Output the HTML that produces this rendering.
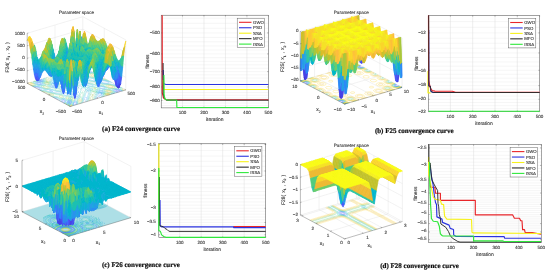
<!DOCTYPE html><html><head><meta charset="utf-8"><style>html,body{margin:0;padding:0;background:#fff}svg{display:block}text{stroke:#3a3a3a;stroke-width:.12px}.p0{fill:#3e26a8;stroke:#3e26a8}.p1{fill:#422ec0;stroke:#422ec0}.p2{fill:#4537d6;stroke:#4537d6}.p3{fill:#4742e6;stroke:#4742e6}.p4{fill:#484df1;stroke:#484df1}.p5{fill:#4759f8;stroke:#4759f8}.p6{fill:#4464fd;stroke:#4464fd}.p7{fill:#3d71ff;stroke:#3d71ff}.p8{fill:#317dfc;stroke:#317dfc}.p9{fill:#2d88f6;stroke:#2d88f6}.p10{fill:#2a93ed;stroke:#2a93ed}.p11{fill:#259de7;stroke:#259de7}.p12{fill:#1ea6e1;stroke:#1ea6e1}.p13{fill:#15afd9;stroke:#15afd9}.p14{fill:#05b6cd;stroke:#05b6cd}.p15{fill:#06bcc0;stroke:#06bcc0}.p16{fill:#1ec0b2;stroke:#1ec0b2}.p17{fill:#2fc5a3;stroke:#2fc5a3}.p18{fill:#3cc992;stroke:#3cc992}.p19{fill:#52cc7e;stroke:#52cc7e}.p20{fill:#6dcd68;stroke:#6dcd68}.p21{fill:#8bcb51;stroke:#8bcb51}.p22{fill:#a7c73c;stroke:#a7c73c}.p23{fill:#c2c22c;stroke:#c2c22c}.p24{fill:#dabd28;stroke:#dabd28}.p25{fill:#eeba34;stroke:#eeba34}.p26{fill:#fdbd3d;stroke:#fdbd3d}.p27{fill:#fec934;stroke:#fec934}.p28{fill:#fad52d;stroke:#fad52d}.p29{fill:#f5e227;stroke:#f5e227}.p30{fill:#f5ef20;stroke:#f5ef20}.p31{fill:#f9fb15;stroke:#f9fb15}</style></head><body><svg width="550" height="275" viewBox="0 0 550 275" font-family="Liberation Sans, sans-serif" text-rendering="geometricPrecision"><defs><filter id="bl" x="0" y="0" width="550" height="275" filterUnits="userSpaceOnUse"><feGaussianBlur stdDeviation="0.4"/></filter></defs><rect width="550" height="275" fill="#fff"/><g filter="url(#bl)"><g>
<path d="M27.2 83.3L82.8 66.7M82.8 66.7L125.8 89.9M82.8 66.7L82.8 16.7M27.2 33.3L82.8 16.7M82.8 16.7L125.8 39.9M125.8 89.9L125.8 39.9M98 98.2L55 75M55 75L55 25M48.7 94.9L104.3 78.3M104.3 78.3L104.3 28.3M27.2 70.8L82.8 54.2M82.8 54.2L125.8 77.4M27.2 58.3L82.8 41.7M82.8 41.7L125.8 64.9M27.2 45.8L82.8 29.2M82.8 29.2L125.8 52.4" stroke="#dedede" stroke-width="0.4" fill="none"/>
<g><path fill="none" stroke="#4743e7" stroke-width="0.35" opacity="0.8" d="M118.8 91.7l-1.1-.1-1.1-.4-.8-.5 1.1-.5 1.1 .2 .8 .2 1 .4-1 .7M74.9 103.9l0 0M90.4 70.8l-.9 .5-.8-.2-.5-.6 .2-.8 0 0M82.8 70l-.6-.4 0-.9 .5-.7 .9 .3-.2 1.1-.5 .5-.1 .1M79.4 69.5l0 0M79.7 69.2l0 0M79.9 68.9l0 0M80.1 68.5l0 0M80.2 68.1l0 0M77.4 68.3l-.7 .7-.4-.4M80.3 67.5l-.4 .1"/><path fill="none" stroke="#4367fd" stroke-width="0.35" opacity="0.8" d="M74.4 105l-.6-.7 .1-.9 .3-.8 .8-.5 .7 .2 .3 .7-.1 1-.5 .6-1 .4M118.4 92.1l-.9-.2-1.1-.3-1-.4-.7-.5 .6-.9 1.2 0 1 .1 1.4 .3 1.1 .3 .9 .5 .3 .3M70.1 103.7l-.4-.7 .2-.7 .4-.8 .5 .5-.2 .8-.5 .8 0 .1M67.7 103.3l0 0M68 103l-.4-.7 .2-.8 .7-.3-.1 1.1-.4 .7M119.4 86.5l-.7-.2-1.1-.4-1-.5-.8-.5-.4-.5 0-.1M68.5 100.9l0 0M63.7 102.1l-1-.2-.3-.6 .2-.8 .9-.4 .8 .2 .2 .8-.4 .7-.4 .3M55.8 98.7l.6 .4M91.2 71.2l-.8 .5-.8 .2-1-.1-.8-.5-.3-.6 .1-1 .2-.3M74.5 75.7l0 0M34.8 87.4l1-.2 1.1 .1 1.4 .3 1 .4 .6 .5-.4 .5-1.4 0-.3 0M74.6 75.3l0 0M40.1 84.2l-1.1-.1-1.2-.4-.9-.4 .5-.6 .9 .1 1 .1 1.1 .4 .7 .5-1 .4M67.7 74.8l-.4-.6 .3-.8 1 .1 0 .9-.9 .4M41.6 81.3l-1.4-.1-1.4-.3-.8-.5 1.1 .1 1.5 .3 1 .4 0 .1M79.4 70l0 0M83.7 67.2l.3 .9 0 1.1-.4 .7-.7 .6-.9 0-.2-1 .2-.9 .3-.7 .6-.7 .7-.1M40.4 79.3l1.2 .4-.9 .3-.8-.1-.6-.2M77.8 68.2l-.4 .7-.6 .6-.9-.4 0-.3M80.6 67.4l-.2 .8-.2 .7-.5 .8-.4-.5 .2-.8 .3-.8"/><path fill="none" stroke="#2d8cf3" stroke-width="0.35" opacity="0.8" d="M73.8 105.4l-.3-.6-.2-.8 .2-.9 .3-.7 .6-.6 .9-.5 .9 .5 .3 .7 .1 .9-.3 .8-.4 .6M96.6 98.6l.2-1 .5-.6 1-.5 .9 0 .7 .4 .5 .6M112.6 93.8l.8-.3 .5 0M117.7 92.3l-1.3-.3-1.1-.4-.9-.5-.7-.5-.5-.5 .7-.5 1.5-.2 1.1 0 1 .1 1 .2 1 .3 1 .4 1 .4 .4 .3M85.4 100.2l-.8-.2-.4-.6-.1-.8 .3-.8 .7-.5 .9-.2 .6 .5 .2 1.1-.3 .7-.7 .6-.4 .2M100 95.6l-1-.2-.8-.5-.5-.6 .8-.5 1 .1 1.2 .3 1 .4-.3 .8-1.4 .2M69.8 104.4l-.4-.6 .2-.9 .2-.8 .3-.8 .6-.6 .4 .7 0 .9-.3 .8-.4 .7-.6 .6M67.7 103.8l-.5-.7 0-1 .3-.8 .5-.6 .8-.3 .1 1.1-.2 .8-.4 .8-.6 .7M102.2 93.5l-1.1-.1-.9-.2-1.2-.3-.5-.5 1.1 .1 1 .2 1.2 .4 .4 .4M120.4 87l-1.2-.2-1.2-.3-.8-.3-.8-.3-.9-.5-.8-.5-.8-.4-.6-.6 .6-.4M102.1 92l-1.1-.1-1.3-.3-1-.5 .7-.5 .9 0 .9 .2 1.2 .3 .8 .5-1.1 .4M77 97.6l-.6-.5 .4-1 .9 .2-.3 1.1-.4 .2M62 102.1l-.3-.6-.1-1 .6-.6 1-.4 1.2 .1 .5 .5 .2 .7-.1 .8-.7 .8-.9 .4M103.6 88.6l-.9 0-1-.1-1.2-.4-.8-.5-.4-.6 .7-.3 1.5 0 .8 .1 1 .3 .8 .3 .8 .5-.5 .7-.8 0M72.6 95.7l0 0M70.3 95.4l0 0M70.3 94.9l0 0M108.9 83.1l-1.5 .2-1.5-.1-.9-.1-1.5-.2-1.2-.4-1.1-.4-1-.4-1.1-.4-1-.3-1-.2-1.5-.3-1.3-.3-.6-.5 .7-.3 1.1 .1 .8 .1 1.3 .3 1.3 .4 1.7 .2 .9 .1 .9 .1 .8 .1 .9 .1 1.1 .2 .9 .3 .9 .2 .8 .3 .9 .5 .5 .4-.3 .3M54.1 97.8l1 .1 1 .2 1 .4 .7 .5 .3 .7-.1 .2M52.8 91.5l-1.4 .1-.8-.2-1.2-.3 .5-.7 1 .1 .9 .2 .9 .5 .1 .3M87.6 79.1l-.9-.1-.9-.2-.5-.5 .2-.8 .8-.3 1 .1 .8 .4 .6 .6-.4 .7-.7 .1M53.5 86.8l-1.1-.1-.8-.5 1.4-.2 1 .5-.5 .3M80.2 77.9l-.6-.3-.1-.9 .5-.8 .7-.3 .6 .5 0 1-.6 .6-.5 .2M54.5 84l-1.2-.1-.6-.4 .9 .1 .8 .2 .1 .2M77.2 77.2l0 0M77.5 76.9l-.5-.5 .3-.9 .6 .6-.4 .8M54.9 82.9l-1.2-.2 .6-.3 .6 .5M74.1 76.9l-.5-.6 0-1 .5-.7 .7-.6 .6 .7-.1 1-.4 .7-.8 .5M92 71.7l-1 .4-1.2 .3-1.5-.1-.7-.5-.5-.6-.2-.7 .2-1 .3-.3M77.9 75.2l0 0M33.8 86.9l1.3-.2 1 0 1.1 .1 1.4 .3 1 .4 .9 .5 .8 .5 .5 .5-.5 .5-1.5 .1-.9 0M41.6 84.6l-1.6 0-1-.1-.7-.2-1.2-.4-.9-.4-.7-.5 .4-.6 1.6-.1 1 .1 .8 .2 1.3 .3 .9 .4 .8 .5-.7 .8M55 80.6l-.8-.3 .3-.9 .7-.5 .6 .5-.1 1.1-.7 .1M67.9 75.9l-.9-.2-.4-.5-.2-.7 .2-1.1 .5-.6 .9-.6 .9 .1 .4 .6 .3 1-.2 .8-.6 .7-.9 .5M79.4 70.4l0 0M84.2 67.5l.2 .9 0 1-.5 .7-.6 .6-.8 .5-.7-.2-.3-.7 0-1 .2-.8 .4-.8 .5-.6 .3-.3M37.8 80.1l.9 .1 .8 .2 1.4 .3 1 .3 1 .5-1.5 .1-1-.1-1.4-.3-1.2-.4-.9-.4M41.1 79.1l1 .5 .9 .4-1.1 .3-.9 0-.7-.2-1.3-.3M58.7 73.9l-.5 .5-.6 .5-.3 .9-.1 .9-.2 .8-.6 .6-.9 .4-.3-.6-.2-.8 .3-1 .4-.7 .2-.7M78.1 68.1l-.4 .8-.6 .8-.8 .5-.6-.7-.2-.6M80.7 67.3l-.2 1-.2 .8-.4 .6-.8 .3 .1-1 .2-.9 .2-.4"/><path fill="none" stroke="#1caadf" stroke-width="0.35" opacity="0.8" d="M73.3 105.6l-.2-.8-.1-.9 .1-1 .3-.6 .4-.5 .6-.5 .7-.5 .7-.3 .6 .5 .3 .6 .2 .7 .2 .9-.2 .9-.3 .5M81.8 103l.6-.5 .6-.5 .5-.9-.1-1-.2-1 0-1 .3-.6 .4-.5 .5-.5 .4-.5 .4-.8 .1-1 .3-.6 .5-.9 0-.9 .7-.6 .9 .1 1 .3 .6 .5-.4 .7-.7 .6 .1 .9-.2 .9-.3 .8-.1 .8 0 1 0 .9-.3 .8-.5 .7-.5 .6-.6 .6-.1 .5M95.4 99l.2-.7 .2-.8 .4-.8 .6-.5 .5-.7-.4-.9-.3-.7 1.2-.5 1.2-.2-1-.4-.9-.5 1-.1 1 .1 1.2 .1 .8 .2 1.1 .4 1 .4-1 .3-1.2 0 .8 .5 .8 .5 .5 .6-1 .5-.8 .3-.2 .8 .2 .3M112 94l-.4-.6 1.3-.2 1.7 0 .3 0M116.8 92.6l-1.1-.4-.9-.5-.9-.4-.8-.5-.7-.5-.5-.5 .7-.5 1.3-.2 1.4 0 1.2 0 1 0 .7 .2 1.3 .3 1.1 .4 .9 .5 .9 .4M69.8 104.9l-.6-.3 .1-.9 .1-.9 .2-.8 .4-.8 .4-.6 .8-.5 .2 1 .1 1-.3 .8-.3 .7-.5 .7-.5 .5-.1 .1M67.4 104.5l0 0M67.7 104.2l-.7-.4-.1-1 0-.9 .3-.8 .5-.6 .7-.6 .8 .4-.1 .9-.2 .9-.3 .7-.3 .7-.6 .7M121.2 87.4l-.9 0-1.2-.2-1.2-.3-.9-.4-.7-.3-.9-.4-1-.4-.9-.5-1-.4-1.2-.3-.8-.2-.9-.1-1 0-1-.1-.9 0-1-.1-1-.1-.9-.1-1.3-.3-1.1-.4-1.2-.4-1-.3-.8-.2-.8-.2-1.3-.3-.8-.1-1.4-.3-1.3-.4-1.1-.3-1.3-.4-.9-.1-1 0-1.2 0-.9-.1-1.2-.4-.7-.5-.5-.6 .2-.9 .7-.4 .7-.3 1.5-.1 .8 .2 .8 .5 .8 .5 .9 .4 1.2 .3 1 .1 .9 .1 1 0 1.1 .1 .8 .2 1.4 .3 1.3 .3 .9 .2 1.2 .2 .8 .2 .8 .1 .8 .1 .8 .1 1.4 .3 .8 .2 1 .4 1.2 .3 1.1 .4 1.2 .4 1.3 .3M103.5 92.3l-1.5 0-1 0-.8-.2-1.1-.4-.8-.3-.6-.3-.5-.6 .7-.3 1.6 0 1 0 .8 .2 .7 .2 1 .4 .9 .4 .7 .5-1.1 .4M76.6 98.8l-.6-.5-.3-.6-.2-.9 .3-.8 .5-.6 .9-.5 1 .2 .3 .6 .2 .9-.3 .8-.5 .7-.8 .5-.5 .2M104.4 89.1l-1.3 0-1-.1-1.3-.3-1.1-.4-.8-.4-.9-.5-.6-.5 .8-.7 1.6-.1 .9 0 1.1 .1 .8 .2 1.2 .3 1 .5 .9 .4 .8 .5-.6 .8-1.5 .2M60.9 101.5l-.5-.7-.6-.4-.6 .1M71.8 97.1l-.1-1 .2-.8 .3-.6 .9-.2 .2 1-.3 .8-.6 .7-.6 .1M70 96.6l-.6-.7 0-1 .4-.5 .6-.4 .6 .4-.1 .8-.3 .7-.6 .7M89.5 90.8l-1 0-1-.3-.9-.3 1.2-.1 .8 .1 1.1 .4-.2 .2M90.3 89.4l-1.3 0-.8-.2-1-.4 .7-.7 1 .1 .8 .2 .9 .5-.3 .5M78.1 92.6l.2-.9 .7 .3-.9 .6M93.4 85.9l-1.4 .2-.9 0-1.2-.2-.8-.2-1-.4-.9-.4-1-.5-1.2-.2-1.1-.2-.7-.3 1.3-.2 1.2 .4 1.6 .2 1 0 1 .1 .8 .1 .8 .2 1.2 .3 .9 .5 .4 .6 0 0M53 97.2l.9 0 1 .1 .9 .2 1.3 .3 .8 .5 .7 .5 .6 .5 .7 .5 1.1-.1 1-.4 1.1-.4 1.2 0 .8 .5 .3 .6 .3 .6-.2 1-.5 .7-.7 .5-.4 .3M63.3 88.8l-.9-.2 .8-.3 .6 .3-.5 .2M78.8 83.2l-.9-.3 .3-1 1 .3 .1 .8-.5 .2M64.3 86.1l-.6-.3 .6 .3M75.3 82.7l0 0M75.7 82.4l-.4-.5 .6-.5-.2 1M64.7 84.9l-.7-.3 .7 .3M54.8 87.5l-1.6-.1-1.4-.3-.9-.3-.9-.5-.4-.7 1.3-.3 .9 0 1 .1 1.3 .3 1 .4 .8 .5-.3 .8-.8 .1M72.7 82.2l-.8-.3 0-1 .6-.6 1 .4-.1 1-.7 .5M75.9 81.1l0 0M79.7 78.5l-.6-.6-.1-1 .3-.9 .6-.6 .5-.4 .9 .1 .4 .6 .3 .6 .2 .8-.4 .7-.9 .5-1.2 .2M56.2 84.5l-1.7 0-1.4-.3-1.1-.4-.8-.4 .7-.3 1 .1 .8 .1 .8 .1 1.1 .4 .8 .5-.2 .2M76.9 78l0 0M77.3 77.7l-.6-.3 .1-.9 .2-.8 .4-.7 .8-.4 0 1-.2 .8-.4 .9-.3 .4M73.8 77.7l-.5-.6-.3-.8 0-.9 .4-.7 .5-.7 .7-.5 .7-.2 .4 .6 .1 1-.1 1-.4 .7-.6 .7-.9 .4M93 72.2l-1.3 .2-1.1 .3-1.5 .2-1.1-.2-.7-.5-.5-.5-.4-.7-.3-1 .5-.8 .3-.3M42.3 84.9l-1.5 .1-1 0-.9-.1-.7-.2-1.1-.4-1-.4-.9-.5-.7-.5 .9-.8 1.5-.1 .9 0 .9 .1 1.3 .2 1.1 .4 1 .5 .8 .5 .7 .5-.6 .6-.7 .1M78.1 74.4l0 0M33 86.4l1.5-.1 1.8 0 1 .1 .8 .1 1.2 .4 1 .4 .9 .5 .9 .4 .9 .5 .9 .4 1.1 .4 .8 .1 .9 0 .9 0 1.7 0 1 .1 .9 .1 1.3 .4 .9 .2 .8 .3 1.1 .4 1.2 .4 .8 .1 1.3 .3 .9 .1 1.2 .4 .9 .4 .9 .5 1.2-.1 1.5-.1 1 .1 .8 .4 .4 .7-.4 .7-.8 .4-.9 .1-.7-.3-.7-.5-.6-.6-.7-.5-1 0-1.3 .1-.9 0-1-.1-1-.2-1.3-.3-.7-.2-1.4-.2-.9-.2-.9-.1-1.5-.2-.7-.2-1.2-.3-1.2-.4-1-.5-1-.4-1.3-.3-1.1 0-1.3 0-1.2 0-.9 0M79 71.2l0 0M84.7 67.7l.2 .9 0 1.1-.6 .6-.7 .6-.6 .4-1.3 .4-.3-.6-.2-1 0-1 .3-.8 .3-.6 .6-.7 .2-.2M38.2 80l.3-.1M44.7 78.1l-.6 .4-1.1 .3 .1 .8 .8 .5-.4 .5-1.2 0 .6 .5 1 .5-1.1 .3-.9 0-.9 0-1-.1-1-.2-1-.4-1-.5-.5-.2M60.1 73.5l-.5 .5-.7 .8-.3 .7-.2 .9-.1 .9-.2 .7-.4 .8-.3 .8-.1 .8-.4 .7-1 .5 .3 1 .4 .6-1 .1-1-.1-1-.2-.7-.3-.9-.3 .9-.6 .8-.3-.4-.6-.4-.5-.3-.6 .4-.8 .5-.6 .3-.8 .1-.9 .2-.8 .3-.7M69.2 70.8l.3 .8 .3 .8 .3 1 .1 .9-.3 .8-.6 .6-.7 .6-.7 .5-.7 .6 .2 1 .2 .8 0 1.1-.6 .7-.7 .5-.6 .7-.3 .8-.7-.4 .2-.8-.2-1.1-.1-1 .3-.7 .6-.6 .7-.6 .3-.8-.3-.7-.3-.9-.2-.7 0-.9 .3-.7 .7-.7 .6-.5 .8-.6 .4-.3M78.4 68l-.3 .8-.5 .7-.5 .6-.6 .6-1-.4-.3-1 0-.3M80.9 67.3l-.2 1.1-.3 .7-.4 .8-.4 .6-.7 .3 0-1.1 .1-.8 .2-.8 .2-.4"/><path fill="none" stroke="#12beb9" stroke-width="0.35" opacity="0.8" d="M72.9 105.7l-.2-1-.2-1.1 .1-.9 .5-.7 .5-.5 .5-.5 .5-.5 .4-.5 .4-.8-.2-1-.2-.7-.2-1 .3-.8 .5-.5 .5-.4 .6-.7 .2-.7-.2-1.1 0-.9 .5-.7 .4-.7 .2-.8-.2-1.1 1.4-.2-.7-.7-1.4-.4-.8-.1-1.5-.2-.8 .2-.2-1 .6-.8 .6-.3 .4 .6 1 .3 1.5 0 .8 .3 1.1 .2 .8 .1 .8 .2 1.1 .4 .9 .4 .9 .3 1 .1 1.6 0 .9-.1 .9 .1 1.1 .2 .9 .4 1 .5 .8 .5 .3 .6-1.4 .2-1.4 .1 .9 .6 .3 .6-1.2 .2 .7 .7-.3 1-.6 .6-.2 .8-.1 .9-.4 .7-.2 .8-.1 .9-.1 .9-.2 .8-.5 .7-.5 .6-.5 .7-.1 .1M80.7 103.4l.6-.6 .6-.5 .6-.8 .2-.8-.1-1-.1-.8 0-1.1 .4-.8 .5-.6 .5-.7 .2-.8 .1-.9 .2-.8 .4-.7-.1-1 .5-.6 .6-.6-.9-.5 1-.3 .8-.2-.8-.5-.8-.4-.7-.4-1.2-.2-.9 .1-1.5 .1 .7 .7-.7 .7 .2 .9-.3 .8-.2 .8-.2 .8-.6 .8-.4 .6-.1 .9 .2 .8 0 1.1-.4 .8-.5 .6-.6 .5-.5 .5-.4 .6 0 1 .3 1 .3 1-.1 1-.2 .5M94.4 99.3l.3-.8 .2-.8 .2-.8 .6-.9 .5-.6-.3-.9-.3-.6 .9-.7 .8-.2-.7-.5-.8-.5 .9-.1 .9 0-.4-.7-.9-.4-.7-.5 .8-.4 1.6-.1 1.5-.1 .7-.4-.8-.5-.8-.5-.9-.5-.9-.4-1.1-.4-1.6-.2-1-.1-1.3 0-1.2 0-.9-.1-1.3-.3-1-.4-.7-.3-1-.3-1.5-.3-1.5-.2-.7-.2-1.2-.4-1.2-.1-1.7 0-.7-.4-.5-.7-.9 .2-.5 .4-.5-.4-.2-.7-.8-.1-.5 .5-.5 .5-.2 .7 .2 .7-.3 1-.3 .6-.4 .5 .7 .5 1.1 .1 .5-.5 1.1 .3 .9 .5-.5 .5-.5 .8-.1 .8 .1 1.1-.4 .7-.6 .6-1 .4 0-1-.3-.7-.8 .5-.9 .3-.4-.6-.7-.5-1-.1-1.3 .1-.8-.2-1-.3-.8-.2-1.6-.3-1.5-.2-1.1-.4-1.1-.4-.6-.3-1.1-.3-.9-.1-1.2 0-1 0-.9 0-1 0-1-.2-1.1-.4-.9-.5-.9-.4-.9-.5-.7-.5 1-.4 1.5-.2 1.5-.1-.2-.8-.8-.5-.8-.5 .7-.2 .9 .1-.3-.6-.8-.5 .8-.2 1-.3-.2-1-.3-.6 .3-.8 .6-.6 .3-.8 .2-.8 .2-.8 .1-.4M111.6 94.1l-.8-.4 .9-.7 1.5-.1 1.4-.2-.3-.8-.8-.5-.9-.4-.8-.5-.9-.5-1-.4-1.5-.3-.9 0-1.6 .1-1.5 .1-1.5 .1-.6 .5 .8 .5 .8 .4 .9 .5 .8 .5-.7 .6-1.5 0-.8 .1 .9 .6 1.1 .4-.7 .2-.9 0 .5 .9 .6 .5-.8 .6-1 .4-.2 .7M69.2 106l.1 0M66.9 104.7l-.2-.8-.2-1-.4-.6-.7 .2-.7 .6-.4 .2M121.9 87.8l-1.2 0-1.1 0-.8-.1-1.2-.4-.9-.4-1-.5-.9-.4-1-.5-1-.4-1.2-.3-.9-.2-1.2-.2-1-.1-.9 0-1-.1-.9 0-1-.1-1.2-.2-1.3-.3-1.1-.4-1.1-.4-1.2-.3-1-.3-1.1-.2-1.5-.2-.8-.2-1.4-.3-1.3-.3-1.1-.3-1-.2-.9-.1-1 0-1-.1-.8-.1-1.1-.4-.8-.5-.7-.5-1.1-.3-1.1 .3-1 .4-.8 .1-.4-.6-.3-.7-.5-.8-.6 .6-.5 .7-.6-.3 0-.9-.4-.8-.6 .6-.5 .6-.5 .5-.4 .5-.1 .9 .2 .9 .2 1 .7-.2 .5-.5 .4-.6 .6 .6 .5 1 .8-.6 .9-.4 .7 .2 .6 .6 .7 .5 .9 .3 .9 0 1.8 .1 1.4 .3 1.2 .3 .7 .2 1.3 .2 1 .2 1.5 .3 1.2 .3 1.1 .4 1.1 .4 1.1 .3 1 .2 1 0 1 0 .9 .1 .9 0 1.1 .1 1 .2 1.2 .3 1 .4 .9 .5 .9 .4 .9 .5 1 .4 1.2 .4 1.1 0 1.4-.1 1 0 1.6-.1 1.6 0 1 0 .9 .1 1.2 .4 .9 .4 .9 .5 .9 .5 .4 .2M68.7 103l0 0M68.9 102.6l0 0M69.2 101.8l0 0M69.3 101.4l0 0M71.7 98.5l0 0M69.2 99l0 0M69.5 97.7l0 0M71 95.8l0 0M71.3 95l0 0M73.5 92.9l0 0M51.7 96.5l.8 .1 1 .1 1 .1 .9 .1 1.4 .3 1 .4 .9 .5 .8 .4 .9 .4 1.5-.1 1.1-.4 1.2-.2 .9 .4 .5 .6 .3 .6 .4 .7 1.1-.2 .6-.6 .7-.5 .7 .3-.1 .9 .4 .7 .5-.6 .4-.6 .6-.8 .4 .7 .1 .8 .1 1.1 0 1-.4 .7-.6 .7-.4 .6-.6 .6-.8 .5 .1-1.1 0-1.1-.9 .2-.5 .9-.3 .3M74.8 84.3l0 0M74.9 83.9l0 0M74.3 81.9l0 0M98.1 74.9l-1-.2-.9-.5-.9-.4-.9-.5-.7-.3-1.2-.2-1.4 .2-1.3 .3-1.5 .1-1-.5-.5-.5-.5-.6-.4-.6-.7-.5-.8 .1-.8 .5-.7 .6-.6 .3-.7 .3-.4-.7-.2-.9-.1-1-.9 .4-.4 .6-.9 .3 .1-1.1-.1-1-.9 .5-.5 .7-.5 .6-.5 .6-.4 .8 0 1 .2 .8 .1 1 1-.2 .5-.7 .7-.4 .1 1 .2 1 .8-.5 .6-.6 .7-.6 .7 .2 .4 .6 .3 .6 .4 .6 1 .5 .8-.2 1.1-.3 1.3-.3 1.1 .2 .8 .5 .8 .4 .9 .5 1.2 .4 1.7 .2 1 0 .9 .1 .9 .1 1.4 .3 1.3 .4 1 .2 1 .3 1.5 .2 1.5 .3 1.3 .2 .9 .2 1.2 .4 1.2 .3 1.2 .4 1.1 .4M76.2 79.9l0 0M76.2 79.5l0 0M76.4 79.1l0 0M76.7 78.8l0 0M76.1 76.3l0 0M76.3 75.9l0 0M78.4 73.6l0 0M78.3 73.1l0 0M78.5 72.3l0 0M32.3 86.1l1.6-.1 1.4-.1 1 0 1.6 0 1.2 .3 1 .5 .9 .4 .8 .5 1 .4 1 .4 1.2 .4 1.4 .2 1 .1 .9 0 .9 0 .9 .1 1.1 0 1.2 .3 1.2 .3 1 .4 1.2 .4 1 .3 1.1 .2 1.4 .2 .9 .2 1.3 .3 1 .3 1 .2 1 .1 1.1 0 .9 .1 .9 .4 .7 .5 .7 .6 .9-.3 .8-.5 .8 .4 .1 1 .9-.5 .4-.6 .8-.2 .2 1 .2 1-.1 .8-.7 .8-.6 .6-.5 .5-.6-.5 0-1.1-1 .3-.6 .7-.6-.3-.3-1-.5-.6-1 .1-1 .5-1.4 .1-.7-.3-.6-.4-.7-.5-1.1-.4-.8-.2-1 0-1.1-.1-.9-.1-1.4-.3-1.2-.3-1-.2-1.1-.3-1.5-.2-.8-.2-1.4-.2-.7-.2-1.2-.4-.9-.3-.8-.3-1.2-.3-1.4-.3-.9-.1-1.1 0-.9-.1M78.7 72l0 0M79 71.6l0 0M85.2 68l.7 .6 .4 0M78.5 68.7l0 0M78.7 68.3l0 0M45.7 77.8l-.5 .8-1 .4-.5 .4 .6 .6 .8 .5-.9 .3-.9 0 .9 .7 .9 .4-.7 .2-1.2 .1-1.3 .2 .7 .6 .8 .5 .9 .5 .8 .4 .6 .5-1.2 .3-1.5 .1-.9 0-1.5 .1-1.3 .1-.9-.1-1-.4-.9-.5-.9-.5-.9-.4-.8-.5-.8-.5 .3-.6 1-.1 1.2-.1 1.5-.2-.5-.7-.5-.3M61.1 73.2l-.5 .6-.5 .7-.5 .6-.3 .8-.1 .9-.1 .9-.2 .8-.3 .8-.2 .8-.1 .9-.6 .6-.6 .6 .4 .7 .4 .6-1.5 .1 .6 .5 .9 .5-1 .3-1.5 .1 .5 .9 .8 .5 .9 .4 .9 .3 1.2 .2 1.2 0 1.3 0 1.2 0 1.2 .3 .9 .5 1.1 .4 1.6 .2 .8 .1 1.1 .4 .8 .2 1-.2 .7 .4 .3 .7 .8-.5 .4-.7-.3-1-.8 .3-.8-.2-.9-.2-1.2-.2-1.1-.4-.6-.5 1.5-.2-.1-.9 .3-.8 .3-.8 .5-.6 .2-.8-.2-1 .1-1 .5-.6 .6-.6 .6-.5 .2-.8-.2-1-.2-.8-.1-.9 .3-.8 .4-.5 .5-.5 .6-.6 .5-.5 .5-.8 0-.9-.1-.9-.2-1M70.5 70.4l-.3 .7 0 .9 .3 .9 .2 .8 .1 .9-.4 .8-.5 .6-.6 .5-.5 .5-.4 .6-.1 .9 .2 .8 .1 1-.4 .9-.6 .6-.3 .7-.1 .9-.3 .7 0 1-.9 .5 .7 .7 .6 .4-1.4 .2-.9 0-.9 0-1-.3-.8-.4-.9-.5 .4-.5 .9-.3-.7-.5 .7-.6 .3-.7 .1-1 .3-.7 .2-.8 .1-.9 .2-.8 .5-.6 .6-.7 .3-.6 0-1.1-.2-1-.1-1 .4-.8 .5-.6 .6-.6 .5-.5M78.8 67.9l.2-.1M81 67.2l.3 .7 .5-.5 .4-.5"/><path fill="none" stroke="#48cb86" stroke-width="0.35" opacity="0.8" d="M72.6 105.8l-.2-.9-.3-.8-1 .1-.6 .6-.5 .7-.4 .7M79.2 103.8l.7-.5 .7-.5 .6-.6 .5-.6 .4-.8-.1-1-.2-.7-.3-.7-.3-.9 .5-.6 .5-.5 .5-.5 .4-.6 0-.9-.2-1.1 .1-.9-.4-.7-.5 .7-.4 .7-.6 .4-.5 .4-.4 .6-.1 1.1 .3 .7 .2 .9-.5 .6-.8 .6-.7 .5-.6 .6-.4 .8 .1 .9 .2 .8 .2 .7 .3 .6 .1 .7M93.3 99.6l.4-.8 .2-.8 .1-1 .3-.8 .6-.6 .2-.8-.4-.7-.5-.5 .6-.6 1.1-.1-.7-.7-1-.4-.8-.2-.9-.1-.9 0 .3 .9-.4 .9-.8 .5-.3 .8-.1 .8-.3 .8-.4 .7-.2 .9 0 .9-.2 .7-.5 .8-.6 .6-.4 .5M109.1 94.9l.3-.1M111.3 94.2l-1-.4-1-.4-.9-.3-1.1-.2-1.1 0-1.2 0-1.2 .1 .6 .4 1 .4 .9 .5-.8-.1-1.1-.1-.9 .1 .8 .7 .8 .5-.7 .7-1 .3-.3 .3M68.8 105.7l.1-.8 0-.9-.7 .2-.3 .6-.2 .3M111.6 92.7l1.1-.1 .9-.4-.7-.6-.8-.5-.9-.4-1-.5-1.3-.3-.9-.1-1.1 0-1.1 0-1.4 .2 .1 .8 .8 .5 .9 .5 .9 .4 1.2 .4 .8 .1 1.1 0 1 0 .4 0M122.6 88.2l-1.1 .1-.9 .2 .3 .7 .7 .5 .8 .5 .9 .5M66.5 104.5l-.1-.8-.4-.6-1 .2-.4 .2M68.4 103.8l0 0M72.5 101.5l.8-.3 .5-.5 .5-.5 .4-.6 .1-.9-.2-.7-.3-.7-.9 0-.5 .4-.5 .6-.4 .8 0 .9 .1 .9 .4 .6M116 88.1l.7-.3-.8-.7-.8-.5-.9-.4-1-.5-1-.4-1.4-.3-1.4-.2-1-.1-.9 0-.9 0-1.7 0-1.4 0-.8-.2-1.1-.4-.9-.4-.7-.2-.9-.4-1.2-.3-.8-.2-1.6-.2-.8-.2-.8-.1-.9-.1-1.3-.3-1.3-.3-1.5-.3-1.1 0-1.5 .1-1.1-.1-.7-.5-.7-.5-.7-.5-1.2-.3-1 .3-.5 .7 .2 .7 .8 .5 .7 .2 1.5-.1 1.5-.1 1.1 .4 .9 .4 1.2 .4 1.4 .3 .8 .1 .8 .2 1.2 .3 1.1 .4 1.1 .4 1.2 .4 .9 .2 1.1 .1 .9 0 .9 0 1.1 0 1.2 0 .8 .1 1.1 .4 .9 .5 .9 .4 .9 .5 .9 .4 1 .5 1.2 .3 .7 .2 1 0 1.2 0 .9 0 1.5-.1 1-.2M69.5 100.6l0 0M69.6 100.2l.7-.2 .4-.7 .3-.8 .1-.8-.1-.8-.7 .4-.3 .6-.3 .8-.1 .9 0 .6M95.9 91.6l.8-.1-.9-.6-1.1-.4-.9-.2-1.1-.1-1.4 .2 .9 .5 1.1 .4 .9 .2 1.1 .1 .6 0M67 99.9l.7-.3 .6-.7 .4-.6 .1-.9-.3-.8-.9-.4-1 .4-.8 .5-.2 .7 .2 .7 .3 .7 .9 .7M97.6 89.3l.6-.3-.8-.7-.9-.5-1.1-.3-.8-.2-1 0-1.1 0-.9 .5 .7 .6 .9 .4 1 .4 .8 .2 1 0 1.2 0 .4-.1M74.9 94.6l.8-.5 .3-.8-.3-.7-.9 .1-.5 .6 .1 1 .5 .3M71.7 93.4l0 0M83.1 90l0 0M71.8 93.1l.7-.3-.7 .3M84.3 89l0 0M72.1 92.2l0 0M68.9 92.8l.8-.1 .3-.6-.6-.5-1 .3 .5 .9M85 86.6l.8-.1-.9-.5-.8 .1 .9 .5M64.4 91.3l-.6-.5-.8-.2-1-.1-1-.4-.9-.4-.9-.5-1.2-.3-.9-.2-1 0-1.4 .1 .5 .9 1 .4 .7 .2 .8 .1 .8 .1 1 .1 1 .1 .9 0 1.3 .4 1 .2 .7 0M50 95.6l1.4 .3 1.2 .2 1.1 .1 .9 0 .9 .1 1.3 .2 1 .4 .8 .4 .8 .5 1.1 .4 1.1 .1 .8-.2 .9-.4 .5-.5-.3-1-.6-.5-.9-.5-.9-.2-1 0-.9 0-.9-.1-.9-.1-1.3-.3-1-.3-.8-.3-.9-.2-1.1-.2-.8-.2-1.5-.2-1.3-.4-1.2-.3-1.1-.4-1.1-.4-1.4-.3-1.4-.2-1-.1M99.4 75.7l-1.1-.2-.9-.2-1-.4-.9-.4-.9-.5-1-.4-1-.2-1.5 .1-1.2 .3-1.1 .4-1.1 0-.5-.5-.5-.6-.4-.6-.5-.6-.7-.5-1.1 .2-.8 .5-.6 .6-.4 .6 0 1 .3 .8 .5 .5 1.3 .3 1.1-.3 1.1-.4 1.1-.3 .6 .3 .6 .5 .7 .5 .8 .5 1 .4 .9 .3 1.1 .1 .9 0 1 .1 1.1 .1 .9 .2 1.3 .3 1 .3 .9 .3 .8 .1 1.3 .3 1.3 .2 .9 .2 .8 .2 1.2 .3 1.3 .3 .6 .2M59.4 86.7l1.5-.1-.4-.6-1-.5-.8-.1-.9-.1-.8 .3 .5 .5 1.2 .4 .7 .2M69 83.1l.8-.6-.7-.4-.3 .7 .2 .3M76.9 80.7l1.1-.3 .4-.7-.1-.9-.8-.5-.4 .7-.3 .8 .1 .9M49.5 88.5l.9-.1-.3-.8-.8-.5-.8-.4-1-.5-1.1-.3-.8-.2-.9 0-1 0-1.5 .1-1.1 .3 .5 .8 .9 .5 .9 .4 1.2 .4 1.4 .3 .9 .1 1.1 0 1.1 0 .4-.1M60.8 84.8l-.5-.6-1.4-.3-1.1 0 .8 .5 1.3 .3 .9 .1M74.7 80.3l.9-.3 .4-.7 .1-.8-.6-.8-.6 .6-.3 .7-.1 1 .2 .3M70 79.9l1.2-.3 .7-.6 .3-.8-.1-.9-.3-.8-1-.4-.7 .5-.6 .6-.4 .8 .1 .9 .4 .7 .4 .3M49.5 84.6l1.1-.3-.6-.6-.9-.5-1-.4-1.3-.3-1-.1-1.2 0-1.4 .2 .7 .8 .9 .4 1.1 .4 1.3 .3 1 .1 1.2 0 .1 0M79 75l.9-.6 .4-.5 .5-.8 .1-.8-.1-1-.4-1-.5 .4-.4 .6-.4 .8-.3 .8-.1 .8 0 1 .3 .3M76.6 74.7l.6-.3 .5-.7 .4-.7 .2-.8 .2-.8 .1-.9-.5-.7-.6 .6-.4 .5-.5 .8-.3 .8 0 1 .2 .9 .1 .3M31.6 85.7l.9 0 1.4-.1 .9-.1 1.1-.3-.4-.7-.8-.5-.9-.5-.8-.5-1-.4-1-.4M32.9 81.6l1.3 0 .9-.1 1.1-.3-.5-.5M46.5 77.5l.2 .7-.8 .7-1 .4 .3 .8 .8 .5 .6 .5-1 0-1-.1 .5 .6 1 .4 1.2 .3 .9 .1 .9 .1 1 .1-.4-.6-.9-.5 1.4-.2 1-.4-.3-.7-.4-.6 .3-.8 .6-.6 .5-.7 .2-.8 .2-.8 0-.1M62.1 72.9l-.3 .6-.6 .7-.5 .5-.5 .8-.2 .8 .1 1 0 .9-.2 .8-.3 .8 0 .9-.2 .9-.7 .5 .4 1 1.2 .4 .9 0 .5-.7-.1-1 .5-.6 .4-.8 .1-.8 .3-.8 .4-.5 .5-.5 .4-.5 .4-.8-.1-1-.2-.8-.1-1 .6-.9 .6-.5 .6-.6M71.2 70.2l-.4 .7-.1 .8 .2 1.1 .3 .7 .8 .7 .8-.3 .6-.4 .5-.6 .5-.5 .3-.7 .1-.8-.1-1.1-.2-.6M81.4 67.1l.4-.1"/><path fill="none" stroke="#9fc942" stroke-width="0.35" opacity="0.8" d="M72.3 105.9l-.3-1-.9-.2-.6 .6-.4 .5-.3 .5M91.9 100l.3-.7 .4-.8 .1-.8-.2-1.1-1-.1-.5 .6-.4 .8 0 .9-.3 .9-.6 .6-.6 .5-.1 .1M108.8 95l-.7-.2-1.4-.3-.8-.1-1.1 0 .4 .6 .9 .4 .5 .2M110.9 94.3l-1-.4-1.1-.4-.8-.1-1.2-.2-1-.1-.9 .1 .8 .5 1 .3 .8 .3 .8 .1 1.1 .2 .6 0M68.6 105.7l.1-.9-.8 .2-.1 .2M78.9 102.5l1-.1 .8-.5 .5-.6 .2-.9-.2-.8-.5-.6-1.1 0-.8 .5-.4 .6-.2 .8 .3 1 .4 .6M111.4 92.4l.9-.3-.3-.6-.9-.5-1-.4-1.3-.3-.8-.1-1.1 0-1.1 .1 0 .9 .9 .4 1.1 .4 .7 .2 1.2 .2 .9 0 .8 0M123.2 88.5l-.9 .3 .3 1 .7 .5 .4 .2M68.4 104.2l0 0M66.2 104.4l-.6-.9-.6 .2M92.1 95.6l.9-.1 .7-.6-.6-.6-1.1 .2 .1 1 0 .1M72.8 100.7l.7-.3 .5-.7 .3-.8-.3-.8-1 .1-.5 .7-.2 .8 .2 .7 .3 .3M112.7 88l.9 0 1.1-.3-.3-.9-.8-.5-1-.4-1.2-.4-1-.2-1.1-.1-1-.1-1.5 .1-.9 .5 .6 .6 .7 .5 .9 .4 1.1 .4 1.4 .3 .9 .1 1.2 0M69.8 99.8l0 0M94.3 92.5l-.8-.5 .8 .5M69.8 99.4l0 0M69.9 99l.8-.2-.5-.7-.3 .8 0 .1M67 99.2l.7-.2 .4-.5 .2-.8-1.1-.7-.6 .5-.2 .8 .5 .8 .1 .1M94 91.1l0 0M70.3 97.8l0 0M70.6 97.4l0 0M95.8 88.8l-.4-.6-.8-.2-.7 .3 .9 .4 1 .1M61.4 97.6l1-.4-.1-1-.9-.4-.8-.1-1.4 .2 .1 .9 .7 .5 1.4 .3M97.4 84.3l1.4-.1-.5-.5-1.1-.4-.9-.1-1.1 0 .6 .8 .8 .2 .8 .1M47.6 94.3l1.2 .2 1.4 .3 1.3 .3 .8 .2 1.1 0 .6-.3-.6-.4-1.2-.4-1.5-.2-.8-.2-1.2-.3-1.2-.4-1-.4-.9-.4-.7-.2-1.1-.3-1-.2-.2 0M100.7 76.4l-.9 0-.9-.1-1 0-.7-.2-.9-.4-.8-.5-.8-.5-1-.5-.9-.2-.9-.1-1.2 .3-.8 .5 .1 1 .6 .5 1 .5 1.5 .2 1 .1 1.5-.1 1 .1 .9 .1 1.1 .4 1.1 .4 1 .3 .7 .2 .7 .2 1.5 .3 1.4 .2 .8 .2 .7 .2M47.3 88.1l1.2-.3-.4-.6-.9-.5-1.1-.4-1.6-.2-1.4 .2 .2 .8 .9 .5 1 .3 1.1 .2 1 0 0 0M75.2 79.4l0 0M75.2 79.1l0 0M75.4 78.6l0 0M84 75.3l1.3-.3 .8-.5 .2-.8-.4-.7-.4-.6-.8-.5-.8 .2-.6 .5-.5 .6-.1 .9 .4 .8 .9 .4M70.3 78.7l.8-.1 .3-.8-.9-.5-.5 .7 .3 .7M48.4 84.2l.8-.2-.6-.6-1.1-.4-1.4-.2-.9-.1-.6 .4 .8 .5 1.2 .4 1.2 .2 .6 0M79 74.3l.9-.3 .4-.7 .3-.8-.1-1-.7-.4-.4 .8-.3 .7-.2 .9 .1 .8M48.8 82.3l-.6-.6-1.1-.2-1.1-.2 .5 .6 .9 .2 1.2 .2 .2 0M76.8 73.9l.7-.3 .4-.7 .3-.8 .2-.8-.6-.8-.6 .7-.3 .7-.3 .8 .1 .9 .1 .3M61.8 77.7l1.1-.3 .6-.6 .2-.8-.3-1-.6-.5-.8 .2-.6 .5-.4 .7 0 .9 .4 .6 .4 .3M48.5 80.9l1 0 .5-.5-.4-.5-.8-.5-.7-.2-1.5 .1-.8 .5 .8 .6 .9 .3 1 .2M30.9 85.3l1 .1 1.5-.1 1.1-.4-.4-.8-.8-.5-.9-.4-1-.4-1.3-.4M78.1 70.3l0 0M33.9 81.3l1.3-.2 0-.2M47.4 77.3l.5 .5 .9 .5 .9-.1 .8-.4 .5-.8 .2-.8 0-.1M71.9 69.9l-.5 .9-.2 .8 .2 1 .4 .6 .9 .2 .8-.5 .5-.7 .4-.7 0-.9-.2-1-.2-.3"/><path fill="none" stroke="#eaba31" stroke-width="0.35" opacity="0.8" d="M71.9 106l-.7-.9-.8 .6-.4 .7M108.5 95.1l-1.3-.4-.9 0 .4 .5 .6 .2M109.7 94.4l-.7-.6-1.4-.3-.9-.1 .5 .6 1.5 .3 1 .1M68.5 105.6l-.6-.3M123.9 88.9l-.6 .6 .6 .6 .3 .3M68.1 105l0 0M79.7 101.5l.7-.6-.4-.9-.7 .2-.3 .8 .7 .5M110.3 92l.8-.2-.6-.6-1.1-.4-1.3-.2-1.4 .2 .7 .6 1.1 .4 1.4 .2 .4 0M111.9 87.6l1.2-.3-.4-.7-.9-.4-1.3-.4-.9-.1-1 0-.8 .6 .7 .5 1 .4 1.4 .3 1 .1M93.3 76.2l.7-.2-.4-1-1.2-.3-1.1 .3 .5 .9 .8 .3 .7 0M83.9 74.7l1.1-.3 .4-.5-.4-1-.7-.3-.8 .5-.2 .9 .6 .7M79.1 73.6l.8-.3 .3-.8-.3-.8-.5 .6-.2 .8-.1 .5M77.1 73.4l0 0M77 73.1l.7-.3 .3-.7-.5-.8-.4 .7-.1 .9 0 .2M72.4 72.7l.8-.2 .4-.5 .3-.8 0-.9-.9-.5-.6 .4-.6 .8 0 .9 .6 .8M77.8 71.1l0 0M30.1 84.9l1.1 .1 1.5-.1 .6-.6-.5-.5-.9-.5-.9-.3-.9-.2-.8-.1"/><path fill="none" stroke="#fad42e" stroke-width="0.35" opacity="0.8" d="M71.5 106.1l-.7-.2-.5 .6M124.7 89.3l.2 .9M68.1 105.4l-.1-.1M72.6 71.5l0 0M72.6 71.2l0 0M28.7 84.1l1 .3 1.5 .1 .7-.5-.7-.5-1.2-.3-.8-.1-1.4 .1 0 .4M73 70.7l0 0"/></g>
<g stroke-width="0.7" stroke-linejoin="round"><path class="p10" d="M82.6 55.7l1 .9-.8-7.5-1-12.4z"/><path class="p12" d="M81.5 42.8l1.1 12.9-.8-19-1.1 13.7z"/><path class="p10" d="M80.5 54.4l1-11.6-.8 7.6-1 5.5z"/><path class="p12" d="M68.2 53.9l1-1.8-.8-1.4-1-3z"/><path class="p13" d="M67.1 51.9l1.1 2-.8-6.2-1.1-4.5z"/><path class="p16" d="M66.1 47.8l1 4.1-.8-8.7-1-3.7z"/><path class="p19" d="M65.1 43.6l1 4.2-.8-8.3-1-1.6z"/><path class="p20" d="M64 41.1l1.1 2.5-.8-5.7-1.1 1.1zM63 40.9l1 .2-.8-2.1-1 3.6z"/><path class="p9" d="M55.8 60.3l1 .3-.8-1-1-2.7z"/><path class="p11" d="M54.8 58.1l1 2.2-.8-3.4-1-3.8z"/><path class="p13" d="M53.7 54.3l1.1 3.8-.8-5-1.1-4.4z"/><path class="p16" d="M52.7 49.5l1 4.8-.8-5.6-1-4.5z"/><path class="p20" d="M51.7 44.7l1 4.8-.8-5.3-1-3.7z"/><path class="p22" d="M50.6 40.9l1.1 3.8-.8-4.2-1-2.3z"/><path class="p24" d="M49.6 39.4l1 1.5-.7-2.7-1.1 0z"/><path class="p23" d="M48.6 40.7l1-1.3-.8-1.2-1 2.7z"/><path class="p21" d="M47.6 44.5l1-3.8-.8 .2-1 5.3z"/><path class="p20" d="M35.2 52.8l1-1.3-.8-3.7-1-2.9z"/><path class="p19" d="M34.2 57l1-4.2-.8-7.9-1 4.5z"/><path class="p20" d="M31.1 46.5l1 7.4-.8-.2-1-4.7z"/><path class="p24" d="M30.1 39.7l1 6.8-.8 2.5-1-6z"/><path class="p27" d="M29 36.8l1.1 2.9-.8 3.3-1.1-3.6z"/><path class="p28" d="M28 39.4l1-2.6-.8 2.6-1 1.2z"/><path class="p10" d="M81.3 46.2l1 14.3-.8-17.7-1 11.6z"/><path class="p21" d="M71 38.9l1-9.2-.8 7.6-1 8.8z"/><path class="p15" d="M70 48.9l1-10-.8 7.2-1 6z"/><path class="p10" d="M67.9 58.2l1-2.3-.7-2-1.1-2z"/><path class="p11" d="M66.9 56.1l1 2.1-.8-6.3-1-4.1z"/><path class="p14" d="M65.9 51.3l1 4.8-.8-8.3-1-4.2z"/><path class="p17" d="M64.8 46.1l1.1 5.2-.8-7.7-1.1-2.5z"/><path class="p19" d="M63.8 42.2l1 3.9-.8-5-1-.2z"/><path class="p10" d="M54.5 59l1.1 2.4-.8-3.3-1.1-3.8z"/><path class="p13" d="M53.5 54.8l1 4.2-.8-4.7-1-4.8z"/><path class="p17" d="M52.5 49.7l1 5.1-.8-5.3-1-4.8z"/><path class="p20" d="M51.4 45.2l1.1 4.5-.8-5-1.1-3.8z"/><path class="p22" d="M50.4 42.6l1 2.6-.8-4.3-1-1.5z"/><path class="p23" d="M49.4 42.4l1 .2-.8-3.2-1 1.3z"/><path class="p22" d="M48.4 44.3l1-1.9-.8-1.7-1 3.8z"/><path class="p16" d="M36 61l1-3.9-.8-5.6-1 1.3z"/><path class="p29" d="M28.8 40.3l1-3.7-.8 .2-1 2.6z"/><path class="p17" d="M74.9 42.3l1 9.2-.8-6.1-1-12.9z"/><path class="p24" d="M73.9 31.4l1 10.9-.8-9.8-1-6z"/><path class="p27" d="M72.8 27.6l1.1 3.8-.8-4.9-1.1 3.2z"/><path class="p25" d="M71.8 32.5l1-4.9-.8 2.1-1 9.2z"/><path class="p19" d="M70.8 42.7l1-10.2-.8 6.4-1 10z"/><path class="p8" d="M67.7 61.9l1-1.6-.8-2.1-1-2.1z"/><path class="p9" d="M66.7 58.8l1 3.1-.8-5.8-1-4.8z"/><path class="p13" d="M65.6 52.8l1.1 6-.8-7.5-1.1-5.2z"/><path class="p16" d="M64.6 46.3l1 6.5-.8-6.7-1-3.9z"/><path class="p11" d="M54.3 59.2l1 2.9-.8-3.1-1-4.2z"/><path class="p13" d="M53.3 54.9l1 4.3-.8-4.4-1-5.1z"/><path class="p17" d="M52.2 50.5l1.1 4.4-.8-5.2-1.1-4.5z"/><path class="p19" d="M51.2 47.2l1 3.3-.8-5.3-1-2.6z"/><path class="p21" d="M50.2 45.7l1 1.5-.8-4.6-1-.2zM49.2 45.4l1 .3-.8-3.3-1 1.9z"/><path class="p13" d="M37.8 63.3l1.1-3-.8-1.3-1.1-1.9z"/><path class="p12" d="M36.8 68.2l1-4.9-.8-6.2-1 3.9z"/><path class="p29" d="M30.6 38.5l1 .6-.7-.7-1.1-1.8z"/><path class="p28" d="M29.6 43l1-4.5-.8-1.9-1 3.7z"/><path class="p19" d="M74.7 41.7l1 7-.8-6.4-1-10.9z"/><path class="p24" d="M73.6 33.3l1.1 8.4-.8-10.3-1.1-3.8z"/><path class="p26" d="M72.6 31.3l1 2-.8-5.7-1 4.9z"/><path class="p23" d="M71.6 37.3l1-6-.8 1.2-1 10.2z"/><path class="p17" d="M70.5 47.7l1.1-10.4-.8 5.4-1.1 10.6z"/><path class="p13" d="M65.4 52.1l1 7.2-.8-6.5-1-6.5z"/><path class="p17" d="M64.4 45l1 7.1-.8-5.8-1-4.9z"/><path class="p11" d="M54.1 59.3l1 2.8-.8-2.9-1-4.3z"/><path class="p14" d="M53 55.8l1.1 3.5-.8-4.4-1.1-4.4z"/><path class="p16" d="M52 52.6l1 3.2-.8-5.3-1-3.3z"/><path class="p18" d="M51 50.1l1 2.5-.8-5.4-1-1.5z"/><path class="p20" d="M49.9 47.7l1.1 2.4-.8-4.4-1-.3z"/><path class="p21" d="M45.8 49.9l1.1-7.4-.8 2-1.1 5.5z"/><path class="p28" d="M31.4 42.5l1-.6-.8-2.8-1-.6z"/><path class="p26" d="M30.4 47.2l1-4.7-.8-4-1 4.5z"/><path class="p16" d="M75.5 48.8l1-6.1-.8 6-1-7z"/><path class="p19" d="M74.4 44.1l1.1 4.7-.8-7.1-1.1-8.4z"/><path class="p22" d="M73.4 37.6l1 6.5-.8-10.8-1-2z"/><path class="p23" d="M72.4 36.7l1 .9-.8-6.3-1 6z"/><path class="p20" d="M71.3 42.7l1.1-6-.8 .6-1.1 10.4z"/><path class="p19" d="M64.1 43.3l1.1 6.9-.8-5.2-1.1-5z"/><path class="p22" d="M63.1 39.1l1 4.2-.8-3.3-1-1.6z"/><path class="p23" d="M62.1 38.7l1 .4-.8-.7-1 2z"/><path class="p22" d="M61 41.8l1.1-3.1-.8 1.7-1.1 4.9z"/><path class="p19" d="M60 47.2l1-5.4-.8 3.5-1 6.2z"/><path class="p15" d="M59 53.4l1-6.2-.8 4.3-1 5.9z"/><path class="p11" d="M53.8 60.3l1.1 1.9-.8-2.9-1.1-3.5z"/><path class="p13" d="M52.8 57.9l1 2.4-.8-4.5-1-3.2z"/><path class="p15" d="M51.8 54.9l1 3-.8-5.3-1-2.5z"/><path class="p24" d="M47.7 43.4l1-1.5-.8 0-1 .6z"/><path class="p21" d="M46.6 50.8l1.1-7.4-.8-.9-1.1 7.4z"/><path class="p24" d="M33.2 46.2l1.1 2.7-.8-2.6-1.1-4.4z"/><path class="p25" d="M32.2 47.9l1-1.7-.8-4.3-1 .6z"/><path class="p24" d="M31.2 52.5l1-4.6-.8-5.4-1 4.7z"/><path class="p21" d="M78.3 40.4l1-.8-.8 3.4-1-13.2z"/><path class="p23" d="M77.3 29.7l1 10.7-.8-10.6-1 12.9z"/><path class="p19" d="M76.3 44.1l1-14.4-.8 13-1 6.1z"/><path class="p15" d="M75.2 51.8l1.1-7.7-.8 4.7-1.1-4.7z"/><path class="p17" d="M74.2 48.6l1 3.2-.8-7.7-1-6.5z"/><path class="p20" d="M73.2 43.1l1 5.5-.8-11-1-.9zM72.1 42.2l1.1 .9-.8-6.4-1.1 6z"/><path class="p17" d="M71.1 47l1-4.8-.8 .5-1 9.5z"/><path class="p20" d="M63.9 42.7l1 5.7-.8-5.1-1-4.2z"/><path class="p23" d="M62.9 40l1 2.7-.8-3.6-1-.4zM61.8 40.7l1.1-.7-.8-1.3-1.1 3.1z"/><path class="p21" d="M60.8 44.2l1-3.5-.8 1.1-1 5.4z"/><path class="p18" d="M59.8 49.4l1-5.2-.8 3-1 6.2z"/><path class="p11" d="M53.6 62.2l1 1.2-.8-3.1-1-2.4z"/><path class="p12" d="M52.6 59.3l1 2.9-.8-4.3-1-3z"/><path class="p23" d="M48.5 47l1-2.6-.8-2.5-1 1.5z"/><path class="p20" d="M47.4 50.9l1.1-3.9-.8-3.6-1.1 7.4z"/><path class="p22" d="M34 51.7l1.1 .6-.8-3.4-1.1-2.7zM33 54.3l1-2.6-.8-5.5-1 1.7z"/><path class="p20" d="M32 58.4l1-4.1-.8-6.4-1 4.6z"/><path class="p21" d="M80.1 31.5l1.1 14.6-.8-11.6-1.1 5.1z"/><path class="p22" d="M78.1 40.9l1-2.8-.8 2.3-1-10.7zM77 32.7l1.1 8.2-.8-11.2-1 14.4z"/><path class="p18" d="M76 48.1l1-15.4-.7 11.4-1.1 7.7z"/><path class="p13" d="M75 56.5l1-8.4-.8 3.7-1-3.2z"/><path class="p14" d="M74 53.8l1 2.7-.8-7.9-1-5.5z"/><path class="p17" d="M72.9 48l1.1 5.8-.8-10.7-1.1-.9zM71.9 46l1 2-.8-5.8-1 4.8zM64.7 48.1l1 5.4-.8-5.1-1-5.7z"/><path class="p21" d="M63.7 44l1 4.1-.8-5.4-1-2.7z"/><path class="p22" d="M62.6 42.4l1.1 1.6-.8-4-1.1 .7zM61.6 43.4l1-1-.8-1.7-1 3.5z"/><path class="p20" d="M60.6 46.5l1-3.1-.8 .8-1 5.2zM50.3 49.3l1 2.2-.8-3.4-1-3.7zM49.2 51.9l1.1-2.6-.8-4.9-1 2.6zM48.2 47.7l1 4.2-.7-4.9-1.1 3.9z"/><path class="p18" d="M35.9 56.3l1 1.8-.8-1.3-1-4.5z"/><path class="p19" d="M34.8 57.7l1.1-1.4-.8-4-1.1-.6z"/><path class="p18" d="M33.8 61l1-3.3-.8-6-1 2.6z"/><path class="p16" d="M32.8 64.4l1-3.4-.8-6.7-1 4.1z"/><path class="p18" d="M80.9 43.2l1.1 5.3-.8-2.4-1.1-14.6z"/><path class="p23" d="M79.9 31.3l1 11.9-.8-11.7-1 6.6z"/><path class="p22" d="M78.9 39.7l1-8.4-.8 6.8-1 2.8z"/><path class="p21" d="M77.8 44.3l1.1-4.6-.8 1.2-1.1-8.2z"/><path class="p20" d="M76.8 38l1 6.3-.8-11.6-1 15.4z"/><path class="p15" d="M75.8 53.4l1-15.4-.8 10.1-1 8.4z"/><path class="p11" d="M73.7 57.9l1.1 3.4-.8-7.5-1.1-5.8z"/><path class="p14" d="M72.7 51l1 6.9-.8-9.9-1-2zM65.5 53.5l1 3.3-.8-3.3-1-5.4z"/><path class="p17" d="M64.5 49.7l1 3.8-.8-5.4-1-4.1z"/><path class="p20" d="M63.4 46.6l1.1 3.1-.8-5.7-1.1-1.6z"/><path class="p21" d="M62.4 45.2l1 1.4-.8-4.2-1 1z"/><path class="p20" d="M61.4 45.6l1-.4-.8-1.8-1 3.1z"/><path class="p19" d="M60.3 47.7l1.1-2.1-.8 .9-1.1 4.2z"/><path class="p17" d="M51.1 55.7l1 .1-.8-4.3-1-2.2zM50 55.9l1.1-.2-.8-6.4-1.1 2.6z"/><path class="p21" d="M48 53.1l1-6.5-.8 1.1-1-.8z"/><path class="p16" d="M36.7 60.4l1-1-.8-1.3-1-1.8zM35.6 63.6l1.1-3.2-.8-4.1-1.1 1.4z"/><path class="p14" d="M34.6 67.4l1-3.8-.8-5.9-1 3.3z"/><path class="p12" d="M33.6 70l1-2.6-.8-6.4-1 3.4z"/><path class="p20" d="M80.7 43.5l1 2.9-.8-3.2-1-11.9z"/><path class="p23" d="M79.7 34.3l1 9.2-.8-12.2-1 8.4z"/><path class="p21" d="M78.6 44l1.1-9.7-.8 5.4-1.1 4.6z"/><path class="p18" d="M77.6 49.6l1-5.6-.8 .3-1-6.3z"/><path class="p17" d="M76.6 44.1l1 5.5-.8-11.6-1 15.4z"/><path class="p12" d="M75.6 58.1l1-14-.8 9.3-1 7.9z"/><path class="p13" d="M66.3 57.3l1-.2-.8-.3-1-3.3z"/><path class="p14" d="M65.3 55.4l1 1.9-.8-3.8-1-3.8z"/><path class="p16" d="M64.2 52.3l1.1 3.1-.8-5.7-1.1-3.1z"/><path class="p18" d="M63.2 49.2l1 3.1-.8-5.7-1-1.4z"/><path class="p20" d="M62.2 47.1l1 2.1-.8-4-1 .4zM61.1 46.7l1.1 .4-.8-1.5-1.1 2.1z"/><path class="p19" d="M60.1 48.3l1-1.6-.8 1-1 3.5z"/><path class="p13" d="M52.9 60.4l1 1.1-.8-1.7-1-4z"/><path class="p14" d="M51.9 62l1-1.6-.8-4.6-1-.1z"/><path class="p15" d="M50.8 56.1l1.1 5.9-.8-6.3-1.1 .2z"/><path class="p19" d="M48.8 55.3l1-3.1-.8-5.6-1 6.5z"/><path class="p23" d="M45.7 49.7l1-5.1-.8 .9-1 3.1z"/><path class="p15" d="M37.5 64.2l1-3.5-.8-1.3-1 1z"/><path class="p13" d="M36.4 68.9l1.1-4.7-.8-3.8-1.1 3.2z"/><path class="p11" d="M35.4 73l1-4.1-.8-5.3-1 3.8z"/><path class="p9" d="M34.4 74.7l1-1.7-.8-5.6-1 2.6z"/><path class="p18" d="M81.5 47.6l1-7.1-.8 5.9-1-2.9z"/><path class="p19" d="M80.5 46.9l1 .7-.8-4.1-1-9.2z"/><path class="p20" d="M79.4 39.8l1.1 7.1-.8-12.6-1.1 9.7z"/><path class="p17" d="M78.4 49.8l1-10-.8 4.2-1 5.6z"/><path class="p15" d="M77.4 55.1l1-5.3-.8-.2-1-5.5z"/><path class="p14" d="M76.3 49l1.1 6.1-.8-11-1 14z"/><path class="p12" d="M67.1 58.2l1-4-.8 2.9-1 .2zM66.1 59.5l1-1.3-.8-.9-1-1.9z"/><path class="p13" d="M65 57.9l1.1 1.6-.8-4.1-1.1-3.1z"/><path class="p15" d="M64 54.5l1 3.4-.8-5.6-1-3.1z"/><path class="p18" d="M63 50.6l1 3.9-.8-5.3-1-2.1z"/><path class="p19" d="M61.9 47.9l1.1 2.7-.8-3.5-1.1-.4z"/><path class="p20" d="M60.9 47.3l1 .6-.8-1.2-1 1.6z"/><path class="p19" d="M59.9 49.3l1-2-.8 1-1 3.6z"/><path class="p17" d="M58.8 53.4l1.1-4.1-.8 2.6-1.1 4.8z"/><path class="p16" d="M50.6 60.7l1-3.8-.8-.8-1-3.9z"/><path class="p22" d="M46.5 52.5l1-5.7-.8-2.2-1 5.1z"/><path class="p16" d="M39.3 61.8l1-3.8-.8 1.6-1 1.1z"/><path class="p14" d="M38.3 67.4l1-5.6-.8-1.1-1 3.5z"/><path class="p11" d="M37.2 73.2l1.1-5.8-.8-3.2-1.1 4.7z"/><path class="p8" d="M36.2 77.2l1-4-.8-4.3-1 4.1z"/><path class="p6" d="M35.2 78.1l1-.9-.8-4.2-1 1.7z"/><path class="p20" d="M82.3 43.1l1-8.8-.8 6.2-1 7.1z"/><path class="p16" d="M81.3 51.7l1-8.6-.8 4.5-1-.7zM80.2 52.3l1.1-.6-.8-4.8-1.1-7.1z"/><path class="p17" d="M79.2 46.1l1 6.2-.8-12.5-1 10z"/><path class="p14" d="M78.2 55.1l1-9-.8 3.7-1 5.3z"/><path class="p12" d="M76.1 51.2l1 7.6-.8-9.8-1 11.7z"/><path class="p14" d="M67.9 56.2l1-6.7-.8 4.7-1 4z"/><path class="p12" d="M66.8 60.7l1.1-4.5-.8 2-1 1.3z"/><path class="p11" d="M65.8 61.8l1-1.1-.7-1.2-1.1-1.6z"/><path class="p12" d="M64.8 59.5l1 2.3-.8-3.9-1-3.4z"/><path class="p15" d="M63.8 55.3l1 4.2-.8-5-1-3.9z"/><path class="p17" d="M62.7 51l1.1 4.3-.8-4.7-1.1-2.7z"/><path class="p19" d="M61.7 48.4l1 2.6-.8-3.1-1-.6z"/><path class="p20" d="M60.7 48.5l1-.1-.8-1.1-1 2z"/><path class="p19" d="M59.6 51l1.1-2.5-.8 .8-1.1 4.1z"/><path class="p13" d="M51.4 64.3l1-2.2-.8-5.2-1 3.8z"/><path class="p22" d="M48.3 51.3l1-1.4-.8-2.6-1-.5z"/><path class="p20" d="M47.3 56.1l1-4.8-.8-4.5-1 5.7z"/><path class="p16" d="M40.1 62.7l1-5.9-.8 1.2-1 3.8z"/><path class="p13" d="M39 69.8l1.1-7.1-.8-.9-1 5.6z"/><path class="p9" d="M38 76.2l1-6.4-.7-2.4-1.1 5.8z"/><path class="p6" d="M37 79.9l1-3.7-.8-3-1 4z"/><path class="p4" d="M36 80l1-.1-.8-2.7-1 .9z"/><path class="p25" d="M85.1 33.8l1.1 5-.8-4.6-1-3.2z"/><path class="p26" d="M84.1 33.1l1 .7-.7-2.8-1.1 3.3z"/><path class="p23" d="M83.1 38.3l1-5.2-.8 1.2-1 8.8z"/><path class="p18" d="M82.1 48.3l1-10-.8 4.8-1 8.6z"/><path class="p13" d="M80 57.9l1-.6-.8-5-1-6.2z"/><path class="p14" d="M79 51.2l1 6.7-.8-11.8-1 9z"/><path class="p22" d="M70.7 42.4l1.1 2.6-.8-3.1-1.1 1.8z"/><path class="p20" d="M69.7 45.7l1-3.3-.8 1.3-1 5.8z"/><path class="p17" d="M68.7 52.4l1-6.7-.8 3.8-1 6.7z"/><path class="p13" d="M67.6 59l1.1-6.6-.8 3.8-1.1 4.5z"/><path class="p10" d="M65.6 62.8l1 0-.8-1-1-2.3z"/><path class="p12" d="M64.6 59.6l1 3.2-.8-3.3-1-4.2z"/><path class="p15" d="M63.5 55.2l1.1 4.4-.8-4.3-1.1-4.3z"/><path class="p18" d="M62.5 51.4l1 3.8-.8-4.2-1-2.6z"/><path class="p19" d="M61.5 49.8l1 1.6-.8-3-1 .1zM60.4 50.2l1.1-.4-.8-1.3-1.1 2.5z"/><path class="p18" d="M50.1 54.4l1.1 2.3-.8-1.2-1.1-5.6z"/><path class="p19" d="M49.1 57l1-2.6-.8-4.5-1 1.4z"/><path class="p18" d="M48.1 59.9l1-2.9-.8-5.7-1 4.8z"/><path class="p20" d="M41.9 56.2l1-4.7-.8 2.3-1 3z"/><path class="p17" d="M40.9 63.5l1-7.3-.8 .6-1 5.9z"/><path class="p12" d="M39.8 71.4l1.1-7.9-.8-.8-1.1 7.1z"/><path class="p8" d="M38.8 77.7l1-6.3-.8-1.6-1 6.4z"/><path class="p5" d="M37.8 80.9l1-3.2-.8-1.5-1 3.7z"/><path class="p4" d="M36.8 80.3l1 .6-.8-1-1 .1z"/><path class="p22" d="M85.9 39.2l1.1 3.6-.8-4-1.1-5z"/><path class="p24" d="M84.9 36.9l1 2.3-.8-5.4-1-.7zM83.9 38.3l1-1.4-.8-3.8-1 5.2z"/><path class="p20" d="M82.9 44.6l1-6.3-.8 0-1 10z"/><path class="p15" d="M81.8 54.4l1.1-9.8-.8 3.7-1.1 9z"/><path class="p10" d="M79.8 61.7l1 .6-.8-4.4-1-6.7z"/><path class="p12" d="M78.7 53.5l1.1 8.2-.8-10.5-1.1 6.9z"/><path class="p16" d="M72.6 51.3l1 4.6-.8-3.6-1-7.3z"/><path class="p20" d="M71.5 46.2l1.1 5.1-.8-6.3-1.1-2.6z"/><path class="p21" d="M70.5 45.3l1 .9-.8-3.8-1 3.3z"/><path class="p19" d="M69.5 49.3l1-4-.8 .4-1 6.7z"/><path class="p15" d="M68.4 55.5l1.1-6.2-.8 3.1-1.1 6.6z"/><path class="p13" d="M64.3 59.1l1.1 3.1-.8-2.6-1.1-4.4z"/><path class="p16" d="M63.3 55.5l1 3.6-.8-3.9-1-3.8z"/><path class="p18" d="M62.3 52.8l1 2.7-.8-4.1-1-1.6z"/><path class="p19" d="M61.2 51.2l1.1 1.6-.8-3-1.1 .4zM60.2 50.5l1 .7-.8-1-1 1.5z"/><path class="p18" d="M58.1 54.3l1.1-3.4-.8 2.5-1.1 2.9z"/><path class="p15" d="M57.1 61l1-6.7-.8 2-1 5.7z"/><path class="p16" d="M50.9 59.9l1.1-.9-.8-2.3-1.1-2.3zM49.9 62.7l1-2.8-.8-5.5-1 2.6z"/><path class="p21" d="M42.7 56.4l1-5.9-.8 1-1 4.7z"/><path class="p17" d="M41.7 64.3l1-7.9-.8-.2-1 7.3z"/><path class="p4" d="M37.6 79l1 1.3-.8 .6-1-.6z"/><path class="p20" d="M86.7 44.1l1.1 .5-.8-1.8-1.1-3.6z"/><path class="p21" d="M85.7 43.1l1 1-.8-4.9-1-2.3z"/><path class="p22" d="M84.7 42.8l1 .3-.8-6.2-1 1.4z"/><path class="p20" d="M83.7 45.1l1-2.3-.8-4.5-1 6.3z"/><path class="p16" d="M82.6 51l1.1-5.9-.8-.5-1.1 9.8z"/><path class="p15" d="M73.4 55.4l1-3.4-.8 3.9-1-4.6z"/><path class="p17" d="M72.3 52.9l1.1 2.5-.8-4.1-1.1-5.1z"/><path class="p19" d="M71.3 49.5l1 3.4-.8-6.7-1-.9zM70.3 49.3l1 .2-.8-4.2-1 4z"/><path class="p17" d="M69.2 52.5l1.1-3.2-.8 0-1.1 6.2z"/><path class="p12" d="M65.1 61.5l1 .8-.7-.1-1.1-3.1z"/><path class="p13" d="M64.1 59.4l1 2.1-.8-2.4-1-3.6z"/><path class="p15" d="M63.1 56.6l1 2.8-.8-3.9-1-2.7z"/><path class="p17" d="M62 53.7l1.1 2.9-.8-3.8-1.1-1.6z"/><path class="p19" d="M61 51.1l1 2.6-.8-2.5-1-.7z"/><path class="p20" d="M60 50.4l1 .7-.8-.6-1 .4z"/><path class="p19" d="M58.9 53.9l1.1-3.5-.8 .5-1.1 3.4z"/><path class="p16" d="M57.9 58.8l1-4.9-.8 .4-1 6.7z"/><path class="p14" d="M51.7 65.1l1.1-3.3-.8-2.8-1.1 .9z"/><path class="p24" d="M44.5 51.1l1.1-2.9-.8 .2-1.1 2.1z"/><path class="p21" d="M43.5 57.4l1-6.3-.8-.6-1 5.9z"/><path class="p16" d="M42.5 65.1l1-7.7-.8-1-1 7.9z"/><path class="p5" d="M39.4 78.3l1-1.4-.8 1-1 2.4zM38.3 76.4l1.1 1.9-.8 2-1-1.3z"/><path class="p18" d="M87.5 47l1.1-2.8-.8 .4-1.1-.5zM86.5 48.7l1-1.7-.8-2.9-1-1zM85.5 49.3l1-.6-.8-5.6-1-.3zM84.4 49.6l1.1-.3-.8-6.5-1 2.3z"/><path class="p16" d="M83.4 51.3l1-1.7-.7-4.5-1.1 5.9z"/><path class="p19" d="M75.2 44.3l1 6.6-.8-5.9-1 7z"/><path class="p15" d="M73.1 57.5l1.1-4.9-.8 2.8-1.1-2.5zM72.1 56.3l1 1.2-.8-4.6-1-3.4z"/><path class="p17" d="M71.1 53.3l1 3-.8-6.8-1-.2zM70 52.2l1.1 1.1-.8-4-1.1 3.2z"/><path class="p16" d="M69 53.9l1-1.7-.8 .3-1 4.7z"/><path class="p12" d="M64.9 61.9l1-.2-.8-.2-1-2.1z"/><path class="p13" d="M63.9 60.2l1 1.7-.8-2.5-1-2.8z"/><path class="p15" d="M62.8 57.1l1.1 3.1-.8-3.6-1.1-2.9z"/><path class="p18" d="M61.8 53.5l1 3.6-.8-3.4-1-2.6z"/><path class="p19" d="M60.8 52.2l1 1.3-.8-2.4-1-.7zM59.7 54.8l1.1-2.6-.8-1.8-1.1 3.5z"/><path class="p24" d="M46.4 49.8l1 .5-.8-.8-1-1.3z"/><path class="p23" d="M45.3 53.2l1.1-3.4-.8-1.6-1.1 2.9z"/><path class="p20" d="M44.3 59.3l1-6.1-.8-2.1-1 6.3z"/><path class="p7" d="M40.2 75.4l1-.3-.8 1.8-1 1.4z"/><path class="p8" d="M39.1 72.9l1.1 2.5-.8 2.9-1.1-1.9z"/><path class="p21" d="M89.4 42.6l1-4.5-.8 3-1 3.1z"/><path class="p18" d="M88.3 47.8l1.1-5.2-.8 1.6-1.1 2.8z"/><path class="p16" d="M87.3 52.3l1-4.5-.8-.8-1 1.7z"/><path class="p15" d="M86.3 55l1-2.7-.8-3.6-1 .6z"/><path class="p14" d="M85.2 55.7l1.1-.7-.8-5.7-1.1 .3zM84.2 55.2l1 .5-.8-6.1-1 1.7z"/><path class="p19" d="M76 50.6l1-1.3-.8 1.6-1-6.6zM74.9 46.6l1.1 4-.8-6.3-1 8.3z"/><path class="p16" d="M73.9 55.7l1-9.1-.7 6-1.1 4.9z"/><path class="p13" d="M72.9 61l1-5.3-.8 1.8-1-1.2z"/><path class="p14" d="M71.9 59.4l1 1.6-.8-4.7-1-3z"/><path class="p15" d="M70.8 55.5l1.1 3.9-.8-6.1-1.1-1.1z"/><path class="p17" d="M69.8 53l1 2.5-.8-3.3-1 1.7z"/><path class="p12" d="M64.7 62.5l1-.3-.8-.3-1-1.7z"/><path class="p14" d="M63.6 60.1l1.1 2.4-.8-2.3-1.1-3.1z"/><path class="p16" d="M62.6 56.9l1 3.2-.8-3-1-3.6z"/><path class="p18" d="M61.6 55.8l1 1.1-.8-3.4-1-1.3zM60.5 56.2l1.1-.4-.8-3.6-1.1 2.6zM58.5 58.4l1-6-.8 2.3-1 1.9z"/><path class="p23" d="M47.1 52.9l1.1-.5-.8-2.1-1-.5z"/><path class="p22" d="M46.1 56.5l1-3.6-.7-3.1-1.1 3.4z"/><path class="p19" d="M45.1 61.9l1-5.4-.8-3.3-1 6.1z"/><path class="p9" d="M41 71.8l1 .9-.8 2.4-1 .3z"/><path class="p10" d="M39.9 68.8l1.1 3-.8 3.6-1.1-2.5z"/><path class="p25" d="M91.2 36.4l1-2.1-.8 1.4-1 2.4z"/><path class="p22" d="M90.2 41.1l1-4.7-.8 1.7-1 4.5z"/><path class="p19" d="M89.1 47.4l1.1-6.3-.8 1.5-1.1 5.2z"/><path class="p16" d="M88.1 53.8l1-6.4-.8 .4-1 4.5z"/><path class="p19" d="M77.8 45.6l1 6.9-.8-6-1 2.8zM76.8 50.1l1-4.5-.8 3.7-1 1.3z"/><path class="p18" d="M75.7 53.3l1.1-3.2-.8 .5-1.1-4z"/><path class="p17" d="M74.7 50.9l1 2.4-.8-6.7-1 9.1z"/><path class="p14" d="M73.7 59.4l1-8.5-.8 4.8-1 5.3z"/><path class="p13" d="M71.6 60.4l1.1 2.9-.8-3.9-1.1-3.9z"/><path class="p15" d="M70.6 55.3l1 5.1-.8-4.9-1-2.5z"/><path class="p16" d="M67.5 56.7l1-3.6-.8 3.1-1 3.5z"/><path class="p14" d="M66.5 60.6l1-3.9-.8 3-1 2.5zM63.4 60.5l1 1.6-.8-2-1-3.2z"/><path class="p15" d="M62.4 60.1l1 .4-.8-3.6-1-1.1z"/><path class="p16" d="M61.3 56.7l1.1 3.4-.8-4.3-1.1 .4z"/><path class="p18" d="M59.3 58.2l1-3.3-.8-2.5-1 6z"/><path class="p17" d="M56.2 60.2l1-5-.8 2.2-1 2.8z"/><path class="p20" d="M49 55.6l1 1.5-.8-1.5-1-3.2z"/><path class="p21" d="M47.9 57l1.1-1.4-.8-3.2-1.1 .5z"/><path class="p20" d="M46.9 60.6l1-3.6-.8-4.1-1 3.6z"/><path class="p11" d="M42.8 70.2l1 .4-.8 .6-1 1.5zM41.8 68l1 2.2-.8 2.5-1-.9z"/><path class="p13" d="M40.7 64.7l1.1 3.3-.8 3.8-1.1-3z"/><path class="p25" d="M92 36.4l1-1.6-.8-.5-1 2.1z"/><path class="p23" d="M91 40.8l1-4.4-.8 0-1 4.7z"/><path class="p20" d="M89.9 47.1l1.1-6.3-.8 .3-1.1 6.3z"/><path class="p16" d="M88.9 54.1l1-7-.8 .3-1 6.4z"/><path class="p18" d="M78.6 51.9l1 1.7-.8-1.1-1-6.9z"/><path class="p19" d="M77.6 47.8l1 4.1-.8-6.3-1 4.5z"/><path class="p18" d="M76.5 53.7l1.1-5.9-.8 2.3-1.1 3.2z"/><path class="p16" d="M75.5 57.5l1-3.8-.8-.4-1-2.4z"/><path class="p15" d="M74.5 55l1 2.5-.8-6.6-1 8.5z"/><path class="p16" d="M70.4 54.4l1 4.8-.8-3.9-1-2.9z"/><path class="p18" d="M69.3 52.5l1.1 1.9-.8-2-1.1 .7z"/><path class="p17" d="M68.3 54.4l1-1.9-.8 .6-1 3.6z"/><path class="p16" d="M67.3 58.1l1-3.7-.8 2.3-1 3.9z"/><path class="p13" d="M63.2 63.2l1 0-.8-2.7-1-.4z"/><path class="p17" d="M61.1 59.9l1-1.9-.8-1.3-1-1.8zM60.1 57.4l1 2.5-.8-5-1 3.3zM57 60.7l1-5.7-.8 .2-1 5z"/><path class="p19" d="M49.8 59.1l1-.2-.8-1.8-1-1.5zM48.7 61.6l1.1-2.5-.8-3.5-1.1 1.4z"/><path class="p17" d="M47.7 65.1l1-3.5-.8-4.6-1 3.6z"/><path class="p12" d="M43.6 67.9l1 2.1-.8 .6-1-.4z"/><path class="p14" d="M42.6 64.5l1 3.4-.8 2.3-1-2.2z"/><path class="p16" d="M41.5 60.9l1.1 3.6-.8 3.5-1.1-3.3z"/><path class="p25" d="M93.8 36.7l1 .9-.8-1.6-1-1.2zM92.8 38.2l1-1.5-.8-1.9-1 1.6z"/><path class="p23" d="M91.8 42.1l1-3.9-.8-1.8-1 4.4z"/><path class="p20" d="M90.7 47.8l1.1-5.7-.8-1.3-1.1 6.3z"/><path class="p16" d="M89.7 54.3l1-6.5-.8-.7-1 7z"/><path class="p17" d="M79.4 53.9l1-3.5-.8 3.2-1-1.7zM78.4 54.6l1-.7-.8-2-1-4.1zM77.3 52.5l1.1 2.1-.8-6.8-1.1 5.9z"/><path class="p16" d="M76.3 58.1l1-5.6-.8 1.2-1 3.8z"/><path class="p14" d="M75.3 60.5l1-2.4-.8-.6-1-2.5zM74.2 56.7l1.1 3.8-.8-5.5-1 6.4z"/><path class="p17" d="M70.1 54.8l1.1 3.2-.8-3.6-1.1-1.9z"/><path class="p18" d="M69.1 54.3l1 .5-.8-2.3-1 1.9z"/><path class="p17" d="M68.1 56.2l1-1.9-.8 .1-1 3.7z"/><path class="p14" d="M66 61.3l1-2.6-.8 2.4-1 1.3z"/><path class="p15" d="M61.9 62.6l1-.9-.8-3.7-1 1.9z"/><path class="p19" d="M58.8 56.6l1-2.2-.8-.8-1 1.4z"/><path class="p17" d="M57.8 61.6l1-5-.8-1.6-1 5.7z"/><path class="p12" d="M45.4 69.5l1 2-.7-1.3-1.1-.2z"/><path class="p13" d="M44.4 65.9l1 3.6-.8 .5-1-2.1z"/><path class="p16" d="M43.4 61.6l1 4.3-.8 2-1-3.4z"/><path class="p18" d="M42.3 57.8l1.1 3.8-.8 2.9-1.1-3.6z"/><path class="p24" d="M94.6 39.5l1 0-.8-1.9-1-.9zM93.6 41.3l1-1.8-.8-2.8-1 1.5z"/><path class="p22" d="M92.5 44.9l1.1-3.6-.8-3.1-1 3.9z"/><path class="p19" d="M91.5 49.7l1-4.8-.7-2.8-1.1 5.7z"/><path class="p16" d="M90.5 55.1l1-5.4-.8-1.9-1 6.5z"/><path class="p18" d="M80.2 52.2l1-4.6-.8 2.8-1 3.5z"/><path class="p16" d="M79.2 57.3l1-5.1-.8 1.7-1 .7z"/><path class="p15" d="M78.1 58.9l1.1-1.6-.8-2.7-1.1-2.1zM77.1 56.9l1 2-.8-6.4-1 5.6zM70.9 58.6l1.1 1.4-.8-2-1.1-3.2z"/><path class="p17" d="M69.9 56.8l1 1.8-.8-3.8-1-.5zM68.9 56.1l1 .7-.8-2.5-1 1.9zM67.8 57l1.1-.9-.8 .1-1.1 2.5z"/><path class="p15" d="M66.8 59.8l1-2.8-.8 1.7-1 2.6z"/><path class="p18" d="M60.6 57.1l1.1 1.3-.8-1.1-1.1-2.9zM59.6 59.6l1-2.5-.8-2.7-1 2.2z"/><path class="p16" d="M58.6 63l1-3.4-.8-3-1 5z"/><path class="p12" d="M46.2 69l1 3.5-.8-1-1-2z"/><path class="p14" d="M45.2 64.3l1 4.7-.8 .5-1-3.6z"/><path class="p17" d="M44.2 59.4l1 4.9-.8 1.6-1-4.3z"/><path class="p20" d="M43.1 55.6l1.1 3.8-.8 2.2-1.1-3.8z"/><path class="p22" d="M96.4 41.2l1.1 .2-.8-.2-1.1-1.7zM95.4 42.5l1-1.3-.8-1.7-1 0zM94.4 45.1l1-2.6-.8-3-1 1.8z"/><path class="p20" d="M93.3 48.6l1.1-3.5-.8-3.8-1.1 3.6z"/><path class="p18" d="M92.3 52.7l1-4.1-.8-3.7-1 4.8z"/><path class="p15" d="M91.3 56.8l1-4.1-.8-3-1 5.4z"/><path class="p21" d="M82 47.7l1-.1-.7-1.2-1.1 1.2z"/><path class="p19" d="M81 51l1-3.3-.8-.1-1 4.6z"/><path class="p16" d="M80 56.7l1-5.7-.8 1.2-1 5.1z"/><path class="p14" d="M78.9 61.6l1.1-4.9-.8 .6-1.1 1.6z"/><path class="p13" d="M77.9 62.2l1-.6-.8-2.7-1-2z"/><path class="p14" d="M76.9 58.7l1 3.5-.8-5.3-1 3.6z"/><path class="p15" d="M71.7 61l1.1-2.7-.8 1.7-1.1-1.4zM70.7 60.4l1 .6-.8-2.4-1-1.8z"/><path class="p16" d="M69.7 58.2l1 2.2-.8-3.6-1-.7z"/><path class="p17" d="M68.6 57.1l1.1 1.1-.8-2.1-1.1 .9z"/><path class="p16" d="M67.6 58.8l1-1.7-.8-.1-1 2.8z"/><path class="p17" d="M61.4 60.7l1.1-.5-.8-1.8-1.1-1.3z"/><path class="p16" d="M60.4 63l1-2.3-.8-3.6-1 2.5z"/><path class="p17" d="M53.2 63.5l1-3.7-.8 .2-1 2.1z"/><path class="p10" d="M48 72.9l1.1 2.5-.8-1.5-1.1-1.4z"/><path class="p12" d="M47 68.4l1 4.5-.8-.4-1-3.5z"/><path class="p15" d="M46 63l1 5.4-.8 .6-1-4.7z"/><path class="p19" d="M45 58l1 5-.8 1.3-1-4.9z"/><path class="p22" d="M43.9 54.6l1.1 3.4-.8 1.4-1.1-3.8zM97.2 42.7l1.1-1.4-.8 .1-1.1-.2z"/><path class="p21" d="M96.2 45.3l1-2.6-.8-1.5-1 1.3z"/><path class="p20" d="M95.2 48.8l1-3.5-.8-2.8-1 2.6z"/><path class="p18" d="M94.1 52.6l1.1-3.8-.8-3.7-1.1 3.5z"/><path class="p15" d="M93.1 56.2l1-3.6-.8-4-1 4.1z"/><path class="p19" d="M83.8 49.8l1.1 1.5-.8-.9-1.1-2.8z"/><path class="p20" d="M82.8 50l1-.2-.8-2.2-1 .1z"/><path class="p19" d="M81.8 52.2l1-2.2-.8-2.3-1 3.3z"/><path class="p17" d="M80.8 56.3l1-4.1-.8-1.2-1 5.7z"/><path class="p14" d="M79.7 61l1.1-4.7-.8 .4-1.1 4.9z"/><path class="p17" d="M73.5 55.6l1.1 1.8-.8-2.9-1 3.8z"/><path class="p15" d="M72.5 60.2l1-4.6-.7 2.7-1.1 2.7z"/><path class="p14" d="M71.5 62.5l1-2.3-.8 .8-1-.6z"/><path class="p15" d="M70.5 61.1l1 1.4-.8-2.1-1-2.2z"/><path class="p16" d="M69.4 59l1.1 2.1-.8-2.9-1.1-1.1zM68.4 59l1 0-.8-1.9-1 1.7z"/><path class="p15" d="M66.3 62.6l1.1-4.1-.8 1.9-1.1 1.8zM62.2 64.2l1.1-2.1-.8-1.9-1.1 .5z"/><path class="p19" d="M55 60.1l1-2.7-.8 .8-1 1.6z"/><path class="p17" d="M54 64.8l1-4.7-.8-.3-1 3.7z"/><path class="p10" d="M48.8 72.6l1.1 3.3-.8-.5-1.1-2.5z"/><path class="p13" d="M47.8 67.6l1 5-.8 .3-1-4.5z"/><path class="p16" d="M46.8 62.1l1 5.5-.8 .8-1-5.4z"/><path class="p20" d="M45.7 57.4l1.1 4.7-.8 .9-1-5z"/><path class="p23" d="M44.7 54.5l1 2.9-.7 .6-1.1-3.4z"/><path class="p22" d="M98 44l1.1-2.7-.8 0-1.1 1.4z"/><path class="p20" d="M97 47.9l1-3.9-.8-1.3-1 2.6z"/><path class="p18" d="M96 52.2l1-4.3-.8-2.6-1 3.5z"/><path class="p16" d="M94.9 56.4l1.1-4.2-.8-3.4-1.1 3.8z"/><path class="p19" d="M84.6 51.8l1.1-.3-.8-.2-1.1-1.5zM83.6 53.1l1-1.3-.8-2-1 .2z"/><path class="p18" d="M82.6 55.2l1-2.1-.8-3.1-1 2.2z"/><path class="p16" d="M81.6 57.8l1-2.6-.8-3-1 4.1z"/><path class="p14" d="M80.5 60.4l1.1-2.6-.8-1.5-1.1 4.7z"/><path class="p16" d="M74.3 58.9l1.1-1.8-.8 .3-1.1-1.8zM73.3 58.5l1 .4-.8-3.3-1 4.6z"/><path class="p15" d="M72.3 61.7l1-3.2-.8 1.7-1 2.3zM70.2 61.6l1.1 .9-.8-1.4-1.1-2.1z"/><path class="p16" d="M69.2 60l1 1.6-.8-2.6-1 0zM68.2 59.3l1 .7-.8-1-1-.5zM67.1 61.8l1.1-2.5-.8-.8-1.1 4.1z"/><path class="p15" d="M64 63.5l1.1-2.5-.8 .9-1 .2z"/><path class="p20" d="M56.8 57.7l1.1-.7-.8 .4-1.1 0z"/><path class="p19" d="M55.8 61.1l1-3.4-.8-.3-1 2.7z"/><path class="p16" d="M54.8 66.2l1-5.1-.8-1-1 4.7z"/><path class="p9" d="M50.7 75.2l1 1.4-.8-.1-1-.6z"/><path class="p10" d="M49.6 71.5l1.1 3.7-.8 .7-1.1-3.3z"/><path class="p13" d="M48.6 66.4l1 5.1-.8 1.1-1-5z"/><path class="p17" d="M47.6 61.3l1 5.1-.8 1.2-1-5.5z"/><path class="p20" d="M46.5 57.3l1.1 4-.8 .8-1.1-4.7z"/><path class="p23" d="M45.5 55.3l1 2-.8 .1-1-2.9zM99.9 41.6l1-2.2-.8 .7-1 1.2z"/><path class="p21" d="M98.8 45.4l1.1-3.8-.8-.3-1.1 2.7z"/><path class="p19" d="M97.8 50.2l1-4.8-.8-1.4-1 3.9z"/><path class="p16" d="M96.8 55.2l1-5-.8-2.3-1 4.3z"/><path class="p18" d="M85.4 53.1l1.1-2-.8 .4-1.1 .3z"/><path class="p17" d="M84.4 55.8l1-2.7-.8-1.3-1 1.3z"/><path class="p16" d="M83.4 58.5l1-2.7-.8-2.7-1 2.1z"/><path class="p15" d="M82.3 60.3l1.1-1.8-.8-3.3-1 2.6z"/><path class="p17" d="M76.2 56.7l1 1.1-.8-2.1-1 1.4z"/><path class="p16" d="M75.1 59.6l1.1-2.9-.8 .4-1.1 1.8z"/><path class="p15" d="M74.1 61.4l1-1.8-.8-.7-1-.4zM73.1 60.1l1 1.3-.8-2.9-1 3.2zM70 61.5l1 1.3-.8-1.2-1-1.6z"/><path class="p16" d="M69 62l1-.5-.8-1.5-1-.7zM67.9 61.2l1.1 .8-.8-2.7-1.1 2.5z"/><path class="p15" d="M64.8 64.4l1.1-3.6-.8 .2-1.1 2.5z"/><path class="p20" d="M57.6 59.3l1.1-1.4-.8-.9-1.1 .7z"/><path class="p18" d="M56.6 63.1l1-3.8-.8-1.6-1 3.4z"/><path class="p16" d="M55.6 68l1-4.9-.8-2-1 5.1z"/><path class="p9" d="M51.5 73.6l1 2.1-.8 .9-1-1.4z"/><path class="p11" d="M50.4 69.7l1.1 3.9-.8 1.6-1.1-3.7z"/><path class="p15" d="M49.4 64.9l1 4.8-.8 1.8-1-5.1z"/><path class="p18" d="M48.4 60.5l1 4.4-.8 1.5-1-5.1z"/><path class="p21" d="M47.3 57.6l1.1 2.9-.8 .8-1.1-4z"/><path class="p23" d="M46.3 56.8l1 .8-.8-.3-1-2z"/><path class="p24" d="M101.7 39.6l1-1-.8 .6-1 .2z"/><path class="p23" d="M100.6 42.6l1.1-3-.8-.2-1 2.2z"/><path class="p21" d="M99.6 47.1l1-4.5-.7-1-1.1 3.8z"/><path class="p18" d="M98.6 52.4l1-5.3-.8-1.7-1 4.8z"/><path class="p19" d="M87.3 51.1l1-1.5-.8 1-1 .5z"/><path class="p18" d="M86.2 54.1l1.1-3-.8 0-1.1 2z"/><path class="p17" d="M85.2 57.9l1-3.8-.8-1-1 2.7z"/><path class="p15" d="M84.2 61l1-3.1-.8-2.1-1 2.7z"/><path class="p16" d="M77 59.3l1-1.1-.8-.4-1-1.1zM75.9 60.1l1.1-.8-.8-2.6-1.1 2.9z"/><path class="p15" d="M74.9 61.9l1-1.8-.8-.5-1 1.8zM72.8 60.3l1.1 1.3-.8-1.5-1 1.4zM71.8 62.1l1-1.8-.7 1.2-1.1 1.3zM69.8 63.6l1-.9-.8-1.2-1 .5z"/><path class="p17" d="M66.7 61.7l1-1.8-.8-.3-1 1.2z"/><path class="p15" d="M65.6 65.2l1.1-3.5-.8-.9-1.1 3.6z"/><path class="p19" d="M59.5 59.5l1 .3-.8-.5-1-1.4zM58.4 61.7l1.1-2.2-.8-1.6-1.1 1.4z"/><path class="p17" d="M57.4 65.6l1-3.9-.8-2.4-1 3.8z"/><path class="p11" d="M52.3 71.5l1 2.7-.8 1.5-1-2.1z"/><path class="p13" d="M51.2 67.5l1.1 4-.8 2.1-1.1-3.9z"/><path class="p16" d="M50.2 63.2l1 4.3-.8 2.2-1-4.8z"/><path class="p19" d="M49.2 59.8l1 3.4-.8 1.7-1-4.4z"/><path class="p22" d="M47.1 58.6l1-.5-.8-.5-1-.8z"/><path class="p24" d="M102.5 40.6l1-1.8-.8-.2-1 1z"/><path class="p23" d="M101.4 44.3l1.1-3.7-.8-1-1.1 3z"/><path class="p20" d="M100.4 49.3l1-5-.8-1.7-1 4.5z"/><path class="p17" d="M99.4 54.8l1-5.5-.8-2.2-1 5.3z"/><path class="p20" d="M88.1 51.8l1-2.1-.8-.1-1 1.5z"/><path class="p18" d="M87 55.5l1.1-3.7-.8-.7-1.1 3z"/><path class="p16" d="M86 59.5l1-4-.8-1.4-1 3.8z"/><path class="p17" d="M78.8 58l1-1.1-.8 .8-1 .5z"/><path class="p16" d="M77.8 60.5l1-2.5-.8 .2-1 1.1z"/><path class="p15" d="M76.7 62.3l1.1-1.8-.8-1.2-1.1 .8zM75.7 61.9l1 .4-.8-2.2-1 1.8zM73.6 61.6l1.1-.2-.8 .2-1.1-1.3zM72.6 61.5l1 .1-.8-1.3-1 1.8zM71.6 63.2l1-1.7-.8 .6-1 .6z"/><path class="p16" d="M68.5 61.5l1 .2-.8-.4-1-1.4zM67.5 63.6l1-2.1-.8-1.6-1 1.8z"/><path class="p15" d="M66.4 66.2l1.1-2.6-.8-1.9-1.1 3.5z"/><path class="p19" d="M60.3 61.5l1-1.1-.8-.6-1-.3z"/><path class="p18" d="M59.2 64.5l1.1-3-.8-2-1.1 2.2z"/><path class="p16" d="M58.2 68.4l1-3.9-.8-2.8-1 3.9z"/><path class="p22" d="M47.9 60.5l1-1.7-.8-.7-1 .5z"/><path class="p24" d="M103.3 42.5l1-2.7-.8-1-1 1.8z"/><path class="p22" d="M102.2 46.8l1.1-4.3-.8-1.9-1.1 3.7z"/><path class="p19" d="M101.2 52.1l1-5.3-.8-2.5-1 5z"/><path class="p16" d="M100.2 57.4l1-5.3-.8-2.8-1 5.5z"/><path class="p20" d="M89.9 50.8l1-1-.8-.2-1 .1z"/><path class="p19" d="M88.9 53.6l1-2.8-.8-1.1-1 2.1z"/><path class="p17" d="M87.8 57.4l1.1-3.8-.8-1.8-1.1 3.7z"/><path class="p15" d="M86.8 61.2l1-3.8-.8-1.9-1 4z"/><path class="p17" d="M79.6 59l1-1.7-.8-.4-1 1.1z"/><path class="p16" d="M78.6 61.5l1-2.5-.8-1-1 2.5z"/><path class="p15" d="M77.5 62.9l1.1-1.4-.8-1-1.1 1.8zM74.4 62.2l1.1-.9-.8 .1-1.1 .2zM73.4 62.5l1-.3-.8-.6-1-.1zM72.4 63.4l1-.9-.8-1-1 1.7z"/><path class="p16" d="M69.3 63.1l1-1.2-.8-.2-1-.2z"/><path class="p15" d="M68.3 65.6l1-2.5-.8-1.6-1 2.1z"/><path class="p22" d="M49.7 59.7l1.1-.8-.8 .3-1.1-.4z"/><path class="p21" d="M48.7 62.5l1-2.8-.8-.9-1 1.7z"/><path class="p23" d="M104.1 45.1l1-3.7-.8-1.6-1 2.7z"/><path class="p20" d="M103 49.9l1.1-4.8-.8-2.6-1.1 4.3z"/><path class="p17" d="M102 55.3l1-5.4-.8-3.1-1 5.3z"/><path class="p14" d="M101 60.3l1-5-.8-3.2-1 5.3z"/><path class="p20" d="M90.7 52.5l1-2.1-.8-.6-1 1z"/><path class="p18" d="M89.7 56.1l1-3.6-.8-1.7-1 2.8z"/><path class="p16" d="M88.6 60l1.1-3.9-.8-2.5-1.1 3.8z"/><path class="p14" d="M87.6 63.1l1-3.1-.8-2.6-1 3.8z"/><path class="p17" d="M81.4 58.4l1-1.1-.8 .4-1-.4z"/><path class="p16" d="M80.4 61l1-2.6-.8-1.1-1 1.7z"/><path class="p15" d="M79.4 63.2l1-2.2-.8-2-1 2.5z"/><path class="p14" d="M78.3 63.1l1.1 .1-.8-1.7-1.1 1.4z"/><path class="p15" d="M75.2 63.2l1.1-1.8-.8-.1-1.1 .9zM74.2 63.1l1 .1-.8-1-1 .3z"/><path class="p16" d="M70.1 64.1l1-1.6-.8-.6-1 1.2z"/><path class="p18" d="M62.9 62l1-1.1-.8 0-1 .2z"/><path class="p17" d="M61.9 65l1-3-.8-.9-1 2.3z"/><path class="p22" d="M50.5 60.9l1.1-1.8-.8-.2-1.1 .8z"/><path class="p21" d="M49.5 64.6l1-3.7-.8-1.2-1 2.8z"/><path class="p22" d="M104.9 48l1-4.6-.8-2-1 3.7z"/><path class="p19" d="M103.8 53.4l1.1-5.4-.8-2.9-1.1 4.8z"/><path class="p15" d="M102.8 58.8l1-5.4-.8-3.5-1 5.4z"/><path class="p20" d="M92.5 51.2l1-1.4-.8 .6-1 0z"/><path class="p19" d="M91.5 54.5l1-3.3-.8-.8-1 2.1z"/><path class="p17" d="M90.4 58.8l1.1-4.3-.8-2-1 3.6z"/><path class="p15" d="M89.4 62.8l1-4-.7-2.7-1.1 3.9z"/><path class="p13" d="M88.4 65.1l1-2.3-.8-2.8-1 3.1z"/><path class="p17" d="M82.2 59.3l1-2.5-.8 .5-1 1.1z"/><path class="p16" d="M81.2 62.8l1-3.5-.8-.9-1 2.6z"/><path class="p14" d="M80.2 64.8l1-2-.8-1.8-1 2.2z"/><path class="p16" d="M77.1 61.9l1-.6-.8 .1-1 0z"/><path class="p15" d="M76 62.6l1.1-.7-.8-.5-1.1 1.8z"/><path class="p16" d="M71.9 64.6l1-1.9-.8 .2-1-.4z"/><path class="p18" d="M64.7 62.1l1 .4-.8-.5-1-1.1zM63.7 63.6l1-1.5-.8-1.2-1 1.1z"/><path class="p17" d="M62.6 66.6l1.1-3-.8-1.6-1 3z"/><path class="p22" d="M52.4 60.1l1-.3-.8-.3-1-.4z"/><path class="p21" d="M51.3 62.6l1.1-2.5-.8-1-1.1 1.8z"/><path class="p20" d="M50.3 66.7l1-4.1-.8-1.7-1 3.7zM105.7 51.1l1-5.5-.8-2.2-1 4.6z"/><path class="p17" d="M104.6 57l1.1-5.9-.8-3.1-1.1 5.4z"/><path class="p13" d="M103.6 62.3l1-5.3-.8-3.6-1 5.4z"/><path class="p20" d="M93.3 52l1-2.7-.8 .5-1 1.4z"/><path class="p18" d="M92.3 56.4l1-4.4-.8-.8-1 3.3z"/><path class="p16" d="M91.2 61.4l1.1-5-.8-1.9-1.1 4.3z"/><path class="p13" d="M90.2 65.3l1-3.9-.8-2.6-1 4z"/><path class="p17" d="M83 60l1-3.2-.8 0-1 2.5z"/><path class="p15" d="M82 63.8l1-3.8-.8-.7-1 3.5z"/><path class="p16" d="M77.9 63.4l1-.7-.8-1.4-1 .6zM76.8 61.9l1.1 1.5-.8-1.5-1.1 .7z"/><path class="p15" d="M72.7 64.7l1-1.1-.8-.9-1 1.9z"/><path class="p17" d="M65.5 64.3l1-.7-.8-1.1-1-.4zM64.5 66.1l1-1.8-.8-2.2-1 1.5z"/><path class="p16" d="M63.4 68.7l1.1-2.6-.8-2.5-1.1 3z"/><path class="p21" d="M54.2 61l1 .8-.8-.3-1-1.7zM53.1 62.1l1.1-1.1-.8-1.2-1 .3zM52.1 65l1-2.9-.7-2-1.1 2.5z"/><path class="p18" d="M51.1 69.2l1-4.2-.8-2.4-1 4.1z"/><path class="p19" d="M106.5 54l1-6.2-.8-2.2-1 5.5z"/><path class="p15" d="M105.4 60.2l1.1-6.2-.8-2.9-1.1 5.9z"/><path class="p20" d="M94.1 53l1-3.7-.8 0-1 2.7z"/><path class="p18" d="M93.1 58.1l1-5.1-.8-1-1 4.4zM84.8 57.9l1.1-1.2-.8-.5-1.1 .6z"/><path class="p17" d="M83.8 61l1-3.1-.8-1.1-1 3.2z"/><path class="p15" d="M78.7 65l1 .2-.8-2.5-1 .7zM77.6 63.2l1.1 1.8-.8-1.6-1.1-1.5z"/><path class="p16" d="M76.6 62.3l1 .9-.8-1.3-1 1.2z"/><path class="p17" d="M66.3 66.8l1-2.7-.8-.5-1 .7z"/><path class="p16" d="M65.3 69.4l1-2.6-.8-2.5-1 1.8z"/><path class="p14" d="M64.2 71.5l1.1-2.1-.8-3.3-1.1 2.6z"/><path class="p21" d="M55 63.1l1-.4-.8-.9-1-.8z"/><path class="p20" d="M53.9 64.9l1.1-1.8-.8-2.1-1.1 1.1z"/><path class="p19" d="M52.9 68.1l1-3.2-.8-2.8-1 2.9z"/><path class="p17" d="M51.9 72.2l1-4.1-.8-3.1-1 4.2z"/><path class="p22" d="M95.9 50.1l1.1-1.9-.8 0-1.1 1.1z"/><path class="p20" d="M94.9 54.3l1-4.2-.8-.8-1 3.7z"/><path class="p17" d="M93.9 59.6l1-5.3-.8-1.3-1 5.1zM86.7 58.6l1 .5-.8-.7-1-1.7zM85.6 60.4l1.1-1.8-.8-1.9-1.1 1.2z"/><path class="p16" d="M84.6 62.6l1-2.2-.8-2.5-1 3.1z"/><path class="p15" d="M78.4 65.8l1.1-.1-.8-.7-1.1-1.8zM77.4 63.9l1 1.9-.8-2.6-1-.9z"/><path class="p16" d="M75.3 64.2l1.1-2-.8 .7-1.1 3.1z"/><path class="p18" d="M68.1 63.5l1.1-2.6-.8 1.4-1.1 1.8z"/><path class="p20" d="M56.8 63.7l1-.5-.8 .6-1-1.1zM55.8 65.5l1-1.8-.8-1-1 .4z"/><path class="p19" d="M54.7 68.3l1.1-2.8-.8-2.4-1.1 1.8z"/><path class="p17" d="M53.7 71.9l1-3.6-.8-3.4-1 3.2z"/><path class="p15" d="M52.7 75.7l1-3.8-.8-3.8-1 4.1z"/><path class="p22" d="M97.8 49.4l1 .1-.8-.4-1-.9z"/><path class="p21" d="M96.7 51.8l1.1-2.4-.8-1.2-1.1 1.9z"/><path class="p19" d="M95.7 56.1l1-4.3-.8-1.7-1 4.2z"/><path class="p11" d="M91.6 65.8l1 .7-.8 .8-1 .2z"/><path class="p17" d="M87.5 61.6l1-1.3-.8-1.2-1-.5z"/><path class="p16" d="M86.4 63.9l1.1-2.3-.8-3-1.1 1.8z"/><path class="p15" d="M85.4 64.6l1-.7-.8-3.5-1 2.2z"/><path class="p14" d="M78.2 66.7l1 1-.8-1.9-1-1.9z"/><path class="p16" d="M77.2 64.5l1 2.2-.8-2.8-1-1.7zM76.1 63.7l1.1 .8-.8-2.3-1.1 2z"/><path class="p18" d="M70 62.7l1 3.6-.8-3.5-1-1.9zM68.9 63l1.1-.3-.8-1.8-1.1 2.6z"/><path class="p17" d="M67.9 67.7l1-4.7-.8 .5-1 4.6z"/><path class="p20" d="M57.6 64.3l1-2.1-.8 1-1 .5z"/><path class="p19" d="M56.6 67.7l1-3.4-.8-.6-1 1.8z"/><path class="p17" d="M55.5 71.8l1.1-4.1-.8-2.2-1.1 2.8z"/><path class="p15" d="M54.5 75.9l1-4.1-.8-3.5-1 3.6z"/><path class="p13" d="M53.5 79.5l1-3.6-.8-4-1 3.8z"/><path class="p21" d="M98.5 51.8l1.1-.9-.8-1.4-1-.1z"/><path class="p20" d="M97.5 54.7l1-2.9-.7-2.4-1.1 2.4z"/><path class="p18" d="M96.5 58.7l1-4-.8-2.9-1 4.3z"/><path class="p16" d="M89.3 61.6l1-1.5-.8 1-1-.8z"/><path class="p15" d="M88.3 64.9l1-3.3-.8-1.3-1 1.3z"/><path class="p14" d="M87.2 67.6l1.1-2.7-.8-3.3-1.1 2.3z"/><path class="p17" d="M83.1 62.3l1-3.2-.8 0-1 2.9z"/><path class="p14" d="M78 68l1 .6-.8-1.9-1-2.2z"/><path class="p15" d="M76.9 66.3l1.1 1.7-.8-3.5-1.1-.8z"/><path class="p16" d="M75.9 64.8l1 1.5-.8-2.6-1 2.4z"/><path class="p17" d="M70.7 68l1.1-4.4-.8 2.7-1-3.6zM69.7 65.9l1 2.1-.7-5.3-1.1 .3zM68.7 67.2l1-1.3-.8-2.9-1 4.7z"/><path class="p21" d="M58.4 64.4l1-3.5-.8 1.3-1 2.1z"/><path class="p19" d="M57.4 69.3l1-4.9-.8-.1-1 3.4z"/><path class="p16" d="M56.3 74.7l1.1-5.4-.8-1.6-1.1 4.1z"/><path class="p13" d="M55.3 79.6l1-4.9-.8-2.9-1 4.1z"/><path class="p11" d="M54.3 83.2l1-3.6-.8-3.7-1 3.6z"/><path class="p7" d="M106.6 69.4l1 0-.8 .5-1 1z"/><path class="p8" d="M105.5 67.2l1.1 2.2-.8 1.5-1.1-1.6z"/><path class="p20" d="M100.4 53.3l1 0-.8-.8-1-1.6zM99.3 55.2l1.1-1.9-.8-2.4-1.1 .9z"/><path class="p18" d="M98.3 58.5l1-3.3-.8-3.4-1 2.9z"/><path class="p16" d="M97.3 61.9l1-3.4-.8-3.8-1 4zM90.1 62.8l1-3.9-.8 1.2-1 1.5z"/><path class="p14" d="M89 67.8l1.1-5-.8-1.2-1 3.3z"/><path class="p12" d="M88 70.4l1-2.6-.7-2.9-1.1 2.7z"/><path class="p17" d="M84.9 62.7l1.1-.2-.8-.6-1.1-2.8zM83.9 61.8l1 .9-.8-3.6-1 3.2zM81.8 63.2l1.1-2.9-.8 1.1-1.1 3.3z"/><path class="p13" d="M77.7 70.1l1.1 .3-.8-2.4-1.1-1.7z"/><path class="p15" d="M76.7 67.1l1 3-.8-3.8-1-1.5z"/><path class="p17" d="M72.6 65l1 2.9-.8-3-1-1.3zM71.5 65.7l1.1-.7-.8-1.4-1.1 4.4z"/><path class="p15" d="M69.5 70.3l1 2-.8-6.4-1 1.3z"/><path class="p14" d="M68.5 70.7l1-.4-.8-3.1-1 4.9z"/><path class="p21" d="M59.2 64.1l1-3.9-.8 .7-1 3.5z"/><path class="p19" d="M58.2 70l1-5.9-.8 .3-1 4.9z"/><path class="p15" d="M57.1 76.5l1.1-6.5-.8-.7-1.1 5.4z"/><path class="p11" d="M56.1 82.3l1-5.8-.8-1.8-1 4.9z"/><path class="p9" d="M55.1 86.3l1-4-.8-2.7-1 3.6z"/><path class="p8" d="M107.3 66.9l1.1 1.1-.8 1.4-1 0z"/><path class="p9" d="M106.3 64.1l1 2.8-.7 2.5-1.1-2.2z"/><path class="p19" d="M101.2 56.2l1-1.7-.8-1.2-1 0z"/><path class="p18" d="M100.1 59.4l1.1-3.2-.8-2.9-1.1 1.9z"/><path class="p16" d="M99.1 63l1-3.6-.8-4.2-1 3.3z"/><path class="p14" d="M98.1 65.5l1-2.5-.8-4.5-1 3.4z"/><path class="p17" d="M90.9 63.6l1-5.8-.8 1.1-1 3.9z"/><path class="p13" d="M89.8 69.5l1.1-5.9-.8-.8-1.1 5z"/><path class="p15" d="M85.7 66.9l1.1-2.1-.8-2.3-1.1 .2z"/><path class="p18" d="M82.6 62.3l1.1-.8-.8-1.2-1.1 2.9z"/><path class="p13" d="M77.5 70.7l1 1.5-.8-2.1-1-3z"/><path class="p16" d="M72.3 68.1l1.1 1.3-.8-4.4-1.1 .7z"/><path class="p23" d="M61 61l1 0-.8-1.7-1 .9z"/><path class="p22" d="M60 64.3l1-3.3-.8-.8-1 3.9z"/><path class="p19" d="M59 70.1l1-5.8-.8-.2-1 5.9z"/><path class="p15" d="M57.9 77.1l1.1-7-.8-.1-1.1 6.5z"/><path class="p11" d="M56.9 83.5l1-6.4-.8-.6-1 5.8z"/><path class="p7" d="M55.9 88.1l1-4.6-.8-1.2-1 4z"/><path class="p9" d="M109.2 66l1 .6-.8 .4-1 1z"/><path class="p10" d="M108.1 63.7l1.1 2.3-.8 2-1.1-1.1z"/><path class="p19" d="M103 55.8l1-1.7-.8 .8-1-.4z"/><path class="p18" d="M102 59.4l1-3.6-.8-1.3-1 1.7z"/><path class="p16" d="M100.9 63.8l1.1-4.4-.8-3.2-1.1 3.2z"/><path class="p13" d="M99.9 67.5l1-3.7-.8-4.4-1 3.6z"/><path class="p20" d="M92.7 57.5l1-3.9-.8 1.7-1 2.5z"/><path class="p17" d="M91.7 64.1l1-6.6-.8 .3-1 5.8z"/><path class="p13" d="M87.6 69.3l1-2.6-.8 1.1-1-3zM86.5 68.7l1.1 .6-.8-4.5-1.1 2.1z"/><path class="p17" d="M84.5 64.3l1 .4-.8-2.9-1-.3zM83.4 62.8l1.1 1.5-.8-2.8-1.1 .8z"/><path class="p19" d="M75.2 61.4l1 3.3-.8-3-1 1.3z"/><path class="p18" d="M74.2 64.8l1-3.4-.8 1.6-1 6.4z"/><path class="p20" d="M62.8 64.8l1.1 2.5-.8-3.3-1.1-3z"/><path class="p22" d="M61.8 63.9l1 .9-.8-3.8-1 0z"/><path class="p21" d="M60.8 65.9l1-2-.8-2.9-1 3.3z"/><path class="p19" d="M59.8 70.5l1-4.6-.8-1.6-1 5.8z"/><path class="p15" d="M58.7 76.8l1.1-6.3-.8-.4-1.1 7z"/><path class="p11" d="M57.7 83.2l1-6.4-.8 .3-1 6.4z"/><path class="p7" d="M56.7 88.1l1-4.9-.8 .3-1 4.6z"/><path class="p10" d="M110 63.7l1 2.3-.8 .6-1-.6z"/><path class="p12" d="M108.9 60.1l1.1 3.6-.8 2.3-1.1-2.3z"/><path class="p19" d="M103.8 57.1l1-3.8-.8 .8-1 1.7z"/><path class="p17" d="M102.8 62.4l1-5.3-.8-1.3-1 3.6z"/><path class="p14" d="M101.7 67.9l1.1-5.5-.8-3-1.1 4.4z"/><path class="p11" d="M100.7 71.7l1-3.8-.8-4.1-1 3.7z"/><path class="p20" d="M93.5 58.1l1-4.5-.8 0-1 3.9z"/><path class="p17" d="M92.5 64.2l1-6.1-.8-.6-1 6.6z"/><path class="p13" d="M90.4 65.9l1 1.4-.8 2.1-1 .3zM88.3 72.3l1.1-6.3-.8 .7-1 2.6z"/><path class="p14" d="M86.3 68.9l1-.2-.8 0-1-4z"/><path class="p15" d="M85.3 68l1 .9-.8-4.2-1-.4z"/><path class="p16" d="M84.2 64.9l1.1 3.1-.8-3.7-1.1-1.5z"/><path class="p15" d="M77 69.6l1.1 2.2-.8-2-1.1-5.1z"/><path class="p17" d="M76 65.6l1 4-.8-4.9-1-3.3z"/><path class="p19" d="M75 63.7l1 1.9-.8-4.2-1 3.4z"/><path class="p16" d="M73.9 68.4l1.1-4.7-.8 1.1-1.1 8.6z"/><path class="p18" d="M64.7 69.6l1-1.8-.8 1.8-1-2.3zM63.6 69.6l1.1 0-.8-2.3-1.1-2.5z"/><path class="p19" d="M62.6 69.1l1 .5-.8-4.8-1-.9zM61.6 69.6l1-.5-.8-5.2-1 2z"/><path class="p18" d="M60.5 72.2l1.1-2.6-.8-3.7-1 4.6z"/><path class="p15" d="M59.5 76.6l1-4.4-.7-1.7-1.1 6.3z"/><path class="p11" d="M58.5 81.8l1-5.2-.8 .2-1 6.4z"/><path class="p8" d="M57.5 86.4l1-4.6-.8 1.4-1 4.9z"/><path class="p21" d="M105.6 52.6l1-3-.7 2.4-1.1 1.3z"/><path class="p19" d="M104.6 58.2l1-5.6-.8 .7-1 3.8z"/><path class="p15" d="M103.6 65l1-6.8-.8-1.1-1 5.3z"/><path class="p12" d="M102.5 71.1l1.1-6.1-.8-2.6-1.1 5.5z"/><path class="p21" d="M95.3 55.6l1.1-1.2-.8-1-1.1 .2z"/><path class="p20" d="M94.3 60l1-4.4-.8-2-1 4.5z"/><path class="p15" d="M92.2 63.7l1.1 .2-.8 .3-1.1 3.1zM91.2 61.4l1 2.3-.8 3.6-1-1.4z"/><path class="p13" d="M87.1 72.5l1-2.8-.8-1-1 .2zM86.1 71.5l1 1-.8-3.6-1-.9z"/><path class="p14" d="M85 68l1.1 3.5-.8-3.5-1.1-3.1z"/><path class="p17" d="M84 64.7l1 3.3-.8-3.1-1-2.5z"/><path class="p18" d="M83 63l1 1.7-.8-2.3-1 0z"/><path class="p15" d="M76.8 71.6l1 .9-.8-2.9-1-4z"/><path class="p17" d="M75.8 68.7l1 2.9-.8-6-1-1.9zM74.7 67.1l1.1 1.6-.8-5-1.1 4.7z"/><path class="p19" d="M65.5 68.8l1-5.6-.8 4.6-1 1.8z"/><path class="p17" d="M64.4 73.2l1.1-4.4-.8 .8-1.1 0z"/><path class="p16" d="M63.4 75.1l1-1.9-.8-3.6-1-.5zM62.4 75.5l1-.4-.8-6-1 .5z"/><path class="p15" d="M61.3 76l1.1-.5-.8-5.9-1.1 2.6z"/><path class="p14" d="M60.3 77.6l1-1.6-.8-3.8-1 4.4z"/><path class="p12" d="M59.3 80.3l1-2.7-.8-1-1 5.2z"/><path class="p10" d="M58.3 83.4l1-3.1-.8 1.5-1 4.6z"/><path class="p22" d="M106.4 52.1l1-4.5-.8 2-1 3z"/><path class="p19" d="M105.4 59.1l1-7-.8 .5-1 5.6z"/><path class="p15" d="M104.4 66.8l1-7.7-.8-.9-1 6.8z"/><path class="p20" d="M97.1 57.4l1.1 1.7-.8-1.3-1-3.4zM96.1 59.4l1-2-.7-3-1.1 1.2z"/><path class="p18" d="M95.1 62.7l1-3.3-.8-3.8-1 4.4z"/><path class="p16" d="M91 67.2l1-8.5-.8 2.7-1 5.8z"/><path class="p12" d="M87.9 74.2l1-3.7-.8-.8-1 2.8z"/><path class="p11" d="M86.9 73.8l1 .4-.8-1.7-1-1z"/><path class="p12" d="M85.8 71.3l1.1 2.5-.8-2.3-1.1-3.5z"/><path class="p15" d="M84.8 68.3l1 3-.8-3.3-1-3.3z"/><path class="p17" d="M83.8 65.6l1 2.7-.8-3.6-1-1.7z"/><path class="p18" d="M82.7 63.4l1.1 2.2-.8-2.6-1.1 0z"/><path class="p13" d="M77.6 75.3l1-3.4-.8 .6-1-.9zM76.6 75.4l1-.1-.8-3.7-1-2.9z"/><path class="p15" d="M75.5 72.2l1.1 3.2-.8-6.7-1.1-1.6zM74.5 69.4l1 2.8-.8-5.1-1 4.4z"/><path class="p13" d="M71.4 72.5l1 6.9-.8-4.2-1-3z"/><path class="p23" d="M67.3 59.6l1 3.5-.8-2.6-1 2.7z"/><path class="p21" d="M66.3 64.9l1-5.3-.8 3.6-1 5.6z"/><path class="p17" d="M65.2 73.2l1.1-8.3-.8 3.9-1.1 4.4z"/><path class="p14" d="M64.2 79.4l1-6.2-.8 0-1 1.9z"/><path class="p12" d="M63.2 81.9l1-2.5-.8-4.3-1 .4zM62.1 81.7l1.1 .2-.8-6.4-1.1 .5zM61.1 80.7l1 1-.8-5.7-1 1.6zM60.1 80.2l1 .5-.8-3.1-1 2.7z"/><path class="p11" d="M59.1 80.5l1-.3-.8 .1-1 3.1z"/><path class="p23" d="M107.2 52.1l1-5.5-.8 1-1 4.5z"/><path class="p19" d="M106.2 59.9l1-7.8-.8 0-1 7z"/><path class="p7" d="M102.1 74.7l1 1.6-.8 .2-1-1z"/><path class="p18" d="M97.9 61.9l1.1-.3-.8-2.5-1.1-1.7zM96.9 64.6l1-2.7-.8-4.5-1 2z"/><path class="p16" d="M95.9 65.8l1-1.2-.8-5.2-1 3.3z"/><path class="p18" d="M91.8 63.1l1-2.9-.8-1.5-1 8.5z"/><path class="p11" d="M86.6 73.7l1 .6-.7-.5-1.1-2.5z"/><path class="p13" d="M85.6 72.2l1 1.5-.8-2.4-1-3z"/><path class="p15" d="M84.6 69.5l1 2.7-.8-3.9-1-2.7z"/><path class="p17" d="M83.5 65.9l1.1 3.6-.8-3.9-1.1-2.2z"/><path class="p11" d="M76.3 78.9l1.1 .4-.8-3.9-1.1-3.2z"/><path class="p13" d="M75.3 74l1 4.9-.8-6.7-1-2.8zM72.2 76.7l1-6.4-.8 9.1-1-6.9z"/><path class="p18" d="M69.1 71.7l1-6.2-.8 7.2-1-9.6z"/><path class="p21" d="M68.1 63.6l1 8.1-.8-8.6-1-3.5z"/><path class="p22" d="M67.1 62.1l1 1.5-.8-4-1 5.3z"/><path class="p19" d="M66 69.6l1.1-7.5-.8 2.8-1.1 8.3z"/><path class="p14" d="M65 79.5l1-9.9-.8 3.6-1 6.2z"/><path class="p10" d="M64 86.2l1-6.7-.8-.1-1 2.5z"/><path class="p9" d="M62.9 87.9l1.1-1.7-.8-4.3-1.1-.2zM61.9 85.8l1 2.1-.8-6.2-1-1z"/><path class="p11" d="M60.9 82.2l1 3.6-.8-5.1-1-.5z"/><path class="p12" d="M59.8 79.1l1.1 3.1-.8-2-1 .3z"/><path class="p26" d="M109 46.7l1.1-2.9-.8 .6-1.1 2.2z"/><path class="p23" d="M108 52.8l1-6.1-.8-.1-1 5.5z"/><path class="p8" d="M103.9 74.4l1-1.3-.8 .8-1 2.4zM102.9 72.2l1 2.2-.8 1.9-1-1.6z"/><path class="p15" d="M99.8 64.8l1 .3-.8-.3-1-3.2z"/><path class="p16" d="M98.7 67.5l1.1-2.7-.8-3.2-1.1 .3z"/><path class="p14" d="M97.7 70.2l1-2.7-.8-5.6-1 2.7z"/><path class="p20" d="M93.6 62.2l1-6-.8-.1-1 4.1z"/><path class="p12" d="M88.4 73l1.1-1.8-.8 2.5-1.1 .6z"/><path class="p11" d="M86.4 75l1-.5-.8-.8-1-1.5z"/><path class="p13" d="M85.4 73.5l1 1.5-.8-2.8-1-2.7z"/><path class="p15" d="M84.3 69.9l1.1 3.6-.8-4-1.1-3.6z"/><path class="p17" d="M83.3 65.5l1 4.4-.8-4-1-3.2z"/><path class="p20" d="M82.3 62.1l1 3.4-.8-2.8-1-1.2zM81.2 61.8l1.1 .3-.8-.6-1.1 2.1z"/><path class="p10" d="M76.1 80.2l1 2.1-.8-3.4-1-4.9z"/><path class="p18" d="M68.9 73.9l1-8.8-.8 6.6-1-8.1z"/><path class="p20" d="M67.9 67.2l1 6.7-.8-10.3-1-1.5zM66.8 67.1l1.1 .1-.8-5.1-1.1 7.5z"/><path class="p16" d="M65.8 75.6l1-8.5-.8 2.5-1 9.9z"/><path class="p7" d="M63.7 91.5l1.1-5.7-.8 .4-1.1 1.7z"/><path class="p6" d="M62.7 91.2l1 .3-.8-3.6-1-2.1z"/><path class="p8" d="M61.7 86.4l1 4.8-.8-5.4-1-3.6z"/><path class="p11" d="M60.6 80.2l1.1 6.2-.8-4.2-1.1-3.1z"/><path class="p27" d="M110.9 44.7l1 .2-.8-.2-1-.9z"/><path class="p26" d="M109.8 48.2l1.1-3.5-.8-.9-1.1 2.9z"/><path class="p23" d="M108.8 54.4l1-6.2-.8-1.5-1 6.1z"/><path class="p9" d="M104.7 70.8l1 .1-.8 2.2-1 1.3z"/><path class="p14" d="M100.6 68.3l1-3-.8-.2-1-.3z"/><path class="p13" d="M99.5 73.1l1.1-4.8-.8-3.5-1.1 2.7z"/><path class="p11" d="M98.5 75l1-1.9-.8-5.6-1 2.7z"/><path class="p19" d="M95.4 61.9l1-1-.7 0-1.1-4.7zM94.4 61l1 .9-.8-5.7-1 6z"/><path class="p20" d="M92.3 62l1.1-4.8-.8 .7-1.1 4.4z"/><path class="p15" d="M90.3 67.4l1-2-.8 2.7-1 3.1z"/><path class="p14" d="M89.2 70.1l1.1-2.7-.8 3.8-1.1 1.8z"/><path class="p11" d="M87.2 76.1l1-2.6-.8 1-1 .5zM86.2 76.4l1-.3-.8-1.1-1-1.5z"/><path class="p12" d="M85.1 74.1l1.1 2.3-.8-2.9-1.1-3.6z"/><path class="p15" d="M84.1 69.8l1 4.3-.8-4.2-1-4.4z"/><path class="p18" d="M83.1 65.5l1 4.3-.8-4.3-1-3.4z"/><path class="p20" d="M82 63l1.1 2.5-.8-3.4-1.1-.3zM81 63.8l1-.8-.8-1.2-1 3.6z"/><path class="p19" d="M69.7 67.8l1-.2-.8-2.5-1 8.8z"/><path class="p17" d="M68.6 78.9l1.1-11.1-.8 6.1-1-6.7zM67.6 72.8l1 6.1-.7-11.7-1.1-.1zM66.6 72.7l1 .1-.8-5.7-1 8.5z"/><path class="p9" d="M61.4 83.7l1.1 7.2-.8-4.5-1.1-6.2z"/><path class="p26" d="M111.7 47.4l1-.7-.8-1.8-1-.2z"/><path class="p25" d="M110.6 51.2l1.1-3.8-.8-2.7-1.1 3.5z"/><path class="p22" d="M109.6 56.9l1-5.7-.8-3-1 6.2z"/><path class="p12" d="M105.5 66l1 1.6-.8 3.3-1-.1z"/><path class="p15" d="M102.4 65.5l1-2.8-.8 3-1-.4z"/><path class="p13" d="M101.4 71.8l1-6.3-.8-.2-1 3z"/><path class="p10" d="M100.3 77.7l1.1-5.9-.8-3.5-1.1 4.8z"/><path class="p17" d="M96.2 68.1l1-4.1-.8-3.1-1 1z"/><path class="p20" d="M93.1 62.4l1.1-2.6-.8-2.6-1.1 4.8z"/><path class="p17" d="M91.1 63.6l1-.8-.8 2.6-1 2z"/><path class="p16" d="M90 66.5l1.1-2.9-.8 3.8-1.1 2.7z"/><path class="p11" d="M86.9 77.4l1.1-2.2-.8 .9-1 .3zM85.9 77l1 .4-.7-1-1.1-2.3z"/><path class="p13" d="M84.9 74.4l1 2.6-.8-2.9-1-4.3z"/><path class="p15" d="M83.9 70.6l1 3.8-.8-4.6-1-4.3z"/><path class="p18" d="M82.8 67l1.1 3.6-.8-5.1-1.1-2.5z"/><path class="p19" d="M81.8 65.3l1 1.7-.8-4-1 .8zM80.8 66.3l1-1-.8-1.5-1 4.4z"/><path class="p13" d="M78.7 75.8l1-5.6-.8 4.5-1 6.1z"/><path class="p10" d="M77.7 80.5l1-4.7-.8 5-1 2.1zM76.7 81.3l1-.8-.8 2.4-1-3.9z"/><path class="p18" d="M71.5 75.1l1-11.8-.8 9.7-1-5.4z"/><path class="p16" d="M69.4 72.8l1.1-1.5-.8-3.5-1.1 11.1z"/><path class="p14" d="M68.4 85.3l1-12.5-.8 6.1-1-6.1zM67.4 78.3l1 7-.8-12.5-1-.1zM66.4 76.9l1 1.4-.8-5.6-1 8.2z"/><path class="p6" d="M64.3 90.9l1-7.3-.8 6.4-1 3.8z"/><path class="p5" d="M63.3 92.6l1-1.7-.8 2.9-1-2.9z"/><path class="p7" d="M62.2 87.6l1.1 5-.8-1.7-1.1-7.2z"/><path class="p24" d="M113.5 50.1l1 1.6-.8-2-1-3zM112.5 51.6l1-1.5-.8-3.4-1 .7z"/><path class="p23" d="M111.4 55.5l1.1-3.9-.8-4.2-1.1 3.8z"/><path class="p20" d="M110.4 60.2l1-4.7-.8-4.3-1 5.7z"/><path class="p14" d="M107.3 63.7l1 1.5-.8 1.3-1 1.1z"/><path class="p15" d="M106.3 60.6l1 3.1-.8 3.9-1-1.6z"/><path class="p16" d="M103.2 65.9l1-6-.8 2.8-1 2.8z"/><path class="p13" d="M102.2 74.4l1-8.5-.8-.4-1 6.3z"/><path class="p8" d="M101.1 80l1.1-5.6-.8-2.6-1.1 5.9z"/><path class="p14" d="M98 71.8l1.1-1.9-.8 .3-1.1-6.2zM97 69.8l1 2-.8-7.8-1 4.1z"/><path class="p19" d="M95 64.3l1-1.6-.8-3.3-1 .4zM93.9 63.5l1.1 .8-.8-4.5-1.1 2.6zM90.8 63.1l1.1-2.5-.8 3-1.1 2.9z"/><path class="p11" d="M85.7 77.8l1 .2-.8-1-1-2.6z"/><path class="p13" d="M84.7 75.8l1 2-.8-3.4-1-3.8z"/><path class="p15" d="M83.6 72.7l1.1 3.1-.8-5.2-1.1-3.6z"/><path class="p17" d="M82.6 69.6l1 3.1-.8-5.7-1-1.7z"/><path class="p18" d="M81.6 67.5l1 2.1-.8-4.3-1 1z"/><path class="p13" d="M78.5 74.5l1-4.3-.8 5.6-1 4.7z"/><path class="p11" d="M77.4 78.4l1.1-3.9-.8 6-1 .8z"/><path class="p15" d="M75.4 74.2l1 4.7-.8-2.6-1-9.1z"/><path class="p20" d="M74.4 65.9l1 8.3-.8-7-1-7.1z"/><path class="p23" d="M73.3 60.4l1.1 5.5-.8-5.8-1.1 3.2z"/><path class="p21" d="M72.3 65.7l1-5.3-.8 2.9-1 11.8z"/><path class="p16" d="M71.3 79.9l1-14.2-.8 9.4-1-3.8z"/><path class="p13" d="M69.2 78.5l1-1.7-.8-4-1 12.5z"/><path class="p11" d="M67.2 81.9l1 9-.8-12.6-1-1.4z"/><path class="p13" d="M66.1 78.2l1.1 3.7-.8-5-1.1 6.7z"/><path class="p10" d="M65.1 83l1-4.8-.8 5.4-1 7.3z"/><path class="p7" d="M64.1 88.5l1-5.5-.8 7.9-1 1.7zM63 88.6l1.1-.1-.8 4.1-1.1-5z"/><path class="p22" d="M114.3 54.6l1 .1-.8-3-1-1.6zM113.3 57.1l1-2.5-.8-4.5-1 1.5z"/><path class="p20" d="M112.2 60.9l1.1-3.8-.8-5.5-1.1 3.9z"/><path class="p15" d="M109.1 63.7l1.1 1.7-.8-1.5-1.1 1.3z"/><path class="p16" d="M108.1 59.7l1 4-.8 1.5-1-1.5z"/><path class="p17" d="M104 66.4l1-8.6-.8 2.1-1 6z"/><path class="p12" d="M103 75.6l1-9.2-.8-.5-1 8.5z"/><path class="p11" d="M98.8 78.3l1.1-7-.8-1.4-1.1 1.9z"/><path class="p15" d="M96.8 68.9l1 .4-.8 .5-1-7.1z"/><path class="p16" d="M95.7 69.1l1.1-.2-.8-6.2-1 1.6z"/><path class="p14" d="M88.5 73.3l1.1-4.3-.8 3.6-1.1 3.7z"/><path class="p11" d="M86.5 79l1-2.2-.8 1.2-1-.2zM85.5 79.6l1-.6-.8-1.2-1-2z"/><path class="p12" d="M84.4 78.3l1.1 1.3-.8-3.8-1.1-3.1z"/><path class="p14" d="M83.4 75.4l1 2.9-.8-5.6-1-3.1z"/><path class="p16" d="M82.4 71.5l1 3.9-.8-5.8-1-2.1z"/><path class="p18" d="M81.3 68.2l1.1 3.3-.8-4-1.1 .1z"/><path class="p16" d="M75.2 74.3l1 3.3-.8-3.4-1-8.3z"/><path class="p20" d="M74.1 67.4l1.1 6.9-.8-8.4-1.1-5.5z"/><path class="p22" d="M73.1 63.4l1 4-.8-7-1 5.3z"/><path class="p19" d="M72.1 70.3l1-6.9-.8 2.3-1 14.2z"/><path class="p13" d="M65.9 76.2l1 6.2-.8-4.2-1 4.8z"/><path class="p12" d="M64.9 79.4l1-3.2-.8 6.8-1 5.5z"/><path class="p10" d="M63.8 83.9l1.1-4.5-.8 9.1-1.1 .1z"/><path class="p19" d="M116.1 58.3l1 .7-.8-1.4-1-2.9zM115.1 60.1l1-1.8-.8-3.6-1-.1z"/><path class="p18" d="M114 63.5l1.1-3.4-.8-5.5-1 2.5z"/><path class="p16" d="M113 66.9l1-3.4-.7-6.4-1.1 3.8z"/><path class="p22" d="M105.8 56.9l1-5.8-.8 3-1 3.7z"/><path class="p9" d="M102.7 75.4l1.1-.6-.8 .8-1.1 3.8z"/><path class="p11" d="M100.7 76.7l1-6-.8 4.1-1-3.5z"/><path class="p10" d="M99.6 78.1l1.1-1.4-.8-5.4-1.1 7z"/><path class="p13" d="M97.6 75.4l1-2.8-.8-3.3-1-.4zM96.5 73.6l1.1 1.8-.8-6.5-1.1 .2z"/><path class="p22" d="M92.4 60.1l1.1-.2-.8-.7-1.1 1.5z"/><path class="p21" d="M91.4 62.1l1-2-.8 .6-1 3.7z"/><path class="p19" d="M90.4 65.3l1-3.2-.8 2.3-1 4.6z"/><path class="p16" d="M89.3 69.3l1.1-4-.8 3.7-1.1 4.3z"/><path class="p14" d="M88.3 73.7l1-4.4-.8 4-1 3.5z"/><path class="p10" d="M86.2 81.2l1.1-3.2-.8 1-1 .6zM85.2 82.4l1-1.2-.7-1.6-1.1-1.3z"/><path class="p11" d="M84.2 81l1 1.4-.8-4.1-1-2.9z"/><path class="p13" d="M83.2 77.1l1 3.9-.8-5.6-1-3.9z"/><path class="p16" d="M82.1 71.7l1.1 5.4-.8-5.6-1.1-3.3z"/><path class="p14" d="M76 78.7l1-3.3-.8 2.2-1-3.3z"/><path class="p16" d="M74.9 77l1.1 1.7-.8-4.4-1.1-6.9z"/><path class="p19" d="M73.9 71.4l1 5.6-.8-9.6-1-4z"/><path class="p20" d="M72.9 68.1l1 3.3-.8-8-1 6.9z"/><path class="p16" d="M71.8 75.6l1.1-7.5-.8 2.2-1.1 15.5z"/><path class="p9" d="M68.7 84.6l1.1 1.3-.8-3-1.1 11.2z"/><path class="p7" d="M67.7 94.1l1-9.5-.8 9.5-1-11.7z"/><path class="p11" d="M66.7 79.7l1 14.4-.8-11.7-1-6.2z"/><path class="p16" d="M65.7 71.6l1 8.1-.8-3.5-1 3.2zM64.6 74l1.1-2.4-.8 7.8-1.1 4.5z"/><path class="p17" d="M116.9 62.3l1-1.8-.8-1.5-1-.7z"/><path class="p16" d="M115.9 66l1-3.7-.8-4-1 1.8z"/><path class="p14" d="M114.8 70.2l1.1-4.2-.8-5.9-1.1 3.4z"/><path class="p12" d="M113.8 73l1-2.8-.8-6.7-1 3.4z"/><path class="p23" d="M106.6 57.5l1-7.3-.8 .9-1 5.8z"/><path class="p12" d="M103.5 68.8l1 2.8-.7 3.2-1.1 .6z"/><path class="p11" d="M101.5 79.8l1-11.6-.8 2.5-1 6z"/><path class="p10" d="M99.4 77.4l1-3.3-.8 4-1-5.5zM98.4 80.4l1-3-.8-4.8-1 2.8zM97.3 77.1l1.1 3.3-.8-5-1.1-1.8z"/><path class="p21" d="M93.2 61.4l1.1 1.3-.8-2.8-1.1 .2zM92.2 61.4l1 0-.8-1.3-1 2z"/><path class="p19" d="M90.1 65.4l1.1-2.7-.8 2.6-1.1 4z"/><path class="p16" d="M89.1 69.7l1-4.3-.8 3.9-1 4.4z"/><path class="p9" d="M86 83.9l1-3.7-.8 1-1 1.2z"/><path class="p8" d="M85 84.8l1-.9-.8-1.5-1-1.4z"/><path class="p10" d="M84 82.4l1 2.4-.8-3.8-1-3.9z"/><path class="p13" d="M82.9 76.9l1.1 5.5-.8-5.3-1.1-5.4z"/><path class="p15" d="M76.7 77.2l1.1-7.7-.8 5.9-1 3.3z"/><path class="p13" d="M75.7 82.4l1-5.2-.7 1.5-1.1-1.7z"/><path class="p14" d="M74.7 82l1 .4-.8-5.4-1-5.6z"/><path class="p16" d="M73.7 76.6l1 5.4-.8-10.6-1-3.3z"/><path class="p17" d="M72.6 72.9l1.1 3.7-.8-8.5-1.1 7.5z"/><path class="p8" d="M70.6 94.3l1-14.6-.8 11.5-1-5.3z"/><path class="p9" d="M68.5 83.1l1 3.5-.8-2-1 9.5zM67.5 91.2l1-8.1-.8 11-1-14.4z"/><path class="p14" d="M66.5 74.8l1 16.4-.8-11.5-1-8.1z"/><path class="p20" d="M65.4 65.8l1.1 9-.8-3.2-1.1 2.4z"/><path class="p17" d="M118.7 62.1l1.1-2-.8 1.2-1.1-.8z"/><path class="p16" d="M117.7 66.4l1-4.3-.8-1.6-1 1.8z"/><path class="p13" d="M116.7 71.9l1-5.5-.8-4.1-1 3.7z"/><path class="p11" d="M115.6 76.6l1.1-4.7-.8-5.9-1.1 4.2z"/><path class="p26" d="M108.4 51.6l1.1-2.8-.8 .1-1.1 1.3z"/><path class="p23" d="M107.4 59.3l1-7.7-.8-1.4-1 7.3z"/><path class="p15" d="M105.3 66l1.1 .1-.8 .7-1.1 4.8z"/><path class="p16" d="M104.3 61.7l1 4.3-.8 5.6-1-2.8zM103.3 70.3l1-8.6-.8 7.1-1-.6z"/><path class="p12" d="M102.3 75.3l1-5-.8-2.1-1 11.6z"/><path class="p10" d="M100.2 80.9l1-7.5-.8 .7-1 3.3z"/><path class="p8" d="M99.2 83l1-2.1-.8-3.5-1 3z"/><path class="p15" d="M96.1 70.1l1 4.2-.8-3.3-1-5.2z"/><path class="p18" d="M95 67.1l1.1 3-.8-4.3-1-3.1z"/><path class="p20" d="M94 64.6l1 2.5-.7-4.4-1.1-1.3z"/><path class="p21" d="M93 62.7l1 1.9-.8-3.2-1 0zM92 61.7l1 1-.8-1.3-1 1.3z"/><path class="p19" d="M77.5 71.8l1.1-8.1-.8 5.8-1.1 7.7z"/><path class="p14" d="M76.5 81.4l1-9.6-.8 5.4-1 5.2z"/><path class="p10" d="M75.5 87.8l1-6.4-.8 1-1-.4z"/><path class="p11" d="M74.5 87.5l1 .3-.8-5.8-1-5.4z"/><path class="p13" d="M73.4 81.3l1.1 6.2-.8-10.9-1.1-3.7z"/><path class="p15" d="M72.4 76l1 5.3-.8-8.4-1 6.8z"/><path class="p12" d="M71.4 81.1l1-5.1-.8 3.7-1 14.6z"/><path class="p8" d="M70.3 94.3l1.1-13.2-.8 13.2-1.1-7.7z"/><path class="p9" d="M69.3 84.3l1 10-.8-7.7-1-3.5z"/><path class="p11" d="M68.3 79l1 5.3-.8-1.2-1 8.1z"/><path class="p12" d="M67.2 86.6l1.1-7.6-.8 12.2-1-16.4z"/><path class="p18" d="M66.2 69.4l1 17.2-.7-11.8-1.1-9z"/><path class="p17" d="M119.5 63.5l1.1-4.6-.8 1.2-1.1 2z"/><path class="p14" d="M118.5 70.2l1-6.7-.8-1.4-1 4.3z"/><path class="p10" d="M117.5 77.1l1-6.9-.8-3.8-1 5.5zM113.3 70.7l1.1 8.3-.8-2.7-1-6.6z"/><path class="p25" d="M109.2 55.4l1.1-4.1-.8-2.5-1.1 2.8z"/><path class="p22" d="M108.2 61.9l1-6.5-.8-3.8-1 7.7z"/><path class="p18" d="M106.1 59l1.1 5.1-.8 2-1.1-.1z"/><path class="p20" d="M105.1 57.6l1 1.4-.8 7-1-4.3z"/><path class="p17" d="M104.1 71l1-13.4-.8 4.1-1 8.6z"/><path class="p10" d="M101 82l1-7.9-.8-.7-1 7.5z"/><path class="p13" d="M96.9 74.8l1 2.4-.8-2.9-1-4.2z"/><path class="p15" d="M95.8 72.4l1.1 2.4-.8-4.7-1.1-3z"/><path class="p17" d="M94.8 69.3l1 3.1-.8-5.3-1-2.5z"/><path class="p19" d="M93.8 65.7l1 3.6-.8-4.7-1-1.9z"/><path class="p21" d="M92.8 62.8l1 2.9-.8-3-1-1z"/><path class="p22" d="M91.7 61.6l1.1 1.2-.8-1.1-1.1 .9z"/><path class="p8" d="M84.5 85.1l1 1.3-.7-.6-1.1-3.9z"/><path class="p24" d="M80.4 61.1l1 4.9-.8-4.3-1-1.7z"/><path class="p25" d="M79.4 61l1 .1-.8-1.1-1 3.7z"/><path class="p22" d="M78.3 66.4l1.1-5.4-.8 2.7-1.1 8.1z"/><path class="p17" d="M77.3 76.2l1-9.8-.8 5.4-1 9.6z"/><path class="p11" d="M76.3 86.8l1-10.6-.8 5.2-1 6.4z"/><path class="p7" d="M75.3 93.2l1-6.4-.8 1-1-.3z"/><path class="p8" d="M74.2 91.9l1.1 1.3-.8-5.7-1.1-6.2z"/><path class="p11" d="M73.2 83.8l1 8.1-.8-10.6-1-5.3z"/><path class="p14" d="M72.2 76.3l1 7.5-.8-7.8-1 5.1z"/><path class="p12" d="M71.1 79.6l1.1-3.3-.8 4.8-1.1 13.2z"/><path class="p9" d="M70.1 91.6l1-12-.8 14.7-1-10z"/><path class="p12" d="M69.1 79.9l1 11.7-.8-7.3-1-5.3z"/><path class="p15" d="M68 73.8l1.1 6.1-.8-.9-1.1 7.6z"/><path class="p16" d="M67 82.1l1-8.3-.8 12.8-1-17.2z"/><path class="p17" d="M120.3 64.8l1.1-7.1-.8 1.2-1.1 4.6z"/><path class="p13" d="M119.3 73.4l1-8.6-.8-1.3-1 6.7z"/><path class="p8" d="M118.3 81.3l1-7.9-.8-3.2-1 6.9z"/><path class="p4" d="M115.2 80.4l1 5.5-.8-2.9-1-4z"/><path class="p9" d="M114.1 71.2l1.1 9.2-.8-1.4-1.1-8.3z"/><path class="p24" d="M111.1 56.3l1-.2-.8-2.8-1-2z"/><path class="p23" d="M110 61l1.1-4.7-.8-5-1.1 4.1z"/><path class="p20" d="M109 64.5l1-3.5-.8-5.6-1 6.5z"/><path class="p19" d="M108 60.8l1 3.7-.8-2.6-1 2.2z"/><path class="p21" d="M106.9 53l1.1 7.8-.8 3.3-1.1-5.1z"/><path class="p19" d="M104.9 64.8l1-4.6-.8-2.6-1 13.4z"/><path class="p17" d="M103.8 63.4l1.1 1.4-.8 6.2-1-4z"/><path class="p15" d="M102.8 74.1l1-10.7-.7 3.6-1.1 7.1z"/><path class="p8" d="M100.8 80.7l1-.6-.8 1.9-1 1zM99.7 79.7l1.1 1-.8 2.3-1.1-2.7z"/><path class="p11" d="M97.7 79.1l1 .3-.8-2.2-1-2.4z"/><path class="p12" d="M96.6 77.7l1.1 1.4-.8-4.3-1.1-2.4z"/><path class="p14" d="M95.6 74.6l1 3.1-.8-5.3-1-3.1z"/><path class="p16" d="M94.6 70.2l1 4.4-.8-5.3-1-3.6z"/><path class="p19" d="M93.6 65.8l1 4.4-.8-4.5-1-2.9z"/><path class="p21" d="M92.5 62.8l1.1 3-.8-3-1.1-1.2z"/><path class="p22" d="M91.5 62.1l1 .7-.8-1.2-1 1.4z"/><path class="p21" d="M90.5 64.1l1-2-.8 .9-1 4z"/><path class="p15" d="M88.4 74.2l1-5.7-.8 4.3-1 6.3z"/><path class="p12" d="M87.4 79.8l1-5.6-.8 4.9-1 5z"/><path class="p9" d="M86.3 83.9l1.1-4.1-.8 4.3-1.1 2.3z"/><path class="p8" d="M85.3 85.4l1-1.5-.8 2.5-1-1.3z"/><path class="p17" d="M82.2 72.5l1.1 6.4-.8-5.7-1.1-7.2z"/><path class="p21" d="M81.2 66.3l1 6.2-.8-6.5-1-4.9z"/><path class="p24" d="M80.2 62.9l1 3.4-.8-5.2-1-.1zM79.1 64.2l1.1-1.3-.8-1.9-1.1 5.4z"/><path class="p20" d="M78.1 70.8l1-6.6-.8 2.2-1 9.8z"/><path class="p14" d="M77.1 81.2l1-10.4-.8 5.4-1 10.6z"/><path class="p5" d="M75 97.1l1-5.5-.7 1.6-1.1-1.3z"/><path class="p15" d="M71.9 73.7l1.1 9.7-.8-7.1-1.1 3.3z"/><path class="p14" d="M70.9 75.6l1-1.9-.8 5.9-1 12z"/><path class="p12" d="M69.9 87.3l1-11.7-.8 16-1-11.7z"/><path class="p16" d="M68.8 74.9l1.1 12.4-.8-7.4-1.1-6.1z"/><path class="p18" d="M67.8 69.3l1 5.6-.8-1.1-1 8.3z"/><path class="p22" d="M122.1 56.6l1.1-6.3-.8 3.2-1 4.2z"/><path class="p17" d="M121.1 65.8l1-9.2-.7 1.1-1.1 7.1z"/><path class="p12" d="M120.1 75.8l1-10-.8-1-1 8.6z"/><path class="p6" d="M119.1 84l1-8.2-.8-2.4-1 7.9z"/><path class="p4" d="M116 80.3l1 6.4-.8-.8-1-5.5z"/><path class="p9" d="M114.9 71.4l1.1 8.9-.8 .1-1.1-9.2z"/><path class="p19" d="M112.9 61l1 2.8-.8-2-1-5.7z"/><path class="p21" d="M111.9 63.5l1-2.5-.8-4.9-1 .2z"/><path class="p19" d="M110.8 67.5l1.1-4-.8-7.2-1.1 4.7zM108.8 56.9l1 9.3-.8-1.7-1-3.7z"/><path class="p24" d="M107.7 51.5l1.1 5.4-.8 3.9-1.1-7.8z"/><path class="p23" d="M106.7 62.7l1-11.2-.8 1.5-1 7.2z"/><path class="p16" d="M103.6 72.4l1-9.5-.8 .5-1 10.7z"/><path class="p10" d="M101.6 76.6l1-.7-.8 4.2-1 .6zM100.5 78l1.1-1.4-.8 4.1-1.1-1zM99.5 80.3l1-2.3-.8 1.7-1-.3z"/><path class="p9" d="M98.5 82.3l1-2-.8-.9-1-.3zM97.4 82.3l1.1 0-.8-3.2-1.1-1.4z"/><path class="p11" d="M96.4 79.8l1 2.5-.8-4.6-1-3.1z"/><path class="p13" d="M95.4 75.4l1 4.4-.8-5.2-1-4.4z"/><path class="p17" d="M94.3 70.3l1.1 5.1-.8-5.2-1-4.4z"/><path class="p20" d="M93.3 66l1 4.3-.7-4.5-1.1-3z"/><path class="p22" d="M92.3 63.4l1 2.6-.8-3.2-1-.7zM91.3 63.2l1 .2-.8-1.3-1 2z"/><path class="p21" d="M90.2 65.4l1.1-2.2-.8 .9-1.1 4.4z"/><path class="p18" d="M89.2 69.3l1-3.9-.8 3.1-1 5.7z"/><path class="p15" d="M88.2 74.3l1-5-.8 4.9-1 5.6z"/><path class="p12" d="M87.1 79.1l1.1-4.8-.8 5.5-1.1 4.1z"/><path class="p10" d="M86.1 82.7l1-3.6-.8 4.8-1 1.5z"/><path class="p9" d="M85.1 84.1l1-1.4-.8 2.7-1-1.8z"/><path class="p11" d="M84.1 82.8l1 1.3-.8-.5-1-4.7z"/><path class="p14" d="M83 79l1.1 3.8-.8-3.9-1.1-6.4z"/><path class="p17" d="M82 73.9l1 5.1-.8-6.5-1-6.2z"/><path class="p21" d="M81 69l1 4.9-.8-7.6-1-3.4z"/><path class="p23" d="M79.9 66.6l1.1 2.4-.8-6.1-1.1 1.3z"/><path class="p22" d="M78.9 68.5l1-1.9-.8-2.4-1 6.6z"/><path class="p18" d="M77.9 75.2l1-6.7-.8 2.3-1 10.4z"/><path class="p12" d="M76.8 85.1l1.1-9.9-.8 6-1.1 10.4z"/><path class="p6" d="M73.8 93.1l1 5.2-.8-4.4-1-10.5z"/><path class="p13" d="M72.7 80.4l1.1 12.7-.8-9.7-1.1-9.7z"/><path class="p18" d="M71.7 69l1 11.4-.8-6.7-1 1.9zM70.7 70.6l1-1.6-.8 6.6-1 11.7z"/><path class="p16" d="M69.6 82.9l1.1-12.3-.8 16.7-1.1-12.4z"/><path class="p19" d="M68.6 71.1l1 11.8-.8-8-1-5.6z"/><path class="p23" d="M122.9 56l1.1-8.1-.8 2.4-1.1 6.3z"/><path class="p18" d="M121.9 66.5l1-10.5-.8 .6-1 9.2z"/><path class="p11" d="M120.9 77.1l1-10.6-.8-.7-1 10z"/><path class="p5" d="M119.9 84.9l1-7.8-.8-1.3-1 8.2z"/><path class="p2" d="M118.8 87.9l1.1-3-.8-.9-1.1 4.1z"/><path class="p1" d="M117.8 85.5l1 2.4-.8 .2-1-1.4z"/><path class="p4" d="M116.8 78.9l1 6.6-.8 1.2-1-6.4z"/><path class="p9" d="M115.7 71.4l1.1 7.5-.8 1.4-1.1-8.9z"/><path class="p17" d="M113.7 67.5l1-.7-.8-3-1-2.8z"/><path class="p16" d="M112.6 71.7l1.1-4.2-.8-6.5-1 2.5z"/><path class="p15" d="M111.6 73.4l1-1.7-.7-8.2-1.1 4zM110.6 66.5l1 6.9-.8-5.9-1-1.3z"/><path class="p20" d="M109.6 54.4l1 12.1-.8-.3-1-9.3z"/><path class="p24" d="M108.5 58l1.1-3.6-.8 2.5-1.1-5.4z"/><path class="p23" d="M107.5 58.9l1-.9-.8-6.5-1 11.2zM106.5 53.9l1 5-.8 3.8-1-6.8z"/><path class="p22" d="M105.4 63.2l1.1-9.3-.8 2-1.1 7z"/><path class="p17" d="M104.4 69l1-5.8-.8-.3-1 9.5z"/><path class="p14" d="M103.4 70.3l1-1.3-.8 3.4-1 3.5z"/><path class="p13" d="M102.4 71.7l1-1.4-.8 5.6-1 .7z"/><path class="p12" d="M101.3 75.2l1.1-3.5-.8 4.9-1.1 1.4z"/><path class="p11" d="M100.3 79.9l1-4.7-.8 2.8-1 2.3z"/><path class="p9" d="M99.3 83.8l1-3.9-.8 .4-1 2z"/><path class="p8" d="M98.2 85.3l1.1-1.5-.8-1.5-1.1 0zM97.2 84l1 1.3-.8-3-1-2.5z"/><path class="p10" d="M96.2 80.4l1 3.6-.8-4.2-1-4.4z"/><path class="p14" d="M95.1 75.6l1.1 4.8-.8-5-1.1-5.1z"/><path class="p17" d="M94.1 70.8l1 4.8-.8-5.3-1-4.3z"/><path class="p20" d="M93.1 66.9l1 3.9-.8-4.8-1-2.6z"/><path class="p21" d="M92.1 64.6l1 2.3-.8-3.5-1-.2z"/><path class="p22" d="M91 64.2l1.1 .4-.8-1.4-1.1 2.2z"/><path class="p21" d="M90 65.7l1-1.5-.8 1.2-1 3.9z"/><path class="p19" d="M89 68.8l1-3.1-.8 3.6-1 5z"/><path class="p16" d="M87.9 73.1l1.1-4.3-.8 5.5-1.1 4.8z"/><path class="p13" d="M86.9 77.6l1-4.5-.8 6-1 3.6z"/><path class="p11" d="M85.9 81.6l1-4-.8 5.1-1 1.4zM84.8 83.8l1.1-2.2-.8 2.5-1-1.3zM83.8 83.8l1 0-.7-1-1.1-3.8z"/><path class="p13" d="M82.8 81.4l1 2.4-.8-4.8-1-5.1z"/><path class="p16" d="M81.8 77.3l1 4.1-.8-7.5-1-4.9z"/><path class="p19" d="M80.7 73.1l1.1 4.2-.8-8.3-1.1-2.4z"/><path class="p20" d="M79.7 70.9l1 2.2-.8-6.5-1 1.9z"/><path class="p19" d="M78.7 72.3l1-1.4-.8-2.4-1 6.7z"/><path class="p16" d="M77.6 78.1l1.1-5.8-.8 2.9-1.1 9.9z"/><path class="p10" d="M76.6 86.8l1-8.7-.8 7-1 9.4z"/><path class="p5" d="M75.6 94.6l1-7.8-.8 7.7-1 3.8z"/><path class="p4" d="M74.6 96.8l1-2.2-.8 3.7-1-5.2z"/><path class="p8" d="M73.5 89.9l1.1 6.9-.8-3.7-1.1-12.7z"/><path class="p16" d="M72.5 75.8l1 14.1-.8-9.5-1-11.4z"/><path class="p22" d="M71.5 63.8l1 12-.8-6.8-1 1.6zM70.4 66.1l1.1-2.3-.8 6.8-1.1 12.3z"/><path class="p19" d="M69.4 80.3l1-14.2-.8 16.8-1-11.8z"/><path class="p28" d="M124.8 46.6l1-5.5-.8 2.7-1 4.1z"/><path class="p24" d="M123.7 55.9l1.1-9.3-.8 1.3-1.1 8.1z"/><path class="p18" d="M122.7 67l1-11.1-.8 .1-1 10.5z"/><path class="p11" d="M121.7 77.2l1-10.2-.8-.5-1 10.6z"/><path class="p5" d="M120.7 83.9l1-6.7-.8-.1-1 7.8z"/><path class="p2" d="M119.6 85.5l1.1-1.6-.8 1-1.1 3z"/><path class="p3" d="M118.6 82.1l1 3.4-.8 2.4-1-2.4z"/><path class="p6" d="M117.6 76.2l1 5.9-.8 3.4-1-6.6z"/><path class="p10" d="M116.5 71.3l1.1 4.9-.8 2.7-1.1-7.5z"/><path class="p14" d="M115.5 70.8l1 .5-.8 .1-1-4.6zM114.5 74.9l1-4.1-.8-4-1 .7z"/><path class="p12" d="M113.4 79.7l1.1-4.8-.8-7.4-1.1 4.2z"/><path class="p10" d="M112.4 77.6l1 2.1-.8-8-1 1.7z"/><path class="p14" d="M111.4 65.6l1 12-.8-4.2-1-6.9z"/><path class="p21" d="M110.4 56.7l1 8.9-.8 .9-1-12.1z"/><path class="p22" d="M109.3 64.9l1.1-8.2-.8-2.3-1.1 3.6zM108.3 53.3l1 11.6-.8-6.9-1 .9z"/><path class="p25" d="M107.3 56.6l1-3.3-.8 5.6-1-5z"/><path class="p23" d="M106.2 63.3l1.1-6.7-.8-2.7-1.1 9.3z"/><path class="p19" d="M105.2 64.8l1-1.5-.8-.1-1 5.8z"/><path class="p18" d="M104.2 64.5l1 .3-.8 4.2-1 1.3z"/><path class="p17" d="M103.1 66.6l1.1-2.1-.8 5.8-1 1.4z"/><path class="p15" d="M102.1 71.8l1-5.2-.7 5.1-1.1 3.5z"/><path class="p12" d="M101.1 78.1l1-6.3-.8 3.4-1 4.7z"/><path class="p9" d="M100.1 83.5l1-5.4-.8 1.8-1 3.9z"/><path class="p7" d="M99 86.5l1.1-3-.8 .3-1.1 1.5zM98 86.7l1-.2-.8-1.2-1-1.3z"/><path class="p8" d="M97 84.5l1 2.2-.8-2.7-1-3.6z"/><path class="p11" d="M95.9 80.8l1.1 3.7-.8-4.1-1.1-4.8z"/><path class="p14" d="M94.9 76.4l1 4.4-.8-5.2-1-4.8z"/><path class="p17" d="M93.9 72l1 4.4-.8-5.6-1-3.9z"/><path class="p19" d="M92.9 68.1l1 3.9-.8-5.1-1-2.3z"/><path class="p21" d="M91.8 65.3l1.1 2.8-.8-3.5-1.1-.4z"/><path class="p22" d="M90.8 64l1 1.3-.8-1.1-1 1.5z"/><path class="p21" d="M89.8 64.7l1-.7-.8 1.7-1 3.1z"/><path class="p20" d="M88.7 67.3l1.1-2.6-.8 4.1-1.1 4.3z"/><path class="p18" d="M87.7 71.5l1-4.2-.8 5.8-1 4.5z"/><path class="p15" d="M86.7 76.7l1-5.2-.8 6.1-1 4z"/><path class="p12" d="M85.6 81.8l1.1-5.1-.8 4.9-1.1 2.2z"/><path class="p11" d="M84.6 85.5l1-3.7-.8 2-1 0z"/><path class="p10" d="M83.6 86.9l1-1.4-.8-1.7-1-2.4z"/><path class="p12" d="M82.6 85.5l1 1.4-.8-5.5-1-4.1z"/><path class="p14" d="M81.5 81.8l1.1 3.7-.8-8.2-1.1-4.2z"/><path class="p17" d="M80.5 77.4l1 4.4-.8-8.7-1-2.2z"/><path class="p18" d="M79.5 74.2l1 3.2-.8-6.5-1 1.4zM78.4 74.3l1.1-.1-.8-1.9-1.1 5.8z"/><path class="p15" d="M77.4 78.6l1-4.3-.8 3.8-1 8.7z"/><path class="p10" d="M76.4 85.7l1-7.1-.8 8.2-1 7.8z"/><path class="p7" d="M75.3 92.2l1.1-6.5-.8 8.9-1 2.2z"/><path class="p6" d="M74.3 93.3l1-1.1-.7 4.6-1.1-6.9z"/><path class="p11" d="M73.3 85.6l1 7.7-.8-3.4-1-14.1z"/><path class="p19" d="M72.3 71.2l1 14.4-.8-9.8-1-12z"/><path class="p26" d="M71.2 59.7l1.1 11.5-.8-7.4-1.1 2.3z"/><path class="p24" d="M70.2 63.6l1-3.9-.8 6.4-1 14.2z"/></g>
<path d="M70.2 106.5L125.8 89.9M70.2 106.5L27.2 83.3M27.2 83.3L27.2 33.3M70.2 106.5L69.12 105.92M98 98.2L96.92 97.62M125.8 89.9L124.72 89.32M70.2 106.5L71.59 106.08M48.7 94.9L50.09 94.48M27.2 83.3L28.59 82.88M27.2 83.3L28.31 82.97M27.2 70.8L28.31 70.47M27.2 58.3L28.31 57.97M27.2 45.8L28.31 45.47M27.2 33.3L28.31 32.97" stroke="#555" stroke-width="0.4" fill="none"/>
<text x="76.5" y="13.66" font-size="4.6" text-anchor="middle" fill="#3a3a3a" >Parameter space</text>
<text x="24.9" y="34.54" font-size="4.55" text-anchor="end" fill="#3a3a3a" >1000</text>
<text x="24.9" y="46.94" font-size="4.55" text-anchor="end" fill="#3a3a3a" >500</text>
<text x="24.9" y="59.34" font-size="4.55" text-anchor="end" fill="#3a3a3a" >0</text>
<text x="24.9" y="71.14" font-size="4.55" text-anchor="end" fill="#3a3a3a" >−500</text>
<text x="24.9" y="82.64" font-size="4.55" text-anchor="end" fill="#3a3a3a" >−1000</text>
<text x="21.6" y="89.04" font-size="4.55" text-anchor="middle" fill="#3a3a3a" >500</text>
<text x="44" y="101.24" font-size="4.55" text-anchor="middle" fill="#3a3a3a" >0</text>
<text x="60.8" y="112.64" font-size="4.55" text-anchor="middle" fill="#3a3a3a" >−500</text>
<text x="77" y="112.64" font-size="4.55" text-anchor="middle" fill="#3a3a3a" >−500</text>
<text x="102.5" y="103.94" font-size="4.55" text-anchor="middle" fill="#3a3a3a" >0</text>
<text x="131.2" y="95.24" font-size="4.55" text-anchor="middle" fill="#3a3a3a" >500</text>
<text x="42" y="113.48" font-size="4.95" text-anchor="middle" fill="#3a3a3a" >x<tspan font-size="3.4" dy="1.3">2</tspan></text>
<text x="101" y="114.18" font-size="4.95" text-anchor="middle" fill="#3a3a3a" >x<tspan font-size="3.4" dy="1.3">1</tspan></text>
<text transform="translate(9 57.5) rotate(-90)" font-size="5.0" word-spacing="0.6" text-anchor="middle" fill="#3a3a3a">F24( x<tspan font-size="3.4" dy="1.3">1</tspan><tspan dy="-1.3"> , x</tspan><tspan font-size="3.4" dy="1.3">2</tspan><tspan dy="-1.3"> )</tspan></text>
</g>
<g>
<path d="M300.2 80.9L357.7 64.2M357.7 64.2L402.1 87.4M357.7 64.2L357.7 14.8M300.2 31.5L357.7 14.8M357.7 14.8L402.1 38M402.1 87.4L402.1 38M358.98 99.92L314.57 76.73M314.57 76.73L314.57 27.33M373.35 95.75L328.95 72.55M328.95 72.55L328.95 23.15M387.73 91.58L343.32 68.38M343.32 68.38L343.32 18.98M322.4 92.5L379.9 75.8M379.9 75.8L379.9 26.4M300.2 68.55L357.7 51.85M357.7 51.85L402.1 75.05M300.2 56.2L357.7 39.5M357.7 39.5L402.1 62.7M300.2 43.85L357.7 27.15M357.7 27.15L402.1 50.35" stroke="#dedede" stroke-width="0.4" fill="none"/>
<g><path fill="none" stroke="#4743e7" stroke-width="0.35" opacity="0.8" d="M398.4 85.5l-.8 .5-.9 .1-.8-.1-.7-.6 .7-.5 1.2-.1M339.6 101.5l.5-.4 1.1-.2 1.2 .2 .4 .6-1 .4-.9 .1M362.7 66.8l-.5 .4-1.1 .2-1.2-.2-.4-.6 1-.4 .9-.1M303.9 82.8l.8-.5 .9-.1 .8 .1 .7 .6-.7 .5-1.2 .1"/><path fill="none" stroke="#4367fd" stroke-width="0.35" opacity="0.8" d="M344.7 104.1l1-.4 .9-.2M400.1 88l.8-.3 1.1-.3M398.9 85.7l-.9 .5-.9 .1-1.1 0-.7-.2-.8-.5 .6-.8 .7-.3 .7 0M339 101.2l1-.5 1.5-.1 .9 .2 1 .4-.1 .8-1.1 .4-.8 0M363.3 67.1l-1 .5-1.5 .1-.9-.2-1-.4 .1-.8 1.1-.4 .8 0M303.4 82.6l.9-.5 .9-.1 1.1 0 .7 .2 .8 .5-.6 .8-.7 .3-.7 0M302.2 80.3l-.8 .3-1.1 .3M357.6 64.2l-1 .4-.9 .2"/><path fill="none" stroke="#2d8cf3" stroke-width="0.35" opacity="0.8" d="M344.5 104l1-.3 1.3-.3 .6-.1M399.3 88.2l.9-.4 1.1-.3 .7-.2M399.3 85.9l-1 .4-1.4 .2-.9 0-1.2-.2-.8-.5 .3-1.1 1.1-.3 .7-.1M338.6 101l1-.5 1.4-.1 1 0 1 .2 .9 .4 .3 .6-.6 .6-1.1 .3-.7 .1M363.7 67.3l-1 .5-1.4 .1-1 0-1-.2-.9-.4-.3-.6 .6-.6 1.1-.3 .7-.1M303 82.4l1-.4 1.4-.2 .9 0 1.2 .2 .8 .5-.3 1.1-1.1 .3-.7 .1M303 80.1l-.9 .4-1.1 .3-.7 .2M357.8 64.3l-1 .3-1.3 .3-.6 .1"/><path fill="none" stroke="#1caadf" stroke-width="0.35" opacity="0.8" d="M344.3 103.9l1.1-.3 1.2-.3 1.4-.2M398.7 88.4l.8-.5 1.1-.4 1.2-.3M399.6 86.1l-1.1 .4-1.3 .2-1.5 0-1.4-.3-.8-.5-.3-.6 .8-.8 1-.3 .7-.1M338.2 100.8l1.1-.4 1.3-.2 .9-.1 1.1 .2 .8 .2 1 .4 .4 .6-.5 .6-1 .4-1.2 .3M364.1 67.5l-1.1 .4-1.3 .2-.9 .1-1.1-.2-.8-.2-1-.4-.4-.6 .5-.6 1-.4 1.2-.3M302.7 82.2l1.1-.4 1.3-.2 1.5 0 1.4 .3 .8 .5 .3 .6-.8 .8-1 .3-.7 .1M303.6 79.9l-.8 .5-1.1 .4-1.2 .3M358 64.4l-1.1 .3-1.2 .3-1.4 .2"/><path fill="none" stroke="#12beb9" stroke-width="0.35" opacity="0.8" d="M398.2 88.5l.7-.4 1-.5 1.1-.3 .6-.1M344.1 103.9l1.1-.4 1.2-.3 1.5-.2 .6 0M399.8 86.2l-1 .4-1.3 .3-1.4 .1-.9-.1-1.3-.4-.8-.5-.5-.5 .6-.9 1-.4 1.2-.3M337.9 100.6l1.1-.4 1.1-.2 1-.1 .9 .1 1.2 .2 1.2 .4 .7 .5-.1 .9-.9 .4-1.1 .4-.7 .1M391.6 81.9l-1 .4-1.1 .1-.8-.1-.7-.4 .4-.7 1.2-.3 .1 0M332.2 97.6l1-.4 1.6 0 1 .4-.4 .8-1.3 .2M370.1 70.7l-1 .4-1.6 0-1-.4 .4-.8 1.3-.2M310.7 86.4l1-.4 1.1-.1 .8 .1 .7 .4-.4 .7-1.2 .3-.1 0M364.4 67.7l-1.1 .4-1.1 .2-1 .1-.9-.1-1.2-.2-1.2-.4-.7-.5 .1-.9 .9-.4 1.1-.4 .7-.1M302.5 82.1l1-.4 1.3-.3 1.4-.1 .9 .1 1.3 .4 .8 .5 .5 .5-.6 .9-1 .4-1.2 .3M358.2 64.4l-1.1 .4-1.2 .3-1.5 .2-.6 0M304.1 79.8l-.7 .4-1 .5-1.1 .3-.6 .1"/><path fill="none" stroke="#48cb86" stroke-width="0.35" opacity="0.8" d="M353.4 101.5l.8-.3 1.2-.3 .8-.2M390.5 90.8l1.1-.5 1.2-.3 .5 0M397.7 88.7l.6-.5 .9-.4 1.1-.4 1.2-.3M344 103.8l1.1-.4 1.2-.3 1.1-.2 1-.1 .6 0M400.1 86.3l-1.1 .4-1.3 .3-.8 .1-1.4 0-1.4-.3-1-.4-.7-.5-.3-.6 .3-.6 .9-.5 1.1-.3 .7-.2M350.7 99.8l-1 0-1.1-.5-.4-.6 .5-.4 1.3-.3 .9 0 1.2 .3 .7 .5-.8 .8-1.3 .2M388.1 89l-1.3 0-1.1-.4-.2-.7 .6-.4 1.3-.3 1.1 .1 .7 .2 .7 .5-.5 .7-1.3 .3M337.6 100.4l1.1-.3 1.2-.3 1.2-.1 1.1 0 .8 .2 1.2 .3 1 .5 .6 .5-.4 .9-1.1 .4-1.1 .4-.6 .1M392.3 82.3l-1.1 .4-1.4 .1-1 0-1-.3-.9-.4 .3-1.1 1-.4 .7-.1M331.4 97.2l1.1-.4 1.5-.1 1 0 .8 .2 .9 .5 .4 .6-.6 .5-1 .4-.7 .1M383.8 77.8l-.8 .6-1.3-.2 .5-.7 1 0M325.7 94.2l.8-.5 1.2 .2-.4 .7-1-.1M376.6 74.1l-.8 .5-1.2-.2 .4-.7 1 .1M318.5 90.5l.8-.6 1.3 .2-.5 .7-1 0M370.9 71.1l-1.1 .4-1.5 .1-1 0-.8-.2-.9-.5-.4-.6 .6-.5 1-.4 .7-.1M310 86l1.1-.4 1.4-.1 1 0 1 .3 .9 .4-.3 1.1-1 .4-.7 .1M364.7 67.9l-1.1 .3-1.2 .3-1.2 .1-1.1 0-.8-.2-1.2-.3-1-.5-.6-.5 .4-.9 1.1-.4 1.1-.4 .6-.1M314.9 81.1l-1.1-.1-.7-.2-.7-.5 .5-.7 1.3-.3 1.3 0 1.1 .4 .2 .7-.6 .4-1.3 .3M352.3 70.3l-.9 0-1.2-.3-.7-.5 .8-.8 1.3-.2 1 0 1.1 .5 .4 .6-.5 .4-1.3 .3M302.2 82l1.1-.4 1.3-.3 .8-.1 1.4 0 1.4 .3 1 .4 .7 .5 .3 .6-.3 .6-.9 .5-1.1 .3-.7 .2M358.3 64.5l-1.1 .4-1.2 .3-1.1 .2-1 .1-.6 0M304.6 79.6l-.6 .5-.9 .4-1.1 .4-1.2 .3M311.8 77.5l-1.1 .5-1.2 .3-.5 0M348.9 66.8l-.8 .3-1.2 .3-.8 .2"/><path fill="none" stroke="#9fc942" stroke-width="0.35" opacity="0.8" d="M352.5 101.8l.9-.6 1.1-.3 1.3-.3 1.4-.2 .2 0M389.3 91.1l1-.5 1-.4 1.2-.3 1.5-.2 .2 0M397.3 88.8l.7-.7 1-.4 1.1-.4 1.2-.3M343.8 103.7l1.1-.4 1.2-.3 1.3-.2 .8-.1 1.2 0M400.3 86.4l-1.1 .4-1.3 .3-1.3 .2-1.7 0-1.3-.3-.9-.5-.8-.5-.4-.6 .5-.8 1-.5 1.2-.4 .6-.1M350.6 100.2l-1 0-.8-.2-1-.5-.6-.5 .2-.8 1.2-.4 1-.2 1.3 0 .9 .1 1.3 .3 .7 .5-.3 .9-.9 .4-1.3 .3-.7 .1M388 89.4l-1.5 0-1.3-.3-.8-.5-.2-.7 .4-.5 .8-.3 1.2-.3 1.5 0 1.4 .3 .9 .4 .6 .6-.6 .7-1 .4-1.4 .2M337.3 100.3l1.1-.4 1.2-.3 .9-.1 1.4 0 .9 .1 1.3 .3 1 .4 .9 .5 .4 .6-.4 .6-1 .5-1 .3-1.2 .3M392.8 82.5l-1.1 .4-1.3 .2-.8 .1-1 0-1-.2-1.1-.5-.6-.5 .3-1 .9-.5 1.1-.3 .2 0M330.9 96.9l1-.4 1.4-.2 .9 0 .9 .1 .8 .1 1.2 .4 .7 .5-.3 1.1-1 .4-1.1 .3-.1 0M385.1 78.5l-1 .4-1.5 .2-1.1-.1-1.2-.4-.5-.5 .3-.8 1.1-.4 .6-.1M324.3 93.5l1.1-.4 1.5-.1 1 .1 1.2 .4 .6 .5-.4 .7-1 .4-.7 .1M378 74.8l-1.1 .4-1.5 .1-1-.1-1.2-.4-.6-.5 .4-.7 1-.4 .7-.1M317.2 89.8l1-.4 1.5-.2 1.1 .1 1.2 .4 .5 .5-.3 .8-1.1 .4-.6 .1M371.4 71.4l-1 .4-1.4 .2-.9 0-.9-.1-.8-.1-1.2-.4-.7-.5 .3-1.1 1-.4 1.1-.3 .1 0M309.5 85.8l1.1-.4 1.3-.2 .8-.1 1 0 1 .2 1.1 .5 .6 .5-.3 1-.9 .5-1.1 .3-.2 0M365 68l-1.1 .4-1.2 .3-.9 .1-1.4 0-.9-.1-1.3-.3-1-.4-.9-.5-.4-.6 .4-.6 1-.5 1-.3 1.2-.3M315.7 81.5l-1.5 0-1.4-.3-.9-.4-.6-.6 .6-.7 1-.4 1.4-.2 1.5 0 1.3 .3 .8 .5 .2 .7-.4 .5-.8 .3-1.2 .3M353.1 70.7l-1.7 0-.9-.1-1.3-.3-.7-.5 .3-.9 .9-.4 1.3-.3 .8-.1 .9 0 .8 .2 1 .5 .6 .5-.2 .8-1.2 .4-.6 .2M302 81.9l1.1-.4 1.3-.3 1.3-.2 1.7 0 1.3 .3 .9 .5 .8 .5 .4 .6-.5 .8-1 .5-1.2 .4-.6 .1M358.5 64.6l-1.1 .4-1.2 .3-1.3 .2-.8 .1-1.2 0M305 79.5l-.7 .7-1 .4-1.1 .4-1.2 .3M313 77.2l-1 .5-1 .4-1.2 .3-1.5 .2-.2 0M349.8 66.5l-.9 .6-1.1 .3-1.3 .3-1.4 .2-.2 0"/><path fill="none" stroke="#eaba31" stroke-width="0.35" opacity="0.8" d="M351.8 102l.8-.7 1.1-.4 1.1-.3 1.3-.3 1.5-.2 .6 0M361.7 99.1l1-.5 1.1-.4 1.2-.3 1.4-.2 .1 0M371.5 96.3l1-.5 1.2-.3 1.3-.3 .2 0M380.2 93.8l.9-.5 1.1-.4 1.2-.3 1.4-.2 .2 0M388.5 91.4l.5-.6 1-.4 1.1-.4 1.1-.3 1.4-.2 1.3 0M396.8 88.9l.6-.7 .9-.4 1.1-.4 1.1-.3 .6-.2M343.6 103.6l1.2-.4 1.2-.3 1.2-.2 1.5-.2 1 0 .2 .1M400.5 86.5l-1.2 .4-1.2 .3-1.2 .3-1.6 .1-.9-.1-1.2-.4-.9-.5-.8-.5-.6-.5 .4-1.1 .9-.4 1.1-.4 1.2-.3M351.1 100.5l-1.6 0-1.3-.3-.9-.5-.8-.5-.4-.6 .7-.8 1.1-.4 1.3-.2 .9-.1 1.1 0 .8 .1 .8 .2 1.1 .4 .8 .5 .4 .6-.4 .5-.7 .3-1 .4-1.2 .3-.7 .1M387.9 89.8l-1.6 0-1.4-.3-.9-.4-.7-.6-.2-.8 .6-.5 1-.5 1.2-.3 1.3-.1 1 .1 1.3 .3 1 .4 .9 .5 .5 .5-.5 .7-1 .4-1.2 .3-1.3 .3M360.4 97.4l-1.5 0-1.2-.3-.8-.5 .2-.9 1-.4 1.4-.2 1 0 .9 .1 1.1 .5 .5 .5-.8 .7-1.1 .4-.7 .1M378.7 92l-1.2 0-1.1-.3-.9-.6 .5-1 1.1-.3 1.2-.2 1 .1 1.3 .3 .8 .5-.1 .8-.7 .3-1.2 .3-.7 .1M369.1 94.5l-1-.1-.9-.5 .2-.8 1.1-.3 .8-.1 1.3 .2 .8 .4-.4 .8-1.1 .3-.8 .1M337 100.1l1.1-.3 1.2-.3 1.4-.3 .9 0 1 .1 1.4 .3 1 .4 1 .5 .7 .5 .3 .6-.7 .6-1.1 .4-1.1 .3-1.1 .3M393.2 82.7l-1.2 .4-1.2 .3-1.4 .2-1-.1-1-.1-1.1-.4-.9-.5-.5-.6 .3-1 .6-.3 .9-.3 1.1-.4M343.7 96.1l-1 0-.8-.2-.8-.5 .5-.8 1.4-.2 1 0 .8 .2 .7 .6-.6 .6-1.2 .3M381 85.3l-1-.1-.8-.2-.7-.5 .5-.7 1.3-.3 1 0 .9 .3 .7 .5-.6 .7-1.3 .3M330.3 96.6l1.2-.3 .9-.2 1.1-.2 1.8 .1 1.4 .3 1.1 .4 .8 .5 .4 .6-.6 .7-1 .4-1.1 .4-.6 .1M385.8 78.9l-1.1 .3-1.3 .3-1.5 .1-.9-.2-.8-.2-.9-.3-.5-.4-.4-.7 .5-.6 1-.5 1.2-.3M323.6 93.1l1.1-.3 1.3-.3 1.4 0 .9 .1 1 .2 .8 .4 .7 .4 .3 .6-.6 .6-1 .5-1.2 .3M378.7 75.2l-1.1 .3-1.3 .3-1.4 0-.9-.1-1-.2-.8-.4-.7-.4-.3-.6 .6-.6 1-.5 1.2-.3M316.5 89.4l1.1-.3 1.3-.3 1.5-.1 .9 .2 .8 .2 .9 .3 .5 .4 .4 .7-.5 .6-1 .5-1.2 .3M372 71.7l-1.2 .3-.9 .2-1.1 .2-1.8-.1-1.4-.3-1.1-.4-.8-.5-.4-.6 .6-.7 1-.4 1.1-.4 .6-.1M322 84.8l-1 0-.9-.3-.7-.5 .6-.7 1.3-.3 1 .1 .8 .2 .7 .5-.5 .7-1.3 .3M359.3 73.9l-1 0-.8-.2-.7-.6 .6-.6 1.2-.3 1 0 .8 .2 .8 .5-.5 .8-1.4 .2M309.1 85.6l1.2-.4 1.2-.3 1.4-.2 1 .1 1 .1 1.1 .4 .9 .5 .5 .6-.3 1-.6 .3-.9 .3-1.1 .4M365.3 68.2l-1.1 .3-1.2 .3-1.4 .3-.9 0-1-.1-1.4-.3-1-.4-1-.5-.7-.5-.3-.6 .7-.6 1.1-.4 1.1-.3 1.1-.3M315.6 82l-1.5-.1-1.3-.3-1-.4-.9-.5-.5-.5 .5-.7 1-.4 1.2-.3 1.3-.3 1.6 0 1.4 .3 .9 .4 .7 .6 .2 .8-.6 .5-1 .5-1.2 .3-.8 .1M352.3 71.2l-1.2 0-.8-.1-.8-.2-1.1-.4-.8-.5-.4-.6 .4-.5 .7-.3 1-.4 1.2-.3 1.2-.2 1.1 .1 1.3 .3 .9 .5 .8 .5 .4 .6-.7 .8-1.1 .4-1.3 .2-.8 .1M324.5 78.7l-1.5-.1-1.3-.3-.8-.5 .1-.8 .7-.3 1.2-.3 1.5-.1 1.1 .1 1 .5 .4 .6-.6 .7-1.1 .3-.7 .2M342.8 73.2l-1 0-.9-.1-1.1-.5-.5-.5 .8-.7 1.1-.4 1-.1 1.2 0 1.2 .3 .8 .5-.2 .9-1 .4-1.4 .2M333.8 75.5l-.8 .1-1.3-.2-.8-.4 .4-.8 1.1-.3 .8-.1 1 .1 .9 .5-.2 .8-1.1 .3M301.8 81.8l1.2-.4 1.2-.3 1.2-.3 1.6-.1 .9 .1 1.2 .4 .9 .5 .8 .5 .6 .5-.4 1.1-.9 .4-1.1 .4-1.2 .3M358.7 64.7l-1.2 .4-1.2 .3-1.2 .2-1.5 .2-1 0-.2-.1M305.5 79.4l-.6 .7-.9 .4-1.1 .4-1.1 .3-.6 .2M313.8 76.9l-.5 .6-1 .4-1.1 .4-1.1 .3-1.4 .2-1.3 0M322.1 74.5l-.9 .5-1.1 .4-1.2 .3-1.4 .2-.2 0M330.8 72l-1 .5-1.2 .3-1.3 .3-.2 0M340.6 69.2l-1 .5-1.1 .4-1.2 .3-1.4 .2-.1 0M350.5 66.3l-.8 .7-1.1 .4-1.1 .3-1.3 .3-1.5 .2-.6 0"/><path fill="none" stroke="#fad42e" stroke-width="0.35" opacity="0.8" d="M351.3 102.2l.5-.9 1-.4 1.1-.3 1.2-.3 .9-.2 1.1-.2 1-.1 .8 .1 .1 0M360.7 99.4l.5-.6 1-.5 1.1-.3 1.2-.3 1.3-.3 1.7 0 .2 0M370 96.7l.5-.6 1-.4 1.1-.3 1.2-.4 1.3-.2 1.6 0M379 94.1l.6-.7 1-.4 1.1-.3 1.2-.4 1.3-.2 .8-.1 1 .1 0 0M387.7 91.6l.4-.7 .8-.4 .7-.3 1.1-.3 1.2-.3 1-.3 1-.1 .9 0 .6 .1M396.4 89.1l.2-.8 .9-.5 1.1-.3 1.2-.4 1.1-.3M343.4 103.5l1.2-.4 1.1-.3 1.2-.3 1.4-.2 1.3 0 .7 .1M350.9 100.9l-1.5 0-1.2-.4-1-.4-.8-.5-.8-.5-.6-.5 .3-.7 .9-.4 1.1-.4 1.1-.3 .8-.1 1.4-.1 1.1 0 1.4 .4 .8 .3 .7 .3 .9 .5 .6 .5-.6 .9-1 .4-1.2 .4-1.1 .3-1.3 .3M387.7 90.2l-1.6 .1-.8-.2-.9-.3-.7-.3-.9-.5-.7-.5-.4-.5 .4-.7 1-.5 1-.4 1.2-.3 1.4-.2 .9 0 1.2 .2 .8 .2 1 .5 .9 .4 .8 .5 .5 .6-.5 .5-1 .4-1.2 .4-1.1 .3-1.3 .3M400.6 86.6l-1.1 .4-1.2 .3-1.2 .3-1.3 .2-.9 .1-1.1-.3-1-.4-.9-.4-.8-.5-.8-.5-.4-.6 .5-.7 .9-.4 1.1-.3 1.2-.4 .6-.1M359.8 98l-1.5 0-1-.4-.7-.2-.8-.5-.6-.6 .2-1 .7-.3 .9-.3 1.3-.3 1.4-.1 1.1 0 .7 .2 1 .3 .8 .3 .8 .4 .6 .6-.3 .6-1 .4-1.1 .4-1.1 .3-1.4 .2M369.5 95.2l-1.7 0-1.3-.3-.9-.5-.7-.5-.2-.7 .7-.7 1.1-.3 1.2-.3 1.6-.1 1.1 .1 1.3 .4 1 .4 .7 .5-.4 1-1 .4-1.2 .3-1.3 .3M378.2 92.7l-.9 0-1.3-.3-1-.4-.8-.5-.6-.5 .3-1 1-.5 1.1-.3 1.3-.3 1.1 0 .9 .1 1.3 .3 1 .4 .9 .5 .6 .6-.7 .8-1.1 .4-1.2 .3-1.2 .3-.7 .1M336.7 100l1.1-.4 1.2-.3 1.2-.3 1.3-.1 1.1 0 .8 .1 1.1 .4 1 .5 .9 .4 .8 .5 .6 .6-.8 .7-1 .4-1.1 .3-1.2 .4-.6 .1M393.5 82.9l-1.1 .4-1.2 .3-1.3 .2-.8 .1-1.2 0-.8-.1-1-.4-1-.5-.8-.4-.6-.6 .4-1.1 .7-.3 .8-.3 1.2-.3 .6-.2M343.4 96.9l-1.1-.1-1.2-.3-1-.5-.7-.5-.5-.6 .4-.6 1-.4 1.2-.3 1.2-.1 1.2 0 .9 .1 1.3 .3 1 .5 .6 .5-.3 .9-.9 .4-1.1 .4-1.3 .2-.7 .1M380.8 86.1l-1.5 0-.8-.2-1.1-.4-.8-.4-.5-.6 .2-.7 .9-.5 1.1-.4 1.3-.3 1.6 .1 1.3 .3 1 .4 .8 .5 .6 .6-.5 .6-1.1 .4-1.2 .4-1.3 .2M352.9 93.5l-.9 0-1-.3-.6-.5 .6-.7 1.1-.2 1.2 0 .7 .2 .9 .5-.7 .7-1.3 .3M371.9 88l-1.4-.1-.9-.4 .1-.8 .9-.4 1.6 0 .8 .2 .8 .5-.6 .7-1.3 .3M329.9 96.4l1.1-.3 1.2-.3 1.3-.3 1.1-.1 1 .1 .8 .2 1.1 .4 1 .4 .8 .5 .6 .5-.1 .8-1 .4-1.1 .4-1.1 .4-.6 .1M386.4 79.2l-1.2 .3-1.2 .3-1.3 .2-.9 .1-1-.1-.9-.2-1.1-.4-.9-.5-.7-.5-.3-.7 .9-.7 1-.4 1.1-.3 .6-.2M336.4 92.8l-1 0-.8-.2-1-.5-.7-.5 .4-.9 1.1-.3 1.5-.2 1.1 .1 .9 .2 1 .5 .4 .5-.5 .7-1 .4-1.4 .2M374.4 81.8l-1.7 0-1.3-.3-.8-.5-.2-.8 .8-.5 1.2-.4 1.7 0 1.3 .3 .9 .5 .5 .6-.6 .7-1.1 .3-.7 .1M323 92.8l1.1-.3 1.2-.3 1.4-.2 .9-.1 1.1 .1 .8 .2 1.1 .4 .9 .5 .7 .5 .3 .7-.5 .5-.9 .4-1.1 .4-1.1 .3M379.3 75.5l-1.1 .3-1.2 .3-1.4 .2-.9 .1-1.1-.1-.8-.2-1.1-.4-.9-.5-.7-.5-.3-.7 .5-.5 .9-.4 1.1-.4 1.1-.3M329.9 89l-1.7 0-1.3-.3-.9-.5-.5-.6 .6-.7 1.1-.3 1.2-.2 1.2 .1 1.3 .3 .8 .5 .2 .8-.8 .5-1.2 .4M367.2 78.1l-1.3 0-.9-.1-1.2-.4-.7-.5 .1-.8 .8-.4 1.2-.3 .9-.1 1 .1 1.2 .3 .8 .5 .5 .6-.6 .6-1.1 .3-.7 .2M315.9 89.1l1.2-.3 1.2-.3 1.3-.2 .9-.1 1 .1 .9 .2 1.1 .4 .9 .5 .7 .5 .3 .7-.9 .7-1 .4-1.1 .3-.6 .2M372.4 71.9l-1.1 .3-1.2 .3-1.3 .3-1.1 .1-1-.1-.8-.2-1.1-.4-1-.4-.8-.5-.6-.5 .1-.8 1-.4 1.1-.4 1.1-.4 .6-.1M322.7 85.7l-1.6-.1-1.3-.3-1-.4-.8-.5-.6-.6 .5-.6 1.1-.4 1.2-.4 1.3-.2 1.5 0 .8 .2 1.1 .4 .8 .4 .5 .6-.2 .7-.9 .5-1.1 .4-1.3 .3M360.1 74.8l-1.7 0-.9-.1-1.3-.3-1-.5-.6-.5 .3-.9 .9-.4 1.1-.4 1.3-.2 .8-.1 1 .1 1.2 .3 1 .5 .7 .5 .5 .6-.4 .6-1 .4-1.2 .3-.7 .1M331 82.1l-.9-.1-.8-.2-.8-.5 .6-.7 1.3-.3 1.4 .1 .9 .4-.1 .8-.9 .4-.7 .1M350.7 76.4l-1.7 .1-.7-.2-.9-.5 .7-.7 1.3-.3 .9 0 1 .3 .6 .5-.6 .7-.6 .1M308.8 85.4l1.1-.4 1.2-.3 1.3-.2 .8-.1 1.2 0 .8 .1 1 .4 1 .5 .8 .4 .6 .6-.4 1.1-.7 .3-.8 .3-1.2 .3-.6 .2M317 82.2l-1.4 .2-.9 0-1.2-.2-.8-.2-1-.5-.9-.4-.8-.5-.5-.6 .5-.5 1-.4 1.2-.4 1.1-.3 1.3-.3 1.6-.1 .8 .2 .9 .3 .7 .3 .9 .5 .7 .5 .4 .5-.4 .7-1 .5-1 .4-1.2 .3M354.4 71.3l-1.3 .3-1.4 .1-1.1 0-1.4-.4-.8-.3-.7-.3-.9-.5-.6-.5 .6-.9 1-.4 1.2-.4 1.1-.3 1.3-.3 1.5 0 1.2 .4 1 .4 .8 .5 .8 .5 .6 .5-.3 .7-.9 .4-1.1 .4-.6 .1M365.6 68.3l-1.1 .4-1.2 .3-1.2 .3-1.3 .1-1.1 0-.8-.1-1.1-.4-1-.5-.9-.4-.8-.5-.6-.6 .8-.7 1-.4 1.1-.3 1.2-.4 .6-.1M326.3 79.1l-1.3 .3-1.1 0-.9-.1-1.3-.3-1-.4-.9-.5-.6-.6 .7-.8 1.1-.4 1.2-.3 1.2-.3 1.2-.1 1 .1 .8 .2 .9 .4 .8 .5 .6 .5-.3 1-1 .5-1.1 .3M344.7 73.8l-1.4 .2-1.8 0-.7-.2-1-.3-.8-.3-.8-.4-.6-.6 .3-.6 1-.4 1.1-.4 1.1-.3 1.4-.2 1.5 0 1 .4 .7 .2 .8 .5 .6 .6-.2 1-.7 .3-.9 .3-.6 .2M334.6 76.4l-1.6 .1-1.1-.1-1.3-.4-1-.4-.7-.5 .4-1 1-.4 1.2-.3 1.3-.3 1.7 0 1.3 .3 .9 .5 .7 .5 .2 .7-.7 .7-1.1 .3-1.2 .3M301.7 81.7l1.1-.4 1.2-.3 1.2-.3 1.3-.2 .9-.1 1.1 .3 1 .4 .9 .4 .8 .5 .8 .5 .4 .6-.5 .7-.9 .4-1.1 .3-1.2 .4-.6 .1M358.9 64.8l-1.2 .4-1.1 .3-1.2 .3-1.4 .2-1.3 0-.7-.1M305.9 79.2l-.2 .8-.9 .5-1.1 .3-1.2 .4-1.1 .3M314.6 76.7l-.4 .7-.8 .4-.7 .3-1.1 .3-1.2 .3-1 .3-1 .1-.9 0-.6-.1M323.3 74.2l-.6 .7-1 .4-1.1 .3-1.2 .4-1.3 .2-.8 .1-1-.1 0 0M332.3 71.6l-.5 .6-1 .4-1.1 .3-1.2 .4-1.3 .2-1.6 0M341.6 68.9l-.5 .6-1 .5-1.1 .3-1.2 .3-1.3 .3-1.7 0-.2 0M351 66.1l-.5 .9-1 .4-1.1 .3-1.2 .3-.9 .2-1.1 .2-1 .1-.8-.1-.1 0"/></g>
<g stroke-width="0.7" stroke-linejoin="round"><path class="p28" d="M350.8 23.9l1.1-7.1-.4-.2-1.1 10.4z"/><path class="p29" d="M341.8 23.8l1.1-4.4-.4-.2-1.1 6.4z"/><path class="p30" d="M332.7 25.5l1.2-3.4-.4-.3-1.2 5zM323.7 28.2l1.1-3.5-.4-.2-1.1 5.1z"/><path class="p29" d="M314.7 32.1l1.1-4.8-.4-.2-1.1 7.1z"/><path class="p28" d="M305.6 38.1l1.2-8.2-.4-.2-1.2 12z"/><path class="p11" d="M302.3 57.7l1.1-4.4-.4 10.7-1.1 6.3z"/><path class="p9" d="M301.1 58.2l1.2-.5-.4 12.6-1.2 .6zM300.6 57l.5 1.2-.4 12.7-.5-2z"/><path class="p30" d="M351.7 17.6l1.1-.3-.9-.5-1.1 7.1zM342.6 20.2l1.2-.3-.9-.5-1.1 4.4zM333.6 22.8l1.1-.3-.8-.4-1.2 3.4zM324.6 25.5l1.1-.4-.9-.4-1.1 3.5zM315.5 28.1l1.2-.3-.9-.5-1.1 4.8zM306.5 30.7l1.1-.3-.8-.5-1.2 8.2z"/><path class="p22" d="M302 32l1.1-.3-.8 26-1.2 .5zM301.5 32.2l.5-.2-.9 26.2-.5-1.2z"/><path class="p24" d="M359.3 38.5l.5-1.3-.8-21.7-.5 .1z"/><path class="p23" d="M358.2 38.6l1.1-.1-.8-22.9-1.2 .3z"/><path class="p24" d="M357.1 35.5l1.1 3.1-.9-22.7-1.1 .4z"/><path class="p26" d="M355.9 30.2l1.2 5.3-.9-19.2-1.1 .3z"/><path class="p28" d="M354.8 23.9l1.1 6.3-.8-13.6-1.2 .3z"/><path class="p30" d="M353.7 17.7l1.1 6.2-.9-7-1.1 .4zM352.5 23.6l1.2-5.9-.9-.4-1.1 .3z"/><path class="p28" d="M351.4 27.8l1.1-4.2-.8-6-1.2 .3z"/><path class="p27" d="M350.3 30.2l1.1-2.4-.9-9.9-1.1 .3zM349.2 30.6l1.1-.4-.9-12-1.1 .4zM348 29.3l1.2 1.3-.9-12-1.1 .3z"/><path class="p28" d="M346.9 26.8l1.1 2.5-.8-10.4-1.2 .3z"/><path class="p29" d="M345.8 23.6l1.1 3.2-.9-7.6-1.1 .4z"/><path class="p30" d="M344.6 20.3l1.2 3.3-.9-4-1.1 .3zM343.5 23.9l1.1-3.6-.8-.4-1.2 .3zM342.4 26.6l1.1-2.7-.9-3.7-1.1 .3z"/><path class="p29" d="M341.3 28.4l1.1-1.8-.9-6.1-1.1 .4zM340.1 28.9l1.2-.5-.9-7.5-1.1 .3zM339 28.5l1.1 .4-.8-7.7-1.2 .3zM337.9 27.1l1.1 1.4-.9-7-1.1 .3z"/><path class="p30" d="M336.7 25.2l1.2 1.9-.9-5.3-1.1 .4z"/><path class="p31" d="M335.6 23l1.1 2.2-.8-3-1.2 .3zM334.5 25.7l1.1-2.7-.9-.5-1.1 .3z"/><path class="p30" d="M333.4 28l1.1-2.3-.9-2.9-1.1 .4z"/><path class="p29" d="M332.2 29.7l1.2-1.7-.9-4.8-1.1 .3zM331.1 30.4l1.1-.7-.8-6.2-1.2 .3zM330 30.3l1.1 .1-.9-6.6-1.1 .3zM328.8 29.3l1.2 1-.9-6.2-1.1 .4z"/><path class="p30" d="M327.7 27.7l1.1 1.6-.8-4.8-1.2 .3z"/><path class="p31" d="M326.6 25.6l1.1 2.1-.9-2.9-1.1 .3zM325.5 28.4l1.1-2.8-.9-.5-1.1 .4z"/><path class="p30" d="M324.3 31l1.2-2.6-.9-2.9-1.1 .3z"/><path class="p29" d="M323.2 33.1l1.1-2.1-.8-5.2-1.2 .3zM322.1 34.2l1.1-1.1-.9-7-1.1 .3zM320.9 34.3l1.2-.1-.9-7.8-1.1 .4zM319.8 33.2l1.1 1.1-.8-7.5-1.2 .3z"/><path class="p30" d="M318.7 31.1l1.1 2.1-.9-6.1-1.1 .3zM317.6 28.2l1.1 2.9-.9-3.7-1.1 .4zM316.4 32.2l1.2-4-.9-.4-1.2 .3z"/><path class="p29" d="M315.3 36l1.1-3.8-.9-4.1-1.1 .3z"/><path class="p28" d="M314.2 39.1l1.1-3.1-.9-7.6-1.1 .3z"/><path class="p27" d="M313 41.1l1.2-2-.9-10.4-1.1 .4zM311.9 41.3l1.1-.2-.8-12-1.2 .3zM310.8 39.6l1.1 1.7-.9-11.9-1.1 .3z"/><path class="p28" d="M309.6 36l1.2 3.6-.9-9.9-1.1 .3z"/><path class="p30" d="M308.5 30.8l1.1 5.2-.8-6-1.2 .4zM307.4 37.7l1.1-6.9-.9-.4-1.1 .3z"/><path class="p28" d="M306.3 44.6l1.1-6.9-.9-7-1.1 .3z"/><path class="p26" d="M305.1 50.5l1.2-5.9-.9-13.6-1.1 .4z"/><path class="p24" d="M304 54.3l1.1-3.8-.8-19.1-1.2 .3z"/><path class="p23" d="M302.9 54.9l1.1-.6-.9-22.6-1.1 .3z"/><path class="p24" d="M302.3 53.9l.6 1-.9-22.9-.5 .2z"/><path class="p28" d="M353.4 27.8l1.2-9.6-.9-.5-1.2 5.9z"/><path class="p30" d="M344.4 26.4l1.1-5.6-.9-.5-1.1 3.6z"/><path class="p27" d="M343.3 30.8l1.1-4.4-.9-2.5-1.1 2.7z"/><path class="p30" d="M335.4 27.7l1.1-4.3-.9-.4-1.1 2.7z"/><path class="p28" d="M334.2 31.3l1.2-3.6-.9-2-1.1 2.3z"/><path class="p27" d="M333.1 33.7l1.1-2.4-.8-3.3-1.2 1.7z"/><path class="p30" d="M326.3 30.5l1.2-4.5-.9-.4-1.1 2.8z"/><path class="p28" d="M325.2 34.6l1.1-4.1-.8-2.1-1.2 2.6z"/><path class="p26" d="M324.1 37.7l1.1-3.1-.9-3.6-1.1 2.1z"/><path class="p29" d="M317.3 35l1.1-6.3-.8-.5-1.2 4z"/><path class="p26" d="M316.2 41.1l1.1-6.1-.9-2.8-1.1 3.8z"/><path class="p28" d="M308.3 42.6l1.1-11.3-.9-.5-1.1 6.9z"/><path class="p22" d="M307.1 54.1l1.2-11.5-.9-4.9-1.1 6.9z"/><path class="p17" d="M306 64l1.1-9.9-.8-9.5-1.2 5.9z"/><path class="p12" d="M304.9 70.2l1.1-6.2-.9-13.5-1.1 3.8z"/><path class="p11" d="M303.7 71.1l1.2-.9-.9-15.9-1.1 .6zM303.2 69.3l.5 1.8-.8-16.2-.6-1z"/><path class="p28" d="M354.3 30l1.1-11.4-.8-.4-1.2 9.6z"/><path class="p29" d="M345.3 27.8l1.1-6.6-.9-.4-1.1 5.6z"/><path class="p30" d="M336.2 28.8l1.2-4.9-.9-.5-1.1 4.3z"/><path class="p27" d="M335.1 32.8l1.1-4-.8-1.1-1.2 3.6z"/><path class="p29" d="M327.2 31.6l1.1-5.1-.8-.5-1.2 4.5z"/><path class="p27" d="M326.1 36.3l1.1-4.7-.9-1.1-1.1 4.1z"/><path class="p29" d="M318.2 36.5l1.1-7.4-.9-.4-1.1 6.3z"/><path class="p27" d="M309.1 45.2l1.2-13.5-.9-.4-1.1 11.3z"/><path class="p19" d="M308 59l1.1-13.8-.8-2.6-1.2 11.5z"/><path class="p11" d="M306.9 70.8l1.1-11.8-.9-4.9-1.1 9.9z"/><path class="p5" d="M305.7 78.3l1.2-7.5-.9-6.8-1.1 6.2z"/><path class="p3" d="M304.6 79.3l1.1-1-.8-8.1-1.2 .9zM304.1 77.2l.5 2.1-.9-8.2-.5-1.8zM359.7 56l1.1 6.9-.9-.4-1.1-6.8z"/><path class="p27" d="M355.2 30.3l1.1-11.2-.9-.5-1.1 11.4z"/><path class="p29" d="M346.1 28.1l1.2-6.4-.9-.5-1.1 6.6zM337.1 29l1.1-4.7-.8-.4-1.2 4.9zM328.1 31.9l1.1-4.9-.9-.5-1.1 5.1zM319 36.8l1.2-7.2-.9-.5-1.1 7.4z"/><path class="p27" d="M310 45.6l1.1-13.4-.8-.5-1.2 13.5z"/><path class="p1" d="M305 77.6l.5 2.2-.9-.5-.5-2.1z"/><path class="p3" d="M362.8 57.2l.5-2.1-.8 5.8-.6 2.5zM361.7 56.8l1.1 .4-.9 6.2-1.1-.5z"/><path class="p5" d="M360.6 50.9l1.1 5.9-.9 6.1-1.1-6.9z"/><path class="p28" d="M356 29.1l1.2-9.6-.9-.4-1.1 11.2z"/><path class="p29" d="M347 27.5l1.1-5.3-.8-.5-1.2 6.4z"/><path class="p30" d="M338 28.7l1.1-3.9-.9-.5-1.1 4.7zM328.9 31.5l1.2-4.1-.9-.4-1.1 4.9z"/><path class="p29" d="M319.9 36.1l1.1-6.1-.8-.4-1.2 7.2z"/><path class="p27" d="M310.9 44.1l1.1-11.4-.9-.5-1.1 13.4z"/><path class="p5" d="M307.5 72.5l1.1-6.6-.9 5.2-1.1 7.5z"/><path class="p3" d="M306.4 73.6l1.1-1.1-.9 6.1-1.1 1.2zM305.8 71.8l.6 1.8-.9 6.2-.5-2.2z"/><path class="p28" d="M356.9 26.8l1.1-6.8-.8-.5-1.2 9.6z"/><path class="p30" d="M347.9 26.4l1.1-3.8-.9-.4-1.1 5.3zM338.8 28l1.2-2.8-.9-.4-1.1 3.9zM329.8 30.7l1.1-2.8-.8-.5-1.2 4.1z"/><path class="p29" d="M320.8 34.8l1.1-4.3-.9-.5-1.1 6.1z"/><path class="p28" d="M311.7 41.2l1.2-8.1-.9-.4-1.1 11.4z"/><path class="p15" d="M309.5 56.9l1.1-7.3-.9 6.2-1.1 10.1z"/><path class="p11" d="M308.4 61.7l1.1-4.8-.9 9-1.1 6.6z"/><path class="p9" d="M307.2 62.7l1.2-1-.9 10.8-1.1 1.1zM306.7 61.5l.5 1.2-.8 10.9-.6-1.8z"/><path class="p29" d="M357.8 24l1.1-3.6-.9-.4-1.1 6.8z"/><path class="p30" d="M348.7 25.1l1.2-2-.9-.5-1.1 3.8zM339.7 27.2l1.1-1.5-.8-.5-1.2 2.8zM330.7 29.9l1.1-1.6-.9-.4-1.1 2.8zM321.7 33.2l1.1-2.3-.9-.4-1.1 4.3z"/><path class="p29" d="M312.6 37.8l1.1-4.2-.8-.5-1.2 8.1z"/><path class="p21" d="M310.4 46l1.1-3.8-.9 7.4-1.1 7.3z"/><path class="p18" d="M309.2 48.6l1.2-2.6-.9 10.9-1.1 4.8z"/><path class="p17" d="M308.1 49.3l1.1-.7-.8 13.1-1.2 1zM307.6 48.8l.5 .5-.9 13.4-.5-1.2z"/><path class="p30" d="M358.7 21.2l1.1-.3-.9-.5-1.1 3.6z"/><path class="p31" d="M349.6 23.9l1.1-.4-.8-.4-1.2 2zM340.6 26.5l1.1-.4-.9-.4-1.1 1.5zM331.6 29.1l1.1-.3-.9-.5-1.1 1.6zM322.5 31.7l1.2-.3-.9-.5-1.1 2.3z"/><path class="p30" d="M313.5 34.3l1.1-.3-.9-.4-1.1 4.2z"/><path class="p26" d="M309 35.7l1.1-.4-.9 13.3-1.1 .7zM308.5 35.8l.5-.1-.9 13.6-.5-.5z"/><path class="p27" d="M366.3 32l.5-.7-.8-12.2-.6 .2zM365.2 32l1.1 0-.9-12.7-1.1 .3zM364 30.3l1.2 1.7-.9-12.4-1.1 .3z"/><path class="p28" d="M362.9 27.6l1.1 2.7-.8-10.4-1.2 .3z"/><path class="p29" d="M361.8 24.4l1.1 3.2-.9-7.4-1.1 .4z"/><path class="p30" d="M360.7 21.4l1.1 3-.9-3.8-1.1 .3z"/><path class="p31" d="M359.5 24.4l1.2-3-.9-.5-1.1 .3z"/><path class="p30" d="M358.4 26.6l1.1-2.2-.8-3.2-1.2 .4z"/><path class="p29" d="M357.3 27.8l1.1-1.2-.9-5-1.1 .3zM356.1 28.1l1.2-.3-.9-5.9-1.1 .3zM355 27.6l1.1 .5-.8-5.9-1.2 .3z"/><path class="p30" d="M353.9 26.5l1.1 1.1-.9-5.1-1.1 .4zM352.8 25.2l1.1 1.3-.9-3.6-1.1 .3z"/><path class="p31" d="M351.6 24l1.2 1.2-.9-2-1.2 .3zM350.5 25.7l1.1-1.7-.9-.5-1.1 .4z"/><path class="p30" d="M349.4 27l1.1-1.3-.9-1.8-1.1 .3zM348.2 27.8l1.2-.8-.9-2.8-1.1 .3zM347.1 28.2l1.1-.4-.8-3.3-1.2 .3zM346 28.2l1.1 0-.9-3.4-1.1 .4zM344.8 27.8l1.2 .4-.9-3-1.1 .3z"/><path class="p31" d="M343.7 27.2l1.1 .6-.8-2.3-1.2 .3zM342.6 26.6l1.1 .6-.9-1.4-1.1 .3zM341.5 27.8l1.1-1.2-.9-.5-1.1 .4zM340.3 28.9l1.2-1.1-.9-1.3-1.1 .3z"/><path class="p30" d="M339.2 29.7l1.1-.8-.8-2.1-1.2 .3zM338.1 30.2l1.1-.5-.9-2.6-1.1 .4zM336.9 30.3l1.2-.1-.9-2.7-1.1 .3zM335.8 30.2l1.1 .1-.8-2.5-1.2 .3z"/><path class="p31" d="M334.7 29.8l1.1 .4-.9-2.1-1.1 .3zM333.6 29.2l1.1 .6-.9-1.4-1.1 .4zM332.4 30.5l1.2-1.3-.9-.4-1.1 .3zM331.3 31.7l1.1-1.2-.8-1.4-1.2 .3z"/><path class="p30" d="M330.2 32.8l1.1-1.1-.9-2.3-1.1 .4zM329 33.5l1.2-.7-.9-3-1.1 .3zM327.9 33.7l1.1-.2-.8-3.4-1.2 .3zM326.8 33.5l1.1 .2-.9-3.3-1.1 .3zM325.7 32.9l1.1 .6-.9-2.8-1.1 .4z"/><path class="p31" d="M324.5 31.9l1.2 1-.9-1.8-1.1 .3zM323.4 33.8l1.1-1.9-.8-.5-1.2 .3z"/><path class="p30" d="M322.3 35.7l1.1-1.9-.9-2.1-1.1 .4zM321.1 37.4l1.2-1.7-.9-3.6-1.1 .3z"/><path class="p29" d="M320 38.6l1.1-1.2-.8-5-1.2 .3zM318.9 39l1.1-.4-.9-5.9-1.1 .3zM317.8 38.4l1.1 .6-.9-6-1.1 .4z"/><path class="p30" d="M316.6 36.9l1.2 1.5-.9-5-1.1 .3z"/><path class="p31" d="M315.5 34.5l1.1 2.4-.8-3.2-1.2 .3z"/><path class="p30" d="M314.4 38.2l1.1-3.7-.9-.5-1.1 .3z"/><path class="p29" d="M313.2 42l1.2-3.8-.9-3.9-1.1 .4z"/><path class="p28" d="M312.1 45.4l1.1-3.4-.8-7.3-1.2 .3z"/><path class="p27" d="M311 47.7l1.1-2.3-.9-10.4-1.1 .3zM309.8 48.4l1.2-.7-.9-12.4-1.1 .4zM309.3 48l.5 .4-.8-12.7-.5 .1z"/><path class="p30" d="M360.4 26.8l1.1-5-.8-.4-1.2 3z"/><path class="p28" d="M359.3 30.3l1.1-3.5-.9-2.4-1.1 2.2z"/><path class="p26" d="M358.1 32.1l1.2-1.8-.9-3.7-1.1 1.2z"/><path class="p30" d="M351.4 27l1.1-2.6-.9-.4-1.1 1.7z"/><path class="p29" d="M350.2 29l1.2-2-.9-1.3-1.1 1.3zM349.1 30.2l1.1-1.2-.8-2-1.2 .8z"/><path class="p28" d="M348 30.6l1.1-.4-.9-2.4-1.1 .4z"/><path class="p29" d="M346.8 30.3l1.2 .3-.9-2.4-1.1 0zM345.7 29.5l1.1 .8-.8-2.1-1.2-.4z"/><path class="p30" d="M344.6 28.3l1.1 1.2-.9-1.7-1.1-.6z"/><path class="p31" d="M343.5 27.1l1.1 1.2-.9-1.1-1.1-.6zM342.3 28.9l1.2-1.8-.9-.5-1.1 1.2z"/><path class="p30" d="M341.2 30.4l1.1-1.5-.8-1.1-1.2 1.1z"/><path class="p29" d="M340.1 31.5l1.1-1.1-.9-1.5-1.1 .8zM338.9 32.1l1.2-.6-.9-1.8-1.1 .5zM337.8 32.1l1.1 0-.8-1.9-1.2 .1zM336.7 31.7l1.1 .4-.9-1.8-1.1-.1z"/><path class="p30" d="M335.6 30.8l1.1 .9-.9-1.5-1.1-.4z"/><path class="p31" d="M333.3 31.6l1.1-1.9-.8-.5-1.2 1.3z"/><path class="p30" d="M332.2 33.4l1.1-1.8-.9-1.1-1.1 1.2z"/><path class="p29" d="M331 34.9l1.2-1.5-.9-1.7-1.1 1.1zM329.9 35.8l1.1-.9-.8-2.1-1.2 .7z"/><path class="p28" d="M328.8 36.1l1.1-.3-.9-2.3-1.1 .2z"/><path class="p30" d="M324.3 35.3l1.1-3-.9-.4-1.1 1.9z"/><path class="p29" d="M323.1 38.4l1.2-3.1-.9-1.5-1.1 1.9z"/><path class="p27" d="M322 41l1.1-2.6-.8-2.7-1.2 1.7z"/><path class="p29" d="M315.2 41l1.2-6.1-.9-.4-1.1 3.7z"/><path class="p26" d="M314.1 47.4l1.1-6.4-.8-2.8-1.2 3.8z"/><path class="p23" d="M313 53.1l1.1-5.7-.9-5.4-1.1 3.4z"/><path class="p21" d="M311.8 57l1.2-3.9-.9-7.7-1.1 2.3z"/><path class="p20" d="M310.7 57.9l1.1-.9-.8-9.3-1.2 .7zM310.2 57.1l.5 .8-.9-9.5-.5-.4z"/><path class="p29" d="M361.3 28.3l1.1-6-.9-.5-1.1 5z"/><path class="p30" d="M352.2 27.9l1.2-3-.9-.5-1.1 2.6z"/><path class="p29" d="M351.1 30.2l1.1-2.3-.8-.9-1.2 2z"/><path class="p28" d="M350 31.5l1.1-1.3-.9-1.2-1.1 1.2z"/><path class="p30" d="M343.2 29.5l1.1-2-.8-.4-1.2 1.8z"/><path class="p29" d="M342.1 31.2l1.1-1.7-.9-.6-1.1 1.5zM340.9 32.5l1.2-1.3-.9-.8-1.1 1.1z"/><path class="p28" d="M339.8 33.1l1.1-.6-.8-1-1.2 .6z"/><path class="p30" d="M334.2 32.3l1.1-2.2-.9-.4-1.1 1.9z"/><path class="p29" d="M333 34.3l1.2-2-.9-.7-1.1 1.8z"/><path class="p28" d="M331.9 36l1.1-1.7-.8-.9-1.2 1.5zM330.8 37.1l1.1-1.1-.9-1.1-1.1 .9z"/><path class="p30" d="M325.1 36.3l1.2-3.5-.9-.5-1.1 3z"/><path class="p28" d="M324 39.9l1.1-3.6-.8-1-1.2 3.1z"/><path class="p29" d="M316.1 42.8l1.1-7.4-.8-.5-1.2 6.1z"/><path class="p24" d="M315 50.5l1.1-7.7-.9-1.8-1.1 6.4z"/><path class="p20" d="M313.8 57.5l1.2-7-.9-3.1-1.1 5.7z"/><path class="p17" d="M312.7 62.2l1.1-4.7-.8-4.4-1.2 3.9z"/><path class="p15" d="M311.6 63.3l1.1-1.1-.9-5.2-1.1 .9zM311.1 62.3l.5 1-.9-5.4-.5-.8z"/><path class="p29" d="M362.1 28.8l1.2-6.1-.9-.4-1.1 6z"/><path class="p30" d="M353.1 28.3l1.1-3-.8-.4-1.2 3z"/><path class="p29" d="M352 30.5l1.1-2.2-.9-.4-1.1 2.3z"/><path class="p30" d="M344.1 29.9l1.1-1.9-.9-.5-1.1 2z"/><path class="p29" d="M342.9 31.6l1.2-1.7-.9-.4-1.1 1.7zM341.8 32.7l1.1-1.1-.8-.4-1.2 1.3z"/><path class="p30" d="M335 32.7l1.2-2.1-.9-.5-1.1 2.2z"/><path class="p29" d="M333.9 34.7l1.1-2-.8-.4-1.2 2z"/><path class="p30" d="M326 36.7l1.1-3.5-.8-.4-1.2 3.5z"/><path class="p28" d="M324.9 40.3l1.1-3.6-.9-.4-1.1 3.6z"/><path class="p29" d="M317 43.3l1.1-7.5-.9-.4-1.1 7.4z"/><path class="p13" d="M311.9 63.4l.6 1-.9-1.1-.5-1z"/><path class="p29" d="M363 28.5l1.1-5.3-.8-.5-1.2 6.1z"/><path class="p30" d="M354 28.4l1.1-2.6-.9-.5-1.1 3zM344.9 30.1l1.2-1.7-.9-.4-1.1 1.9zM343.8 31.5l1.1-1.4-.8-.2-1.2 1.7zM335.9 32.8l1.1-1.7-.8-.5-1.2 2.1z"/><path class="p29" d="M334.8 34.5l1.1-1.7-.9-.1-1.1 2z"/><path class="p30" d="M326.9 36.7l1.1-3-.9-.5-1.1 3.5z"/><path class="p29" d="M317.9 42.8l1.1-6.5-.9-.5-1.1 7.5z"/><path class="p14" d="M313.3 61.5l1.2-1.1-.9 2.8-1.1 1.2zM312.8 60.7l.5 .8-.8 2.9-.6-1z"/><path class="p30" d="M363.9 27.6l1.1-4-.9-.4-1.1 5.3zM354.9 28.2l1.1-1.9-.9-.5-1.1 2.6z"/><path class="p31" d="M345.8 30.1l1.1-1.2-.8-.5-1.2 1.7z"/><path class="p30" d="M344.7 31.2l1.1-1.1-.9 0-1.1 1.4z"/><path class="p31" d="M336.8 32.8l1.1-1.3-.9-.4-1.1 1.7z"/><path class="p30" d="M335.7 34.1l1.1-1.3-.9 0-1.1 1.7zM327.8 36.4l1.1-2.3-.9-.4-1.1 3z"/><path class="p29" d="M318.7 41.6l1.2-4.8-.9-.5-1.1 6.5z"/><path class="p19" d="M315.3 54.6l1.2-3.2-.9 4.7-1.1 4.3z"/><path class="p17" d="M314.2 55.6l1.1-1-.8 5.8-1.2 1.1z"/><path class="p18" d="M313.7 55l.5 .6-.9 5.9-.5-.8z"/><path class="p30" d="M364.8 26.3l1.1-2.2-.9-.5-1.1 4z"/><path class="p31" d="M355.7 27.8l1.2-1.1-.9-.4-1.1 1.9zM347.8 29.3l1.1 .2-.8 0-1.2-.6zM346.7 30.1l1.1-.8-.9-.4-1.1 1.2z"/><path class="p30" d="M345.6 30.8l1.1-.7-.9 0-1.1 1.1z"/><path class="p31" d="M338.8 32l1.1 .1-.9 0-1.1-.6zM337.7 32.8l1.1-.8-.9-.5-1.1 1.3z"/><path class="p30" d="M336.5 33.6l1.2-.8-.9 0-1.1 1.3z"/><path class="p31" d="M328.6 35.9l1.2-1.3-.9-.5-1.1 2.3z"/><path class="p30" d="M319.6 39.9l1.1-2.7-.8-.4-1.2 4.8z"/><path class="p23" d="M316.2 47.1l1.1-1.9-.8 6.2-1.2 3.2z"/><path class="p22" d="M315.1 47.7l1.1-.6-.9 7.5-1.1 1zM314.6 47.5l.5 .2-.9 7.9-.5-.6z"/><path class="p31" d="M365.6 24.9l1.2-.4-.9-.4-1.1 2.2zM357.7 27.2l1.2-.4-.9 .5-1.1-.6zM356.6 27.5l1.1-.3-.8-.5-1.2 1.1zM355.5 27.8l1.1-.3-.9 .3-1.1 .9zM348.7 29.8l1.1-.3-.9 0-1.1-.2zM347.6 30.1l1.1-.3-.9-.5-1.1 .8zM346.4 30.4l1.2-.3-.9 0-1.1 .7zM344.2 31.1l1.1-.3-.9 .5-1.1 .4zM341.9 31.8l1.1-.4-.8 .6-1.2 .1zM340.8 32.1l1.1-.3-.9 .3-1.1 0zM339.7 32.4l1.1-.3-.9 0-1.1-.1zM338.5 32.7l1.2-.3-.9-.4-1.1 .8zM337.4 33.1l1.1-.4-.8 .1-1.2 .8zM330.6 35l1.2-.3-.9 .3-1.1-.4zM329.5 35.4l1.1-.4-.8-.4-1.2 1.3zM320.5 38l1.1-.3-.9-.5-1.1 2.7z"/><path class="p28" d="M316 39.3l1.1-.3-.9 8.1-1.1 .6zM315.4 39.5l.6-.2-.9 8.4-.5-.2zM373.3 31.6l.5-.5-.9-8.3-.5 .1zM372.1 31.6l1.2 0-.9-8.7-1.1 .3z"/><path class="p29" d="M371 30.5l1.1 1.1-.8-8.4-1.2 .4zM369.9 28.8l1.1 1.7-.9-6.9-1.1 .3z"/><path class="p30" d="M368.8 26.8l1.1 2-.9-4.9-1.1 .3z"/><path class="p31" d="M367.6 25l1.2 1.8-.9-2.6-1.1 .3zM366.5 27l1.1-2-.8-.5-1.2 .4z"/><path class="p30" d="M365.4 28.4l1.1-1.4-.9-2.1-1.1 .3zM364.2 29.2l1.2-.8-.9-3.2-1.1 .3zM363.1 29.4l1.1-.2-.8-3.7-1.2 .4zM362 29.2l1.1 .2-.9-3.5-1.1 .3zM360.9 28.7l1.1 .5-.9-3-1.1 .3z"/><path class="p31" d="M359.7 28.1l1.2 .6-.9-2.2-1.1 .3zM358.6 27.6l1.1 .5-.8-1.3-1.2 .4zM357.5 28.6l1.1-1-.9-.4-1.1 .3zM356.3 29.4l1.2-.8-.9-1.1-1.1 .3zM355.2 29.9l1.1-.5-.8-1.6-1.2 .4zM354.1 30.3l1.1-.4-.9-1.7-1.1 .3zM353 30.4l1.1-.1-.9-1.8-1.1 .3zM351.8 30.4l1.2 0-.9-1.6-1.2 .3zM350.7 30.3l1.1 .1-.9-1.3-1.1 .4zM349.6 30.2l1.1 .1-.9-.8-1.1 .3zM348.4 31l1.2-.8-.9-.4-1.1 .3zM347.3 31.6l1.1-.6-.8-.9-1.2 .3zM346.2 32.2l1.1-.6-.9-1.2-1.1 .4zM345 32.6l1.2-.4-.9-1.4-1.1 .3zM343.9 32.9l1.1-.3-.8-1.5-1.2 .3zM342.8 32.9l1.1 0-.9-1.5-1.1 .4zM341.7 32.9l1.1 0-.9-1.1-1.1 .3zM340.5 32.9l1.2 0-.9-.8-1.1 .3zM339.4 33.6l1.1-.7-.8-.5-1.2 .3zM338.3 34.3l1.1-.7-.9-.9-1.1 .4zM337.1 35l1.2-.7-.9-1.2-1.1 .3zM336 35.5l1.1-.5-.8-1.6-1.2 .3zM334.9 35.8l1.1-.3-.9-1.8-1.1 .4zM333.8 36l1.1-.2-.9-1.7-1.1 .3zM332.6 35.8l1.2 .2-.9-1.6-1.1 .3zM331.5 35.5l1.1 .3-.8-1.1-1.2 .3zM330.4 36.7l1.1-1.2-.9-.5-1.1 .4zM329.2 37.9l1.2-1.2-.9-1.3-1.1 .3z"/><path class="p30" d="M328.1 39l1.1-1.1-.8-2.2-1.2 .3zM327 39.9l1.1-.9-.9-3-1.1 .4zM325.9 40.3l1.1-.4-.9-3.5-1.1 .3zM324.7 40.2l1.2 .1-.9-3.6-1.1 .3zM323.6 39.5l1.1 .7-.8-3.2-1.2 .3z"/><path class="p31" d="M322.5 38.1l1.1 1.4-.9-2.2-1.1 .4zM321.3 40.6l1.2-2.5-.9-.4-1.1 .3z"/><path class="p30" d="M320.2 43.2l1.1-2.6-.8-2.6-1.2 .3z"/><path class="p29" d="M319.1 45.6l1.1-2.4-.9-4.9-1.1 .3zM318 47.3l1.1-1.7-.9-7-1.1 .4z"/><path class="p28" d="M316.8 48l1.2-.7-.9-8.3-1.1 .3zM316.3 47.8l.5 .2-.8-8.7-.6 .2z"/><path class="p30" d="M367.4 28.8l1.1-3.3-.9-.5-1.1 2z"/><path class="p29" d="M366.2 31l1.2-2.2-.9-1.8-1.1 1.4z"/><path class="p28" d="M365.1 32.1l1.1-1.1-.8-2.6-1.2 .8zM364 32.2l1.1-.1-.9-2.9-1.1 .2zM362.9 31.6l1.1 .6-.9-2.8-1.1-.2z"/><path class="p29" d="M361.7 30.5l1.2 1.1-.9-2.4-1.1-.5z"/><path class="p30" d="M360.6 29.2l1.1 1.3-.8-1.8-1.2-.6z"/><path class="p31" d="M359.5 28.1l1.1 1.1-.9-1.1-1.1-.5zM358.3 29.6l1.2-1.5-.9-.5-1.1 1z"/><path class="p30" d="M357.2 30.7l1.1-1.1-.8-1-1.2 .8zM356.1 31.4l1.1-.7-.9-1.3-1.1 .5zM355 31.6l1.1-.2-.9-1.5-1.1 .4zM353.8 31.6l1.2 0-.9-1.3-1.1 .1zM352.7 31.4l1.1 .2-.8-1.2-1.2 0zM351.6 31.1l1.1 .3-.9-1-1.1-.1z"/><path class="p31" d="M350.4 30.7l1.2 .4-.9-.8-1.1-.1zM349.3 31.8l1.1-1.1-.8-.5-1.2 .8z"/><path class="p30" d="M348.2 32.9l1.1-1.1-.9-.8-1.1 .6zM347 33.7l1.2-.8-.9-1.3-1.1 .6zM345.9 34.3l1.1-.6-.8-1.5-1.2 .4zM344.8 34.4l1.1-.1-.9-1.7-1.1 .3zM343.7 34.2l1.1 .2-.9-1.5-1.1 0zM342.5 33.8l1.2 .4-.9-1.3-1.1 0z"/><path class="p31" d="M341.4 33.3l1.1 .5-.8-.9-1.2 0zM340.3 34.3l1.1-1-.9-.4-1.1 .7z"/><path class="p30" d="M339.1 35.3l1.2-1-.9-.7-1.1 .7zM338 36.2l1.1-.9-.8-1-1.2 .7zM336.9 36.9l1.1-.7-.9-1.2-1.1 .5zM335.8 37.3l1.1-.4-.9-1.4-1.1 .3zM334.6 37.2l1.2 .1-.9-1.5-1.1 .2zM333.5 36.8l1.1 .4-.8-1.2-1.2-.2z"/><path class="p31" d="M332.4 36l1.1 .8-.9-1-1.1-.3zM331.2 37.8l1.2-1.8-.9-.5-1.1 1.2z"/><path class="p30" d="M330.1 39.7l1.1-1.9-.8-1.1-1.2 1.2z"/><path class="p29" d="M329 41.4l1.1-1.7-.9-1.8-1.1 1.1z"/><path class="p28" d="M327.9 42.7l1.1-1.3-.9-2.4-1.1 .9zM326.7 43.2l1.2-.5-.9-2.8-1.1 .4z"/><path class="p30" d="M322.2 42.7l1.1-4.1-.8-.5-1.2 2.5z"/><path class="p28" d="M321.1 47.1l1.1-4.4-.9-2.1-1.1 2.6z"/><path class="p26" d="M320 51.1l1.1-4-.9-3.9-1.1 2.4z"/><path class="p24" d="M318.8 54l1.2-2.9-.9-5.5-1.1 1.7z"/><path class="p23" d="M317.7 55l1.1-1-.8-6.7-1.2 .7zM317.2 54.6l.5 .4-.9-7-.5-.2z"/><path class="p30" d="M368.2 30l1.2-4.1-.9-.4-1.1 3.3z"/><path class="p28" d="M367.1 32.7l1.1-2.7-.8-1.2-1.2 2.2z"/><path class="p31" d="M359.2 30.3l1.1-1.8-.8-.4-1.2 1.5z"/><path class="p30" d="M358.1 31.6l1.1-1.3-.9-.7-1.1 1.1z"/><path class="p29" d="M357 32.3l1.1-.7-.9-.9-1.1 .7zM355.8 32.6l1.2-.3-.9-.9-1.1 .2zM354.7 32.5l1.1 .1-.8-1-1.2 0z"/><path class="p30" d="M353.6 32.2l1.1 .3-.9-.9-1.1-.2zM352.4 31.8l1.2 .4-.9-.8-1.1-.3z"/><path class="p31" d="M351.3 31.2l1.1 .6-.8-.7-1.2-.4zM350.2 32.6l1.1-1.4-.9-.5-1.1 1.1z"/><path class="p30" d="M349 34.1l1.2-1.5-.9-.8-1.1 1.1zM347.9 35.2l1.1-1.1-.8-1.2-1.2 .8z"/><path class="p29" d="M346.8 35.8l1.1-.6-.9-1.5-1.1 .6zM345.7 35.8l1.1 0-.9-1.5-1.1 .1z"/><path class="p30" d="M344.5 35.4l1.2 .4-.9-1.4-1.1-.2zM343.4 34.6l1.1 .8-.8-1.2-1.2-.4z"/><path class="p31" d="M342.3 33.8l1.1 .8-.9-.8-1.1-.5zM341.1 35.1l1.2-1.3-.9-.5-1.1 1z"/><path class="p30" d="M340 36.1l1.1-1-.8-.8-1.2 1zM338.9 37l1.1-.9-.9-.8-1.1 .9z"/><path class="p29" d="M337.8 37.8l1.1-.8-.9-.8-1.1 .7zM336.6 38.2l1.2-.4-.9-.9-1.1 .4zM335.5 38.2l1.1 0-.8-.9-1.2-.1z"/><path class="p30" d="M334.4 37.5l1.1 .7-.9-1-1.1-.4zM332.1 38.6l1.1-2.2-.8-.4-1.2 1.8z"/><path class="p29" d="M331 40.9l1.1-2.3-.9-.8-1.1 1.9z"/><path class="p28" d="M329.9 43l1.1-2.1-.9-1.2-1.1 1.7z"/><path class="p30" d="M323.1 44.1l1.1-5.1-.9-.4-1.1 4.1z"/><path class="p27" d="M322 49.6l1.1-5.5-.9-1.4-1.1 4.4z"/><path class="p24" d="M320.8 54.7l1.2-5.1-.9-2.5-1.1 4z"/><path class="p21" d="M319.7 58.3l1.1-3.6-.8-3.6-1.2 2.9z"/><path class="p20" d="M318.6 59.4l1.1-1.1-.9-4.3-1.1 1zM318 58.9l.6 .5-.9-4.4-.5-.4z"/><path class="p30" d="M369.1 30.6l1.1-4.2-.8-.5-1.2 4.1z"/><path class="p31" d="M360.1 30.8l1.1-1.8-.9-.5-1.1 1.8z"/><path class="p30" d="M359 32.1l1.1-1.3-.9-.5-1.1 1.3z"/><path class="p29" d="M357.8 32.9l1.2-.8-.9-.5-1.1 .7zM356.7 33.1l1.1-.2-.8-.6-1.2 .3zM355.6 32.9l1.1 .2-.9-.5-1.1-.1z"/><path class="p30" d="M354.4 32.9l1.2 0-.9-.4-1.1-.3zM353.3 32.4l1.1 .5-.8-.7-1.2-.4z"/><path class="p31" d="M351 33.3l1.2-1.7-.9-.4-1.1 1.4z"/><path class="p30" d="M349.9 35l1.1-1.7-.8-.7-1.2 1.5z"/><path class="p29" d="M348.8 36.3l1.1-1.3-.9-.9-1.1 1.1zM347.7 37l1.1-.7-.9-1.1-1.1 .6z"/><path class="p31" d="M342 35.7l1.1-1.5-.8-.4-1.2 1.3z"/><path class="p30" d="M340.9 36.8l1.1-1.1-.9-.6-1.1 1zM339.8 37.5l1.1-.7-.9-.7-1.1 .9z"/><path class="p29" d="M338.6 38.3l1.2-.8-.9-.5-1.1 .8zM337.5 38.8l1.1-.5-.8-.5-1.2 .4z"/><path class="p30" d="M333 39.1l1.1-2.2-.9-.5-1.1 2.2z"/><path class="p29" d="M331.9 41.5l1.1-2.4-.9-.5-1.1 2.3zM324 44.8l1.1-5.3-.9-.5-1.1 5.1z"/><path class="p20" d="M320.6 59.8l1.1-3.8-.9-1.3-1.1 3.6z"/><path class="p18" d="M319.4 61l1.2-1.2-.9-1.5-1.1 1.1zM318.9 60.4l.5 .6-.8-1.6-.6-.5z"/><path class="p30" d="M370 30.7l1.1-3.9-.9-.4-1.1 4.2z"/><path class="p31" d="M361 31.1l1.1-1.7-.9-.4-1.1 1.8z"/><path class="p30" d="M359.8 32.3l1.2-1.2-.9-.3-1.1 1.3z"/><path class="p29" d="M358.7 33l1.1-.7-.8-.2-1.2 .8zM356.4 33.3l1.2-.1-.9-.1-1.1-.2z"/><path class="p30" d="M355.3 33.3l1.1 0-.8-.4-1.2 0zM354.2 32.9l1.1 .4-.9-.4-1.1-.5z"/><path class="p31" d="M353.1 32.1l1.1 .8-.9-.5-1.1-.8zM351.9 33.8l1.2-1.7-.9-.5-1.2 1.7z"/><path class="p30" d="M350.8 35.5l1.1-1.7-.9-.5-1.1 1.7z"/><path class="p29" d="M349.7 36.9l1.1-1.4-.9-.5-1.1 1.3z"/><path class="p31" d="M342.9 36.2l1.1-1.5-.9-.5-1.1 1.5z"/><path class="p30" d="M341.8 37.2l1.1-1-.9-.5-1.1 1.1zM340.6 37.9l1.2-.7-.9-.4-1.1 .7z"/><path class="p29" d="M339.5 38.4l1.1-.5-.8-.4-1.2 .8z"/><path class="p30" d="M333.9 39.3l1.1-2-.9-.4-1.1 2.2z"/><path class="p29" d="M332.7 41.5l1.2-2.2-.9-.2-1.1 2.4zM324.8 44.8l1.2-4.9-.9-.4-1.1 5.3z"/><path class="p18" d="M320.3 59.6l1.1-1.1-.8 1.3-1.2 1.2zM319.8 59.1l.5 .5-.9 1.4-.5-.6z"/><path class="p30" d="M370.9 30.3l1.1-3-.9-.5-1.1 3.9z"/><path class="p31" d="M361.8 31.2l1.2-1.3-.9-.5-1.1 1.7z"/><path class="p30" d="M360.7 32.2l1.1-1-.8-.1-1.2 1.2z"/><path class="p31" d="M352.8 34l1.1-1.5-.8-.4-1.2 1.7z"/><path class="p30" d="M351.7 35.5l1.1-1.5-.9-.2-1.1 1.7z"/><path class="p31" d="M343.8 36.4l1.1-1.2-.9-.5-1.1 1.5z"/><path class="p30" d="M342.6 37.3l1.2-.9-.9-.2-1.1 1zM341.5 37.9l1.1-.6-.8-.1-1.2 .7zM334.7 39.4l1.2-1.6-.9-.5-1.1 2z"/><path class="p29" d="M333.6 41.1l1.1-1.7-.8-.1-1.2 2.2z"/><path class="p30" d="M325.7 44.2l1.1-3.8-.8-.5-1.2 4.9z"/><path class="p22" d="M322.3 54.7l1.1-2.7-.8 3-1.2 3.5z"/><path class="p21" d="M321.2 55.7l1.1-1-.9 3.8-1.1 1.1zM320.7 55.3l.5 .4-.9 3.9-.5-.5z"/><path class="p30" d="M371.7 29.5l1.2-1.8-.9-.4-1.1 3z"/><path class="p31" d="M362.7 31.2l1.1-.8-.8-.5-1.2 1.3z"/><path class="p30" d="M361.6 31.9l1.1-.7-.9 0-1.1 1z"/><path class="p31" d="M354.8 33l1.1 .2-.8-.1-1.2-.6zM353.7 34l1.1-1-.9-.5-1.1 1.5z"/><path class="p30" d="M352.5 35l1.2-1-.9 0-1.1 1.5z"/><path class="p31" d="M345.8 35.6l1.1 .3-.9 .1-1.1-.8zM344.6 36.5l1.2-.9-.9-.4-1.1 1.2z"/><path class="p30" d="M343.5 37.1l1.1-.6-.8-.1-1.2 .9z"/><path class="p31" d="M336.7 38.2l1.2 .2-.9 0-1.1-.6zM335.6 39.2l1.1-1-.8-.4-1.2 1.6z"/><path class="p30" d="M334.5 40.3l1.1-1.1-.9 .2-1.1 1.7zM326.6 43l1.1-2.1-.9-.5-1.1 3.8z"/><path class="p25" d="M323.2 49.2l1.1-1.7-.9 4.5-1.1 2.7z"/><path class="p24" d="M322.1 49.8l1.1-.6-.9 5.5-1.1 1zM321.5 49.7l.6 .1-.9 5.9-.5-.4z"/><path class="p31" d="M372.6 28.5l1.1-.3-.8-.5-1.2 1.8zM364.7 30.8l1.1-.3-.8 .2-1.2-.3zM363.6 31.1l1.1-.3-.9-.4-1.1 .8zM362.4 31.5l1.2-.4-.9 .1-1.1 .7zM360.2 32.1l1.1-.3-.9 .5-1.1 .3zM357.9 32.8l1.2-.3-.9 .5-1.1 .2zM356.8 33.1l1.1-.3-.8 .4-1.2 0zM355.7 33.4l1.1-.3-.9 .1-1.1-.2zM354.5 33.8l1.2-.4-.9-.4-1.1 1zM353.4 34.1l1.1-.3-.8 .2-1.2 1zM346.6 36.1l1.2-.4-.9 .2-1.1-.3zM345.5 36.4l1.1-.3-.8-.5-1.2 .9zM344.4 36.7l1.1-.3-.9 .1-1.1 .6zM341 37.7l1.1-.3-.9 .5-1.1 .3zM338.7 38.4l1.2-.4-.9 .4-1.1 0zM337.6 38.7l1.1-.3-.8 0-1.2-.2zM336.5 39l1.1-.3-.9-.5-1.1 1zM335.3 39.3l1.2-.3-.9 .2-1.1 1.1zM327.4 41.6l1.2-.3-.9-.4-1.1 2.1z"/><path class="p29" d="M322.9 42.9l1.2-.3-.9 6.6-1.1 .6zM322.4 43.1l.5-.2-.8 6.9-.6-.1zM380.2 34.3l.6-.4-.9-7.5-.5 .2zM379.1 34.3l1.1 0-.8-7.7-1.2 .3zM378 33.4l1.1 .9-.9-7.4-1.1 .3zM376.9 31.8l1.1 1.6-.9-6.2-1.1 .3z"/><path class="p30" d="M375.7 30.2l1.2 1.6-.9-4.3-1.1 .4z"/><path class="p31" d="M374.6 28.6l1.1 1.6-.8-2.3-1.2 .3zM373.5 30.4l1.1-1.8-.9-.4-1.1 .3z"/><path class="p30" d="M372.3 31.6l1.2-1.2-.9-1.9-1.1 .3zM371.2 32.3l1.1-.7-.8-2.8-1.2 .4zM370.1 32.5l1.1-.2-.9-3.1-1.1 .3zM369 32.4l1.1 .1-.9-3-1.1 .3zM367.8 32l1.2 .4-.9-2.6-1.1 .4z"/><path class="p31" d="M366.7 31.6l1.1 .4-.8-1.8-1.2 .3zM365.6 31.3l1.1 .3-.9-1.1-1.1 .3zM364.4 32.1l1.2-.8-.9-.5-1.1 .3zM363.3 32.8l1.1-.7-.8-1-1.2 .4zM362.2 33.3l1.1-.5-.9-1.3-1.1 .3zM361.1 33.5l1.1-.2-.9-1.5-1.1 .3zM359.9 33.9l1.2-.4-.9-1.4-1.1 .4zM358.8 34.1l1.1-.2-.8-1.4-1.2 .3zM357.7 34.1l1.1 0-.9-1.3-1.1 .3zM356.5 33.9l1.2 .2-.9-1-1.1 .3zM355.4 34.9l1.1-1-.8-.5-1.2 .4zM354.3 35.9l1.1-1-.9-1.1-1.1 .3z"/><path class="p30" d="M353.2 36.9l1.1-1-.9-1.8-1.1 .3zM352 37.5l1.2-.6-.9-2.5-1.1 .4zM350.9 37.5l1.1 0-.8-2.7-1.2 .3zM349.8 37.2l1.1 .3-.9-2.4-1.1 .3z"/><path class="p31" d="M348.6 36.9l1.2 .3-.9-1.8-1.1 .3zM347.5 36.5l1.1 .4-.8-1.2-1.2 .4zM346.4 37.4l1.1-.9-.9-.4-1.1 .3zM345.2 38l1.2-.6-.9-1-1.1 .3zM344.1 38.5l1.1-.5-.8-1.3-1.2 .3zM343 38.8l1.1-.3-.9-1.5-1.1 .4zM341.9 39.2l1.1-.4-.9-1.4-1.1 .3zM340.7 39.3l1.2-.1-.9-1.5-1.1 .3zM339.6 39.3l1.1 0-.8-1.3-1.2 .4zM338.5 39.1l1.1 .2-.9-.9-1.1 .3zM337.3 40.1l1.2-1-.9-.4-1.1 .3zM336.2 41.2l1.1-1.1-.8-1.1-1.2 .3z"/><path class="p30" d="M335.1 42.2l1.1-1-.9-1.9-1.1 .4zM334 43l1.1-.8-.9-2.5-1.1 .3zM332.8 43.5l1.2-.5-.9-3-1.1 .3zM331.7 43.4l1.1 .1-.8-3.2-1.2 .4zM330.6 42.9l1.1 .5-.9-2.7-1.1 .3z"/><path class="p31" d="M329.4 41.8l1.2 1.1-.9-1.9-1.1 .3zM328.3 43.9l1.1-2.1-.8-.5-1.2 .3z"/><path class="p30" d="M327.2 46.3l1.1-2.4-.9-2.3-1.1 .4z"/><path class="p29" d="M326.1 48.5l1.1-2.2-.9-4.3-1.1 .3zM324.9 50.1l1.2-1.6-.9-6.2-1.1 .3zM323.8 50.7l1.1-.6-.8-7.5-1.2 .3zM323.3 50.6l.5 .1-.9-7.8-.5 .2z"/><path class="p30" d="M374.3 32.1l1.2-3-.9-.5-1.1 1.8z"/><path class="p29" d="M373.2 34.1l1.1-2-.8-1.7-1.2 1.2zM372.1 35.1l1.1-1-.9-2.5-1.1 .7z"/><path class="p28" d="M371 35.2l1.1-.1-.9-2.8-1.1 .2z"/><path class="p29" d="M369.8 34.7l1.2 .5-.9-2.7-1.1-.1zM368.7 33.7l1.1 1-.8-2.3-1.2-.4z"/><path class="p30" d="M367.6 32.7l1.1 1-.9-1.7-1.1-.4z"/><path class="p31" d="M366.4 31.7l1.2 1-.9-1.1-1.1-.3zM365.3 33l1.1-1.3-.8-.4-1.2 .8z"/><path class="p30" d="M364.2 34l1.1-1-.9-.9-1.1 .7zM363.1 34.6l1.1-.6-.9-1.2-1.1 .5zM361.9 34.8l1.2-.2-.9-1.3-1.1 .2zM360.8 35.1l1.1-.3-.8-1.3-1.2 .4zM359.7 35.2l1.1-.1-.9-1.2-1.1 .2zM358.5 34.9l1.2 .3-.9-1.1-1.1 0z"/><path class="p31" d="M357.4 34.3l1.1 .6-.8-.8-1.2-.2zM356.3 35.8l1.1-1.5-.9-.4-1.1 1z"/><path class="p30" d="M355.2 37.4l1.1-1.6-.9-.9-1.1 1z"/><path class="p29" d="M354 38.6l1.2-1.2-.9-1.5-1.1 1zM352.9 39.4l1.1-.8-.8-1.7-1.2 .6zM351.8 39.3l1.1 .1-.9-1.9-1.1 0zM350.6 38.7l1.2 .6-.9-1.8-1.1-.3z"/><path class="p30" d="M349.5 37.8l1.1 .9-.8-1.5-1.2-.3z"/><path class="p31" d="M348.4 37l1.1 .8-.9-.9-1.1-.4zM347.2 38.2l1.2-1.2-.9-.5-1.1 .9z"/><path class="p30" d="M346.1 39.2l1.1-1-.8-.8-1.2 .6zM345 39.7l1.1-.5-.9-1.2-1.1 .5zM343.9 40.1l1.1-.4-.9-1.2-1.1 .3zM342.7 40.5l1.2-.4-.9-1.3-1.1 .4zM341.6 40.6l1.1-.1-.8-1.3-1.2 .1zM340.5 40.3l1.1 .3-.9-1.3-1.1 0z"/><path class="p31" d="M339.3 39.6l1.2 .7-.9-1-1.1-.2zM338.2 41.2l1.1-1.6-.8-.5-1.2 1z"/><path class="p30" d="M337.1 42.9l1.1-1.7-.9-1.1-1.1 1.1z"/><path class="p29" d="M336 44.5l1.1-1.6-.9-1.7-1.1 1zM334.8 45.7l1.2-1.2-.9-2.3-1.1 .8z"/><path class="p28" d="M333.7 46.3l1.1-.6-.8-2.7-1.2 .5z"/><path class="p29" d="M332.6 45.9l1.1 .4-.9-2.8-1.1-.1z"/><path class="p30" d="M329.2 46l1.1-3.8-.9-.4-1.1 2.1z"/><path class="p28" d="M328.1 50.1l1.1-4.1-.9-2.1-1.1 2.4z"/><path class="p26" d="M326.9 53.8l1.2-3.7-.9-3.8-1.1 2.2z"/><path class="p25" d="M325.8 56.6l1.1-2.8-.8-5.3-1.2 1.6z"/><path class="p24" d="M324.7 57.5l1.1-.9-.9-6.5-1.1 .6zM324.1 57.1l.6 .4-.9-6.8-.5-.1z"/><path class="p30" d="M375.2 33.4l1.1-3.8-.8-.5-1.2 3z"/><path class="p28" d="M374.1 36l1.1-2.6-.9-1.3-1.1 2z"/><path class="p31" d="M366.2 33.8l1.1-1.6-.9-.5-1.1 1.3z"/><path class="p30" d="M365.1 35l1.1-1.2-.9-.8-1.1 1zM363.9 35.7l1.2-.7-.9-1-1.1 .6zM362.8 35.9l1.1-.2-.8-1.1-1.2 .2zM361.7 36l1.1-.1-.9-1.1-1.1 .3zM360.5 36l1.2 0-.9-.9-1.1 .1zM359.4 35.6l1.1 .4-.8-.8-1.2-.3z"/><path class="p31" d="M358.3 34.8l1.1 .8-.9-.7-1.1-.6zM357.2 36.5l1.1-1.7-.9-.5-1.1 1.5z"/><path class="p30" d="M356 38.3l1.2-1.8-.9-.7-1.1 1.6z"/><path class="p29" d="M354.9 39.6l1.1-1.3-.8-.9-1.2 1.2z"/><path class="p28" d="M353.8 40.4l1.1-.8-.9-1-1.1 .8z"/><path class="p31" d="M348.1 38.9l1.1-1.5-.8-.4-1.2 1.2z"/><path class="p30" d="M347 40l1.1-1.1-.9-.7-1.1 1zM345.9 40.6l1.1-.6-.9-.8-1.1 .5zM344.7 41.2l1.2-.6-.9-.9-1.1 .4zM343.6 41.6l1.1-.4-.8-1.1-1.2 .4zM342.5 41.6l1.1 0-.9-1.1-1.1 .1zM341.3 41.1l1.2 .5-.9-1-1.1-.3zM339.1 42.1l1.1-2-.9-.5-1.1 1.6z"/><path class="p29" d="M338 44.3l1.1-2.2-.9-.9-1.1 1.7z"/><path class="p28" d="M336.8 46.3l1.2-2-.9-1.4-1.1 1.6zM335.7 47.8l1.1-1.5-.8-1.8-1.2 1.2z"/><path class="p30" d="M330.1 47.6l1.1-4.9-.9-.5-1.1 3.8z"/><path class="p27" d="M328.9 52.9l1.2-5.3-.9-1.6-1.1 4.1z"/><path class="p24" d="M327.8 57.7l1.1-4.8-.8-2.8-1.2 3.7z"/><path class="p22" d="M326.7 61.2l1.1-3.5-.9-3.9-1.1 2.8z"/><path class="p21" d="M325.5 62.4l1.2-1.2-.9-4.6-1.1 .9zM325 61.8l.5 .6-.8-4.9-.6-.4z"/><path class="p30" d="M376.1 34.3l1.1-4.3-.9-.4-1.1 3.8z"/><path class="p31" d="M367.1 34.5l1.1-1.9-.9-.4-1.1 1.6z"/><path class="p30" d="M365.9 35.8l1.2-1.3-.9-.7-1.1 1.2z"/><path class="p29" d="M364.8 36.5l1.1-.7-.8-.8-1.2 .7zM363.7 36.7l1.1-.2-.9-.8-1.1 .2zM362.5 36.6l1.2 .1-.9-.8-1.1 .1z"/><path class="p30" d="M361.4 36.5l1.1 .1-.8-.6-1.2 0z"/><path class="p31" d="M358 37l1.2-1.7-.9-.5-1.1 1.7z"/><path class="p30" d="M356.9 38.6l1.1-1.6-.8-.5-1.2 1.8z"/><path class="p29" d="M355.8 39.9l1.1-1.3-.9-.3-1.1 1.3z"/><path class="p31" d="M349 39.4l1.1-1.5-.9-.5-1.1 1.5z"/><path class="p30" d="M347.9 40.5l1.1-1.1-.9-.5-1.1 1.1zM346.7 41.2l1.2-.7-.9-.5-1.1 .6z"/><path class="p29" d="M345.6 42l1.1-.8-.8-.6-1.2 .6zM344.5 42.4l1.1-.4-.9-.8-1.1 .4zM343.3 42.3l1.2 .1-.9-.8-1.1 0z"/><path class="p30" d="M340 42.7l1.1-2.2-.9-.4-1.1 2z"/><path class="p29" d="M338.8 45.1l1.2-2.4-.9-.6-1.1 2.2zM330.9 48.5l1.2-5.4-.9-.4-1.1 4.9z"/><path class="p23" d="M328.7 59.7l1.1-5.4-.9-1.4-1.1 4.8z"/><path class="p20" d="M327.5 63.5l1.2-3.8-.9-2-1.1 3.5z"/><path class="p18" d="M326.4 64.7l1.1-1.2-.8-2.3-1.2 1.2zM325.9 64l.5 .7-.9-2.3-.5-.6z"/><path class="p30" d="M377 34.5l1.1-4-.9-.5-1.1 4.3z"/><path class="p31" d="M367.9 34.9l1.2-1.8-.9-.5-1.1 1.9z"/><path class="p30" d="M366.8 36.1l1.1-1.2-.8-.4-1.2 1.3z"/><path class="p29" d="M365.7 36.9l1.1-.8-.9-.3-1.1 .7z"/><path class="p31" d="M360 35.7l1.2 .7-.9-.3-1.1-.8zM358.9 37.2l1.1-1.5-.8-.4-1.2 1.7z"/><path class="p30" d="M357.8 38.6l1.1-1.4-.9-.2-1.1 1.6z"/><path class="p31" d="M349.9 39.6l1.1-1.3-.9-.4-1.1 1.5z"/><path class="p30" d="M348.7 40.6l1.2-1-.9-.2-1.1 1.1zM347.6 41.6l1.1-1-.8-.1-1.2 .7z"/><path class="p29" d="M346.5 42.4l1.1-.8-.9-.4-1.1 .8zM345.3 42.8l1.2-.4-.9-.4-1.1 .4z"/><path class="p30" d="M340.8 43.1l1.2-2.1-.9-.5-1.1 2.2z"/><path class="p29" d="M339.7 45.4l1.1-2.3-.8-.4-1.2 2.4zM331.8 48.7l1.1-5.1-.8-.5-1.2 5.4z"/><path class="p18" d="M326.8 63.4l.5 .6-.9 .7-.5-.7z"/><path class="p30" d="M377.8 34.2l1.2-3.3-.9-.4-1.1 4z"/><path class="p31" d="M368.8 35.1l1.1-1.6-.8-.4-1.2 1.8z"/><path class="p30" d="M367.7 36.2l1.1-1.1-.9-.2-1.1 1.2zM362 36.5l1.2 .3-.9-.1-1.1-.3z"/><path class="p31" d="M359.8 37.3l1.1-1.1-.9-.5-1.1 1.5z"/><path class="p30" d="M358.6 38.4l1.2-1.1-.9-.1-1.1 1.4z"/><path class="p31" d="M351.9 38.8l1.1 .5-.9-.1-1.1-.9zM350.7 39.8l1.2-1-.9-.5-1.1 1.3z"/><path class="p30" d="M349.6 40.8l1.1-1-.8-.2-1.2 1zM348.5 41.7l1.1-.9-.9-.2-1.1 1zM341.7 43.2l1.1-1.8-.8-.4-1.2 2.1z"/><path class="p29" d="M340.6 45.1l1.1-1.9-.9-.1-1.1 2.3z"/><path class="p30" d="M332.7 48.1l1.1-4.1-.9-.4-1.1 5.1z"/><path class="p21" d="M329.3 59.5l1.1-2.9-.9 2.7-1.1 3.6z"/><path class="p20" d="M328.2 60.4l1.1-.9-.9 3.4-1.1 1.1zM327.6 60l.6 .4-.9 3.6-.5-.6z"/><path class="p30" d="M378.7 33.4l1.1-2-.8-.5-1.2 3.3z"/><path class="p31" d="M369.7 35l1.1-1-.9-.5-1.1 1.6z"/><path class="p30" d="M368.5 35.8l1.2-.8-.9 .1-1.1 1.1z"/><path class="p31" d="M361.8 36.6l1.1 .1-.9-.2-1.1-.3zM360.6 37.3l1.2-.7-.9-.4-1.1 1.1z"/><path class="p30" d="M359.5 38l1.1-.7-.8 0-1.2 1.1z"/><path class="p31" d="M352.7 39.3l1.2 0-.9 0-1.1-.5zM351.6 40l1.1-.7-.8-.5-1.2 1z"/><path class="p30" d="M350.5 40.7l1.1-.7-.9-.2-1.1 1z"/><path class="p31" d="M342.6 43l1.1-1.1-.9-.5-1.1 1.8z"/><path class="p30" d="M341.4 44.3l1.2-1.3-.9 .2-1.1 1.9zM333.5 46.9l1.2-2.4-.9-.5-1.1 4.1z"/><path class="p24" d="M330.2 53.7l1.1-1.7-.9 4.6-1.1 2.9z"/><path class="p23" d="M329 54.4l1.2-.7-.9 5.8-1.1 .9zM328.5 54.2l.5 .2-.8 6-.6-.4z"/><path class="p31" d="M379.6 32.2l1.1-.4-.9-.4-1.1 2zM371.7 34.5l1.1-.4-.9 .4-1.1-.5zM370.5 34.8l1.2-.3-.9-.5-1.1 1zM369.4 35.1l1.1-.3-.8 .2-1.2 .8zM363.8 36.8l1.1-.4-.9 .3-1.1 0zM362.6 37.1l1.2-.3-.9-.1-1.1-.1zM361.5 37.4l1.1-.3-.8-.5-1.2 .7zM360.4 37.7l1.1-.3-.9-.1-1.1 .7zM358.1 38.4l1.2-.3-.9 .5-1.1 .4zM354.7 39.4l1.2-.3-.9 .2-1.1 0zM353.6 39.7l1.1-.3-.8-.1-1.2 0zM352.5 40l1.1-.3-.9-.4-1.1 .7zM351.4 40.4l1.1-.4-.9 0-1.1 .7zM350.2 40.7l1.2-.3-.9 .3-1.2 .6zM344.6 42.3l1.1-.3-.9 .2-1.1-.3zM343.4 42.7l1.2-.4-.9-.4-1.1 1.1zM334.4 45.3l1.1-.3-.8-.5-1.2 2.4z"/><path class="p28" d="M329.9 46.6l1.1-.3-.8 7.4-1.2 .7zM329.4 46.7l.5-.1-.9 7.8-.5-.2zM387.2 39.6l.5-.6-.8-9-.6 .2zM386.1 39.5l1.1 .1-.9-9.4-1.1 .3zM385 38.3l1.1 1.2-.9-9-1.1 .4z"/><path class="p29" d="M383.8 36.4l1.2 1.9-.9-7.4-1.1 .3z"/><path class="p30" d="M382.7 34.3l1.1 2.1-.8-5.2-1.2 .3z"/><path class="p31" d="M381.6 32.3l1.1 2-.9-2.8-1.1 .3zM380.4 34.5l1.2-2.2-.9-.5-1.1 .4z"/><path class="p30" d="M379.3 36l1.1-1.5-.8-2.3-1.2 .3zM378.2 36.8l1.1-.8-.9-3.5-1.1 .3zM377.1 37.1l1.1-.3-.9-4-1.1 .3zM375.9 36.8l1.2 .3-.9-4-1.1 .4zM374.8 36.2l1.1 .6-.8-3.3-1.2 .3z"/><path class="p31" d="M373.7 35.5l1.1 .7-.9-2.4-1.1 .3zM372.5 34.9l1.2 .6-.9-1.4-1.1 .4zM371.4 36l1.1-1.1-.8-.4-1.2 .3zM370.3 36.9l1.1-.9-.9-1.2-1.1 .3zM369.2 37.5l1.1-.6-.9-1.8-1.1 .3z"/><path class="p30" d="M368 37.8l1.2-.3-.9-2.1-1.1 .4z"/><path class="p31" d="M366.9 37.9l1.1-.1-.8-2-1.2 .3zM365.8 37.8l1.1 .1-.9-1.8-1.1 .3zM364.6 37.7l1.2 .1-.9-1.4-1.1 .4zM363.5 37.5l1.1 .2-.8-.9-1.2 .3zM362.4 38.3l1.1-.8-.9-.4-1.1 .3zM361.3 39l1.1-.7-.9-.9-1.1 .3zM360.1 39.5l1.2-.5-.9-1.3-1.1 .4zM359 39.9l1.1-.4-.8-1.4-1.2 .3zM357.9 40.2l1.1-.3-.9-1.5-1.1 .3zM356.7 40.3l1.2-.1-.9-1.5-1.1 .4zM355.6 40.3l1.1 0-.8-1.2-1.2 .3zM354.5 40.2l1.1 .1-.9-.9-1.1 .3zM353.4 41l1.1-.8-.9-.5-1.1 .3zM352.2 41.8l1.2-.8-.9-1-1.1 .4zM351.1 42.5l1.1-.7-.8-1.4-1.2 .3zM350 43l1.1-.5-.9-1.8-1.1 .3z"/><path class="p30" d="M348.8 43.4l1.2-.4-.9-2-1.1 .3z"/><path class="p31" d="M347.7 43.5l1.1-.1-.8-2.1-1.2 .4zM346.6 43.2l1.1 .3-.9-1.8-1.1 .3zM345.4 42.8l1.2 .4-.9-1.2-1.1 .3zM344.3 44.1l1.1-1.3-.8-.5-1.2 .4zM343.2 45.4l1.1-1.3-.9-1.4-1.1 .3z"/><path class="p30" d="M342.1 46.6l1.1-1.2-.9-2.4-1.1 .3zM340.9 47.5l1.2-.9-.9-3.3-1.1 .3zM339.8 48l1.1-.5-.8-3.9-1.2 .4zM338.7 47.8l1.1 .2-.9-4-1.1 .3zM337.5 46.9l1.2 .9-.9-3.5-1.1 .3z"/><path class="p31" d="M336.4 45.4l1.1 1.5-.8-2.3-1.2 .4zM335.3 48l1.1-2.6-.9-.4-1.1 .3z"/><path class="p30" d="M334.2 50.9l1.1-2.9-.9-2.7-1.1 .3z"/><path class="p29" d="M333 53.4l1.2-2.5-.9-5.3-1.1 .3z"/><path class="p28" d="M331.9 55.3l1.1-1.9-.8-7.5-1.2 .4zM330.8 55.9l1.1-.6-.9-9-1.1 .3zM330.2 55.7l.6 .2-.9-9.3-.5 .1z"/><path class="p30" d="M381.3 36.7l1.1-4-.8-.4-1.2 2.2z"/><path class="p29" d="M380.2 39.4l1.1-2.7-.9-2.2-1.1 1.5z"/><path class="p28" d="M379.1 40.7l1.1-1.3-.9-3.4-1.1 .8z"/><path class="p27" d="M377.9 40.9l1.2-.2-.9-3.9-1.1 .3z"/><path class="p28" d="M376.8 40l1.1 .9-.8-3.8-1.2-.3z"/><path class="p30" d="M374.5 37l1.2 1.6-.9-2.4-1.1-.7z"/><path class="p31" d="M372.3 37.3l1.1-1.9-.9-.5-1.1 1.1z"/><path class="p30" d="M371.2 38.7l1.1-1.4-.9-1.3-1.1 .9zM370 39.5l1.2-.8-.9-1.8-1.1 .6z"/><path class="p29" d="M368.9 39.9l1.1-.4-.8-2-1.2 .3z"/><path class="p30" d="M367.8 39.7l1.1 .2-.9-2.1-1.1 .1zM366.6 39.3l1.2 .4-.9-1.8-1.1-.1zM365.5 38.7l1.1 .6-.8-1.5-1.2-.1z"/><path class="p31" d="M364.4 38l1.1 .7-.9-1-1.1-.2zM363.3 39.2l1.1-1.2-.9-.5-1.1 .8z"/><path class="p30" d="M362.1 40.3l1.2-1.1-.9-.9-1.1 .7zM361 41.1l1.1-.8-.8-1.3-1.2 .5zM359.9 41.5l1.1-.4-.9-1.6-1.1 .4zM358.7 41.7l1.2-.2-.9-1.6-1.1 .3zM357.6 41.6l1.1 .1-.8-1.5-1.2 .1zM356.5 41.2l1.1 .4-.9-1.3-1.1 0z"/><path class="p31" d="M355.4 40.6l1.1 .6-.9-.9-1.1-.1zM354.2 41.9l1.2-1.3-.9-.4-1.1 .8z"/><path class="p30" d="M353.1 43.2l1.1-1.3-.8-.9-1.2 .8zM352 44.3l1.1-1.1-.9-1.4-1.1 .7zM350.8 45.1l1.2-.8-.9-1.8-1.1 .5z"/><path class="p29" d="M349.7 45.4l1.1-.3-.8-2.1-1.2 .4z"/><path class="p30" d="M348.6 45.2l1.1 .2-.9-2-1.1 .1zM347.4 44.5l1.2 .7-.9-1.7-1.1-.3z"/><path class="p31" d="M346.3 43.2l1.1 1.3-.8-1.3-1.2-.4zM345.2 45.5l1.1-2.3-.9-.4-1.1 1.3z"/><path class="p30" d="M344.1 47.8l1.1-2.3-.9-1.4-1.1 1.3z"/><path class="p29" d="M342.9 49.9l1.2-2.1-.9-2.4-1.1 1.2z"/><path class="p28" d="M341.8 51.3l1.1-1.4-.8-3.3-1.2 .9z"/><path class="p30" d="M336.2 50.7l1.1-4.8-.9-.5-1.1 2.6z"/><path class="p27" d="M335 55.8l1.2-5.1-.9-2.7-1.1 2.9z"/><path class="p25" d="M333.9 60.5l1.1-4.7-.8-4.9-1.2 2.5z"/><path class="p23" d="M332.8 63.7l1.1-3.2-.9-7.1-1.1 1.9z"/><path class="p22" d="M331.6 64.7l1.2-1-.9-8.4-1.1 .6zM331.1 64.1l.5 .6-.8-8.8-.6-.2z"/><path class="p30" d="M382.2 38.5l1.1-5.3-.9-.5-1.1 4z"/><path class="p27" d="M381.1 42.2l1.1-3.7-.9-1.8-1.1 2.7z"/><path class="p30" d="M373.2 38.4l1.1-2.6-.9-.4-1.1 1.9z"/><path class="p29" d="M372 40.3l1.2-1.9-.9-1.1-1.1 1.4zM370.9 41.4l1.1-1.1-.8-1.6-1.2 .8z"/><path class="p28" d="M369.8 41.7l1.1-.3-.9-1.9-1.1 .4z"/><path class="p29" d="M368.6 41.4l1.2 .3-.9-1.8-1.1-.2zM367.5 40.6l1.1 .8-.8-1.7-1.2-.4z"/><path class="p31" d="M365.3 38.4l1.1 1.2-.9-.9-1.1-.7zM364.1 40.1l1.2-1.7-.9-.4-1.1 1.2z"/><path class="p30" d="M363 41.5l1.1-1.4-.8-.9-1.2 1.1z"/><path class="p29" d="M361.9 42.5l1.1-1-.9-1.2-1.1 .8zM360.7 43.1l1.2-.6-.9-1.4-1.1 .4zM359.6 43.2l1.1-.1-.8-1.6-1.2 .2zM358.5 42.8l1.1 .4-.9-1.5-1.1-.1z"/><path class="p30" d="M357.4 42.1l1.1 .7-.9-1.2-1.1-.4z"/><path class="p31" d="M356.2 41.1l1.2 1-.9-.9-1.1-.6zM355.1 42.9l1.1-1.8-.8-.5-1.2 1.3z"/><path class="p30" d="M354 44.6l1.1-1.7-.9-1-1.1 1.3z"/><path class="p29" d="M352.8 46l1.2-1.4-.9-1.4-1.1 1.1zM351.7 47l1.1-1-.8-1.7-1.2 .8z"/><path class="p28" d="M350.6 47.3l1.1-.3-.9-1.9-1.1 .3z"/><path class="p30" d="M346.1 46.7l1.1-3-.9-.5-1.1 2.3z"/><path class="p29" d="M344.9 49.8l1.2-3.1-.9-1.2-1.1 2.3z"/><path class="p27" d="M343.8 52.6l1.1-2.8-.8-2-1.2 2.1z"/><path class="p29" d="M337 52.9l1.2-6.6-.9-.4-1.1 4.8z"/><path class="p25" d="M335.9 59.8l1.1-6.9-.8-2.2-1.2 5.1z"/><path class="p22" d="M334.8 66.1l1.1-6.3-.9-4-1.1 4.7z"/><path class="p19" d="M333.6 70.4l1.2-4.3-.9-5.6-1.1 3.2z"/><path class="p17" d="M332.5 71.5l1.1-1.1-.8-6.7-1.2 1z"/><path class="p18" d="M332 70.7l.5 .8-.9-6.8-.5-.6z"/><path class="p29" d="M383.1 39.8l1.1-6.1-.9-.5-1.1 5.3z"/><path class="p30" d="M374 39.3l1.2-3-.9-.5-1.1 2.6z"/><path class="p29" d="M372.9 41.5l1.1-2.2-.8-.9-1.2 1.9z"/><path class="p30" d="M365 40.9l1.1-2-.8-.5-1.2 1.7zM363.9 42.5l1.1-1.6-.9-.8-1.1 1.4z"/><path class="p29" d="M362.7 43.7l1.2-1.2-.9-1-1.1 1zM361.6 44.3l1.1-.6-.8-1.2-1.2 .6zM360.5 44.3l1.1 0-.9-1.2-1.1 .1z"/><path class="p30" d="M356 43.6l1.1-2.1-.9-.4-1.1 1.8z"/><path class="p29" d="M354.8 45.6l1.2-2-.9-.7-1.1 1.7z"/><path class="p28" d="M353.7 47.3l1.1-1.7-.8-1-1.2 1.4z"/><path class="p30" d="M346.9 47.7l1.2-3.5-.9-.5-1.1 3z"/><path class="p28" d="M345.8 51.2l1.1-3.5-.8-1-1.2 3.1z"/><path class="p29" d="M337.9 54.3l1.1-7.5-.8-.5-1.2 6.6z"/><path class="p20" d="M335.6 69.3l1.2-7.1-.9-2.4-1.1 6.3z"/><path class="p16" d="M334.5 74.1l1.1-4.8-.8-3.2-1.2 4.3z"/><path class="p14" d="M333.4 75.3l1.1-1.2-.9-3.7-1.1 1.1zM332.9 74.3l.5 1-.9-3.8-.5-.8z"/><path class="p13" d="M389.6 58.3l1.1 .4-.9 .2-1.1-.5z"/><path class="p29" d="M383.9 40.2l1.2-6.1-.9-.4-1.1 6.1z"/><path class="p30" d="M374.9 39.8l1.1-3.1-.8-.4-1.2 3zM365.9 41.4l1.1-2-.9-.5-1.1 2z"/><path class="p29" d="M364.7 43.1l1.2-1.7-.9-.5-1.1 1.6z"/><path class="p30" d="M356.8 44.1l1.2-2.1-.9-.5-1.1 2.1z"/><path class="p29" d="M355.7 46.2l1.1-2.1-.8-.5-1.2 2z"/><path class="p30" d="M347.8 48.1l1.1-3.5-.8-.4-1.2 3.5z"/><path class="p29" d="M338.8 54.6l1.1-7.4-.9-.4-1.1 7.5z"/><path class="p13" d="M333.7 74.1l.6 1-.9 .2-.5-1z"/><path class="p15" d="M390.5 54l1.1 .3-.9 4.4-1.1-.4z"/><path class="p29" d="M384.8 39.6l1.1-5-.8-.5-1.2 6.1z"/><path class="p30" d="M375.8 39.8l1.1-2.6-.9-.5-1.1 3.1zM366.7 41.6l1.2-1.8-.9-.4-1.1 2z"/><path class="p29" d="M365.6 43.1l1.1-1.5-.8-.2-1.2 1.7z"/><path class="p30" d="M357.7 44.3l1.1-1.9-.8-.4-1.2 2.1z"/><path class="p29" d="M356.6 46.1l1.1-1.8-.9-.2-1.1 2.1z"/><path class="p30" d="M348.7 48.1l1.1-3-.9-.5-1.1 3.5z"/><path class="p29" d="M339.6 53.8l1.2-6.1-.9-.5-1.1 7.4z"/><path class="p17" d="M336.3 69.7l1.1-3.8-.9 3.4-1.1 4.7z"/><path class="p15" d="M335.1 70.7l1.2-1-.9 4.3-1.1 1.1zM334.6 69.9l.5 .8-.8 4.4-.6-1z"/><path class="p30" d="M385.7 38.1l1.1-3.1-.9-.4-1.1 5zM376.6 39.3l1.2-1.7-.9-.4-1.1 2.6z"/><path class="p31" d="M367.6 41.5l1.1-1.2-.8-.5-1.2 1.8zM358.6 44.2l1.1-1.3-.9-.5-1.1 1.9z"/><path class="p30" d="M349.5 47.4l1.2-1.9-.9-.4-1.1 3z"/><path class="p29" d="M340.5 51.8l1.1-3.7-.8-.4-1.2 6.1z"/><path class="p21" d="M337.1 61.4l1.2-2.3-.9 6.8-1.1 3.8z"/><path class="p20" d="M336 62.1l1.1-.7-.8 8.3-1.2 1zM335.5 61.7l.5 .4-.9 8.6-.5-.8z"/><path class="p31" d="M386.5 35.8l1.2-.3-.9-.5-1.1 3.1zM377.5 38.4l1.1-.3-.8-.5-1.2 1.7zM369.6 40.7l1.1-.3-.8 .5-1.2-.6zM368.5 41.1l1.1-.4-.9-.4-1.1 1.2zM367.4 41.4l1.1-.3-.9 .4-1.1 1.1zM360.6 43.4l1.1-.4-.9 .5-1.1-.6zM359.5 43.7l1.1-.3-.9-.5-1.1 1.3zM350.4 46.3l1.2-.3-.9-.5-1.2 1.9z"/><path class="p30" d="M341.4 48.9l1.1-.3-.9-.5-1.1 3.7z"/><path class="p27" d="M336.9 50.2l1.1-.3-.9 11.5-1.1 .7zM336.3 50.4l.6-.2-.9 11.9-.5-.4z"/><path class="p26" d="M394.2 48.4l.5-.9-.9-13.8-.5 .1zM393.1 48.4l1.1 0-.9-14.6-1.1 .4z"/><path class="p27" d="M391.9 46.4l1.2 2-.9-14.2-1.1 .3z"/><path class="p28" d="M390.8 43.2l1.1 3.2-.8-11.9-1.2 .3z"/><path class="p29" d="M389.7 39.5l1.1 3.7-.9-8.4-1.1 .4z"/><path class="p30" d="M388.6 35.9l1.1 3.6-.9-4.3-1.1 .3zM387.4 39.5l1.2-3.6-.9-.4-1.2 .3zM386.3 42l1.1-2.5-.9-3.7-1.1 .3z"/><path class="p29" d="M385.2 43.4l1.1-1.4-.9-5.9-1.1 .4zM384 43.7l1.2-.3-.9-6.9-1.1 .3zM382.9 43l1.1 .7-.8-6.9-1.2 .3zM381.8 41.8l1.1 1.2-.9-5.9-1.1 .3z"/><path class="p30" d="M380.6 40.2l1.2 1.6-.9-4.4-1.1 .4z"/><path class="p31" d="M379.5 38.6l1.1 1.6-.8-2.4-1.2 .3zM378.4 40.6l1.1-2-.9-.5-1.1 .3z"/><path class="p30" d="M377.3 42.1l1.1-1.5-.9-2.2-1.1 .4zM376.1 43.1l1.2-1-.9-3.3-1.1 .3zM375 43.5l1.1-.4-.8-4-1.2 .3zM373.9 43.4l1.1 .1-.9-4.1-1.1 .3zM372.7 42.9l1.2 .5-.9-3.7-1.1 .4zM371.6 42.1l1.1 .8-.8-2.8-1.2 .3z"/><path class="p31" d="M370.5 41.2l1.1 .9-.9-1.7-1.1 .3zM369.4 42.7l1.1-1.5-.9-.5-1.1 .4z"/><path class="p30" d="M368.2 43.9l1.2-1.2-.9-1.6-1.1 .3zM367.1 44.9l1.1-1-.8-2.5-1.2 .3zM366 45.4l1.1-.5-.9-3.2-1.1 .3zM364.8 45.5l1.2-.1-.9-3.4-1.1 .4zM363.7 45.2l1.1 .3-.8-3.1-1.2 .3zM362.6 44.6l1.1 .6-.9-2.5-1.1 .3z"/><path class="p31" d="M361.5 43.8l1.1 .8-.9-1.6-1.1 .4zM360.3 45.4l1.2-1.6-.9-.4-1.1 .3z"/><path class="p30" d="M359.2 46.8l1.1-1.4-.8-1.7-1.2 .3zM358.1 48l1.1-1.2-.9-2.8-1.1 .3zM356.9 48.8l1.2-.8-.9-3.7-1.1 .4zM355.8 49l1.1-.2-.8-4.1-1.2 .3zM354.7 48.7l1.1 .3-.9-4-1.1 .3zM353.6 47.8l1.1 .9-.9-3.4-1.1 .3z"/><path class="p31" d="M352.4 46.4l1.2 1.4-.9-2.2-1.1 .4zM351.3 48.7l1.1-2.3-.8-.4-1.2 .3z"/><path class="p30" d="M350.2 50.9l1.1-2.2-.9-2.4-1.1 .3z"/><path class="p29" d="M349 52.9l1.2-2-.9-4.3-1.1 .4zM347.9 54.2l1.1-1.3-.8-5.9-1.2 .3zM346.8 54.6l1.1-.4-.9-6.9-1.1 .3zM345.6 53.8l1.2 .8-.9-7-1.1 .3z"/><path class="p30" d="M344.5 51.9l1.1 1.9-.8-5.9-1.2 .4zM343.4 49.1l1.1 2.8-.9-3.6-1.1 .3zM342.3 53.3l1.1-4.2-.9-.5-1.1 .3z"/><path class="p29" d="M341.1 57.7l1.2-4.4-.9-4.4-1.1 .4z"/><path class="p28" d="M340 61.5l1.1-3.8-.8-8.4-1.2 .3z"/><path class="p27" d="M338.9 64.1l1.1-2.6-.9-11.9-1.1 .3z"/><path class="p26" d="M337.7 64.8l1.2-.7-.9-14.2-1.1 .3zM337.2 64.2l.5 .6-.8-14.6-.6 .2z"/><path class="p29" d="M388.3 43.2l1.1-6.8-.8-.5-1.2 3.6z"/><path class="p27" d="M387.2 48l1.1-4.8-.9-3.7-1.1 2.5z"/><path class="p30" d="M379.3 42.8l1.1-3.8-.9-.4-1.1 2z"/><path class="p29" d="M378.1 45.6l1.2-2.8-.9-2.2-1.1 1.5z"/><path class="p28" d="M377 47.3l1.1-1.7-.8-3.5-1.2 1z"/><path class="p27" d="M375.9 47.9l1.1-.6-.9-4.2-1.1 .4z"/><path class="p30" d="M370.2 44.4l1.2-2.8-.9-.4-1.1 1.5z"/><path class="p29" d="M369.1 46.7l1.1-2.3-.8-1.7-1.2 1.2zM368 48.3l1.1-1.6-.9-2.8-1.1 1z"/><path class="p28" d="M366.8 49l1.2-.7-.9-3.4-1.1 .5zM365.7 48.9l1.1 .1-.8-3.6-1.2 .1z"/><path class="p30" d="M362.3 44.3l1.2 2-.9-1.7-1.1-.8zM361.2 47.1l1.1-2.8-.8-.5-1.2 1.6z"/><path class="p29" d="M360.1 49.8l1.1-2.7-.9-1.7-1.1 1.4z"/><path class="p28" d="M358.9 51.9l1.2-2.1-.9-3-1.1 1.2z"/><path class="p27" d="M357.8 53.1l1.1-1.2-.8-3.9-1.2 .8z"/><path class="p30" d="M352.2 51.2l1.1-4.3-.9-.5-1.1 2.3z"/><path class="p28" d="M351 55.4l1.2-4.2-.9-2.5-1.1 2.2z"/><path class="p26" d="M349.9 59l1.1-3.6-.8-4.5-1.2 2z"/><path class="p29" d="M343.1 57.6l1.2-8.1-.9-.4-1.1 4.2z"/><path class="p25" d="M342 66l1.1-8.4-.8-4.3-1.2 4.4z"/><path class="p21" d="M340.9 73.3l1.1-7.3-.9-8.3-1.1 3.8z"/><path class="p18" d="M339.7 78.1l1.2-4.8-.9-11.8-1.1 2.6z"/><path class="p17" d="M338.6 79.1l1.1-1-.8-14-1.2 .7zM338.1 77.9l.5 1.2-.9-14.3-.5-.6z"/><path class="p28" d="M389.2 46.4l1.1-9.6-.9-.4-1.1 6.8z"/><path class="p30" d="M380.1 44.8l1.2-5.3-.9-.5-1.1 3.8z"/><path class="p27" d="M379 48.8l1.1-4-.8-2-1.2 2.8z"/><path class="p30" d="M371.1 46l1.1-3.9-.8-.5-1.2 2.8z"/><path class="p28" d="M370 49.2l1.1-3.2-.9-1.6-1.1 2.3z"/><path class="p30" d="M362.1 48.8l1.1-4.1-.9-.4-1.1 2.8z"/><path class="p28" d="M360.9 52.5l1.2-3.7-.9-1.7-1.1 2.7z"/><path class="p29" d="M353 53.4l1.2-6.1-.9-.4-1.1 4.3z"/><path class="p26" d="M351.9 59.3l1.1-5.9-.8-2.2-1.2 4.2z"/><path class="p28" d="M344 61.4l1.1-11.4-.8-.5-1.2 8.1z"/><path class="p21" d="M342.9 73.1l1.1-11.7-.9-3.8-1.1 8.4z"/><path class="p15" d="M341.7 83.2l1.2-10.1-.9-7.1-1.1 7.3z"/><path class="p11" d="M340.6 89.8l1.1-6.6-.8-9.9-1.2 4.8z"/><path class="p9" d="M339.5 90.9l1.1-1.1-.9-11.7-1.1 1zM339 89.1l.5 1.8-.9-11.8-.5-1.2z"/><path class="p11" d="M393.4 63.1l1.2 11.1-.9-6-1.1-9.5z"/><path class="p19" d="M392.3 50l1.1 13.1-.8-4.4-1.2-11.1z"/><path class="p28" d="M390 48.6l1.2-11.3-.9-.5-1.1 9.6z"/><path class="p21" d="M384.4 52.9l1.1 5.1-.9-3.5-1.1-4.3z"/><path class="p29" d="M381 46.3l1.1-6.4-.8-.4-1.2 5.3z"/><path class="p30" d="M372 47.2l1.1-4.7-.9-.4-1.1 3.9z"/><path class="p27" d="M370.8 51.1l1.2-3.9-.9-1.2-1.1 3.2z"/><path class="p30" d="M362.9 50.1l1.2-4.9-.9-.5-1.1 4.1z"/><path class="p29" d="M353.9 55l1.1-7.2-.8-.5-1.2 6.1z"/><path class="p27" d="M344.9 63.8l1.1-13.4-.9-.4-1.1 11.4z"/><path class="p11" d="M342.6 89.3l1.1-11.8-.8-4.4-1.2 10.1z"/><path class="p5" d="M341.5 96.9l1.1-7.6-.9-6.1-1.1 6.6z"/><path class="p3" d="M340.4 98l1.1-1.1-.9-7.1-1.1 1.1zM339.8 95.9l.6 2.1-.9-7.1-.5-1.8zM395.4 74.8l1.2 6.9-.9-.6-1.1-6.9z"/><path class="p9" d="M394.3 63.7l1.1 11.1-.8-.6-1.2-11.1z"/><path class="p18" d="M393.2 50.6l1.1 13.1-.9-.6-1.1-13.1z"/><path class="p27" d="M390.9 49.2l1.1-11.4-.8-.5-1.2 11.3z"/><path class="p17" d="M386.4 58.9l1.1 2.9-.9-.9-1.1-2.9z"/><path class="p20" d="M385.3 53.6l1.1 5.3-.9-.9-1.1-5.1z"/><path class="p24" d="M384.1 47.1l1.2 6.5-.9-.7-1.1-6.4z"/><path class="p29" d="M381.9 46.9l1.1-6.5-.9-.5-1.1 6.4z"/><path class="p24" d="M376.2 51.5l1.2 2.9-.9-1-1.1-2.8z"/><path class="p29" d="M372.8 47.9l1.2-4.9-.9-.5-1.1 4.7z"/><path class="p25" d="M367.2 53.3l1.1 2.1-.8-1-1.2-2z"/><path class="p29" d="M363.8 50.7l1.1-5.1-.8-.4-1.2 4.9z"/><path class="p23" d="M358.2 58.5l1.1 2.3-.9-1-1.1-2.1z"/><path class="p29" d="M354.8 55.6l1.1-7.3-.9-.5-1.1 7.2z"/><path class="p17" d="M349.1 69.1l1.2 3.5-.9-.8-1.1-3.5z"/><path class="p27" d="M345.7 64.4l1.2-13.5-.9-.5-1.1 13.4z"/><path class="p1" d="M340.7 96.3l.5 2.1-.8-.4-.6-2.1z"/><path class="p3" d="M398.6 74.7l.5-2.1-.9 7-.5 2.4zM397.4 74.5l1.2 .2-.9 7.3-1.1-.3z"/><path class="p5" d="M396.3 68.9l1.1 5.6-.8 7.2-1.2-6.9z"/><path class="p11" d="M395.2 59.8l1.1 9.1-.9 5.9-1.1-11.1z"/><path class="p19" d="M394 48.9l1.2 10.9-.9 3.9-1.1-13.1z"/><path class="p28" d="M391.8 47.8l1.1-9.6-.9-.4-1.1 11.4z"/><path class="p17" d="M388.4 58.8l1.1-.4-.8 3.1-1.2 .3z"/><path class="p18" d="M387.3 56.4l1.1 2.4-.9 3-1.1-2.9z"/><path class="p21" d="M386.1 52l1.2 4.4-.9 2.5-1.1-5.3z"/><path class="p24" d="M385 46.5l1.1 5.5-.8 1.6-1.2-6.5z"/><path class="p29" d="M382.7 46.5l1.2-5.7-.9-.4-1.1 6.5z"/><path class="p22" d="M379.4 54.1l1.1-.7-.9 1.5-1.1 .7z"/><path class="p23" d="M378.2 53.1l1.2 1-.9 1.5-1.1-1.2z"/><path class="p24" d="M377.1 50.7l1.1 2.4-.8 1.3-1.2-2.9z"/><path class="p27" d="M376 47.3l1.1 3.4-.9 .8-1.1-4.1z"/><path class="p30" d="M373.7 47.7l1.1-4.2-.8-.5-1.2 4.9z"/><path class="p24" d="M369.2 54.4l1.1 .4-.8 1.1-1.2-.5z"/><path class="p25" d="M368.1 52.6l1.1 1.8-.9 1-1.1-2.1z"/><path class="p27" d="M366.9 49.7l1.2 2.9-.9 .7-1.1-3.4z"/><path class="p29" d="M364.7 50.5l1.1-4.4-.9-.5-1.1 5.1z"/><path class="p22" d="M360.2 59.3l1.1 .1-.9 1.5-1.1-.1z"/><path class="p23" d="M359 57.4l1.2 1.9-.9 1.5-1.1-2.3z"/><path class="p26" d="M357.9 53.7l1.1 3.7-.8 1.1-1.2-4.4z"/><path class="p29" d="M355.7 55l1.1-6.3-.9-.4-1.1 7.3z"/><path class="p18" d="M352.3 69.3l1.1-3.1-.9 2.6-1.1 3.5z"/><path class="p17" d="M351.1 69.5l1.2-.2-.9 3-1.1 .3z"/><path class="p18" d="M350 66.5l1.1 3-.8 3.1-1.2-3.5z"/><path class="p22" d="M348.9 60.3l1.1 6.2-.9 2.6-1.1-7.5z"/><path class="p27" d="M346.6 62.7l1.1-11.4-.8-.4-1.2 13.5z"/><path class="p5" d="M343.2 90.3l1.2-6.3-.9 5.9-1.1 7.5z"/><path class="p3" d="M342.1 91.1l1.1-.8-.8 7.1-1.2 1zM341.6 89.3l.5 1.8-.9 7.3-.5-2.1z"/><path class="p11" d="M399.4 59.5l.6-1.3-.9 14.4-.5 2.1zM398.3 59.5l1.1 0-.8 15.2-1.2-.2z"/><path class="p12" d="M397.2 56.4l1.1 3.1-.9 15-1.1-5.6z"/><path class="p17" d="M396 51.2l1.2 5.2-.9 12.5-1.1-9.1z"/><path class="p22" d="M394.9 44.9l1.1 6.3-.8 8.6-1.2-10.9z"/><path class="p28" d="M392.7 44.5l1.1-5.8-.9-.5-1.1 9.6z"/><path class="p21" d="M389.3 51.5l1.1-.4-.9 7.3-1.1 .4zM388.1 50.3l1.2 1.2-.9 7.3-1.1-2.4z"/><path class="p23" d="M387 47.8l1.1 2.5-.8 6.1-1.2-4.4z"/><path class="p26" d="M385.9 44.6l1.1 3.2-.9 4.2-1.1-5.5z"/><path class="p30" d="M383.6 44.8l1.1-3.5-.8-.5-1.2 5.7z"/><path class="p25" d="M380.2 49.9l1.2-.6-.9 4.1-1.1 .7zM379.1 49.4l1.1 .5-.8 4.2-1.2-1z"/><path class="p26" d="M378 48.1l1.1 1.3-.9 3.7-1.1-2.4z"/><path class="p28" d="M376.8 46.1l1.2 2-.9 2.6-1.1-3.4z"/><path class="p30" d="M374.6 46.7l1.1-2.8-.9-.4-1.1 4.2z"/><path class="p26" d="M371.2 51.4l1.1-.8-.8 3.2-1.2 1zM370.1 51.3l1.1 .1-.9 3.4-1.1-.4z"/><path class="p27" d="M368.9 50.3l1.2 1-.9 3.1-1.1-1.8z"/><path class="p28" d="M367.8 48.6l1.1 1.7-.8 2.3-1.2-2.9z"/><path class="p30" d="M365.6 49.4l1.1-2.9-.9-.4-1.1 4.4z"/><path class="p25" d="M362.2 55.1l1.1-1.1-.9 3.7-1.1 1.7zM361 55.2l1.2-.1-.9 4.3-1.1-.1zM359.9 54.2l1.1 1-.8 4.1-1.2-1.9z"/><path class="p27" d="M358.8 52.1l1.1 2.1-.9 3.2-1.1-3.7z"/><path class="p29" d="M356.5 53.1l1.2-3.9-.9-.5-1.1 6.3z"/><path class="p21" d="M353.1 62l1.2-1.9-.9 6.1-1.1 3.1zM352 62.3l1.1-.3-.8 7.3-1.2 .2z"/><path class="p22" d="M350.9 60.6l1.1 1.7-.9 7.2-1.1-3z"/><path class="p24" d="M349.8 57l1.1 3.6-.9 5.9-1.1-6.2z"/><path class="p28" d="M347.5 58.6l1.1-6.8-.9-.5-1.1 11.4z"/><path class="p12" d="M344.1 75.3l1.1-3.8-.8 12.5-1.2 6.3z"/><path class="p11" d="M343 75.9l1.1-.6-.9 15-1.1 .8zM342.5 74.9l.5 1-.9 15.2-.5-1.8z"/><path class="p24" d="M398 38.1l1.2-.3-.9 21.7-1.1-3.1z"/><path class="p26" d="M396.9 38.5l1.1-.4-.8 18.3-1.2-5.2z"/><path class="p28" d="M395.8 38.8l1.1-.3-.9 12.7-1.1-6.3z"/><path class="p30" d="M393.5 39.5l1.2-.4-.9-.4-1.1 5.8z"/><path class="p28" d="M387.9 41.1l1.1-.3-.9 9.5-1.1-2.5z"/><path class="p29" d="M386.8 41.4l1.1-.3-.9 6.7-1.1-3.2z"/><path class="p30" d="M384.5 42.1l1.1-.4-.9-.4-1.1 3.5z"/><path class="p29" d="M378.8 43.7l1.2-.3-.9 6-1.1-1.3z"/><path class="p30" d="M377.7 44l1.1-.3-.8 4.4-1.2-2z"/><path class="p31" d="M375.5 44.7l1.1-.3-.9-.5-1.1 2.8z"/><path class="p29" d="M369.8 46.3l1.1-.3-.8 5.3-1.2-1z"/><path class="p30" d="M368.7 46.7l1.1-.4-.9 4-1.1-1.7z"/><path class="p31" d="M366.4 47.3l1.2-.3-.9-.5-1.1 2.9z"/><path class="p29" d="M360.8 49l1.1-.4-.9 6.6-1.1-1z"/><path class="p30" d="M359.7 49.3l1.1-.3-.9 5.2-1.1-2.1zM357.4 49.9l1.1-.3-.8-.4-1.2 3.9z"/><path class="p27" d="M351.8 51.6l1.1-.3-.9 11-1.1-1.7z"/><path class="p28" d="M350.6 51.9l1.2-.3-.9 9-1.1-3.6z"/><path class="p30" d="M348.4 52.6l1.1-.4-.9-.4-1.1 6.8z"/><path class="p23" d="M343.8 53.9l1.2-.3-.9 21.7-1.1 .6z"/><path class="p24" d="M343.3 54l.5-.1-.8 22-.5-1z"/><path class="p22" d="M401.2 64.6l.5-1.6-.9-25.7-.5 .2zM400 64.7l1.2-.1-.9-27.1-1.1 .3z"/><path class="p23" d="M398.9 61l1.1 3.7-.8-26.9-1.2 .3z"/><path class="p25" d="M397.8 54.7l1.1 6.3-.9-22.9-1.1 .4z"/><path class="p27" d="M396.7 47.1l1.1 7.6-.9-16.2-1.1 .3z"/><path class="p30" d="M395.5 39.6l1.2 7.5-.9-8.3-1.1 .3zM394.4 46.6l1.1-7-.8-.5-1.2 .4z"/><path class="p28" d="M393.3 51.8l1.1-5.2-.9-7.1-1.1 .3z"/><path class="p27" d="M392.1 54.6l1.2-2.8-.9-12-1.1 .3z"/><path class="p26" d="M391 55.1l1.1-.5-.8-14.5-1.2 .3z"/><path class="p27" d="M389.9 53.5l1.1 1.6-.9-14.7-1.1 .4zM388.8 50.4l1.1 3.1-.9-12.7-1.1 .3z"/><path class="p29" d="M387.6 46.4l1.2 4-.9-9.3-1.1 .3z"/><path class="p30" d="M386.5 42.2l1.1 4.2-.8-5-1.2 .3zM385.4 46.6l1.1-4.4-.9-.5-1.1 .4z"/><path class="p29" d="M384.2 50l1.2-3.4-.9-4.5-1.1 .3z"/><path class="p28" d="M383.1 52.1l1.1-2.1-.8-7.6-1.2 .3zM382 52.8l1.1-.7-.9-9.4-1.1 .4zM380.8 52.1l1.2 .7-.9-9.7-1.1 .3z"/><path class="p29" d="M379.7 50.3l1.1 1.8-.8-8.7-1.2 .3zM378.6 47.7l1.1 2.6-.9-6.6-1.1 .3z"/><path class="p30" d="M377.5 44.8l1.1 2.9-.9-3.7-1.1 .4zM376.3 48.3l1.2-3.5-.9-.4-1.1 .3zM375.2 51.1l1.1-2.8-.8-3.6-1.2 .3z"/><path class="p29" d="M374.1 53.1l1.1-2-.9-6.1-1.1 .4z"/><path class="p28" d="M372.9 54.1l1.2-1-.9-7.7-1.1 .3zM371.8 53.8l1.1 .3-.8-8.4-1.2 .3z"/><path class="p29" d="M370.7 52.4l1.1 1.4-.9-7.8-1.1 .3z"/><path class="p30" d="M369.6 50.2l1.1 2.2-.9-6.1-1.1 .4zM368.4 47.4l1.2 2.8-.9-3.5-1.1 .3zM367.3 51l1.1-3.6-.8-.4-1.2 .3z"/><path class="p29" d="M366.2 54.2l1.1-3.2-.9-3.7-1.1 .4zM365 56.7l1.2-2.5-.9-6.5-1.1 .3z"/><path class="p28" d="M363.9 58l1.1-1.3-.8-8.7-1.2 .3zM362.8 58l1.1 0-.9-9.7-1.1 .3zM361.7 56.5l1.1 1.5-.9-9.4-1.1 .4z"/><path class="p29" d="M360.5 53.8l1.2 2.7-.9-7.5-1.1 .3z"/><path class="p30" d="M359.4 50.1l1.1 3.7-.8-4.5-1.2 .3zM358.3 54.9l1.1-4.8-.9-.5-1.1 .3z"/><path class="p29" d="M357.1 59.6l1.2-4.7-.9-5-1.1 .4z"/><path class="p27" d="M356 63.3l1.1-3.7-.8-9.3-1.2 .3zM354.9 65.6l1.1-2.3-.9-12.7-1.1 .3z"/><path class="p26" d="M353.8 65.8l1.1-.2-.9-14.7-1.1 .4z"/><path class="p27" d="M352.6 63.6l1.2 2.2-.9-14.5-1.1 .3z"/><path class="p28" d="M351.5 59.1l1.1 4.5-.8-12-1.2 .3z"/><path class="p30" d="M350.4 52.7l1.1 6.4-.9-7.2-1.1 .3zM349.2 60.9l1.2-8.2-.9-.5-1.1 .4z"/><path class="p27" d="M348.1 69.1l1.1-8.2-.8-8.3-1.2 .3z"/><path class="p25" d="M347 76.1l1.1-7-.9-16.2-1.1 .3z"/><path class="p23" d="M345.8 80.5l1.2-4.4-.9-22.9-1.1 .4z"/><path class="p22" d="M344.7 81l1.1-.5-.8-26.9-1.2 .3zM344.2 79.7l.5 1.3-.9-27.1-.5 .1z"/><path class="p9" d="M401.6 77.7l.5-2.3-.4-12.4-.5 1.6zM400.4 77.7l1.2 0-.4-13.1-1.2 .1z"/><path class="p11" d="M399.3 72.1l1.1 5.6-.4-13-1.1-3.7z"/><path class="p15" d="M398.2 62.6l1.1 9.5-.4-11.1-1.1-6.3z"/><path class="p21" d="M397.1 51.2l1.1 11.4-.4-7.9-1.1-7.6z"/><path class="p28" d="M395.9 39.8l1.2 11.4-.4-4.1-1.2-7.5zM394.8 50.2l1.1-10.4-.4-.2-1.1 7z"/><path class="p23" d="M393.7 57.7l1.1-7.5-.4-3.6-1.1 5.2z"/><path class="p20" d="M392.5 61.8l1.2-4.1-.4-5.9-1.2 2.8z"/><path class="p19" d="M391.4 62.3l1.1-.5-.4-7.2-1.1 .5z"/><path class="p20" d="M390.3 59.8l1.1 2.5-.4-7.2-1.1-1.6z"/><path class="p22" d="M389.2 55l1.1 4.8-.4-6.3-1.1-3.1z"/><path class="p25" d="M388 48.8l1.2 6.2-.4-4.6-1.2-4z"/><path class="p29" d="M386.9 42.4l1.1 6.4-.4-2.4-1.1-4.2zM385.8 48.8l1.1-6.4-.4-.2-1.1 4.4z"/><path class="p26" d="M384.6 53.8l1.2-5-.4-2.2-1.2 3.4z"/><path class="p24" d="M383.5 56.8l1.1-3-.4-3.8-1.1 2.1z"/><path class="p23" d="M382.4 57.6l1.1-.8-.4-4.7-1.1 .7z"/><path class="p24" d="M381.3 56.5l1.1 1.1-.4-4.8-1.2-.7z"/><path class="p25" d="M380.1 53.6l1.2 2.9-.5-4.4-1.1-1.8z"/><path class="p27" d="M379 49.6l1.1 4-.4-3.3-1.1-2.6z"/><path class="p30" d="M377.9 45l1.1 4.6-.4-1.9-1.1-2.9zM376.7 50l1.2-5-.4-.2-1.2 3.5z"/><path class="p27" d="M375.6 54.2l1.1-4.2-.4-1.7-1.1 2.8z"/><path class="p26" d="M374.5 57.1l1.1-2.9-.4-3.1-1.1 2z"/><path class="p25" d="M373.4 58.3l1.1-1.2-.4-4-1.2 1zM372.2 57.7l1.2 .6-.5-4.2-1.1-.3z"/><path class="p26" d="M371.1 55.5l1.1 2.2-.4-3.9-1.1-1.4z"/><path class="p27" d="M370 52l1.1 3.5-.4-3.1-1.1-2.2z"/><path class="p30" d="M368.8 47.7l1.2 4.3-.4-1.8-1.2-2.8zM367.7 52.8l1.1-5.1-.4-.3-1.1 3.6z"/><path class="p27" d="M366.6 57.5l1.1-4.7-.4-1.8-1.1 3.2z"/><path class="p25" d="M365.4 61l1.2-3.5-.4-3.3-1.2 2.5z"/><path class="p24" d="M364.3 62.9l1.1-1.9-.4-4.3-1.1 1.3z"/><path class="p23" d="M363.2 62.7l1.1 .2-.4-4.9-1.1 0z"/><path class="p24" d="M362.1 60.3l1.1 2.4-.4-4.7-1.1-1.5z"/><path class="p26" d="M360.9 56l1.2 4.3-.4-3.8-1.2-2.7z"/><path class="p29" d="M359.8 50.3l1.1 5.7-.4-2.2-1.1-3.7zM358.7 57.4l1.1-7.1-.4-.2-1.1 4.8z"/><path class="p25" d="M357.5 64.2l1.2-6.8-.4-2.5-1.2 4.7z"/><path class="p22" d="M356.4 69.6l1.1-5.4-.4-4.6-1.1 3.7z"/><path class="p20" d="M355.3 72.8l1.1-3.2-.4-6.3-1.1 2.3z"/><path class="p19" d="M354.2 72.9l1.1-.1-.4-7.2-1.1 .2z"/><path class="p20" d="M353 69.5l1.2 3.4-.4-7.1-1.2-2.2z"/><path class="p23" d="M351.9 62.6l1.1 6.9-.4-5.9-1.1-4.5z"/><path class="p28" d="M350.8 52.9l1.1 9.7-.4-3.5-1.1-6.4zM349.6 64.9l1.2-12-.4-.2-1.2 8.2z"/><path class="p21" d="M348.5 77l1.1-12.1-.4-4-1.1 8.2z"/><path class="p15" d="M347.4 87.2l1.1-10.2-.4-7.9-1.1 7z"/><path class="p11" d="M346.3 93.5l1.1-6.3-.4-11.1-1.2 4.4z"/><path class="p9" d="M345.1 94.1l1.2-.6-.5-13-1.1 .5zM344.6 92.1l.5 2-.4-13.1-.5-1.3z"/></g>
<path d="M344.6 104.1L402.1 87.4M344.6 104.1L300.2 80.9M300.2 80.9L300.2 31.5M344.6 104.1L343.49 103.52M358.98 99.92L357.87 99.34M373.35 95.75L372.24 95.17M387.73 91.58L386.62 91M402.1 87.4L400.99 86.82M344.6 104.1L346.04 103.68M322.4 92.5L323.84 92.08M300.2 80.9L301.64 80.48M300.2 80.9L301.35 80.57M300.2 68.55L301.35 68.22M300.2 56.2L301.35 55.87M300.2 43.85L301.35 43.52M300.2 31.5L301.35 31.17" stroke="#555" stroke-width="0.4" fill="none"/>
<text x="351.3" y="13.66" font-size="4.6" text-anchor="middle" fill="#3a3a3a" >Parameter space</text>
<text x="298.6" y="32.14" font-size="4.55" text-anchor="end" fill="#3a3a3a" >0</text>
<text x="298.6" y="44.94" font-size="4.55" text-anchor="end" fill="#3a3a3a" >−5</text>
<text x="298.6" y="57.14" font-size="4.55" text-anchor="end" fill="#3a3a3a" >−10</text>
<text x="298.6" y="69.04" font-size="4.55" text-anchor="end" fill="#3a3a3a" >−15</text>
<text x="298.6" y="81.04" font-size="4.55" text-anchor="end" fill="#3a3a3a" >−20</text>
<text x="294.8" y="87.84" font-size="4.55" text-anchor="middle" fill="#3a3a3a" >10</text>
<text x="318.3" y="99.44" font-size="4.55" text-anchor="middle" fill="#3a3a3a" >0</text>
<text x="337.6" y="111.04" font-size="4.55" text-anchor="middle" fill="#3a3a3a" >−10</text>
<text x="351.2" y="111.04" font-size="4.55" text-anchor="middle" fill="#3a3a3a" >−10</text>
<text x="364.2" y="108.04" font-size="4.55" text-anchor="middle" fill="#3a3a3a" >−5</text>
<text x="376.8" y="101.94" font-size="4.55" text-anchor="middle" fill="#3a3a3a" >0</text>
<text x="390.6" y="96.44" font-size="4.55" text-anchor="middle" fill="#3a3a3a" >5</text>
<text x="406.3" y="93.14" font-size="4.55" text-anchor="middle" fill="#3a3a3a" >10</text>
<text x="318.4" y="111.28" font-size="4.95" text-anchor="middle" fill="#3a3a3a" >x<tspan font-size="3.4" dy="1.3">2</tspan></text>
<text x="373" y="112.88" font-size="4.95" text-anchor="middle" fill="#3a3a3a" >x<tspan font-size="3.4" dy="1.3">1</tspan></text>
<text transform="translate(284.3 57) rotate(-90)" font-size="5.0" word-spacing="0.6" text-anchor="middle" fill="#3a3a3a">F25( x<tspan font-size="3.4" dy="1.3">1</tspan><tspan dy="-1.3"> , x</tspan><tspan font-size="3.4" dy="1.3">2</tspan><tspan dy="-1.3"> )</tspan></text>
</g>
<g>
<path d="M68.7 236.4 130.9 217.7 84.2 193.1 22 211.8 z" fill="#addfe6"/>
<path d="M22 211.8L84.2 193.1M84.2 193.1L130.9 217.7M84.2 193.1L84.2 141.7M22 160.4L84.2 141.7M84.2 141.7L130.9 166.3M130.9 217.7L130.9 166.3M99.8 227.05L53.1 202.45M53.1 202.45L53.1 151.05M45.35 224.1L107.55 205.4M107.55 205.4L107.55 154M22 186.1L84.2 167.4M84.2 167.4L130.9 192" stroke="#dedede" stroke-width="0.4" fill="none"/>
<g><path fill="none" stroke="#4743e7" stroke-width="0.35" opacity="0.8" d="M69.1 232l1.2-.3 .7-.3 .7-.5 .6-.3 .3-.8-.2-.7-.5-.6-.8-.6-.5-.6-1-.1-1.1 0-1.1-.5-1.3 .1-.9 .1-1 0-1.4 .2-1.4 .3-1.4 .3-.5 .7-.9 .6 0 1 .5 .8 .9 .5 1 .5 1.4 .3 .8 .2 .9 .1 .9 0 1 0 .9 0 .8-.1 .8-.1 .6-.2M57.7 230.6l-.3-.7 .2-.9 .5-.7 .9-.6 .9-.5 .7-.2 1.4-.3 1-.2 1.4-.1 1.7-.1 1.2 .1 1.4 .2 1 .2 .8 .2 1.3 .4 .8 .5 .7 .6 .4 .6 .3 .7-.8 .7-.5 .8-1.1 .4-1.1 .5-1.4 .3-1 .2-1.3 .1-.9 .1-.9 0-1.1-.1-.9-.1-.8-.1-.8-.2-.4-.1"/><path fill="none" stroke="#4367fd" stroke-width="0.35" opacity="0.8" d="M78.7 230.3l0 0M82.9 228.5l-.7-.4 .7 .4M67.9 232l1-.1 1.2-.4 .7-.4 .6-.5 .7-.6-.3-1.1-.6-.6-.8-.5-1-.3-1.3-.2-1.5-.3-1 0-1 .1-1.5 .2-1.5 .2-1.1 .4-.8 .7-.6 .6 .2 1.1 .6 .6 1 .5 .8 .3 1.2 .3 .9 .1 1 .1 1.2 0 1.3-.1 .6-.1M82.6 227.8l-.8-.4 .8 .4M81.7 226.8l-.8-.3 .7 .2 .1 .1M76.1 226.4l-.9-.5 .7 .2 .2 .3M57 230.2l0-1 .4-.8 .9-.6 .8-.6 1.2-.3 .7-.2 1.5-.2 .8-.2 1.6-.1 .9-.1 1 0 1.1 .1 1.4 .3 .9 .2 .8 .1 1.1 .5 .8 .5 .7 .6 .4 .6 .3 .7-.2 .8-.8 .6-.8 .6-.6 .3-1.1 .4-1.3 .3-1.5 .2-.8 .1-.9 .1-1 0-.9-.1-1 0-.9-.2-.8-.1M66.5 224.4l0 0M56.5 225.8l1.1-.4-1.1 .4M61.9 223l1-.3-1 .3M59.5 223.3l1.2-.4-1.2 .4M57.2 223.6l1.2-.3-1.2 .3"/><path fill="none" stroke="#2d8cf3" stroke-width="0.35" opacity="0.8" d="M81 232.7l.2-.1M91.1 229.7l.7-.6 .4 .2M92.7 229.2l.5-.5 1.2-.4 .9-.5 1.1-.1-.8 .6M82.7 231.4l-.7-.3 .9-.1-.2 .4M89.3 229.8l-1-.1 .6-.5 .7 .2-.3 .4M96.8 227l-.9-.3 1.2-.4-.3 .7M86.4 229.8l-.9-.4 .7-.6 .8 .6-.6 .4M96.4 225.8l-.8-.2-.4-.5 1.2-.1 0 .8M65.5 234.7l1 0 .9 0 .8-.1 .9-.1 1.4-.2 .9-.1 1.3-.3 1.2-.4 1.3-.4 .9-.5 .8-.6 .5-.5 .9-.4 .1 .8-.9 .4-.5 .4-.8 .5-1.1 .4-1.2 .4-1.3 .4-1.4 .2-1.3 .3-1 .1-.9 .1-1.5 0-.2 0M78.7 230.8l-.6-.7 .1-.8 .7-.2 .6 .6 .3 .7-1.1 .4M83.4 229.2l-1.1-.4-.4-.6-.6-.6-.5-.6-.6-.6-.4-.6 .8-.1 .9 .3 .5 .4 .5 .8 .6 .6 .5 .7-.2 .7M94.7 224.4l-1.4 0-.9-.1 .7-.6 1 0 .6 .6 0 .1M66.8 232l1.1-.2 1.3-.3 1.2-.4 .7-.6 .7-.7-.3-.8-.6-.6-.9-.5-1.5-.3-.7-.2-.7-.2-1.1 0-1.1 0-.9 .1-1.5 .2-1.2 .4-.9 .5-.8 .7 0 1 .7 .7 .9 .5 1.3 .4 .8 .1 .9 .1 1.1 .1 .9 0 .6 0M77.4 227.1l-1.2-.3-1.1-.4-.6-.6-.6-.5 1.4 .1 .7 .3 .5 .4 .7 .8 .2 .2M83 225.4l-1.2-.3-.5-.6 1.4 0 .8 .5-.5 .4M88.9 223.4l-1-.1-.8 .1-.7 .2-.6-.3 .8-.1 .8-.1 1.3-.1 .2 .4M93 221.4l-1 0 1 0 0 0M77.1 224.4l-.9-.3 .9 .1 0 .2M56.6 230l.1-1 .4-.7 .9-.6 .9-.6 1.3-.3 1.4-.3 .7-.2 1.6-.2 1.7-.1 1 0 1 .1 1.4 .2 1.5 .3 .8 .1 1.1 .5 .8 .5 .7 .6 .4 .6 .3 .7-.3 1-.7 .6-.9 .6-1.1 .5-1.2 .3-.7 .2-1.4 .2-.9 .1-.9 .1-.9 0-1 0-1.2-.1-1.2-.1M73 225.3l-1.2-.1-1-.2-.8-.2-1.3-.2-1-.1-.9 .1-.9 0-1.1 0 1-.5 .9-.1 .9 0 .8 .1 .8 .2 1.4 .2 1 0 .9 .3 .5 .5M80.5 222.5l.8-.3-.8 .3M73.5 223.5l0 0M74.3 222.4l0 0M69.8 223.1l.6-.4-.6 .4M52.5 227.9l.4-.7 .6-.4 1.4-.2-.6 .7-.9 .5-.1 .5M55.3 226.2l.5-.7 1.1-.2 1.2-.2 1-.1-.5 .4-1.2 .4-1.4 .3-.7 .1M62.9 223.1l-1.5 .2-.8 .1-1.6 .2-.8 .1-1.5 .2-1.2-.1 1-.5 1-.1 1.3-.2 .8-.1 .8-.1 .8-.1 1-.2 1.4-.1 1.1 .1-1 .5-.8 .1M50 226.5l.1 .1M65.2 221.7l-.9 0 .7-.6 1.1 .2-.9 .4M51.6 225.3l1.1-.3-1.1 .3M65.3 220.7l-.7-.4 .9-.3 .5 .6-.7 .1M53.5 223.3l-.8-.2 .7-.4 .9-.1 .8 .1-.8 .5-.8 .1M65.5 219.8l-1-.3-.9-.9-1.1-.4-1.4-.4-.8-.1-.7-.2-1.3 0-1.1 0-.9 0-1.5 .3-1.4 .2-1.2 .5-.8 .5-.8 .7-.1 .9-.9-.1 .4-.7 .3-.7 .6-.3 .9-.6 1.2-.4 1.3-.3 1.6-.2 .9-.1 1.4-.1 1.1 .1 .9 .1 .9 .1 1.4 .3 .7 .3 1 .4 .8 .6 .8 .4-.3 .4M51 222.4l.9-.5-.9 .5M50.5 221.7l-.4-.6 1.1 .1-.7 .5M94.3 204.7l.9-.1 1.3-.4 .6-.3 .8-.5 .5-.7-.2-1.1-.6-.6-.9-.4-.8-.3-1.2-.3-.9-.1-1-.1-1.3 0-1.3 .1-1.5 .2-1.2 .4-.6 .3-.8 .5-.5 .7 .2 1.1 .6 .6 .9 .4 .8 .3 1.2 .3 .9 .1 1 .1 1.3 0 1.3-.1 .5-.1M100.6 201.7l0 1.1-.5 .8-.7 .6-.9 .4-.7 .3-1.2 .4-.9 .2-1.3 .2-.9 .1-1.5 0-1.2 0-1-.1-.9-.1-.8-.1-.7-.2-.7-.2-1.2-.4-.9-.5-.7-.6-.5-.6-.1-1.1 .5-.8 .8-.6 .8-.4 .8-.3 1.2-.4 .9-.2 1.3-.2 .9-.1 1.4 0 1.2 0 1.1 .1 .9 .1 .7 .1"/><path fill="none" stroke="#1caadf" stroke-width="0.35" opacity="0.8" d="M68.3 236.2l.8-.1 .8-.1 .1 0M80.1 233l.5-.6 1.3-.4 .1 .4M84.5 231.6l.7-.4 .7 0M89.9 230l-.8 .2-1.3-.2-.9 0-.8 .1-.7-.3-.9-.5-1.2 .4-1-.5-.5-.6-.5-.6-.6-.6-.5-.6-.5-.5-.3-.8 1.5-.1 0-1.1 1.5-.1 .8-.2 .9-.6 .9-.6 1.7-.1 1-.1 1.2 0 1.1 .1 1.1 .3 .8 .2 1 .1 .9 .1 1.1 .1 .7 .6 1 .4 .9 .5 .3 .7 .3 .7-.3 .9-.3 .4M101.6 226.5l-.2-1.1-.5-.6-.4-.7-1.1-.4-.5-.6-1.2-.3-1.1-.2-.6-.6 1.7-.1 .7 .3 .9 .8 1 0 .8 .6 .5 .6 .8 .5 .3 .7 .3 .7M82.4 231.8l-.8-.4 .5-.8 .9 0 .5 .6-1.1 .6M105.8 224.5l0 0M90.1 228.8l.9-.2 .8-.1 1.3-.4 1-.4 .4-.6 .4-.6-.6-.8-.4-.7-1.5-.4-.9-.1-.8-.2-1.1-.4-1 0-1.3 .1-1 0-.6 .3-.7 .6-.8 .1-.6 .7-1 0 .1 1.1 .5 .6 .6 .6 .9 .5 .7-.3 .8 .2 1.2 .5 1-.2 1 .1 .7 0M104.7 223.4l-.8-.3 .8 .3M65.2 234.6l1 0 .9-.1 .9 0 1.1-.2 1.3-.1 1.3-.3 .7-.2 1.2-.4 1.2-.4 1-.5 .9-.5 .7-.7 .5-.7-.1-1.1-.2-1.1-.4-.6-.9-.5-1-.5-.8-.6-1-.4-1.2-.3-1.1-.2-.8-.1-.8-.2-.8-.1-.9-.1-1.6 .1-1.1 0-1 0-1 0-.9 0-1.5 .2-1.3 .4-1.2 .4-1.4 .3-1.2 .4-.5 .4-.7 .5-.7 .6-.2 .4M102.5 222.3l-.9-.4 .9 .1 0 .3M67.6 231.7l1.4-.3 1.1-.4 .7-.7 .5-.5-.2-.9-.9-.7-1.2-.4-.8-.2-.8-.1-.8-.1-1.1-.1-1.2 .1-1.5 .2-1.2 .4-1 .6-.6 .6 0 .9 .6 .6 1 .5 1.2 .4 .9 .1 .9 .1 1.2 .1 1-.1 .8-.1M99.4 221.2l-1.1-.3 .5-.5 .9 .4-.3 .4M93.7 221.8l-.9 0-1 0-1.2-.1-.8-.1-.7-.2 1-.5 .9-.1 1.5-.1 1 .1 .9 .5-.7 .5M99.5 219.7l-.9-.4 1.1 .1-.2 .3M94.7 220.2l-.9 .1-.9-.1-1.3-.4 1.1-.6-1-.5-1.1-.5-.5-.6-.9-.1-.9-.1-1-.1-1.1-.1-1.1 0-1 0-1.3 .4-.9 .1-.8 .3-.7 .4-.9 0 .3 .7-.7 .6 .5 .7 .9 .1-.5 .5-.9 .3-1.2 .4-.6-.3 .3-.8-.4-.7 .3-.8-.2-.7 1.2-.5 .8-.5 1.3-.5 1.1-.4 .9-.1 1.5-.2 1 0 .9-.1 1 .1 1.1 0 .8 .2 .8 .2 1.4 .3 .7 .2 1 .5 .7 .5 1 .5-.8 .6 1.1 .5-.1 .5M76.8 224.7l-.8-.2-.6-.5 1-.3 1.1 0 .4 .7-1.1 .3M98.7 218.2l-.7-.3 .7 .2 0 .1M78.5 223.5l-1.2-.1 1.2-.4 0 .5M80.9 222.8l-1.1-.1-.3-.7 1-.4 .9-.1 1 0 1 0 1.1 .1-.9 .5-1.4 .3-1.3 .4M56.2 229.8l.2-.9 .6-.7 .5-.4 .7-.5 1-.4 .8-.2 1.4-.3 1.4-.3 .9-.1 1.2 0 1.4-.1 1.1 0 1.1 .1 .7 .2 .7 .2 1 .1 1.2 .4 .9 .5 .8 .5 .6 .6 .4 .7 .1 1.1-.8 .7-.7 .7-1.1 .4-1.1 .5-1.3 .3-1.5 .3-1.7 .1-.9 0-1 0-1.1 0-1-.1-.2-.1M74 223.7l-.9 .1-.9-.4 1.1-.4 .9 .2-.2 .5M96.9 216.8l0 0M75 222.7l-1.2-.2 .6-.6 .9 .2-.3 .6M70.2 223.3l-1.1-.1-.9-.2 .7-.4 1.3-.2 1 .5-1 .4M52.2 227.7l.5-.7 1.1-.5 .7-.5 .5-.4 1.3-.4 1.5-.2 1.5-.3 1.4-.2 .8-.1 .8-.1 .8-.1 .8-.1 .9-.1 1.6-.1 .9-.1 1.1 .1 1.1 .3 .8 .1 .9 0 1.1 .1 .6 .3 1.4 .4 .9 .1 1.1 .4 .6 .6 .7 .6 .7 .5 .5 .7 .5 .6 .3 .7 .4 .6-.1 .8-.7 .4-.3 .7-.5 .4-1 .6-.6 .4-.9 .3-1.1 .5-1.2 .3-1.4 .4-.8 .1-1.4 .2-.8 .1-.8 .1-.9 .1-.9 0M70.7 222l-1-.2 .8-.4 1.2 .2-1 .4M64.7 223l-1.6 .2-1.1 .1-1.2 .2-1.1 .1-1.2 .2-.8 .1-.8 .1-1.6 .2-.6-.3-.8-.4-1.5 0-.6-.6-.8-.1-.7-.2-.6-.6-.7-.6-.4-.6 .2-1.1 .5-.6 .7-.6 .6-.4 1.1-.4 1.2-.4 1.4-.3 .8-.1 .8-.1 .9-.1 .9 0 1 0 1.2 .1 1.2 .1 1 .2 .7 .2 1.3 .4 1 .5 .9 .5 .5 .6 .2 .7-.2 .8 .4 .7-1.3 .4 .3 .7-1.2 .4M71.6 220.9l-1-.1 .4-.7-.4-.5-.7-1-.8-.5-.7-.6-.8-.5-1.1-.3-.7-.3-1.4-.3-1.4-.4-.9-.1-.9-.1-1-.1-1.1-.1-1.1 0-1 0-.9 0-.9 .1-1.6 .2-1.3 .2-.9 .2-1.3 .3-1.2 .4-.6 .3-.9 .5-.6 .4-.7 .4-.5 .7-.4 .9-.1 .8 .3 .9 .6 .8 .6 .3 1 .7 .7 .2 .4 .7 1.5-.1-.4 .7-1 .1-.2-.7-1.1-.1-.9-.5-1.1-.4-.4-.7-.8-.5-.4-.7-.2-.7 .1-1 .3-.6 .4-.6 .5-.5 .7-.4 .9-.6 1-.5 1.1-.4 1.3-.4 .8-.2 1.3-.2 1.4-.3 .9 0 .8-.1 .9-.1 1 0 1.3 0 1.1 0 1.1 .1 1 .1 .9 .1 .8 .1 .8 .2 .8 .1 .7 .2 1.3 .4 .8 .2 .7 .5 1.3 .4 .5 .6 .3 .7 .8 .2 .4 .6 .8 .5-.2 .8-.7 .3M49.5 226.3l1.3-.4 .3-.8 .7-.2 1.6-.2-.5 .8-1.4 .3-.6 .7-.3 .3M60.9 222.5l1.5-.2 .3-.9 1.2-.4-.3-.7-.4-.8-.6-.6-1.2-.4-.7-.2-1.4-.2-1.1-.1-1 0-.8 .1-1.5 .2-1.3 .4-1 .5-.5 .5-.3 .9 .4 .7 1.1 .4 .5 .6 .9 .1 1.1 0 .8 .6 1.1-.1 .9-.1 1.5-.2 .8-.1M74.2 218.2l-.8-.2-.5-.6 1-.4 .3 .7 0 .5M75.9 216.5l-.7-.2 .7-.3 0 .5M77.9 215.5l0 0M79.8 215l0 0M71.6 216.3l-.8-.2 .8-.3 0 .5M107.7 205.5l-.8 .6-.8 .5-.6 .3-1.2 .4-1.1 .4-1.3 .4-1.3 .3-1.3 .4-.9 .1-1.4 .2-.9 .1-1.6 .1-1 0-.9 .1-1 0-.9 0-1.1-.1-1.1 0-1.1-.1-.9-.2-.9-.1-.9-.1-.7-.2-.8-.1-.7-.2-1.3-.3-.7-.3-1.1-.4-1-.5-.9-.5-.9-.5-.8-.5-.5-.6-.6-.6-.3-.7-.2-1.1 .2-.8 .4-.9 .5-.6 .5-.5 .8-.6 1-.5 .9-.6 1.1-.4 1.2-.4 1.3-.4 1.3-.3 1.3-.4 .9-.1 1.4-.2 .8-.1 .9 0M69.4 215.1l0 0M105.4 204.3l-.7 .6-.9 .6-1 .5-1.1 .5-1.2 .4-1.2 .3-1.1 .2-1.1 .2-1.4 .2-1 .1-.8 .1-1 0-.9 0-1 0-1 0-1-.1-1-.1-.9-.1-.8-.1-.8-.2-.8-.2-1.3-.3-1-.3-.8-.3-1-.5-.9-.5-.5-.4-.5-.5-.5-.6-.3-.7-.1-1 .3-.9 .3-.6 .5-.5 .8-.6 1-.5 .7-.4 .8-.4 1.2-.4 1.3-.3 1-.2 1.2-.2 1.4-.2 1-.1 1.7-.1M40.7 221.6l0 .1M93.7 204.5l1.1-.1 1.3-.4 .7-.4 .6-.5 .4-.6-.3-.8-.4-.5-1-.5-.9-.3-1.2-.2-.9-.1-1.2 0-1.2 0-.8 .1-1.4 .3-1.1 .5-.8 .6-.4 .6 .3 .8 .4 .5 1 .5 .9 .3 1.2 .2 .9 .1 1.2 0 1.2 0 .4-.1M101.3 202.1l-.2 .9-.4 .6-.5 .5-.9 .5-1.1 .5-1.3 .4-1.4 .3-1.3 .1-1.1 .1-.9 0-.9 0-1.1 0-1-.1-.8-.1-.8-.2-.7-.2-1.3-.4-1-.4-.9-.5-.6-.6-.3-.7 .1-1.1 .4-.6 .5-.5 .9-.5 1.1-.5 1.3-.4 1.4-.3 1.2-.1 1.2-.1 .9 0 .9 0 1.1 0 .9 .1 .5 .1M92.3 197.4l-1 0-1.8 .1-1.6 .1-1.5 .3-1.3 .3-1.3 .4-1.1 .4-1 .5-.9 .6-.7 .6-.4 .7-.3 .9 .2 1.1 .5 .6 .6 .6 .8 .5 .9 .5 1.1 .5 1.2 .4 1.5 .3 .8 .1 .8 .2 1 .1 1 .1 1.1 0 1.2 0 1.4 0 1-.1 1.6-.1 1.4-.3 1.4-.3 1.3-.4 1.1-.4 1-.5 .9-.6 .7-.6 .2-.4M89.1 195.7l-1.1 .1-1.3 .1-.7 .2-.9 0-1.4 .4-1.3 .3-1.2 .4-1.2 .4-1.1 .4-.9 .6-.7 .4-.6 .4-.7 .7-.4 .6-.4 .9-.2 .8 .1 .8 .3 .6 .4 .7 .5 .4 .8 .8 .9 .5 .9 .5 1 .4 1.1 .5 .8 .1 1.2 .4 .8 .2 1.3 .2 1.1 .2 .9 .1 1 .1 .9 .1 1.1 0 1 .1 1 0 1 0 1.2-.1 1.4-.1 1.6-.1 .7-.2 .9 0 1.4-.4 1.3-.3 1.2-.4 1.2-.4 1.1-.4 .9-.6 .6-.4 .7-.4"/><path fill="none" stroke="#12beb9" stroke-width="0.35" opacity="0.8" d="M78.4 233.5l.8-.3 .6-.5 .5-.5 .9-.5-.2-.9-1.1 .2-.6 .7-.6 .7-1 .5-.9 .5-1.1 .5-1.3 .4-1.2 .3-.7 .2-1.4 .3-.8 .1-1.6 .2-.9 0-.9 .1M83.9 231.8l-1.1 .2-.2 .2M88.4 230.5l-1.1-.2-1.5 .2-.8-.5-1.3-.1 .3 1.1 1.5-.2 1 .2M100.6 226.8l.2-.8-.5-.6-.3-.7-1-.5-.5-.6-1.1-.5-1-.1-.8-.5-1.1-.4-1.2 0-1 0-.8 .5 1.2 .4 1 .1 1.1 0 .8 .2 .7 .6 1 .4 .9 .5 .3 .7 .4 .6-.1 .9-.2 .4M104.3 225.7l-.2 .1M67.9 236l.9-.1 1.6-.2 .7 0M103.8 225.1l0 0M103.5 224.8l0 0M89.9 228.5l1.3-.3 1.3-.3 .8-.7 .7-.6-.6-.7-.3-.7-1.3-.3-1.2-.1-.9-.1-1.2 0-1.1-.1-.7 .2-1.1 .4-.9 .1-.4 .6 .4 .7-1.2 .1 .5 .9 .9-.1 1 .3 .8 .5 1.2 .2 1.1-.1 .8 .1 .1 0M80.6 230.5l1.1-.1 .6-.4-.3-.7-.5-.5-.6-.7-.6-.6-.3-.7-.6-.6-.4-.6-.9-.5-1.1-.1-.8-.1-.6-.3-.6-.5-.8-.2-1.5 .2 .5 .5 1 .3 1.2 .1 .9 .2 .6 .6 .6 .6 .8 .5 .8 .6 .5 .6 .2 .7 .3 .7 .3 .7 .2 .3M102.2 223.6l-.4-.6 .4 .6M64.9 234.4l1 0 .9 0 .9-.1 1.7-.1 1.4-.3 1.4-.3 1.2-.4 1.2-.4 1-.5 .8-.5 .5-.6 .6-.4 .1-.9-.2-.7-.2-.8-.5-.6-.8-.5-.8-.5-.8-.6-1.1-.4-.8-.2-1.2-.2-1.1-.2-.8-.2-.8-.1-1-.1-1.2 .1-.9 0-.9 0-.9 .1-.9 0-.8 .1-1.3 .2-.8 .2-1.4 .3-1.3 .4-1.2 .4-.7 .6-.9 .6-.4 .7-.1 .1M99.8 222.4l1 .1-.5-.6-.8-.2 .3 .7M66.4 231.7l1-.1 1.3-.3 1.2-.4 .7-.7 .3-.7-.3-.6-.8-.6-1.1-.4-.7-.2-.9-.1-1.1-.1-1.1 0-1.2 .1-1.3 .3-1 .5-.6 .3-.4 .5 .2 1.1 .7 .6 1.2 .4 .8 .2 1.3 .2 1.1 0 .7 0M100.9 220.5l0 0M96.7 221.4l.8-.2-.8-.6-1 0-.9 .2 .9 .5 1 .1M79.6 225l.7-.5 1-.5 .9-.1 .5-.6-1.4-.3-.9 0-.7 .4-.6 .5-.6 .3 .3 .7 .8 .1M96.7 219.9l1-.1-.5-.5-1.4 0 .9 .6M87.6 222.2l.8-.1-.8-.3-1.2 .2-.9 .1 1.2 .1 .9 0M82.4 223l.9 0-.9 0M84.8 222.3l0 0M91.1 220.4l-.8-.4-1-.2-.8-.2 1.1-.3 .9-.2-.7-.4-1.3-.2-1-.1-.8-.6-1.2 0-1.1 .1-.8 .1-.6 .7-1.3 .4-.8 .5 1.4 .4-.5 .7 1 .5 .9-.1 1.5-.1 1-.1 .9 0 .8-.1 .9-.1 1.6-.2 .7-.1M96.1 218.5l.8-.2-.8-.4-1 0 1 .6M55.9 229.6l.2-.9 .7-.6 .7-.7 1.1-.5 1.2-.3 1.4-.3 1.4-.3 .8-.1 .9 0 .9-.1 1 0 1 0 .9 0 1.4 .3 .7 .2 1 .1 1.1 .4 1 .5 .7 .5 .7 .6 .4 .7 .1 .9-.4 .9-.6 .4-.6 .5-1.1 .5-1.1 .4-1.3 .3-1 .2-1.3 .2-1.8 .1-.9 0-1.1-.1-1.2-.1M75.7 223.5l.5-.6-1.3 .3 .8 .3M78.6 222.6l-.6-.6-.9-.1-.8-.2 .2 .8 1.3 .2 .8-.1M70.7 224.2l1.1 0-.2-.7-1.2-.1-.9 0-1.1 0-.8-.2-.9-.2-1 0-1.5 .2-.9 .1-1.4 .3-1.6 .2-1.5 .1-.9 .1-1.3 .2-1 .1-.8 .2-.5 .4 1.1 .4 1.5-.3 1.4-.3 1.3-.3 1.5-.3 1.1-.1 1.5 0 .8-.1 .9 0 .8-.1 .8-.1 .9-.1 1.3 .3 1.5 .3M94.3 217.1l-.7-.5 .7 .5M83.5 220l0 0M72.2 223l1-.2-.8-.6-1.1 .1 .9 .7M75.8 221.1l.9 0-.4-.5-.5 .5 0 0M91.5 216l-.6-.3 .6 .3M51.9 227.6l.5-.8 1.2-.4 .6-.7-1 0-1.3 .3-.5 .5-.6 .5M67.3 222.5l1.2-.1 .6-.4-.5-.6 1.2-.4 .1-.8-.5-.6-.4-.7-.7-.6-.5-.6-1-.4-1.1-.5-1.3-.3-.7-.2-.8-.2-.8-.1-.9-.2-1 0-1-.1-1.2 0-1.3 0-1.7 .1-1.6 .2-1 .2-1.1 .2-1.2 .4-.9 .4-.7 .3-1 .5-.7 .6-.4 .6-.4 .6 0 1 .4 .7 .3 .6 .7 .5 1.1 .6 .6 .5 .8 .2 1 0 .2-.8-1.2-.2-.9-.7-.6-.6-.6-.6 .1-1.1 .5-.9 .8-.6 .9-.6 1.1-.4 1.2-.4 1.4-.3 1.2-.1 1.2-.2 .9 0 1 0 1 0 1.2 .1 .9 .1 .8 .2 .8 .1 .8 .2 1.1 .4 1.1 .4 .8 .6 .4 .5 .6 .3 .7 1-.9 .5 .3 .7-1.1 .4 .7 .6M73.8 220.6l.4-.5-1.1 .1 .7 .4M89.8 215.8l0 0M88.8 215.7l0 0M75.4 218.5l1-.2-.2-.8-.7-.2-.3 .9 .2 .3M86.1 215.3l0 0M49.1 226.1l1.2-.4-.8-.5-.8 .6 .4 .3M53 224.5l.7-.2-.6-.6-1.5 .1-.5 .5 1.1 .3 .8-.1M59.7 222.5l.8-.2 .6-.7 1.2-.4 .5-.4-.2-1-.6-.3-.7-.6-1.5-.3-.8-.2-1 0-1 0-1.5 .2-1.3 .4-.9 .6-.6 .7 .3 .6 1 .6 .6 .6 1.1 0 1.5 0 1 0 .7 .4 .8 0M77.8 217.1l.7-.6-1.3 .2 .6 .4M82.2 215.7l0 0M79.4 216.2l.9-.3-.9 .3M47.4 225.2l-.9-.5M71.4 217.8l.7-.2-.6-.6-.7 .2 .6 .6M73.2 216.1l0 0M45.8 224.3l-.9-.4M68.9 216.3l0 0M44.3 223.5l-.7-.3M105.9 204.5l-.7 .7-.6 .3-.8 .5-1.1 .5-1.1 .4-1.2 .4-1.2 .2-.9 .2-1.5 .3-1.6 .2-1.7 .1-1 0-.9 0-1.1 0-1.1-.1-1.1-.1-1-.1-.9-.1-.8-.2-.8-.1-.9-.2-1.2-.3-1.1-.5-1.2-.4-.9-.5-.6-.5-.8-.6-.4-.5-.4-.8-.3-.7 .1-.9 .4-.8 .6-.7 .7-.7 .6-.3 .8-.5 1.1-.5 1-.4 1.3-.4 1.2-.2 .9-.2 1.4-.3 .9-.1 1.6-.1 .9-.1M67.3 215.6l-.9-.5 .9 .5M43 222.5l0 0M65.2 215l-.6-.3 .6 .3M42.3 221.5l0 0M42.4 221.1l0 0M63.7 214.7l0 0M42.1 220.4l0 0M61.9 214.5l0 0M42.2 220l0 0M61 214.4l0 0M101.8 202.4l-.3 .9-.5 .6-.9 .6-1 .5-1.2 .5-1.3 .3-1.4 .2-.9 .1-.9 .1-1.5 0-1.2 0-1-.1-1-.1-.8-.1-.8-.1-.7-.2-1.2-.4-1.1-.5-.8-.5-.6-.6-.4-.6-.1-.8 .3-.8 .5-.6 .9-.6 1-.5 1.2-.5 1.3-.3 1.4-.2 .9-.1 .8-.1 .9 0 1 0 .9 0 1 .1 .3 0M42.3 219.6l0 0M59.8 214.3l0 0M93.1 204.3l1.3-.2 1.3-.3 .8-.5 .5-.5 0-.9-.5-.5-.9-.5-1.2-.4-1-.1-1.1-.1-1.2 0-.8 .1-1.4 .3-1.1 .5-.8 .6-.1 .9 .6 .6 .9 .5 1.1 .4 1.1 .1 1 .1 1.3 0 .2-.1M42.5 219.2l0 0M58.7 214.3l0 0M42.7 218.7l0 0M57.5 214.3l0 0M43 218.2l.8-.2-.8 .2 0 0M55.9 214.4l.9-.2-.9 .2M43.7 217.7l.7-.3-.7 .3M54.2 214.5l.9-.2-.8 .1-.1 .1M44.5 217l.8-.2 .7-.2-.9 .2-.6 .2M51.8 214.8l.9-.2-.9 .2M46.4 216.1l.9-.2 1.2-.4 1.3-.4 .7-.3-.8 .2-.7 .2-1.2 .4-1.2 .4-.2 .1M92.7 197.6l-1 0-.9 0-.9 .1-1.6 .1-.8 .1-1.4 .3-1.3 .4-1.2 .4-.9 .3-.6 .4-.7 .4-.5 .5-.5 .6-.4 .9 .2 1.1 .4 .6 .6 .6 .8 .6 .9 .5 1.1 .4 1.3 .4 1 .3 1.2 .2 .9 .1 1 .1 1 .1 1.2 0 1.3 0 1.1-.1 .9 0 .8-.1 1.1-.2 1.1-.2 1.3-.4 1.2-.4 .8-.3 .7-.4 .7-.4 .5-.5 .5-.6 .1-.1M89.8 196l-.8 .1-.9 .1-1.6 .2-1.5 .2-1.3 .3-1.3 .4-1.2 .4-1.1 .4-.7 .3-.8 .5-.8 .6-.8 .6-.6 .7-.4 .9 0 1 .3 .9 .4 .6 .4 .6 .8 .6 .9 .5 .9 .5 1 .5 1.2 .4 1.3 .4 .8 .2 1.4 .3 .9 .1 .9 .1 .9 .1 1 .1 1.1 .1 1.1 0 1 0 1 0 .9 0 .8-.1 .9-.1 1.5-.2 .8-.1 1.4-.3 1.3-.3 1.3-.4 1.2-.4 1.1-.5 .9-.5 .8-.6 .5-.3"/><path fill="none" stroke="#48cb86" stroke-width="0.35" opacity="0.8" d="M75.2 234.5l-.5 .1M78.4 233.1l0 0M79.8 231.9l.9-.3-.9-.2 0 .5M84.1 230.6l.8-.2-.7-.3-.1 .5M89.3 227.9l1-.2 1.3-.3 .8-.5-.3-.6-.5-1-.9-.2-1.3 .1-.9 0-1 0-1.2 .4-1.1-.1 .2 .9 .3 .6 .8 .6 1.2 .3 1-.2 .6 .2M80.8 230.1l1-.2-.3-.8-1-.5-.1 .8 .4 .7M64.7 234.3l1 0 .9 0 .9-.1 1-.1 1.4-.2 1.4-.2 .7-.2 1.2-.4 .9-.2 .7-.5 1.1-.5 .5-.7 .7-.4 .2-.8-.3-.7-.3-.7-.5-.6-.7-.6-.7-.6-.7-.5-.7-.3-1.4-.3-1.4-.3-.9-.1-.8-.2-1.5-.2-.9 .1-1.1 0-1.5 .1-.8 .1-.9 .1-1.4 .2-.7 .2-1.5 .3-1.3 .3-.8 .3-.6 .5-1 .5-.6 .7-.2 .4M67.2 231.4l1.3-.3 1.1-.4 .6-.5 .2-.9-.5-.6-1-.5-1.3-.4-1-.1-1.1 0-1.4 .1-1.4 .3-.8 .3-.8 .4-.3 .7 .2 .8 .7 .5 1 .4 .9 .2 .8 .1 1 .1 .9-.1 .9-.1M79.3 227l-.2-.7-.6-.6-1.3-.3 .3 .7 .7 .5 1.1 .4M93.6 222.7l0 0M81.3 223.7l-.5-.5 .5 .5M74.4 224.7l-.6-.5 .6 .5M87 220.5l0 0M85.5 220.5l1-.3-1 .3M55.5 229.5l.3-.8 .5-.6 .6-.5 .9-.6 1.2-.3 1.3-.4 1.3-.3 1.3-.2 1.1-.1 1 0 1 0 1 0 1.4 0 .8 .2 1.4 .3 1 .1 .9 .5 1 .4 .9 .5 .7 .6 .4 .7 0 1.1-.4 .9-.9 .6-.8 .6-1.2 .4-1.2 .4-1.4 .3-1.3 .1-1.1 .2-.9 0-1 0-1 0-1.1-.1M84.2 220.5l0 0M71.5 224l-.7-.4-.9 0 .7 .4 .9 0M72 222.7l.7-.2-.7 .2M66 223.7l.8-.2-.8-.4-.9 .1-1.4 .2-.7 .2 1.2 .2 1-.1 .8 0M51.5 227.3l-.2 0M68.2 222.3l-.7-.4 .7 .4M52.1 226.3l1.1-.1-1 0-.1 .1M57 224.9l1-.3 1.1-.4-1.2 0-1.3 .2-1.4 .3 .7 .3 1.1-.1M52.1 224.4l1.1-.3-1.1 0 0 .3M58.5 221.7l1.4-.2 1.4-.3-.6-.6 .7-.4-1-.6-.8-.5-1.1-.1-1.3 0-.9 .1-1.2 .3-1 .5 .2 .7 .8 .6 .8 .1 .7 .6 1-.1 .9-.1M50 223.5l0 0M96.1 206.5l1.3-.3 1.3-.3 1.2-.4 1-.4 1-.6 .7-.7-.8 .1-.7 .7-.7 .3-.8 .4-1.2 .4-1.3 .4-1.4 .1-.9 .2-1.1 .1-1.5 0-1 .1 1.3 .2 1-.1 1.6-.1 .8-.1 .2 0M90.2 206.7l0 0M89.2 206.7l-1.2-.4-.9-.2-1.3-.3-.8-.2-1.1-.4-.9-.5-.8-.6-.5-.6-.3-.7-.6-.7 .2 .9 .3 .6 .5 .7 .8 .5 1 .5 1 .4 .7 .2 1.3 .4 .9 .1 .8 .2 .9 .1M102.5 202.7l.5 .3M92.7 204.1l1.3-.2 1.2-.4 .8-.4 .4-.9-.5-.6-.9-.5-1.1-.3-1.3-.2-1 0-.8 .1-1.4 .3-1.1 .4-.7 .7 .2 .7 .7 .6 1.1 .4 .8 .2 1 .1 1 0 .3 0M80.9 201.8l0 0M81 201.4l.9-.2 .6-.6 1-.7 .9-.5 1.2-.4 1.3-.4 1.3-.1 .9-.2 .8-.1 1 0 1 0 .9-.1-1.4-.2-.9 .1-.9 0-1.5 .2-.8 .1-1.4 .4-1.2 .3-1.2 .4-.9 .6-.7 .3-.5 .6-.4 .5M93.4 197.9l.5 .3"/><path fill="none" stroke="#9fc942" stroke-width="0.35" opacity="0.8" d="M74.3 232l1.3-.2-.7-.4-.6 .6M81.1 229.6l0 0M76 230.7l1-.2-.2-.8-.9-.3-.1 1 .2 .3M64.2 234l1 .1 .9 0 1-.1 .9 0 1.6-.2 1.4-.3 1.2-.4 1.3-.3 .8-.4-1.2 .1-1.1 .5-1.3 .3-1.3 .2-1 .2-1.1 0-1.5 .1-1.1 0-1.1-.1M66.3 231.3l1.3-.1 1.2-.4 .8-.5 .3-.8-.4-.7-1-.5-1.2-.3-1-.1-1 0-.9 0-.7 .2-1.3 .3-.9 .5-.3 .9 .5 .6 .9 .5 1.1 .3 1.2 .2 1-.1 .4 0M74.5 227.3l-.4-.6-1-.5 .8 .9 .6 .2M71.3 226l-.8-.5-1.1 0 .7 .4 1.2 .1M67.5 225.5l.9-.1-.7-.3-.9 0-.9 .1-.8 .3 1.1 .1 1.3-.1M55.2 229.3l-.4-.7-.4 .3M54.9 228.2l.9-.1 .6-.4-1.2 0-.3 .5M56.6 226.9l1.6-.2 1.2-.4-1.2-.1-1.2 .4-.4 .3M65.2 223.5l0 0M56 224.8l.7-.2-.7 .2M92.9 203.6l1.1-.2 .8-.3 .5-.6-.3-.7-.9-.5-1.6-.3-1 .1-1.5 .2-.8 .3-.5 .6 .2 .7 1 .5 1.6 .3 1-.1 .4 0"/><path fill="none" stroke="#eaba31" stroke-width="0.35" opacity="0.8" d="M65.7 231.1l1.6-.1 1.1-.4 .9-.5-.3-1.1-.9-.5-1.4-.4-1 0-.9 0-.8 .2-1.3 .3-.8 .6 .2 1.1 .9 .5 1.5 .3 1 0 .2 0M73.3 226.5l0 0M67.1 225.3l0 0"/><path fill="none" stroke="#fad42e" stroke-width="0.35" opacity="0.8" d="M65.5 230.8l1.2-.1 1.2-.4 .7-.4-.3-.9-.8-.3-.7-.2-1-.1-1.4 .1-1.3 .3-.5 .8 .6 .7 1.2 .4 1.1 .1"/></g>
<g stroke-width="0.7" stroke-linejoin="round"><path class="p14" d="M74.7 170.1l1-.1-1.3 .7-1-.1zM73.7 170.8l1-.7-1.3 .5-.9-.2zM72.7 172.1l1-1.3-1.2-.4-1 .2zM71.8 173l.9-.9-1.2-1.5-1 .8zM69.9 172.3l1.9 .7-1.3-1.6-1.9 1zM68 173.6l1.9-1.3-1.3 .1-1.8 0zM66.2 173.5l1.8 .1-1.2-1.2-1.9 .9zM64.3 174.6l1.9-1.1-1.3-.2-1.8 .6zM62.4 175.1l1.9-.5-1.2-.7-1.9 .4zM60.6 175.5l1.8-.4-1.2-.8-1.9 .5zM58.7 176.1l1.9-.6-1.3-.7-1.8 .6zM56.8 176.7l1.9-.6-1.2-.7-1.9 .6zM55 177.2l1.8-.5-1.2-.7-1.9 .6zM53.1 177.8l1.9-.6-1.3-.6-1.8 .5zM51.2 178.3l1.9-.5-1.2-.7-1.9 .6zM49.4 178.9l1.8-.6-1.2-.6-1.9 .5zM48.4 179.2l1-.3-1.3-.7-.9 .3zM47.5 179.5l.9-.3-1.2-.7-.9 .3zM46.6 179.7l.9-.2-1.2-.7-1 .3zM45.6 180l1-.3-1.3-.6-.9 .3zM44.7 180.3l.9-.3-1.2-.6-.9 .3zM43.8 180.6l.9-.3-1.2-.6-1 .2zM42.8 180.9l1-.3-1.3-.7-.9 .3zM41.9 181.1l.9-.2-1.2-.7-.9 .3zM41 181.4l.9-.3-1.2-.6-1 .3zM40 181.7l1-.3-1.3-.6-.9 .3zM39.1 182l.9-.3-1.2-.6-.9 .2zM38.2 182.3l.9-.3-1.2-.7-1 .3zM37.2 182.5l1-.2-1.3-.7-.9 .3zM36.3 182.8l.9-.3-1.2-.6-.9 .3zM35.4 183.1l.9-.3-1.2-.6-1 .3zM34.4 183.4l1-.3-1.3-.6-.9 .2zM33.5 183.7l.9-.3-1.2-.7-.9 .3zM32.6 184l.9-.3-1.2-.7-1 .3zM31.6 184.2l1-.2-1.3-.7-.9 .3zM30.7 184.5l.9-.3-1.2-.6-.9 .3zM29.8 184.8l.9-.3-1.2-.6-1 .2zM28.8 185.1l1-.3-1.3-.7-.9 .3zM27.9 185.3l.9-.2-1.2-.7-.9 .3zM27 185.6l.9-.3-1.2-.6-1 .3zM26 185.9l1-.3-1.3-.6-.9 .3zM25.1 186.2l.9-.3-1.2-.6-.9 .2zM24.2 186.5l.9-.3-1.2-.7-1 .3zM23.2 186.8l1-.3-1.3-.7-.9 .3zM76.9 171.1l1-1.2-1.3 .2-.9-.1zM75.9 172.6l1-1.5-1.2-1.1-1 .1zM75 173.8l.9-1.2-1.2-2.5-1 .7z"/><path class="p13" d="M74 173.9l1-.1-1.3-3-1 1.3zM73 172.7l1 1.2-1.3-1.8-.9 .9z"/><path class="p14" d="M71.1 172.8l1.9-.1-1.2 .3-1.9-.7zM69.3 174.4l1.8-1.6-1.2-.5-1.9 1.3zM67.4 174.5l1.9-.1-1.3-.8-1.8-.1zM65.5 174.8l1.9-.3-1.2-1-1.9 1.1zM63.7 175.7l1.8-.9-1.2-.2-1.9 .5zM61.8 176.3l1.9-.6-1.3-.6-1.8 .4zM59.9 176.8l1.9-.5-1.2-.8-1.9 .6zM58.1 177.3l1.8-.5-1.2-.7-1.9 .6zM56.2 177.9l1.9-.6-1.3-.6-1.8 .5zM54.3 178.4l1.9-.5-1.2-.7-1.9 .6zM52.5 179l1.8-.6-1.2-.6-1.9 .5zM50.6 179.6l1.9-.6-1.3-.7-1.8 .6zM49.7 179.8l.9-.2-1.2-.7-1 .3zM48.7 180.1l1-.3-1.3-.6-.9 .3zM47.8 180.4l.9-.3-1.2-.6-.9 .2zM46.9 180.7l.9-.3-1.2-.7-1 .3zM45.9 181l1-.3-1.3-.7-.9 .3zM45 181.2l.9-.2-1.2-.7-.9 .3zM44.1 181.5l.9-.3-1.2-.6-1 .3zM43.2 181.8l.9-.3-1.3-.6-.9 .2zM42.2 182.1l1-.3-1.3-.7-.9 .3zM41.3 182.4l.9-.3-1.2-.7-1 .3zM40.4 182.6l.9-.2-1.3-.7-.9 .3zM39.4 182.9l1-.3-1.3-.6-.9 .3zM38.5 183.2l.9-.3-1.2-.6-1 .2zM37.6 183.5l.9-.3-1.3-.7-.9 .3zM36.6 183.7l1-.2-1.3-.7-.9 .3zM35.7 184l.9-.3-1.2-.6-1 .3zM34.8 184.3l.9-.3-1.3-.6-.9 .3zM33.8 184.6l1-.3-1.3-.6-.9 .3zM32.9 184.9l.9-.3-1.2-.6-1 .2zM32 185.2l.9-.3-1.3-.7-.9 .3zM31 185.5l1-.3-1.3-.7-.9 .3zM30.1 185.7l.9-.2-1.2-.7-1 .3zM29.2 186l.9-.3-1.3-.6-.9 .2zM28.2 186.3l1-.3-1.3-.7-.9 .3zM27.3 186.6l.9-.3-1.2-.7-1 .3zM26.4 186.9l.9-.3-1.3-.7-.9 .3zM25.4 187.1l1-.2-1.3-.7-.9 .3zM24.5 187.4l.9-.3-1.2-.6-1 .3z"/><path class="p13" d="M81.1 174.4l1-.4-1.3-5.7-1 .3zM79.1 175.1l1-.3-1.2-5.7-1 .8zM78.2 174.9l.9 .2-1.2-5.2-1 1.2zM77.2 173.7l1 1.2-1.3-3.8-1 1.5z"/><path class="p14" d="M72.4 175.6l1.9-3.4-1.3 .5-1.9 .1zM70.5 173.5l1.9 2.1-1.3-2.8-1.8 1.6zM68.7 175.7l1.8-2.2-1.2 .9-1.9 .1zM66.8 175.9l1.9-.2-1.3-1.2-1.9 .3zM64.9 176l1.9-.1-1.3-1.1-1.8 .9zM63.1 176.7l1.8-.7-1.2-.3-1.9 .6zM61.2 177.3l1.9-.6-1.3-.4-1.9 .5zM59.3 177.9l1.9-.6-1.3-.5-1.8 .5zM57.5 178.5l1.8-.6-1.2-.6-1.9 .6zM55.6 179.1l1.9-.6-1.3-.6-1.9 .5zM53.7 179.7l1.9-.6-1.3-.7-1.8 .6zM51.9 180.2l1.8-.5-1.2-.7-1.9 .6zM50.9 180.5l1-.3-1.3-.6-.9 .2zM50 180.8l.9-.3-1.2-.7-1 .3zM49.1 181.1l.9-.3-1.3-.7-.9 .3zM48.1 181.3l1-.2-1.3-.7-.9 .3zM47.2 181.6l.9-.3-1.2-.6-1 .3zM46.3 181.9l.9-.3-1.3-.6-.9 .2zM45.3 182.2l1-.3-1.3-.7-.9 .3zM44.4 182.5l.9-.3-1.2-.7-.9 .3zM43.5 182.7l.9-.2-1.2-.7-1 .3zM42.5 183l1-.3-1.3-.6-.9 .3zM41.6 183.3l.9-.3-1.2-.6-.9 .2zM40.7 183.6l.9-.3-1.2-.7-1 .3zM39.7 183.8l1-.2-1.3-.7-.9 .3zM38.8 184.1l.9-.3-1.2-.6-.9 .3zM37.9 184.4l.9-.3-1.2-.6-1 .2zM36.9 184.7l1-.3-1.3-.7-.9 .3zM36 185l.9-.3-1.2-.7-.9 .3zM35.1 185.2l.9-.2-1.2-.7-1 .3zM34.1 185.5l1-.3-1.3-.6-.9 .3zM33.2 185.8l.9-.3-1.2-.6-.9 .3zM32.3 186.1l.9-.3-1.2-.6-1 .3zM31.3 186.4l1-.3-1.3-.6-.9 .2zM30.4 186.7l.9-.3-1.2-.7-.9 .3zM29.5 186.9l.9-.2-1.2-.7-1 .3zM28.5 187.2l1-.3-1.3-.6-.9 .3zM27.6 187.5l.9-.3-1.2-.6-.9 .3zM26.7 187.8l.9-.3-1.2-.6-1 .2zM25.7 188.1l1-.3-1.3-.7-.9 .3zM76.5 176.7l1-2.9-1.3-1.9-1-1z"/><path class="p13" d="M75.5 176.7l1 0-1.3-5.8-.9 1.3z"/><path class="p14" d="M73.6 172.4l1.9 4.3-1.2-4.5-1.9 3.4zM71.8 176.9l1.8-4.5-1.2 3.2-1.9-2.1zM69.9 174.8l1.9 2.1-1.3-3.4-1.8 2.2zM68 176.4l1.9-1.6-1.2 .9-1.9 .2zM66.2 177.4l1.8-1-1.2-.5-1.9 .1zM64.3 177.7l1.9-.3-1.3-1.4-1.8 .7zM62.4 178.1l1.9-.4-1.2-1-1.9 .6zM60.6 178.7l1.8-.6-1.2-.8-1.9 .6zM58.7 179.2l1.9-.5-1.3-.8-1.8 .6zM56.8 179.8l1.9-.6-1.2-.7-1.9 .6zM55 180.3l1.8-.5-1.2-.7-1.9 .6zM53.1 180.9l1.9-.6-1.3-.6-1.8 .5zM52.2 181.1l.9-.2-1.2-.7-1 .3zM51.2 181.5l1-.4-1.3-.6-.9 .3zM50.3 181.7l.9-.2-1.2-.7-.9 .3zM49.4 182l.9-.3-1.2-.6-1 .2zM48.4 182.3l1-.3-1.3-.7-.9 .3zM47.5 182.6l.9-.3-1.2-.7-.9 .3zM46.6 182.9l.9-.3-1.2-.7-1 .3zM45.6 183.1l1-.2-1.3-.7-.9 .3zM44.7 183.3l.9-.2-1.2-.6-.9 .2zM43.8 183.6l.9-.3-1.2-.6-1 .3zM42.8 183.9l1-.3-1.3-.6-.9 .3zM41.9 184.2l.9-.3-1.2-.6-.9 .3zM41 184.5l.9-.3-1.2-.6-1 .2zM40 184.8l1-.3-1.3-.7-.9 .3zM39.1 185.1l.9-.3-1.2-.7-.9 .3zM38.2 185.4l.9-.3-1.2-.7-1 .3zM37.2 185.6l1-.2-1.3-.7-.9 .3zM36.3 185.9l.9-.3-1.2-.6-.9 .2zM35.4 186.1l.9-.2-1.2-.7-1 .3zM34.4 186.4l1-.3-1.3-.6-.9 .3zM33.5 186.7l.9-.3-1.2-.6-.9 .3zM32.6 187.1l.9-.4-1.2-.6-1 .3zM31.6 187.4l1-.3-1.3-.7-.9 .3zM30.7 187.6l.9-.2-1.2-.7-.9 .2zM29.8 187.9l.9-.3-1.2-.7-1 .3zM28.8 188.2l1-.3-1.3-.7-.9 .3zM27.9 188.5l.9-.3-1.2-.7-.9 .3zM27 188.7l.9-.2-1.2-.7-1 .3z"/><path class="p13" d="M81.6 179.3l1-.8-1.2-9.9-1-.2zM80.7 179.1l.9 .2-1.2-10.9-1 .4zM79.7 177l1 2.1-1.3-10.3-1 1.8z"/><path class="p14" d="M78.7 173.2l1 3.8-1.3-6.4-.9 3.2zM74.9 178.5l1.8-6.8-1.2 5-1.9-4.3zM73 173.6l1.9 4.9-1.3-6.1-1.8 4.5zM71.1 177.8l1.9-4.2-1.2 3.3-1.9-2.1zM69.3 177.2l1.8 .6-1.2-3-1.9 1.6zM67.4 177l1.9 .2-1.3-.8-1.8 1zM65.5 177.9l1.9-.9-1.2 .4-1.9 .3zM63.7 178.6l1.8-.7-1.2-.2-1.9 .4zM61.8 179.2l1.9-.6-1.3-.5-1.8 .6zM59.9 179.8l1.9-.6-1.2-.5-1.9 .5zM58.1 180.4l1.8-.6-1.2-.6-1.9 .6zM56.2 181l1.9-.6-1.3-.6-1.8 .5zM54.4 181.5l1.8-.5-1.2-.7-1.9 .6zM53.4 181.8l1-.3-1.3-.6-.9 .2zM52.5 182.1l.9-.3-1.2-.7-1 .4zM51.6 182.4l.9-.3-1.3-.6-.9 .2zM50.6 182.6l1-.2-1.3-.7-.9 .3zM49.7 182.9l.9-.3-1.2-.6-1 .3zM48.8 183.3l.9-.4-1.3-.6-.9 .3zM47.8 183.6l1-.3-1.3-.7-.9 .3zM46.9 183.8l.9-.2-1.2-.7-1 .2zM46 184l.9-.2-1.3-.7-.9 .2zM45 184.2l1-.2-1.3-.7-.9 .3zM44.1 184.5l.9-.3-1.2-.6-1 .3zM43.2 184.8l.9-.3-1.3-.6-.9 .3zM42.2 185.2l1-.4-1.3-.6-.9 .3zM41.3 185.5l.9-.3-1.2-.7-1 .3zM40.4 185.8l.9-.3-1.3-.7-.9 .3zM39.4 186l1-.2-1.3-.7-.9 .3zM38.5 186.3l.9-.3-1.2-.6-1 .2zM37.6 186.5l.9-.2-1.3-.7-.9 .3zM36.6 186.7l1-.2-1.3-.6-.9 .2zM35.7 187l.9-.3-1.2-.6-1 .3zM34.8 187.4l.9-.4-1.3-.6-.9 .3zM33.8 187.7l1-.3-1.3-.7-.9 .4zM32.9 188.1l.9-.4-1.2-.6-1 .3zM32 188.3l.9-.2-1.3-.7-.9 .2zM31 188.5l1-.2-1.3-.7-.9 .3zM30.1 188.8l.9-.3-1.2-.6-1 .3zM29.2 189.1l.9-.3-1.3-.6-.9 .3zM28.2 189.4l1-.3-1.3-.6-.9 .2z"/><path class="p13" d="M79.9 179.3l1-4.9-1.2 2.6-1-3.8zM79 180.9l.9-1.6-1.2-6.1-1-2.8z"/><path class="p14" d="M78 177.1l1 3.8-1.3-10.5-1 1.3zM76.1 172.8l1.9 4.3-1.3-5.4-1.8 6.8zM74.3 179l1.8-6.2-1.2 5.7-1.9-4.9zM72.4 176.3l1.9 2.7-1.3-5.4-1.9 4.2zM68.7 178.8l1.8-1.9-1.2 .3-1.9-.2zM66.8 179.3l1.9-.5-1.3-1.8-1.9 .9zM64.9 179.6l1.9-.3-1.3-1.4-1.8 .7zM63.1 180.1l1.8-.5-1.2-1-1.9 .6zM61.2 180.6l1.9-.5-1.3-.9-1.9 .6zM59.3 181.1l1.9-.5-1.3-.8-1.8 .6zM57.5 181.6l1.8-.5-1.2-.7-1.9 .6zM55.6 182.2l1.9-.6-1.3-.6-1.8 .5zM54.7 182.4l.9-.2-1.2-.7-1 .3zM53.7 182.8l1-.4-1.3-.6-.9 .3zM52.8 183.1l.9-.3-1.2-.7-.9 .3zM51.9 183.2l.9-.1-1.2-.7-1 .2zM50.9 183.5l1-.3-1.3-.6-.9 .3zM50 184l.9-.5-1.2-.6-.9 .4zM49.1 184.3l.9-.3-1.2-.7-1 .3zM48.1 184.5l1-.2-1.3-.7-.9 .2zM47.2 184.6l.9-.1-1.2-.7-.9 .2zM46.3 184.8l.9-.2-1.2-.6-1 .2zM45.3 185.1l1-.3-1.3-.6-.9 .3zM44.4 185.4l.9-.3-1.2-.6-.9 .3zM43.5 185.7l.9-.3-1.2-.6-1 .4zM42.5 186.1l1-.4-1.3-.5-.9 .3zM41.6 186.3l.9-.2-1.2-.6-.9 .3zM40.7 186.6l.9-.3-1.2-.5-1 .2zM39.7 186.8l1-.2-1.3-.6-.9 .3zM38.8 187l.9-.2-1.2-.5-.9 .2zM37.9 187.3l.9-.3-1.2-.5-1 .2zM36.9 187.6l1-.3-1.3-.6-.9 .3zM36 188l.9-.4-1.2-.6-.9 .4zM35.1 188.5l.9-.5-1.2-.6-1 .3zM34.1 188.8l1-.3-1.3-.8-.9 .4zM33.2 188.9l.9-.1-1.2-.7-.9 .2zM32.3 189.1l.9-.2-1.2-.6-1 .2zM31.3 189.5l1-.4-1.3-.6-.9 .3zM30.4 189.8l.9-.3-1.2-.7-.9 .3zM29.5 190l.9-.2-1.2-.7-1 .3z"/><path class="p18" d="M88.5 167.8l1-2.7-.8 1.6-.9-1.7zM87.5 170.3l1-2.5-.7-2.8-1-.3z"/><path class="p17" d="M86.5 171.8l1-1.5-.7-5.6-1 .2zM85.5 171.9l1-.1-.7-6.9-1 .3zM84.6 170.6l.9 1.3-.7-6.7-.9 .4z"/><path class="p18" d="M83.6 168.5l1 2.1-.7-5-1 1.2zM82.6 166.8l1 1.7-.7-1.7-1 2.8z"/><path class="p14" d="M75 179.6l1.8-7-.7 .2-1.8 6.2zM71.2 178.9l1.9-3.7-.7 1.1-1.9 .6zM69.4 179.4l1.8-.5-.7-2-1.8 1.9z"/><path class="p13" d="M67.5 179.3l1.9 .1-.7-.6-1.9 .5z"/><path class="p14" d="M61.9 180.9l1.9-.6-.7-.2-1.9 .5zM60 181.5l1.9-.6-.7-.3-1.9 .5zM58.2 182l1.8-.5-.7-.4-1.8 .5zM56.3 182.6l1.9-.6-.7-.4-1.9 .6zM55.4 182.9l.9-.3-.7-.4-.9 .2zM54.4 183l1-.1-.7-.5-1 .4zM53.5 183.4l.9-.4-.7-.2-.9 .3zM52.6 183.8l.9-.4-.7-.3-.9 .1zM51.6 184l1-.2-.7-.6-1 .3zM50.7 184.1l.9-.1-.7-.5-.9 .5zM49.8 184.3l.9-.2-.7-.1-.9 .3zM48.8 184.8l1-.5-.7 0-1 .2zM47.9 185.3l.9-.5-.7-.3-.9 .1zM47 185.7l.9-.4-.7-.7-.9 .2zM46 185.9l1-.2-.7-.9-1 .3zM45.1 186.1l.9-.2-.7-.8-.9 .3zM44.2 186.3l.9-.2-.7-.7-.9 .3zM43.2 186.5l1-.2-.7-.6-1 .4zM42.3 186.8l.9-.3-.7-.4-.9 .2zM41.4 187.1l.9-.3-.7-.5-.9 .3zM40.4 187.5l1-.4-.7-.5-1 .2zM39.5 187.9l.9-.4-.7-.7-.9 .2zM38.6 188.2l.9-.3-.7-.9-.9 .3zM37.7 188.4l.9-.2-.7-.9-1 .3zM36.7 188.5l1-.1-.8-.8-.9 .4zM35.8 188.6l.9-.1-.7-.5-.9 .5zM34.9 188.8l.9-.2-.7-.1-1 .3zM33.9 189.3l1-.5-.8 0-.9 .1zM33 189.7l.9-.4-.7-.4-.9 .2zM32.1 189.9l.9-.2-.7-.6-1 .4zM31.1 190l1-.1-.8-.4-.9 .3zM30.2 190.4l.9-.4-.7-.2-.9 .2z"/><path class="p12" d="M87.2 182.4l1-1.3-.7-10.8-1 1.5zM86.3 182.5l.9-.1-.7-10.6-1 .1zM85.3 181.4l1 1.1-.8-10.6-.9-1.3z"/><path class="p13" d="M84.3 178.7l1 2.7-.7-10.8-1-2.1z"/><path class="p15" d="M83.3 174.3l1 4.4-.7-10.2-1-1.7z"/><path class="p17" d="M82.3 169.5l1 4.8-.7-7.5-1 .5z"/><path class="p18" d="M81.4 167.4l.9 2.1-.7-2.2-.9 4.4z"/><path class="p13" d="M77.6 177.6l1.8 1.4-.7 2.8-1.9-9.2z"/><path class="p14" d="M75.7 176.6l1.9 1-.8-5-1.8 7zM73.8 177l1.9-.4-.7 3-1.9-4.4zM72 180.1l1.8-3.1-.7-1.8-1.9 3.7zM66.4 179.8l1.8-.7-.7 .2-1.9 .4zM62.6 181.2l1.9-.6-.7-.3-1.9 .6zM60.8 181.9l1.8-.7-.7-.3-1.9 .6zM58.9 182.3l1.9-.4-.8-.4-1.8 .5zM57 182.9l1.9-.6-.7-.3-1.9 .6zM56.1 183.1l.9-.2-.7-.3-.9 .3zM55.2 183.6l.9-.5-.7-.2-1 .1zM54.2 183.9l1-.3-.8-.6-.9 .4zM53.3 183.9l.9 0-.7-.5-.9 .4zM52.4 184.2l.9-.3-.7-.1-1 .2zM51.4 184.8l1-.6-.8-.2-.9 .1zM50.5 185.2l.9-.4-.7-.7-.9 .2zM49.6 185.3l.9-.1-.7-.9-1 .5zM48.6 185.2l1 .1-.8-.5-.9 .5zM47.7 185.3l.9-.1-.7 .1-.9 .4zM46.8 185.6l.9-.3-.7 .4-1 .2zM45.8 186l1-.4-.8 .3-.9 .2zM44.9 186.4l.9-.4-.7 .1-.9 .2zM44 186.7l.9-.3-.7-.1-1 .2zM43 187l1-.3-.8-.2-.9 .3zM42.1 187.3l.9-.3-.7-.2-.9 .3zM41.2 187.4l.9-.1-.7-.2-1 .4zM40.2 187.6l1-.2-.8 .1-.9 .4zM39.3 187.8l.9-.2-.7 .3-.9 .3zM38.4 188.2l.9-.4-.7 .4-.9 .2zM37.4 188.8l1-.6-.7 .2-1 .1zM36.5 189.4l.9-.6-.7-.3-.9 .1zM35.6 189.7l.9-.3-.7-.8-.9 .2zM34.6 189.6l1 .1-.7-.9-1 .5zM33.7 189.7l.9-.1-.7-.3-.9 .4zM32.8 190.2l.9-.5-.7 0-.9 .2zM31.8 190.7l1-.5-.7-.3-1 .1zM30.9 190.8l.9-.1-.7-.7-.9 .4z"/><path class="p10" d="M84 183.6l1 2.3-.7-7.2-1-4.4z"/><path class="p13" d="M83.1 178.2l.9 5.4-.7-9.3-1-4.8z"/><path class="p16" d="M82.1 171.4l1 6.8-.8-8.7-.9-2.1z"/><path class="p18" d="M81.1 168.1l1 3.3-.7-4-1 3.8z"/><path class="p16" d="M80.1 172.8l1-4.7-.7 3.1-1 7.8z"/><path class="p13" d="M78.3 182.3l1.8-9.5-.7 6.2-1.8-1.4z"/><path class="p14" d="M74.5 180l1.9-6.1-.7 2.7-1.9 .4z"/><path class="p13" d="M72.7 179.6l1.8 .4-.7-3-1.8 3.1z"/><path class="p14" d="M68.9 179.3l1.9-.9-.7 .6-1.9 .1zM67.1 180.2l1.8-.9-.7-.2-1.8 .7zM61.5 182.2l1.8-.7-.7-.3-1.8 .7zM59.6 182.9l1.9-.7-.7-.3-1.9 .4zM57.7 183.3l1.9-.4-.7-.6-1.9 .6zM56.8 183.7l.9-.4-.7-.4-.9 .2zM55.9 183.7l.9 0-.7-.6-.9 .5zM54.9 184l1-.3-.7-.1-1 .3zM54 184.7l.9-.7-.7-.1-.9 0zM53.1 185l.9-.3-.7-.8-.9 .3zM52.1 184.8l1 .2-.7-.8-1 .6zM50.3 185.3l.9-.5-.7 .4-.9 .1zM49.3 186l1-.7-.7 0-1-.1zM48.4 186.6l.9-.6-.7-.8-.9 .1zM47.5 187l.9-.4-.7-1.3-.9 .3zM46.5 187.2l1-.2-.7-1.4-1 .4zM45.6 187.4l.9-.2-.7-1.2-.9 .4zM44.7 187.6l.9-.2-.7-1-.9 .3zM43.7 187.8l1-.2-.7-.9-1 .3zM42.8 188.2l.9-.4-.7-.8-.9 .3zM41.9 188.6l.9-.4-.7-.9-.9 .1zM40.9 188.9l1-.3-.7-1.2-1 .2zM40 189.2l.9-.3-.7-1.3-.9 .2zM39.1 189.2l.9 0-.7-1.4-.9 .4zM38.1 189.1l1 .1-.7-1-1 .6zM37.2 189.1l.9 0-.7-.3-.9 .6zM36.3 189.5l.9-.4-.7 .3-.9 .3zM35.3 190.2l1-.7-.7 .2-1-.1zM34.4 190.6l.9-.4-.7-.6-.9 .1zM33.5 190.6l.9 0-.7-.9-.9 .5zM32.5 190.7l1-.1-.7-.4-1 .5zM31.6 191.2l.9-.5-.7 0-.9 .1z"/><path class="p12" d="M82.8 179.2l1 6.4-.7-7.4-1-6.8z"/><path class="p16" d="M81.8 171.2l1 8-.7-7.8-1-3.3z"/><path class="p18" d="M80.8 169.1l1 2.1-.7-3.1-1 4.7z"/><path class="p14" d="M79 183.2l1.8-14.1-.7 3.7-1.8 9.5zM75.2 181.7l1.9-7.7-.7-.1-1.9 6.1zM69.6 180l1.9-1.4-.7-.2-1.9 .9zM67.8 180.9l1.8-.9-.7-.7-1.8 .9zM62.2 182.5l1.9-.6-.8-.4-1.8 .7zM60.3 183l1.9-.5-.7-.3-1.9 .7zM58.5 183.7l1.8-.7-.7-.1-1.9 .4zM56.6 184.3l.9-.6-.7 0-.9 0zM55.7 184.8l.9-.5-.7-.6-1 .3zM54.7 184.6l1 .2-.8-.8-.9 .7zM52.9 185.4l.9-.7-.7 .3-1-.2zM51.9 186.2l1-.8-.8-.6-.9 0zM51 186.4l.9-.2-.7-1.4-.9 .5zM50.1 186.2l.9 .2-.7-1.1-1 .7zM38.9 189.9l.9-.8-.7 .1-1-.1zM37.9 190.4l1-.5-.8-.8-.9 0zM37 190.4l.9 0-.7-1.3-.9 .4zM36.1 190.1l.9 .3-.7-.9-1 .7zM35.1 190.4l1-.3-.8 .1-.9 .4zM34.2 191.1l.9-.7-.7 .2-.9 0zM33.3 191.5l.9-.4-.7-.5-1 .1zM32.3 191.4l1 .1-.8-.8-.9 .5z"/><path class="p15" d="M79.7 181l1.9-11.2-.8-.7-1.8 14.1z"/><path class="p14" d="M76 181.8l1.8-5.5-.7-2.3-1.9 7.7z"/><path class="p15" d="M72.2 179.4l1.9-1.7-.7 .8-1.9 .1z"/><path class="p14" d="M70.4 180.9l1.8-1.5-.7-.8-1.9 1.4zM68.5 181.5l1.9-.6-.8-.9-1.8 .9zM62.9 183l1.9-.6-.7-.5-1.9 .6zM61 183.6l1.9-.6-.7-.5-1.9 .5zM59.2 183.9l1.8-.3-.7-.6-1.8 .7zM55.4 185.2l1-.7-.7 .3-1-.2zM54.5 186l.9-.8-.7-.6-.9 .1zM53.6 186l.9 0-.7-1.3-.9 .7zM49.8 187.1l1-1-.7 .1-1-.2zM48.9 187.9l.9-.8-.7-1.1-.9 0zM48 188.4l.9-.5-.7-1.9-.9 .2zM47 188.8l1-.4-.7-2.2-1 .4zM46.1 189.1l.9-.3-.7-2.2-.9 .3zM45.2 189.4l.9-.3-.7-2.2-.9 .3zM44.2 189.7l1-.3-.7-2.2-1 .3zM43.3 189.9l.9-.2-.7-2.2-.9 .2zM42.4 190l.9-.1-.7-2.2-.9 .2zM41.4 189.8l1 .2-.7-2.1-1 .5zM40.5 189.4l.9 .4-.7-1.4-.9 .7zM39.6 189.2l.9 .2-.7-.3-.9 .8zM37.7 190.5l.9-.9-.7 .8-.9 0zM36.8 191.4l.9-.9-.7-.1-.9-.3zM35.8 191.3l1 .1-.7-1.3-1 .3zM34.9 191l.9 .3-.7-.9-.9 .7zM34 191.5l.9-.5-.7 .1-.9 .4zM33 192.2l1-.7-.7 0-1-.1z"/><path class="p15" d="M80.4 177.9l1.9-4.9-.7-3.2-1.9 11.2z"/><path class="p14" d="M78.5 179.3l1.9-1.4-.7 3.1-1.9-4.7z"/><path class="p13" d="M76.7 180.9l1.8-1.6-.7-3-1.8 5.5z"/><path class="p15" d="M72.9 180.4l1.9-2.7-.7 0-1.9 1.7z"/><path class="p14" d="M71.1 181.7l1.8-1.3-.7-1-1.8 1.5zM69.2 182l1.9-.3-.7-.8-1.9 .6zM67.3 182.4l1.9-.4-.7-.5-1.9 .4zM61.7 183.8l1.9-.7-.7-.1-1.9 .6zM59.9 184.8l1.8-1-.7-.2-1.8 .3zM58.9 184.6l1 .2-.7-.9-1 .7zM55.2 185.3l.9 .7-.7-.8-.9 .8zM51.5 188l.9-.4-.7-2.1-.9 .6zM41.2 191l1-.9-.8-.3-.9-.4zM40.3 191.4l.9-.4-.7-1.6-.9-.2zM39.4 191l.9 .4-.7-2.2-1 .4zM38.4 190.3l1 .7-.8-1.4-.9 .9zM36.6 191.6l.9-1.1-.7 .9-1-.1zM35.6 192.3l1-.7-.8-.3-.9-.3zM34.7 191.9l.9 .4-.7-1.3-.9 .5zM33.8 191.9l.9 0-.7-.4-1 .7z"/><path class="p16" d="M86.9 174.2l1-6.6-.7 4.6-1 6.7z"/><path class="p11" d="M85.9 182.5l1-8.3-.7 4.7-1 6.8z"/><path class="p15" d="M81.1 175.5l1.9 1.2-.7-3.7-1.9 4.9z"/><path class="p14" d="M79.3 181.6l1.8-6.1-.7 2.4-1.9 1.4zM73.7 181.3l1.8-3.1-.7-.5-1.9 2.7z"/><path class="p13" d="M71.8 182.2l1.9-.9-.8-.9-1.8 1.3zM69.9 182.5l1.9-.3-.7-.5-1.9 .3z"/><path class="p14" d="M68.1 182.9l1.8-.4-.7-.5-1.9 .4zM62.5 184.1l1.8-.3-.7-.7-1.9 .7zM60.6 184.6l1.9-.5-.8-.3-1.8 1zM59.7 184.9l.9-.3-.7 .2-1-.2zM55 187.5l.9-1.4-.7-.8-.9 .1zM54.1 187.6l.9-.1-.7-2.1-.9 1zM47.5 189.1l1-.6-.7-1.5-1 .1zM46.6 189.4l.9-.3-.7-2-.9 .3zM45.7 189.5l.9-.1-.7-2-.9 .4zM44.7 189.3l1 .2-.7-1.7-1 .5zM43.8 189l.9 .3-.7-1-.9 .8zM39.1 192.4l1-.9-.7-.5-1-.7zM38.2 191.9l.9 .5-.7-2.1-.9 .2zM37.3 191.1l.9 .8-.7-1.4-.9 1.1zM35.4 192.9l.9-1.2-.7 .6-.9-.4zM34.5 192.8l.9 .1-.7-1-.9 0z"/><path class="p22" d="M88.6 165.4l1-3-.7 1.5-1 3.7z"/><path class="p19" d="M87.6 171.3l1-5.9-.7 2.2-1 6.6z"/><path class="p14" d="M86.6 180.1l1-8.8-.7 2.9-1 8.3zM80 183.2l1.8-8.9-.7 1.2-1.8 6.1z"/><path class="p15" d="M76.2 178.8l1.9 .7-.7 .5-1.9-1.8z"/><path class="p14" d="M74.4 182.1l1.8-3.3-.7-.6-1.8 3.1z"/><path class="p13" d="M72.5 182.7l1.9-.6-.7-.8-1.9 .9zM70.6 182.8l1.9-.1-.7-.5-1.9 .3z"/><path class="p14" d="M68.8 183.2l1.8-.4-.7-.3-1.8 .4zM61.3 185.1l1.9-.2-.7-.8-1.9 .5zM60.4 186.1l.9-1-.7-.5-.9 .3zM59.4 185.4l1 .7-.7-1.2-1 1z"/><path class="p13" d="M43.6 192.3l.9 0-.7-3.3-.9-.3z"/><path class="p14" d="M42.6 191.5l1 .8-.7-3.6-1 .3zM41.7 190.4l.9 1.1-.7-2.5-.9 1zM38.9 192.6l1-1.8-.8 1.6-.9-.5zM38 193.2l.9-.6-.7-.7-.9-.8zM37.1 192.1l.9 1.1-.7-2.1-1 .6zM36.1 192.1l1 0-.8-.4-.9 1.2zM35.2 193.5l.9-1.4-.7 .8-.9-.1z"/><path class="p24" d="M92.2 161.1l1 .1-.7 0-1-.3zM91.3 161.4l.9-.3-.7-.2-1 .4zM90.3 162.3l1-.9-.8-.1-.9 1.1z"/><path class="p23" d="M89.3 164.9l1-2.6-.7 .1-1 3z"/><path class="p20" d="M88.3 170.5l1-5.6-.7 .5-1 5.9z"/><path class="p15" d="M87.3 179.2l1-8.7-.7 .8-1 8.8z"/><path class="p14" d="M80.7 184l1.9-9.9-.8 .2-1.8 8.9z"/><path class="p15" d="M77 179.3l1.8 .2-.7 0-1.9-.7z"/><path class="p14" d="M75.1 182.6l1.9-3.3-.8-.5-1.8 3.3z"/><path class="p13" d="M73.2 183.1l1.9-.5-.7-.5-1.9 .6zM71.4 183.2l1.8-.1-.7-.4-1.9 .1z"/><path class="p14" d="M69.5 183.5l1.9-.3-.8-.4-1.8 .4zM67.6 183.9l1.9-.4-.7-.3-1.9 .4zM62 186.2l1.9-1.4-.7 .1-1.9 .2zM61.1 185.4l.9 .8-.7-1.1-.9 1zM54.6 189.7l.9-1.7-.7-2.3-1 .6z"/><path class="p13" d="M42.4 193.6l1-.9-.8-1.2-.9-1.1z"/><path class="p14" d="M41.5 192.8l.9 .8-.7-3.2-.9-.6zM40.6 191.2l.9 1.6-.7-3-.9 1zM39.6 190.8l1 .4-.7-.4-1 1.8z"/><path class="p13" d="M37.8 194l.9-1.4-.7 .6-.9-1.1z"/><path class="p14" d="M36.8 193.1l1 .9-.7-1.9-1 0zM35.9 192.7l.9 .4-.7-1-.9 1.4z"/><path class="p24" d="M92.9 161.6l1 .1-.7-.5-1-.1zM92 161.9l.9-.3-.7-.5-.9 .3zM91 162.9l1-1-.7-.5-1 .9z"/><path class="p23" d="M90 165.7l1-2.8-.7-.6-1 2.6z"/><path class="p20" d="M89 171.5l1-5.8-.7-.8-1 5.6z"/><path class="p15" d="M88.1 180.3l.9-8.8-.7-1-1 8.7z"/><path class="p14" d="M81.4 184.1l1.9-9.3-.7-.7-1.9 9.9z"/><path class="p15" d="M77.7 179.6l1.8 .4-.7-.5-1.8-.2z"/><path class="p14" d="M75.8 182.9l1.9-3.3-.7-.3-1.9 3.3z"/><path class="p13" d="M73.9 183.4l1.9-.5-.7-.3-1.9 .5zM72.1 183.6l1.8-.2-.7-.3-1.8 .1z"/><path class="p14" d="M70.2 184.1l1.9-.5-.7-.4-1.9 .3zM68.3 184.5l1.9-.4-.7-.6-1.9 .4zM60.9 187.5l.9-1.8-.7-.3-.9 .2z"/><path class="p13" d="M59.9 187l1 .5-.7-1.9-1 1.7z"/><path class="p15" d="M48.7 190.1l1-.3-.7-2.9-1 .2zM47.8 190l.9 .1-.7-3-.9 .4zM46.9 189.5l.9 .5-.7-2.5-.9 .7zM45.9 188.8l1 .7-.7-1.3-1 1.2z"/><path class="p13" d="M41.3 194.4l.9-.9-.7-.7-.9-1.6z"/><path class="p14" d="M40.3 192.9l1 1.5-.7-3.2-1-.4zM39.4 191.4l.9 1.5-.7-2.1-.9 1.8z"/><path class="p13" d="M37.5 194.6l1-1.8-.7 1.2-1-.9z"/><path class="p14" d="M36.6 193.8l.9 .8-.7-1.5-.9-.4z"/><path class="p22" d="M94.6 163.3l1 2.2-.7-2.2-1-1.6z"/><path class="p23" d="M93.7 162.7l.9 .6-.7-1.6-1-.1z"/><path class="p24" d="M92.7 163.1l1-.4-.8-1.1-.9 .3z"/><path class="p23" d="M91.7 164.6l1-1.5-.7-1.2-1 1z"/><path class="p22" d="M90.7 168.1l1-3.5-.7-1.7-1 2.8z"/><path class="p19" d="M89.8 174.5l.9-6.4-.7-2.4-1 5.8z"/><path class="p14" d="M88.8 183l1-8.5-.8-3-.9 8.8zM82.1 183.6l1.9-7.2-.7-1.6-1.9 9.3z"/><path class="p15" d="M78.4 179.7l1.8 1.5-.7-1.2-1.8-.4z"/><path class="p14" d="M76.5 183l1.9-3.3-.7-.1-1.9 3.3z"/><path class="p13" d="M74.6 183.8l1.9-.8-.7-.1-1.9 .5zM72.8 184l1.8-.2-.7-.4-1.8 .2z"/><path class="p14" d="M70.9 184.3l1.9-.3-.7-.4-1.9 .5zM69.1 184.7l1.8-.4-.7-.2-1.9 .4z"/><path class="p13" d="M61.6 187.2l.9 .4-.7-1.9-.9 1.8z"/><path class="p15" d="M54.1 189.8l1-2.6-.8-.8-.9-.5z"/><path class="p13" d="M46.7 194.4l.9 .5-.7-5.4-1-.7z"/><path class="p14" d="M45.7 193l1 1.4-.8-5.6-.9-.4z"/><path class="p15" d="M44.8 191l.9 2-.7-4.6-.9 .7zM43.9 189.5l.9 1.5-.7-1.9-1 2z"/><path class="p13" d="M41.1 195.1l.9-2.2-.7 1.5-1-1.5zM40.1 194.2l1 .9-.8-2.2-.9-1.5z"/><path class="p14" d="M39.2 192.2l.9 2-.7-2.8-.9 1.4zM38.3 193.4l.9-1.2-.7 .6-1 1.8z"/><path class="p13" d="M37.3 195.3l1-1.9-.8 1.2-.9-.8z"/><path class="p18" d="M96.3 169.9l1 5.5-.7-4.9-1-5z"/><path class="p21" d="M95.4 166.8l.9 3.1-.7-4.4-1-2.2z"/><path class="p22" d="M94.4 165.7l1 1.1-.8-3.5-.9-.6zM93.4 166.2l1-.5-.7-3-1 .4zM92.4 168.3l1-2.1-.7-3.1-1 1.5z"/><path class="p20" d="M91.4 172.7l1-4.4-.7-3.7-1 3.5z"/><path class="p17" d="M90.5 179.4l.9-6.7-.7-4.6-.9 6.4z"/><path class="p15" d="M84.7 179.2l1.9-2.9-.8 2.7-1.8-2.6z"/><path class="p14" d="M82.8 182.2l1.9-3-.7-2.8-1.9 7.2z"/><path class="p13" d="M81 182.7l1.8-.5-.7 1.4-1.9-2.4z"/><path class="p14" d="M77.2 182.9l1.9-3-.7-.2-1.9 3.3z"/><path class="p13" d="M75.4 184l1.8-1.1-.7 .1-1.9 .8zM73.5 184.3l1.9-.3-.8-.2-1.8 .2z"/><path class="p14" d="M71.6 184.6l1.9-.3-.7-.3-1.9 .3zM69.8 184.9l1.8-.3-.7-.3-1.8 .4zM67.9 185.4l1.9-.5-.7-.2-1.9 .7zM60.4 189.9l1-2.5-.7-1.7-1 1.7z"/><path class="p12" d="M45.5 196l.9-.2-.7-2.8-.9-2z"/><path class="p13" d="M44.6 194.2l.9 1.8-.7-5-.9-1.5z"/><path class="p15" d="M43.6 191.4l1 2.8-.7-4.7-1 .6zM42.7 190.3l.9 1.1-.7-1.3-.9 2.8z"/><path class="p13" d="M40.8 195.7l1-3-.7 2.4-1-.9zM39.9 194.9l.9 .8-.7-1.5-.9-2z"/><path class="p14" d="M39 192.8l.9 2.1-.7-2.7-.9 1.2zM38 194.3l1-1.5-.7 .6-1 1.9zM97 176.7l1 5.3-.7-6.6-1-5.5z"/><path class="p18" d="M96.1 173.2l.9 3.5-.7-6.8-.9-3.1z"/><path class="p19" d="M95.1 171.7l1 1.5-.7-6.4-1-1.1z"/><path class="p20" d="M94.1 172.3l1-.6-.7-6-1 .5z"/><path class="p19" d="M93.1 174.9l1-2.6-.7-6.1-1 2.1z"/><path class="p17" d="M92.2 179.6l.9-4.7-.7-6.6-1 4.4z"/><path class="p13" d="M91.2 185.6l1-6-.8-6.9-.9 6.7z"/><path class="p15" d="M85.4 182.9l1.9-9.4-.7 2.8-1.9 2.9z"/><path class="p13" d="M81.7 184.5l1.8-4.4-.7 2.1-1.8 .5z"/><path class="p15" d="M77.9 182.6l1.9-2.1-.7-.6-1.9 3z"/><path class="p14" d="M76.1 184.1l1.8-1.5-.7 .3-1.8 1.1z"/><path class="p13" d="M74.2 184.4l1.9-.3-.7-.1-1.9 .3z"/><path class="p14" d="M72.3 184.8l1.9-.4-.7-.1-1.9 .3zM70.5 185.2l1.8-.4-.7-.2-1.8 .3zM68.6 185.4l1.9-.2-.7-.3-1.9 .5z"/><path class="p13" d="M44.4 196.2l.9 .6-.7-2.6-1-2.8z"/><path class="p14" d="M43.4 192.9l1 3.3-.8-4.8-.9-1.1z"/><path class="p15" d="M42.5 190.9l.9 2-.7-2.6-.9 2.4z"/><path class="p13" d="M40.6 196.3l1-3.1-.8 2.5-.9-.8zM39.7 195.1l.9 1.2-.7-1.4-.9-2.1z"/><path class="p14" d="M38.8 193.4l.9 1.7-.7-2.3-1 1.5z"/><path class="p13" d="M96.8 181.8l1 2.9-.8-8-.9-3.5z"/><path class="p15" d="M95.8 180.5l1 1.3-.7-8.6-1-1.5zM94.8 181.1l1-.6-.7-8.8-1 .6z"/><path class="p14" d="M93.9 183.5l.9-2.4-.7-8.8-1 2.6z"/><path class="p15" d="M86.1 186.4l1.9-13.9-.7 1-1.9 9.4z"/><path class="p14" d="M82.4 185.5l1.9-7.3-.8 1.9-1.8 4.4z"/><path class="p15" d="M78.7 182.3l1.8-.4-.7-1.4-1.9 2.1z"/><path class="p14" d="M76.8 183.9l1.9-1.6-.8 .3-1.8 1.5zM74.9 184.9l1.9-1-.7 .2-1.9 .3zM73.1 185.5l1.8-.6-.7-.5-1.9 .4zM71.2 186l1.9-.5-.8-.7-1.8 .4zM69.3 186.5l1.9-.5-.7-.8-1.9 .2zM60 191.5l.9-4.3-.7-1.4-.9 1.2z"/><path class="p17" d="M53.5 188.3l.9-1.6-.7-.9-.9-.3z"/><path class="p16" d="M52.5 189.6l1-1.3-.7-2.8-1 .1zM51.6 190l.9-.4-.7-4-.9 .2zM50.7 189.7l.9 .3-.7-4.2-.9 .4zM49.7 188.6l1 1.1-.7-3.5-1 .7z"/><path class="p17" d="M48.8 187.5l.9 1.1-.7-1.7-.9 1.6z"/><path class="p12" d="M44.1 197.2l1-.3-.7-.7-1-3.3z"/><path class="p14" d="M43.2 193.7l.9 3.5-.7-4.3-.9-2z"/><path class="p15" d="M42.3 191.6l.9 2.1-.7-2.8-.9 2.3z"/><path class="p14" d="M41.3 194.6l1-3-.7 1.6-1 3.1z"/><path class="p13" d="M40.4 197.2l.9-2.6-.7 1.7-.9-1.2z"/><path class="p14" d="M39.5 194.9l.9 2.3-.7-2.1-.9-1.7zM86.8 187.4l1.9-11.8-.7-3.1-1.9 13.9zM83.1 185.2l1.9-7.2-.7 .2-1.9 7.3z"/><path class="p13" d="M81.2 183.6l1.9 1.6-.7 .3-1.9-3.6z"/><path class="p14" d="M79.4 182.8l1.8 .8-.7-1.7-1.8 .4zM77.5 184l1.9-1.2-.7-.5-1.9 1.6zM75.6 184.7l1.9-.7-.7-.1-1.9 1zM73.8 185.4l1.8-.7-.7 .2-1.8 .6zM71.9 186.2l1.9-.8-.7 .1-1.9 .5zM70 187.1l1.9-.9-.7-.2-1.9 .5zM68.2 187.2l1.8-.1-.7-.6-1.8-.2z"/><path class="p15" d="M55.1 193.6l.9-3.2-.7-5.1-.9 1.4z"/><path class="p14" d="M54.2 195.7l.9-2.1-.7-6.9-.9 1.6z"/><path class="p13" d="M53.2 196.8l1-1.1-.7-7.4-1 1.3zM52.3 197.3l.9-.5-.7-7.2-.9 .4zM51.4 197l.9 .3-.7-7.3-.9-.3zM50.4 195.8l1 1.2-.7-7.3-1-1.1z"/><path class="p15" d="M49.5 193.5l.9 2.3-.7-7.2-.9-1.1z"/><path class="p16" d="M48.6 190.6l.9 2.9-.7-6-.9-.2z"/><path class="p17" d="M47.6 188.4l1 2.2-.7-3.3-1 1.8z"/><path class="p12" d="M43.9 197.8l1-.1-.8-.5-.9-3.5z"/><path class="p14" d="M43 193.7l.9 4.1-.7-4.1-.9-2.1z"/><path class="p15" d="M42.1 192.6l.9 1.1-.7-2.1-1 3z"/><path class="p14" d="M41.1 196.4l1-3.8-.8 2-.9 2.6z"/><path class="p13" d="M40.2 197.1l.9-.7-.7 .8-.9-2.3z"/><path class="p17" d="M102.1 170.5l1-.7-.7 .2-1 7zM89.4 182.3l1-7.6-.7-1.8-1 2.7z"/><path class="p13" d="M87.5 184.5l1.9-2.2-.7-6.7-1.9 11.8z"/><path class="p14" d="M83.8 183.1l1.9-2.4-.7-2.7-1.9 7.2z"/><path class="p13" d="M82 185.4l1.8-2.3-.7 2.1-1.9-1.6z"/><path class="p14" d="M80.1 183.9l1.9 1.5-.8-1.8-1.8-.8zM78.2 184.1l1.9-.2-.7-1.1-1.9 1.2zM76.4 185.3l1.8-1.2-.7-.1-1.9 .7zM74.5 186l1.9-.7-.8-.6-1.8 .7zM72.6 186.7l1.9-.7-.7-.6-1.9 .8zM70.8 187.8l1.8-1.1-.7-.5-1.9 .9z"/><path class="p13" d="M68.9 188.9l1.9-1.1-.8-.7-1.8 .1zM49.3 196.8l.9 2.6-.7-5.9-.9-2.9z"/><path class="p15" d="M48.4 192.8l.9 4-.7-6.2-1-2.2z"/><path class="p16" d="M47.4 189.2l1 3.6-.8-4.4-.9 .6zM46.5 189.4l.9-.2-.7-.2-.9 4.1z"/><path class="p15" d="M41.8 194.4l1-1.5-.7-.3-1 3.8z"/><path class="p13" d="M40.9 198.2l.9-3.8-.7 2-.9 .7z"/><path class="p18" d="M102.8 171.1l1 5.3-.7-6.6-1 .7z"/><path class="p17" d="M91.1 182.2l1-6.7-.7-2.5-1 1.7z"/><path class="p14" d="M90.1 187.6l1-5.4-.7-7.5-1 7.6zM86.4 184.9l1.9-5.2-.8 4.8-1.8-3.8zM84.5 181.4l1.9 3.5-.7-4.2-1.9 2.4zM82.7 185.3l1.8-3.9-.7 1.7-1.8 2.3z"/><path class="p13" d="M80.8 185.3l1.9 0-.7 .1-1.9-1.5z"/><path class="p14" d="M78.9 185.4l1.9-.1-.7-1.4-1.9 .2zM77.1 185.4l1.8 0-.7-1.3-1.8 1.2zM75.2 185.7l1.9-.3-.7-.1-1.9 .7z"/><path class="p17" d="M60.3 188.1l.9-2.9-.7 1.1-.9-1.2z"/><path class="p14" d="M48.1 193.6l1 4.9-.7-5.7-1-3.6z"/><path class="p16" d="M47.2 189.6l.9 4-.7-4.4-.9 .2zM46.3 190.9l.9-1.3-.7-.2-.9 4.7z"/><path class="p14" d="M45.3 196.8l1-5.9-.7 3.2-1 4.5z"/><path class="p13" d="M43.5 195.8l.9 3.8-.7-2.5-.9-4.2z"/><path class="p15" d="M42.5 193.6l1 2.2-.7-2.9-1 1.5z"/><path class="p14" d="M41.6 197.5l.9-3.9-.7 .8-.9 3.8z"/><path class="p13" d="M104.1 184.3l1-.9-1.3-7-1-5.3z"/><path class="p15" d="M103.1 181.5l1 2.8-1.3-13.2-.9-.8z"/><path class="p16" d="M102.1 177.7l1 3.8-1.2-11.2-1 2.6zM101.1 175l1 2.7-1.2-4.8-1 3.7zM95.3 180.8l1-3.7-1.3 .1-1-3.1zM94.3 185.2l1-4.4-1.3-6.7-.9-1.3z"/><path class="p14" d="M93.3 187.8l1-2.6-1.2-12.4-1 2.7z"/><path class="p13" d="M92.4 186.3l.9 1.5-1.2-12.3-1 6.7z"/><path class="p14" d="M87.6 184.7l1.9-2.8-1.2-2.2-1.9 5.2zM85.8 184.3l1.8 .4-1.2 .2-1.9-3.5zM83.9 183.8l1.9 .5-1.3-2.9-1.8 3.9zM80.2 186.4l1.8-1.3-1.2 .2-1.9 .1zM78.3 187.1l1.9-.7-1.3-1-1.8 0zM76.4 187.1l1.9 0-1.2-1.7-1.9 .3zM74.6 187l1.8 .1-1.2-1.4-1.9 .6zM72.7 187.3l1.9-.3-1.3-.7-1.8 .8zM70.8 189.1l1.9-1.8-1.2-.2-1.9 1.6z"/><path class="p15" d="M61.5 195.7l1-6.6-1.3-3.9-.9 2.9z"/><path class="p16" d="M47.5 190.7l1 4.8-1.3-5.9-.9 1.3zM46.6 192.5l.9-1.8-1.2 .2-1 5.9z"/><path class="p13" d="M45.7 199l.9-6.5-1.3 4.3-.9 2.8z"/><path class="p12" d="M44.7 200.1l1-1.1-1.3 .6-.9-3.8z"/><path class="p14" d="M43.8 195.2l.9 4.9-1.2-4.3-1-2.2z"/><path class="p15" d="M42.9 195.5l.9-.3-1.3-1.6-.9 3.9z"/><path class="p13" d="M102.4 185.3l1-2-1.3-5.6-1-2.7z"/><path class="p14" d="M101.4 186.3l1-1-1.3-10.3-.9-1.4zM100.4 186.7l1-.4-1.2-12.7-1-.3zM99.5 187l.9-.3-1.2-13.4-1 .4zM98.5 187.1l1-.1-1.3-13.3-1 1.1zM97.5 186.4l1 .7-1.3-12.3-.9 2.3z"/><path class="p13" d="M96.5 184.7l1 1.7-1.2-9.3-1 3.7z"/><path class="p14" d="M90.8 185.8l1.8-3.2-1.2-1.5-1.9 .8zM88.9 182.5l1.9 3.3-1.3-3.9-1.9 2.8zM87 185.4l1.9-2.9-1.3 2.2-1.8-.4zM85.2 185.9l1.8-.5-1.2-1.1-1.9-.5zM83.3 186.1l1.9-.2-1.3-2.1-1.9 1.3zM81.4 185.5l1.9 .6-1.3-1-1.8 1.3zM77.7 188l1.9-1.5-1.3 .6-1.9 0zM75.8 188.8l1.9-.8-1.3-.9-1.8-.1zM74 188.9l1.8-.1-1.2-1.8-1.9 .3zM72.1 188.9l1.9 0-1.3-1.6-1.9 1.8z"/><path class="p13" d="M52.5 195.7l.9-4.9-1.2 4.7-.9 4.2z"/><path class="p16" d="M47.8 192l1 2.4-1.3-3.7-.9 1.8z"/><path class="p15" d="M46.9 197.3l.9-5.3-1.2 .5-.9 6.5z"/><path class="p13" d="M45 197.8l1 4-1.3-1.7-.9-4.9z"/><path class="p15" d="M44.1 194.7l.9 3.1-1.2-2.6-.9 .3z"/><path class="p14" d="M106.6 182.1l1 .7-1.3-8.1-1 1.7zM105.6 179.9l1 2.2-1.3-5.7-1 3.6zM95.8 185.8l1-2.5-1.2-1.6-1-2.7zM94.8 186.5l1-.7-1.2-6.8-1-.2zM93.9 184.2l.9 2.3-1.2-7.7-1 3.8zM92 182.7l1.9 1.5-1.3-1.6-1.8 3.2zM90.1 186.3l1.9-3.6-1.2 3.1-1.9-3.3zM88.3 185l1.8 1.3-1.2-3.8-1.9 2.9zM86.4 185.7l1.9-.7-1.3 .4-1.8 .5zM84.5 186.4l1.9-.7-1.2 .2-1.9 .2zM82.7 188.4l1.8-2-1.2-.3-1.9-.6zM80.8 187.8l1.9 .6-1.3-2.9-1.8 1zM78.9 187.1l1.9 .7-1.2-1.3-1.9 1.5zM77.1 187.3l1.8-.2-1.2 .9-1.9 .8zM71.5 193l1.8-5-1.2 .9-1.9 2.4z"/><path class="p15" d="M69.6 190.7l.9-1.1-1.2-2-.9 .9z"/><path class="p20" d="M56.5 184.4l1-.9-1.3 .7-.9 1.3zM55.6 186.5l.9-2.1-1.2 1.1-.9 1.9z"/><path class="p18" d="M54.7 189.8l.9-3.3-1.2 .9-1 3.4z"/><path class="p15" d="M53.7 195l1-5.2-1.3 1-.9 4.9z"/><path class="p9" d="M50.9 203.7l1 1.6-1.3-1.6-.9-2.8z"/><path class="p15" d="M48.1 196.9l1-3.9-1.3-1-.9 5.3z"/><path class="p12" d="M47.2 201.7l.9-4.8-1.2 .4-.9 4.5zM46.3 198.2l.9 3.5-1.2 .1-1-4z"/><path class="p15" d="M45.4 194.5l.9 3.7-1.3-.4-.9-3.1z"/><path class="p14" d="M105.9 181.9l.9-1.8-1.2-.2-1-1.8zM104.9 183.4l1-1.5-1.3-3.8-1-1zM103.9 184.3l1-.9-1.3-6.3-.9-.1zM102.9 184.8l1-.5-1.2-7.3-1 .2zM102 185.1l.9-.3-1.2-7.6-1 .3zM101 185.1l1 0-1.3-7.6-1 .4zM100 184.6l1 .5-1.3-7.2-.9 1zM99 183.6l1 1-1.2-5.7-1 1.7zM98 182.3l1 1.3-1.2-3-1 2.7zM93.2 185.7l1.9-.6-1.2-.9-1.9-1.5zM91.4 184.8l1.8 .9-1.2-3-1.9 3.6zM89.5 186.3l1.9-1.5-1.3 1.5-1.8-1.3zM87.6 187l1.9-.7-1.2-1.3-1.9 .7zM85.8 187.9l1.8-.9-1.2-1.3-1.9 .7zM83.9 186.2l1.9 1.7-1.3-1.5-1.8 2zM80.2 190.4l1.8-2.1-1.2-.5-1.9-.7zM78.3 191.3l1.9-.9-1.3-3.3-1.8 .2zM76.5 191.2l1.8 .1-1.2-4-1.9 0zM74.6 191.1l1.9 .1-1.3-3.9-1.9 .7z"/><path class="p19" d="M60.6 187.4l.9 .1-1.2-1.2-1-1.8z"/><path class="p20" d="M59.7 186.3l.9 1.1-1.3-2.9-.9-1.1z"/><path class="p21" d="M58.7 184.9l1 1.4-1.3-2.9-.9 .1zM57.8 184.6l.9 .3-1.2-1.4-1 .9z"/><path class="p20" d="M56.9 186l.9-1.4-1.3-.2-.9 2.1z"/><path class="p19" d="M55.9 189.9l1-3.9-1.3 .5-.9 3.3z"/><path class="p16" d="M55 195.7l.9-5.8-1.2-.1-1 5.2z"/><path class="p9" d="M52.2 201.8l.9 3-1.2 .5-1-1.6z"/><path class="p16" d="M49.4 196.2l.9-4.5-1.2 1.3-1 3.9z"/><path class="p13" d="M48.5 200.4l.9-4.2-1.3 .7-.9 4.8zM47.5 197.3l1 3.1-1.3 1.3-.9-3.5z"/><path class="p15" d="M46.6 196.2l.9 1.1-1.2 .9-.9-3.7z"/><path class="p14" d="M109.1 182.8l.9-1.4-1.2-3-1 .1zM108.1 183.2l1-.4-1.3-4.3-1 1.6z"/><path class="p13" d="M107.1 183l1 .2-1.3-3.1-.9 1.8zM106.1 182.5l1 .5-1.2-1.1-1 1.5zM100.3 185.1l.9-.9-1.2 .4-1-1zM99.3 186l1-.9-1.3-1.5-1-1.3z"/><path class="p14" d="M98.3 185.7l1 .3-1.3-3.7-.9-.6zM97.3 185l1 .7-1.2-4-1 .8zM96.4 183.8l.9 1.2-1.2-2.5-1 2.6zM94.5 186.1l1.9-2.3-1.3 1.3-1.9 .6zM92.6 186.5l1.9-.4-1.3-.4-1.8-.9zM90.8 186.6l1.8-.1-1.2-1.7-1.9 1.5zM88.9 187.8l1.9-1.2-1.3-.3-1.9 .7zM85.2 190.1l1.8-3.6-1.2 1.4-1.9-1.7zM83.3 190l1.9 .1-1.3-3.9-1.9 2.1zM81.4 187.9l1.9 2.1-1.3-1.7-1.8 2.1z"/><path class="p15" d="M72.1 190.1l.9 3.7-1.2-5.5-.9 .4z"/><path class="p14" d="M71.2 193l.9-2.9-1.2-1.4-1 7.2z"/><path class="p18" d="M61.8 190.2l1 1.8-1.3-4.5-.9-.1zM60.9 191.7l.9-1.5-1.2-2.8-.9-1.1zM60 193l.9-1.3-1.2-5.4-1-1.4zM59 193.5l1-.5-1.3-8.1-.9-.3zM58.1 194.1l.9-.6-1.2-8.9-.9 1.4z"/><path class="p17" d="M57.2 196.1l.9-2-1.2-8.1-1 3.9z"/><path class="p16" d="M50.6 200.1l1-7.7-1.3-.7-.9 4.5z"/><path class="p13" d="M49.7 203.1l.9-3-1.2-3.9-.9 4.2zM48.8 199.9l.9 3.2-1.2-2.7-1-3.1z"/><path class="p14" d="M47.8 200.7l1-.8-1.3-2.6-.9-1.1z"/><path class="p13" d="M110.3 182.1l1 .4-1.3-1.1-.9 1.4z"/><path class="p14" d="M105.4 182.3l1-.3-1.2 .2-1 .1zM104.4 182.6l1-.3-1.2 0-1 .3zM103.5 182.8l.9-.2-1.2 0-1 .6zM102.5 183.1l1-.3-1.3 .4-1 1z"/><path class="p13" d="M98.6 186.2l1-.5-1.3 0-1-.7z"/><path class="p14" d="M97.6 186.5l1-.3-1.3-1.2-.9-1.2zM95.7 185.5l1.9 1-1.2-2.7-1.9 2.3zM93.9 186.9l1.8-1.4-1.2 .6-1.9 .4zM92 188.3l1.9-1.4-1.3-.4-1.8 .1zM90.1 186.6l1.9 1.7-1.2-1.7-1.9 1.2zM88.3 190.5l1.8-3.9-1.2 1.2-1.9-1.3z"/><path class="p13" d="M86.4 188.7l1.9 1.8-1.3-4-1.8 3.6z"/><path class="p15" d="M80.8 191.1l1.9-2.1-1.3-1.1-1.8-.3zM78.9 191.9l1.9-.8-1.2-3.5-1.9 .4z"/><path class="p14" d="M77.1 191.4l1.8 .5-1.2-3.9-1.9 2.5z"/><path class="p16" d="M53.8 200l.9-1.5-1.3-3.9-.9-4.6z"/><path class="p15" d="M52.8 205.9l1-5.9-1.3-10-.9 2.4z"/><path class="p12" d="M51.9 207.9l.9-2-1.2-13.5-1 7.7z"/><path class="p13" d="M50 196.5l1 5.4-1.3 1.2-.9-3.2z"/><path class="p15" d="M49.1 197.9l.9-1.4-1.2 3.4-1 .8z"/><path class="p14" d="M111 182.5l1-.9-.7 .9-1-.4zM110 183.3l1-.8-.7-.4-1-.5zM109.1 183.8l.9-.5-.7-1.7-.9-.1zM108.1 184l1-.2-.7-2.3-1 .1zM107.1 184.2l1-.2-.7-2.4-1 .4zM106.1 184.4l1-.2-.7-2.2-1 .3zM105.1 184.7l1-.3-.7-2.1-1 .3zM104.2 185.1l.9-.4-.7-2.1-.9 .2zM103.2 185.5l1-.4-.7-2.3-1 .3zM102.2 185.9l1-.4-.7-2.4-1 .6zM101.2 185.8l1 .1-.7-2.2-1 .7zM100.3 185.7l.9 .1-.7-1.4-.9 1.3zM96.4 187.4l1.9-1.5-.7 .6-1.9-1zM94.6 186.2l1.8 1.2-.7-1.9-1.8 1.4zM92.7 188.7l1.9-2.5-.7 .7-1.9 1.4zM90.8 187.5l1.9 1.2-.7-.4-1.9-1.7zM89 190.6l1.8-3.1-.7-.9-1.8 3.9z"/><path class="p15" d="M85.2 189l1.9-1.9-.7 1.6-1.9-1.6z"/><path class="p14" d="M83.4 193.1l1.8-4.1-.7-1.9-1.8 1.9z"/><path class="p13" d="M81.5 194.6l1.9-1.5-.7-4.1-1.9 2.1zM79.6 195l1.9-.4-.7-3.5-1.9 .8z"/><path class="p15" d="M75 192.7l.9-2.8-.7 .1-.9 3z"/><path class="p11" d="M52.6 202l.9-1.3-.7 5.2-.9 2z"/><path class="p12" d="M51.7 201l.9 1-.7 5.9-.9-6z"/><path class="p13" d="M50.7 204.3l1-3.3-.7 .9-1-5.4zM49.8 206.7l.9-2.4-.7-7.8-.9 1.4z"/><path class="p14" d="M111.7 182.4l1 .2-.7-1-1 .9zM101 185.8l.9-.7-.7 .7-.9-.1zM100 186.5l1-.7-.7-.1-1-.6zM99 187.1l1-.6-.7-1.4-1 .8zM97.1 187.3l1.9-.2-.7-1.2-1.9 1.5zM95.3 187.5l1.8-.2-.7 .1-1.8-1.2zM93.4 187.8l1.9-.3-.7-1.3-1.9 2.5zM85.9 192.7l1.9-5.2-.7-.4-1.9 1.9z"/><path class="p15" d="M75.7 192.4l.9-.5-.7-2-.9 2.8z"/><path class="p19" d="M56.1 195.2l.9-3.8-.7-2.8-.9 .3z"/><path class="p17" d="M55.2 198.8l.9-3.6-.7-6.3-.9 5.5z"/><path class="p16" d="M52.4 191.3l.9 .7-.7 10-.9-1z"/><path class="p15" d="M51.4 198.5l1-7.2-.7 9.7-1 3.3z"/><path class="p12" d="M50.5 204.7l.9-6.2-.7 5.8-.9 2.4z"/><path class="p14" d="M112.4 183.3l1-.6-.7-.1-1-.2zM111.4 183.8l1-.5-.7-.9-1 0zM110.5 184.1l.9-.3-.7-1.4-.9 .3zM109.5 184.2l1-.1-.7-1.4-1 .4zM108.5 184.4l1-.2-.7-1.1-1 .4zM107.5 184.7l1-.3-.7-.9-1 .4zM106.5 184.9l1-.2-.7-.8-1 .3zM105.6 185.3l.9-.4-.7-.7-.9 .2zM104.6 185.8l1-.5-.7-.9-1 .1zM103.6 186.1l1-.3-.7-1.3-1 .2zM102.6 186.5l1-.4-.7-1.4-1 .4zM101.7 186.4l.9 .1-.7-1.4-.9 .7zM100.7 186.6l1-.2-.7-.6-1 .7zM99.7 186.4l1 .2-.7-.1-1 .6zM97.8 188.1l1.9-1.7-.7 .7-1.9 .2zM96 188.1l1.8 0-.7-.8-1.8 .2zM94.1 187.5l1.9 .6-.7-.6-1.9 .3zM92.2 190.8l1.9-3.3-.7 .3-1.9 1.8z"/><path class="p15" d="M88.5 189.6l1.9-1.6-.7 1.3-1.9-1.8z"/><path class="p14" d="M54 201.4l.9 5.8-.7-9.8-.9-5.4z"/><path class="p17" d="M53.1 199.2l.9 2.2-.7-9.4-.9-.7zM52.1 197.3l1 1.9-.7-7.9-1 7.2z"/><path class="p15" d="M51.2 194.2l.9 3.1-.7 1.2-.9 6.2z"/><path class="p14" d="M113.1 183.2l1 0-.7-.5-1 .6zM112.1 183.4l1-.2-.7 .1-1 .5zM109.2 184.5l1-.4-.7 .1-1 .2zM108.2 184.9l1-.4-.7-.1-1 .3zM107.2 185.1l1-.2-.7-.2-1 .2zM106.3 185.3l.9-.2-.7-.2-.9 .4zM105.3 185.6l1-.3-.7 0-1 .5zM101.4 187.4l1-1.1-.7 .1-1 .2zM100.4 187.2l1 .2-.7-.8-1-.2zM98.5 187.9l1.9-.7-.7-.8-1.9 1.7z"/><path class="p13" d="M96.7 189.3l1.8-1.4-.7 .2-1.8 0z"/><path class="p14" d="M94.8 187.5l1.9 1.8-.7-1.2-1.9-.6zM92.9 191.5l1.9-4-.7 0-1.9 3.3zM89.2 192.3l1.9-5.1-.7 .8-1.9 1.6z"/><path class="p8" d="M56.6 204.4l.9 1.5-.7 6.6-.9-.2z"/><path class="p9" d="M55.6 204.7l1-.3-.7 7.9-1-5.1z"/><path class="p11" d="M53.8 212.9l.9-3.6-.7-7.9-.9-2.2z"/><path class="p12" d="M52.8 207.9l1 5-.7-13.7-1-1.9z"/><path class="p15" d="M51.9 198.8l.9 9.1-.7-10.6-.9-3.1z"/><path class="p14" d="M113.8 183.9l1-.4-.7-.3-1 0zM112.8 184.3l1-.4-.7-.7-1 .2zM111.9 184.6l.9-.3-.7-.9-.9 .3zM110.9 184.9l1-.3-.7-.9-1 .4zM109.9 185.1l1-.2-.7-.8-1 .4zM108.9 185.4l1-.3-.7-.6-1 .4zM107.9 185.7l1-.3-.7-.5-1 .2zM107 186l.9-.3-.7-.6-.9 .2zM106 186.4l1-.4-.7-.7-1 .3zM105 186.6l1-.2-.7-.8-1 .1zM104 187.1l1-.5-.7-.9-1 .5zM103.1 186.9l.9 .2-.7-.9-.9 .1zM102.1 187.5l1-.6-.7-.6-1 1.1zM99.2 188.2l1.9-1.1-.7 .1-1.9 .7z"/><path class="p13" d="M97.4 189.6l1.8-1.4-.7-.3-1.8 1.4z"/><path class="p14" d="M93.6 191.5l1.9-3.4-.7-.6-1.9 4zM89.9 193.4l1.9-5.5-.7-.7-1.9 5.1z"/><path class="p16" d="M56.3 191.5l1-4.8-.7 17.7-1 .3z"/><path class="p14" d="M55.4 199.7l.9-8.2-.7 13.2-.9 4.6z"/><path class="p10" d="M54.5 206l.9-6.3-.7 9.6-.9 3.6z"/><path class="p9" d="M53.5 209.5l1-3.5-.7 6.9-1-5z"/><path class="p11" d="M52.6 210.9l.9-1.4-.7-1.6-.9-9.1z"/><path class="p14" d="M114.5 184.1l1-.1-.7-.5-1 .4zM113.5 184.3l1-.2-.7-.2-1 .4zM112.6 184.6l.9-.3-.7 0-.9 .3zM111.6 184.9l1-.3-.7 0-1 .3zM110.6 185.2l1-.3-.7 0-1 .2zM109.6 185.5l1-.3-.7-.1-1 .3zM108.6 185.8l1-.3-.7-.1-1 .3zM107.7 186l.9-.2-.7-.1-.9 .3zM106.7 186.4l1-.4-.7 0-1 .4zM105.7 186.5l1-.1-.7 0-1 .2zM104.7 187.1l1-.6-.7 .1-1 .5zM103.8 187.2l.9-.1-.7 0-.9-.2zM102.8 188.1l1-.9-.7-.3-1 .6zM101.8 187.7l1 .4-.7-.6-1-.4zM99.9 188.1l1.9-.4-.7-.6-1.9 1.1z"/><path class="p13" d="M98.1 190.2l1.8-2.1-.7 .1-1.8 1.4z"/><path class="p14" d="M94.3 191l1.9-2.4-.7-.5-1.9 3.4z"/><path class="p13" d="M90.6 195.2l1.9-6.5-.7-.8-1.9 5.5z"/><path class="p15" d="M75.7 193.5l.9 .9-.7-3.2-.9 4.3z"/><path class="p14" d="M71 202l.9-12.4-.7 4.6-.9 7.3z"/><path class="p21" d="M58.9 189.6l.9-.1-.7 .4-.9-2.8z"/><path class="p22" d="M58 190.3l.9-.7-.7-2.5-.9-.4z"/><path class="p21" d="M57 190.8l1-.5-.7-3.6-1 4.8z"/><path class="p17" d="M55.2 189.9l.9-.7-.7 10.5-.9 6.3z"/><path class="p14" d="M54.2 198.3l1-8.4-.7 16.1-1 3.5z"/><path class="p11" d="M53.3 209.8l.9-11.5-.7 11.2-.9 1.4z"/><path class="p14" d="M115.2 184.5l1-.3-.7-.2-1 .1zM114.2 184.9l1-.4-.7-.4-1 .2zM113.3 185.3l.9-.4-.7-.6-.9 .3zM112.3 185.6l1-.3-.7-.7-1 .3zM111.3 185.8l1-.2-.7-.7-1 .3zM110.3 186.1l1-.3-.7-.6-1 .3zM109.3 186.5l1-.4-.7-.6-1 .3zM108.4 186.7l.9-.2-.7-.7-.9 .2zM107.4 187.1l1-.4-.7-.7-1 .4zM106.4 187.2l1-.1-.7-.7-1 .1zM105.4 187.7l1-.5-.7-.7-1 .6zM104.5 187.6l.9 .1-.7-.6-.9 .1zM103.5 188.2l1-.6-.7-.4-1 .9zM102.5 187.9l1 .3-.7-.1-1-.4zM100.6 188.6l1.9-.7-.7-.2-1.9 .4zM98.8 190.5l1.8-1.9-.7-.5-1.8 2.1zM96.9 189.6l1.9 .9-.7-.3-1.9-1.6zM95 191.3l1.9-1.7-.7-1-1.9 2.4z"/><path class="p13" d="M91.3 195.7l1.9-6.8-.7-.2-1.9 6.5z"/><path class="p17" d="M83.8 190.4l1.9-3.3-.7 1.2-1.9-.7z"/><path class="p16" d="M82 193.1l1.8-2.7-.7-2.8-1.8 4.3zM72.6 197.2l1-1.2-.7-4.9-1-1.5z"/><path class="p14" d="M71.7 198.1l.9-.9-.7-7.6-.9 12.4z"/><path class="p16" d="M61.5 204.9l.9-4.4-.7-10.5-.9 .4z"/><path class="p15" d="M60.5 208.5l1-3.6-.7-14.5-1-.9zM59.6 210.6l.9-2.1-.7-19-.9 .1zM58.7 209.5l.9 1.1-.7-21-.9 .7z"/><path class="p16" d="M57.7 203.3l1 6.2-.7-19.2-1 .5z"/><path class="p19" d="M56.8 194.9l.9 8.4-.7-12.5-.9-1.6z"/><path class="p21" d="M55.9 189.6l.9 5.3-.7-5.7-.9 .7zM54.9 190.4l1-.8-.7 .3-1 8.4z"/><path class="p16" d="M54 196.7l.9-6.3-.7 7.9-.9 11.5z"/><path class="p14" d="M115.9 185l1-.3-.7-.5-1 .3zM114.9 185.2l1-.2-.7-.5-1 .4zM114 185.4l.9-.2-.7-.3-.9 .4zM113 185.7l1-.3-.7-.1-1 .3zM112 186l1-.3-.7-.1-1 .2zM111 186.3l1-.3-.7-.2-1 .3zM110 186.6l1-.3-.7-.2-1 .4zM109.1 186.8l.9-.2-.7-.1-.9 .2zM108.1 187.3l1-.5-.7-.1-1 .4zM107.1 187.4l1-.1-.7-.2-1 .1zM106.1 188l1-.6-.7-.2-1 .5zM105.2 188.1l.9-.1-.7-.3-.9-.1zM104.2 188.7l1-.6-.7-.5-1 .6zM103.2 188.4l1 .3-.7-.5-1-.3zM101.3 188.7l1.9-.3-.7-.5-1.9 .7zM99.5 190.8l1.8-2.1-.7-.1-1.8 1.9zM97.6 189.8l1.9 1-.7-.3-1.9-.9zM95.7 191.6l1.9-1.8-.7-.2-1.9 1.7zM93.9 190.2l1.8 1.4-.7-.3-1.8-2.4z"/><path class="p13" d="M92 195l1.9-4.8-.7-1.3-1.9 6.8z"/><path class="p17" d="M86.4 190.1l1.9-2.7-.7 1.8-1.9-2.1zM84.5 190.1l1.9 0-.7-3-1.9 3.3z"/><path class="p5" d="M59.4 219.6l.9 2.2-.7-11.2-.9-1.1z"/><path class="p7" d="M58.4 216.2l1 3.4-.7-10.1-1-6.2z"/><path class="p11" d="M57.5 212l.9 4.2-.7-12.9-.9-8.4z"/><path class="p15" d="M56.6 204.3l.9 7.7-.7-17.1-.9-5.3z"/><path class="p19" d="M55.6 193.7l1 10.6-.7-14.7-1 .8z"/><path class="p21" d="M54.7 188.9l.9 4.8-.7-3.3-.9 6.3z"/><path class="p14" d="M116.6 185.2l1-.2-.7-.3-1 .3zM115.6 185.5l1-.3-.7-.2-1 .2zM114.7 185.9l.9-.4-.7-.3-.9 .2zM113.7 186.2l1-.3-.7-.5-1 .3zM112.7 186.5l1-.3-.7-.5-1 .3zM111.7 186.8l1-.3-.7-.5-1 .3zM110.7 187.1l1-.3-.7-.5-1 .3zM109.8 187.3l.9-.2-.7-.5-.9 .2zM108.8 187.7l1-.4-.7-.5-1 .5zM107.8 187.8l1-.1-.7-.4-1 .1zM106.8 188.3l1-.5-.7-.4-1 .6zM105.9 188.3l.9 0-.7-.3-.9 .1zM104.9 189l1-.7-.7-.2-1 .6zM103.9 188.7l1 .3-.7-.3-1-.3zM102 189.2l1.9-.5-.7-.3-1.9 .3zM100.2 191.2l1.8-2-.7-.5-1.8 2.1zM96.4 191.6l1.9-1.7-.7-.1-1.9 1.8z"/><path class="p13" d="M92.7 196.4l1.9-5.9-.7-.3-1.9 4.8z"/><path class="p15" d="M89 190.1l1.8 2.3-.7 1.2-1.8-6.2z"/><path class="p17" d="M87.1 190l1.9 .1-.7-2.7-1.9 2.7zM83.4 191.2l1.8-4-.7 2.9-1.8-.4z"/><path class="p15" d="M81.5 199.1l1.9-7.9-.7-1.5-1.9 5.8zM76.8 197.4l1-3-.7-4.3-1 5.9z"/><path class="p3" d="M59.1 221.1l1-4.5-.7 3-1-3.4z"/><path class="p4" d="M58.2 222.4l.9-1.3-.7-4.9-.9-4.2z"/><path class="p6" d="M57.3 216.8l.9 5.6-.7-10.4-.9-7.7z"/><path class="p12" d="M56.3 205.4l1 11.4-.7-12.5-1-10.6z"/><path class="p19" d="M55.4 194.4l.9 11-.7-11.7-.9-4.8z"/><path class="p14" d="M117.3 185.7l1-.3-.7-.4-1 .2zM116.3 186l1-.3-.7-.5-1 .3zM115.4 186.3l.9-.3-.7-.5-.9 .4zM114.4 186.6l1-.3-.7-.4-1 .3zM113.4 186.8l1-.2-.7-.4-1 .3zM112.4 187.1l1-.3-.7-.3-1 .3zM111.4 187.4l1-.3-.7-.3-1 .3zM110.5 187.7l.9-.3-.7-.3-.9 .2zM109.5 188.1l1-.4-.7-.4-1 .4zM108.5 188.2l1-.1-.7-.4-1 .1zM107.5 188.8l1-.6-.7-.4-1 .5zM106.6 188.7l.9 .1-.7-.5-.9 0zM105.6 189.4l1-.7-.7-.4-1 .7zM104.6 189.1l1 .3-.7-.4-1-.3zM102.7 189.8l1.9-.7-.7-.4-1.9 .5zM100.9 191.8l1.8-2-.7-.6-1.8 2zM97.1 192.5l1.9-2.1-.7-.5-1.9 1.7z"/><path class="p13" d="M93.4 197.4l1.9-8-.7 1.1-1.9 5.9z"/><path class="p18" d="M85.9 190.6l1.9-3.3-.7 2.7-1.9-2.8z"/><path class="p16" d="M84.1 197.1l1.8-6.5-.7-3.4-1.8 4z"/><path class="p13" d="M82.2 203l1.9-5.9-.7-5.9-1.9 7.9z"/><path class="p3" d="M58 221.6l.9-3-.7 3.8-.9-5.6z"/><path class="p6" d="M57 217.9l1 3.7-.7-4.8-1-11.4z"/><path class="p12" d="M56.1 204.9l.9 13-.7-12.5-.9-11z"/><path class="p14" d="M118 186l1-.3-.7-.3-1 .3zM117 186.3l1-.3-.7-.3-1 .3zM116.1 186.6l.9-.3-.7-.3-.9 .3zM115.1 186.9l1-.3-.7-.3-1 .3zM114.1 187.2l1-.3-.7-.3-1 .2zM113.1 187.5l1-.3-.7-.4-1 .3zM112.1 187.8l1-.3-.7-.4-1 .3zM111.2 188l.9-.2-.7-.4-.9 .3zM110.2 188.4l1-.4-.7-.3-1 .4zM109.2 188.5l1-.1-.7-.3-1 .1zM108.2 189.1l1-.6-.7-.3-1 .6zM107.3 189.1l.9 0-.7-.3-.9-.1zM106.3 189.8l1-.7-.7-.4-1 .7zM105.3 189.5l1 .3-.7-.4-1-.3zM103.4 190.3l1.9-.8-.7-.4-1.9 .7z"/><path class="p13" d="M101.6 192.1l1.8-1.8-.7-.5-1.8 2z"/><path class="p14" d="M97.8 194.1l1.9-3.6-.7-.1-1.9 2.1zM94.1 195.6l1.9-6.1-.7-.1-1.9 8z"/><path class="p16" d="M86.6 195.9l1.9-5.8-.7-2.8-1.9 3.3z"/><path class="p20" d="M69.9 197l.9-11.3-.7 .1-.9 6.7z"/><path class="p4" d="M58.7 220.3l.9-10-.7 8.3-.9 3z"/><path class="p3" d="M57.7 222.8l1-2.5-.7 1.3-1-3.7z"/><path class="p7" d="M56.8 213.9l.9 8.9-.7-4.9-.9-13z"/><path class="p14" d="M118.7 186.4l1-.3-.7-.4-1 .3zM117.7 186.7l1-.3-.7-.4-1 .3zM116.8 187l.9-.3-.7-.4-.9 .3zM115.8 187.3l1-.3-.7-.4-1 .3zM114.8 187.6l1-.3-.7-.4-1 .3zM113.8 187.9l1-.3-.7-.4-1 .3zM112.8 188.2l1-.3-.7-.4-1 .3zM111.9 188.4l.9-.2-.7-.4-.9 .2zM110.9 188.8l1-.4-.7-.4-1 .4zM109.9 188.9l1-.1-.7-.4-1 .1zM108.9 189.5l1-.6-.7-.4-1 .6zM108 189.4l.9 .1-.7-.4-.9 0zM107 190.2l1-.8-.7-.3-1 .7zM106 189.9l1 .3-.7-.4-1-.3zM104.1 190.9l1.9-1-.7-.4-1.9 .8z"/><path class="p13" d="M102.3 192l1.8-1.1-.7-.6-1.8 1.8zM98.5 194.8l1.9-4.5-.7 .2-1.9 3.6z"/><path class="p14" d="M94.8 193.5l1.9-2.4-.7-1.6-1.9 6.1z"/><path class="p20" d="M71.5 193.7l.9-3.8-.7 2.9-.9-7.1z"/><path class="p17" d="M70.6 208.2l.9-14.5-.7-8-.9 11.3z"/><path class="p9" d="M59.4 213.5l.9-11.6-.7 8.4-.9 10z"/><path class="p4" d="M58.4 222.3l1-8.8-.7 6.8-1 2.5zM57.5 220.6l.9 1.7-.7 .5-.9-8.9z"/><path class="p14" d="M119.4 186.8l1-.3-.7-.4-1 .3zM118.4 187.1l1-.3-.7-.4-1 .3zM117.5 187.4l.9-.3-.7-.4-.9 .3zM116.5 187.6l1-.2-.7-.4-1 .3zM115.5 187.9l1-.3-.7-.3-1 .3zM114.5 188.3l1-.4-.7-.3-1 .3zM113.6 188.5l.9-.2-.7-.4-1 .3zM112.6 188.8l1-.3-.8-.3-.9 .2zM111.6 189.1l1-.3-.7-.4-1 .4zM110.6 189.4l1-.3-.7-.3-1 .1zM109.6 189.8l1-.4-.7-.5-1 .6zM108.7 189.9l.9-.1-.7-.3-.9-.1zM107.7 190.5l1-.6-.7-.5-1 .8zM106.7 190.4l1 .1-.7-.3-1-.3zM104.8 191.5l1.9-1.1-.7-.5-1.9 1zM103 191.8l1.8-.3-.7-.6-1.8 1.1zM99.2 194.2l1.9-3.5-.7-.4-1.9 4.5zM97.4 192.7l1.8 1.5-.7 .6-1.8-3.7zM95.5 193l1.9-.3-.7-1.6-1.9 2.4z"/><path class="p15" d="M84.3 197.6l1.9-2.7-.7-1.1-1.9 1.1zM83.4 197l.9 .6-.7-2.7-.9-.3z"/><path class="p16" d="M82.5 194.4l.9 2.6-.7-2.4-.9-3z"/><path class="p18" d="M81.5 192.7l1 1.7-.7-2.8-1-3.7z"/><path class="p17" d="M80.6 196.9l.9-4.2-.7-4.8-.9 7z"/><path class="p16" d="M78.7 196.4l1-4.8-.7 2.3-1 5.9z"/><path class="p20" d="M72.2 195.3l.9-11-.7 5.6-.9 3.8z"/><path class="p26" d="M61.9 185.8l1-4.5-.7 3.4-1 6.9z"/><path class="p21" d="M61 194.4l.9-8.6-.7 5.8-.9 10.3z"/><path class="p14" d="M60.1 208.1l.9-13.7-.7 7.5-.9 11.6z"/><path class="p6" d="M59.1 220.8l1-12.7-.7 5.4-1 8.8z"/><path class="p3" d="M58.2 223.1l.9-2.3-.7 1.5-.9-1.7z"/><path class="p14" d="M120.1 187.1l1-.3-.7-.3-1 .3zM119.1 187.4l1-.3-.7-.3-1 .3zM118.2 187.7l.9-.3-.7-.3-.9 .3zM117.2 188l1-.3-.7-.3-1 .2zM116.2 188.3l1-.3-.7-.4-1 .3zM115.2 188.6l1-.3-.7-.4-1 .4zM114.3 188.9l.9-.3-.7-.3-.9 .2zM113.3 189.2l1-.3-.7-.4-1 .3zM112.3 189.4l1-.2-.7-.4-1 .3zM111.3 189.8l1-.4-.7-.3-1 .3zM110.3 190.1l1-.3-.7-.4-1 .4zM109.4 190.3l.9-.2-.7-.3-.9 .1zM108.4 190.7l1-.4-.7-.4-1 .6zM107.4 191.1l1-.4-.7-.2-1-.1zM105.5 192.1l1.9-1-.7-.7-1.9 1.1zM103.7 191.7l1.8 .4-.7-.6-1.8 .3zM101.8 192.1l1.9-.4-.7 .1-1.9-1.1zM99.9 193.1l1.9-1-.7-1.4-1.9 3.5zM96.2 193.5l1.9 .3-.7-1.1-1.9 .3z"/><path class="p12" d="M84.1 202.4l.9 .1-.7-4.9-.9-.6z"/><path class="p13" d="M83.2 200.3l.9 2.1-.7-5.4-.9-2.6z"/><path class="p14" d="M82.2 201.6l1-1.3-.7-5.9-1-1.7z"/><path class="p13" d="M81.3 205.6l.9-4-.7-8.9-.9 4.2z"/><path class="p14" d="M80.4 196.5l.9 9.1-.7-8.7-.9-5.3z"/><path class="p16" d="M79.4 197.3l1-.8-.7-4.9-1 4.8z"/><path class="p15" d="M76.6 203.2l1-13.4-.7 4.1-1 10.5z"/><path class="p21" d="M72.9 195.9l.9-10.8-.7-.8-.9 11z"/><path class="p30" d="M64.5 178.5l.9-.6-.7 .3-.9 1.6z"/><path class="p28" d="M62.6 183.4l1-4.3-.7 2.2-1 4.5z"/><path class="p24" d="M61.7 191.9l.9-8.5-.7 2.4-.9 8.6z"/><path class="p17" d="M60.8 205.2l.9-13.3-.7 2.5-.9 13.7z"/><path class="p8" d="M59.8 218.6l1-13.4-.7 2.9-1 12.7z"/><path class="p3" d="M58.9 224.1l.9-5.5-.7 2.2-.9 2.3z"/><path class="p14" d="M120.8 187.5l1-.3-.7-.4-1 .3zM119.8 187.8l1-.3-.7-.4-1 .3zM118.9 188.1l.9-.3-.7-.4-.9 .3zM117.9 188.4l1-.3-.7-.4-1 .3zM116.9 188.7l1-.3-.7-.4-1 .3zM115.9 189l1-.3-.7-.4-1 .3zM115 189.2l.9-.2-.7-.4-.9 .3zM114 189.6l1-.4-.7-.3-1 .3zM113 189.8l1-.2-.7-.4-1 .2zM112 190.2l1-.4-.7-.4-1 .4zM111 190.4l1-.2-.7-.4-1 .3zM110.1 190.8l.9-.4-.7-.3-.9 .2zM109.1 190.8l1 0-.7-.5-1 .4zM108.1 191.7l1-.9-.7-.1-1 .4zM106.2 192.2l1.9-.5-.7-.6-1.9 1zM104.4 191.9l1.8 .3-.7-.1-1.8-.4zM102.5 194l1.9-2.1-.7-.2-1.9 .4zM100.6 192.3l1.9 1.7-.7-1.9-1.9 1zM98.8 194.6l1.8-2.3-.7 .8-1.8 .7z"/><path class="p17" d="M77.3 197.8l1-9.3-.7 1.3-1 13.4z"/><path class="p20" d="M73.6 196l.9-8.2-.7-2.7-.9 10.8z"/><path class="p31" d="M65.2 178.7l.9-.5-.7-.3-.9 .6z"/><path class="p30" d="M64.3 180.2l.9-1.5-.7-.2-.9 .6z"/><path class="p29" d="M63.3 183.7l1-3.5-.7-1.1-1 4.3z"/><path class="p25" d="M62.4 191.5l.9-7.8-.7-.3-.9 8.5z"/><path class="p18" d="M61.5 204.7l.9-13.2-.7 .4-.9 13.3z"/><path class="p9" d="M60.5 218.9l1-14.2-.7 .5-1 13.4z"/><path class="p3" d="M59.6 224.7l.9-5.8-.7-.3-.9 5.5z"/><path class="p14" d="M121.5 187.9l1-.3-.7-.4-1 .3zM120.5 188.2l1-.3-.7-.4-1 .3zM119.6 188.5l.9-.3-.7-.4-.9 .3zM118.6 188.8l1-.3-.7-.4-1 .3zM117.6 189.1l1-.3-.7-.4-1 .3zM116.6 189.3l1-.2-.7-.4-1 .3zM115.7 189.6l.9-.3-.7-.3-.9 .2zM114.7 189.9l1-.3-.7-.4-1 .4zM113.7 190.2l1-.3-.7-.3-1 .2zM112.7 190.6l1-.4-.7-.4-1 .4zM111.7 190.7l1-.1-.7-.4-1 .2zM110.8 191.2l.9-.5-.7-.3-.9 .4zM109.8 191.2l1 0-.7-.4-1 0zM108.8 191.9l1-.7-.7-.4-1 .9zM106.9 192.2l1.9-.3-.7-.2-1.9 .5zM105.1 192.7l1.8-.5-.7 0-1.8-.3z"/><path class="p13" d="M103.2 195l1.9-2.3-.7-.8-1.9 2.1z"/><path class="p14" d="M101.3 192.8l1.9 2.2-.7-1-1.9-1.7zM99.5 194.7l1.8-1.9-.7-.5-1.8 2.3zM93.9 196.6l1.8-4-.7-.7-1.8 10z"/><path class="p19" d="M78 196.1l1-4.7-.7-2.9-1 9.3z"/><path class="p12" d="M77.1 209.2l.9-13.1-.7 1.7-.9 13.4z"/><path class="p20" d="M74.3 195.4l.9-4.6-.7-3-.9 8.2z"/><path class="p29" d="M67.8 180l.9 2.2-.7-2.8-.9-.9z"/><path class="p30" d="M66.8 179.7l1 .3-.7-1.5-1-.3z"/><path class="p31" d="M65.9 179.4l.9 .3-.7-1.5-.9 .5z"/><path class="p30" d="M65 181.3l.9-1.9-.7-.7-.9 1.5z"/><path class="p28" d="M64 185.3l1-4-.7-1.1-1 3.5z"/><path class="p25" d="M63.1 194.7l.9-9.4-.7-1.6-.9 7.8z"/><path class="p18" d="M62.2 207.8l.9-13.1-.7-3.2-.9 13.2z"/><path class="p9" d="M61.2 220.7l1-12.9-.7-3.1-1 14.2z"/><path class="p3" d="M60.3 224.5l.9-3.8-.7-1.8-.9 5.8z"/><path class="p14" d="M122.2 188.2l1-.3-.7-.3-1 .3zM121.2 188.5l1-.3-.7-.3-1 .3zM120.3 188.8l.9-.3-.7-.3-.9 .3zM119.3 189.1l1-.3-.7-.3-1 .3zM118.3 189.4l1-.3-.7-.3-1 .3zM117.3 189.7l1-.3-.7-.3-1 .2zM116.4 190l.9-.3-.7-.4-.9 .3zM115.4 190.3l1-.3-.7-.4-1 .3zM114.4 190.6l1-.3-.7-.4-1 .3zM113.4 190.8l1-.2-.7-.4-1 .4zM112.4 191.2l1-.4-.7-.2-1 .1zM111.5 191.5l.9-.3-.7-.5-.9 .5zM110.5 191.7l1-.2-.7-.3-1 0zM109.5 192l1-.3-.7-.5-1 .7zM107.6 192.3l1.9-.3-.7-.1-1.9 .3zM105.8 193.6l1.8-1.3-.7-.1-1.8 .5z"/><path class="p13" d="M103.9 194.5l1.9-.9-.7-.9-1.9 2.3zM102 194.7l1.9-.2-.7 .5-1.9-2.2z"/><path class="p14" d="M100.2 193.8l1.8 .9-.7-1.9-1.8 1.9zM96.4 196.6l1.9 0-.7-1-1.9-3z"/><path class="p15" d="M94.6 192.1l1.8 4.5-.7-4-1.8 4z"/><path class="p14" d="M90.9 202.3l1.8-10-.7-.1-1.8 9.6z"/><path class="p18" d="M78.7 195.7l1-.4-.7-3.9-1 4.7z"/><path class="p13" d="M77.8 206.9l.9-11.2-.7 .4-.9 13.1z"/><path class="p19" d="M75 194.6l.9-1.1-.7-2.7-.9 4.6z"/><path class="p28" d="M68.5 182.4l.9 4.7-.7-4.9-.9-2.2z"/><path class="p29" d="M67.5 182.2l1 .2-.7-2.4-1-.3zM66.6 182l.9 .2-.7-2.5-.9-.3zM65.7 185.4l.9-3.4-.7-2.6-.9 1.9z"/><path class="p27" d="M64.7 190.6l1-5.2-.7-4.1-1 4z"/><path class="p22" d="M63.8 200.7l.9-10.1-.7-5.3-.9 9.4z"/><path class="p15" d="M62.9 213.2l.9-12.5-.7-6-.9 13.1z"/><path class="p7" d="M61.9 223.8l1-10.6-.7-5.4-1 12.9z"/><path class="p3" d="M61 223.4l.9 .4-.7-3.1-.9 3.8z"/><path class="p14" d="M122.9 188.6l1-.3-.7-.4-1 .3zM121.9 188.9l1-.3-.7-.4-1 .3zM121 189.2l.9-.3-.7-.4-.9 .3zM120 189.5l1-.3-.7-.4-1 .3zM119 189.8l1-.3-.7-.4-1 .3zM118 190.1l1-.3-.7-.4-1 .3zM117.1 190.4l.9-.3-.7-.4-.9 .3zM116.1 190.6l1-.2-.7-.4-1 .3zM115.1 191l1-.4-.7-.3-1 .3zM114.1 191.2l1-.2-.7-.4-1 .2zM113.1 191.6l1-.4-.7-.4-1 .4zM112.2 191.8l.9-.2-.7-.4-.9 .3zM111.2 192.2l1-.4-.7-.3-1 .2zM110.2 192.3l1-.1-.7-.5-1 .3zM108.3 193l1.9-.7-.7-.3-1.9 .3zM106.5 194.1l1.8-1.1-.7-.7-1.8 1.3zM104.6 193.7l1.9 .4-.7-.5-1.9 .9z"/><path class="p13" d="M102.7 196.7l1.9-3-.7 .8-1.9 .2z"/><path class="p14" d="M100.9 193.6l1.8 3.1-.7-2-1.8-.9z"/><path class="p16" d="M93.4 196.7l1.9-4.5-.7-.1-1.9 .2z"/><path class="p13" d="M91.6 203.9l1.8-7.2-.7-4.4-1.8 10z"/><path class="p11" d="M82.2 206.6l1-6.6-.7 1.2-1 8.8z"/><path class="p16" d="M79.4 196.9l1 4.3-.7-5.9-1 .4z"/><path class="p14" d="M78.5 205.1l.9-8.2-.7-1.2-.9 11.2z"/><path class="p19" d="M70.1 196.3l.9 7.9-.7-8.7-.9-8.4z"/><path class="p24" d="M69.2 189.8l.9 6.5-.7-9.2-.9-4.7z"/><path class="p26" d="M68.2 189.1l1 .7-.7-7.4-1-.2z"/><path class="p27" d="M67.3 188.8l.9 .3-.7-6.9-.9-.2z"/><path class="p26" d="M66.4 192.8l.9-4-.7-6.8-.9 3.4z"/><path class="p23" d="M65.4 199.3l1-6.5-.7-7.4-1 5.2z"/><path class="p18" d="M64.5 209.9l.9-10.6-.7-8.7-.9 10.1z"/><path class="p3" d="M61.7 219.1l.9 6.5-.7-1.8-.9-.4z"/><path class="p14" d="M123.6 189l1-.3-.7-.4-1 .3zM122.6 189.3l1-.3-.7-.4-1 .3zM121.7 189.6l.9-.3-.7-.4-.9 .3zM120.7 189.9l1-.3-.7-.4-1 .3zM119.7 190.1l1-.2-.7-.4-1 .3zM118.7 190.4l1-.3-.7-.3-1 .3zM117.8 190.7l.9-.3-.7-.3-.9 .3zM116.8 191l1-.3-.7-.3-1 .2zM115.8 191.3l1-.3-.7-.4-1 .4zM114.8 191.6l1-.3-.7-.3-1 .2zM113.8 191.9l1-.3-.7-.4-1 .4zM112.9 192.2l.9-.3-.7-.3-.9 .2zM111.9 192.5l1-.3-.7-.4-1 .4zM110.9 192.8l1-.3-.7-.3-1 .1zM109 193.6l1.9-.8-.7-.5-1.9 .7zM107.2 193.7l1.8-.1-.7-.6-1.8 1.1zM105.3 194.2l1.9-.5-.7 .4-1.9-.4z"/><path class="p13" d="M103.4 196.7l1.9-2.5-.7-.5-1.9 3zM101.6 195.8l1.8 .9-.7 0-1.8-3.1z"/><path class="p15" d="M99.7 192.6l1.9 3.2-.7-2.2-1.9 1.6z"/><path class="p14" d="M94.1 202.7l1.9-8.7-.7-1.8-1.9 4.5z"/><path class="p18" d="M84.8 197.5l.9-8.1-.7 2.4-.9 7.7z"/><path class="p9" d="M82 212.9l.9-11.6-.7 5.3-.9 6.6zM81.1 207.3l.9 5.6-.7 .3-.9-12z"/><path class="p15" d="M79.2 202l.9-5.4-.7 .3-.9 8.2z"/><path class="p3" d="M72.7 220.9l.9 3.3-.7-.5-.9-10.4z"/><path class="p18" d="M69.9 201.6l.9 7.1-.7-12.4-.9-6.5z"/><path class="p20" d="M68.9 200.6l1 1-.7-11.8-1-.7z"/><path class="p21" d="M68 200.7l.9-.1-.7-11.5-.9-.3z"/><path class="p20" d="M67.1 205.2l.9-4.5-.7-11.9-.9 4z"/><path class="p16" d="M66.1 211.6l1-6.4-.7-12.4-1 6.5z"/><path class="p5" d="M62.4 211.3l.9 11.9-.7 2.4-.9-6.5z"/><path class="p14" d="M124.3 189.3l1-.3-.7-.3-1 .3zM123.3 189.6l1-.3-.7-.3-1 .3zM122.4 189.9l.9-.3-.7-.3-.9 .3zM121.4 190.2l1-.3-.7-.3-1 .3zM120.4 190.5l1-.3-.7-.3-1 .2zM119.4 190.8l1-.3-.7-.4-1 .3zM118.5 191.1l.9-.3-.7-.4-.9 .3zM117.5 191.4l1-.3-.7-.4-1 .3zM116.5 191.7l1-.3-.7-.4-1 .3zM115.5 192l1-.3-.7-.4-1 .3zM114.5 192.2l1-.2-.7-.4-1 .3zM113.6 192.7l.9-.5-.7-.3-.9 .3zM112.6 192.7l1 0-.7-.5-1 .3zM111.6 193.3l1-.6-.7-.2-1 .3zM109.7 193.6l1.9-.3-.7-.5-1.9 .8zM106 195.3l1.9-1.6-.7 0-1.9 .5z"/><path class="p13" d="M104.1 195.7l1.9-.4-.7-1.1-1.9 2.5z"/><path class="p14" d="M98.6 200l1.8-7.3-.7-.1-1.9 9.5z"/><path class="p13" d="M94.8 204.4l1.9-11.7-.7 1.3-1.9 8.7z"/><path class="p20" d="M87.4 191.7l.9-3.9-.7 1.5-.9 1.7z"/><path class="p19" d="M85.5 194.8l.9-4.1-.7-1.3-.9 8.1z"/><path class="p11" d="M82.7 211.3l.9-13.4-.7 3.4-.9 11.6z"/><path class="p16" d="M79.9 198.1l.9-.1-.7-1.4-.9 5.4z"/><path class="p13" d="M79 208.2l.9-10.1-.7 3.9-.9 5.8z"/><path class="p3" d="M73.4 222.3l.9-5-.7 6.9-.9-3.3z"/><path class="p4" d="M64 214.5l1 9.1-.7 1.6-1-2z"/><path class="p10" d="M63.1 201.2l.9 13.3-.7 8.7-.9-11.9z"/><path class="p14" d="M125 189.7l1-.3-.7-.4-1 .3zM124 190l1-.3-.7-.4-1 .3zM123.1 190.3l.9-.3-.7-.4-.9 .3zM122.1 190.6l1-.3-.7-.4-1 .3zM121.1 190.9l1-.3-.7-.4-1 .3zM120.1 191.2l1-.3-.7-.4-1 .3zM119.2 191.5l.9-.3-.7-.4-.9 .3zM118.2 191.8l1-.3-.7-.4-1 .3zM117.2 192.1l1-.3-.7-.4-1 .3zM116.2 192.3l1-.2-.7-.4-1 .3zM115.2 192.6l1-.3-.7-.3-1 .2zM114.3 193l.9-.4-.7-.4-.9 .5zM113.3 193.2l1-.2-.7-.3-1 0zM112.3 193.5l1-.3-.7-.5-1 .6zM110.4 193.7l1.9-.2-.7-.2-1.9 .3zM108.6 194.5l1.8-.8-.7-.1-1.8 .1zM106.7 195.2l1.9-.7-.7-.8-1.9 1.6zM104.8 196.4l1.9-1.2-.7 .1-1.9 .4z"/><path class="p13" d="M103 197.5l1.8-1.1-.7-.7-1.8 2.3z"/><path class="p14" d="M101.1 194.9l1.9 2.6-.7 .5-1.9-5.3zM99.3 200.5l1.8-5.6-.7-2.2-1.8 7.3z"/><path class="p15" d="M97.4 191.1l1.9 9.4-.7-.5-1.9-7.3z"/><path class="p14" d="M95.5 202.7l1.9-11.6-.7 1.6-1.9 11.7z"/><path class="p21" d="M89 190.2l.9 .5-.7-1.1-.9-1.8z"/><path class="p20" d="M88.1 192.4l.9-2.2-.7-2.4-.9 3.9zM86.2 191.1l.9 .4-.7-.8-.9 4.1z"/><path class="p18" d="M85.3 198.4l.9-7.3-.7 3.7-.9 3.1z"/><path class="p16" d="M84.3 199.2l1-.8-.7-.5-1 0z"/><path class="p12" d="M83.4 207.6l.9-8.4-.7-1.3-.9 13.4z"/><path class="p11" d="M81.5 202.8l1 12-.7-2.5-1-14.3z"/><path class="p15" d="M79.7 203.3l.9-9.5-.7 4.3-.9 10.1z"/><path class="p21" d="M75.9 190.5l1 .1-.7-1-1 10.5z"/><path class="p7" d="M74.1 213.7l.9-9.2-.7 12.8-.9 5z"/><path class="p4" d="M73.1 220l1-6.3-.7 8.6-1 .1z"/><path class="p3" d="M66.6 221.3l.9 3.6-.7-2.3-.9 3.2z"/><path class="p5" d="M65.7 212.9l.9 8.4-.7 4.5-.9-2.2z"/><path class="p10" d="M64.7 202.1l1 10.8-.7 10.7-1-9.1z"/><path class="p17" d="M63.8 194.7l.9 7.4-.7 12.4-.9-13.3z"/><path class="p14" d="M125.7 190.1l1-.3-.7-.4-1 .3zM124.7 190.4l1-.3-.7-.4-1 .3zM123.8 190.7l.9-.3-.7-.4-.9 .3zM122.8 191l1-.3-.7-.4-1 .3zM121.8 191.3l1-.3-.7-.4-1 .3zM120.8 191.6l1-.3-.7-.4-1 .3zM119.9 191.8l.9-.2-.7-.4-.9 .3zM118.9 192.1l1-.3-.7-.3-1 .3zM117.9 192.5l1-.4-.7-.3-1 .3zM116.9 192.7l1-.2-.7-.4-1 .2zM115.9 193l1-.3-.7-.4-1 .3zM115 193.3l.9-.3-.7-.4-.9 .4zM114 193.6l1-.3-.7-.3-1 .2zM113 193.8l1-.2-.7-.4-1 .3zM111.1 194.4l1.9-.6-.7-.3-1.9 .2zM109.3 194.9l1.8-.5-.7-.7-1.8 .8zM107.4 195l1.9-.1-.7-.4-1.9 .7zM105.5 197.6l1.9-2.6-.7 .2-1.9 1.2z"/><path class="p13" d="M103.7 197.1l1.8 .5-.7-1.2-1.8 1.1zM100 202.7l1.8-8-.7 .2-1.8 5.6z"/><path class="p14" d="M98.1 193.2l1.9 9.5-.7-2.2-1.9-9.4zM96.2 203.9l1.9-10.7-.7-2.1-1.9 11.6z"/><path class="p11" d="M94.4 203l1.8 .9-.7-1.2-1.8-1.2z"/><path class="p19" d="M90.6 191.8l1.9 2.4-.7-2.2-1.9-1.3z"/><path class="p20" d="M89.7 191.3l.9 .5-.7-1.1-.9-.5z"/><path class="p18" d="M86 199.4l.9-8.3-.7 0-.9 7.3z"/><path class="p15" d="M85 202.6l1-3.2-.7-1-1 .8z"/><path class="p9" d="M82.2 209.2l1 4.9-.7 .7-1-12z"/><path class="p18" d="M80.4 196l.9-2.8-.7 .6-.9 9.5z"/><path class="p21" d="M76.6 190.4l1 10.1-.7-9.9-1-.1z"/><path class="p20" d="M75.7 194.4l.9-4-.7 .1-.9 14z"/><path class="p11" d="M73.8 206.8l1-7.7-.7 14.6-1 6.3z"/><path class="p6" d="M72.9 215.5l.9-8.7-.7 13.2-.9 5.1z"/><path class="p4" d="M72 217.7l.9-2.2-.7 9.6-.9-1.3z"/><path class="p3" d="M71 220.6l1-2.9-.7 6.1-1 1.2zM70.1 220l.9 .6-.7 4.4-.9-.2z"/><path class="p4" d="M69.2 218.4l.9 1.6-.7 4.8-.9 .8z"/><path class="p5" d="M68.2 213.9l1 4.5-.7 7.2-1-.7z"/><path class="p7" d="M67.3 207.1l.9 6.8-.7 11-.9-3.6z"/><path class="p12" d="M66.4 199l.9 8.1-.7 14.2-.9-8.4z"/><path class="p21" d="M64.5 198.4l.9-3.7-.7 7.4-.9-7.4z"/><path class="p14" d="M126.4 190.4l1-.2-.7-.4-1 .3zM125.4 190.7l1-.3-.7-.3-1 .3zM124.5 191l.9-.3-.7-.3-.9 .3zM123.5 191.3l1-.3-.7-.3-1 .3zM122.5 191.6l1-.3-.7-.3-1 .3zM121.5 191.9l1-.3-.7-.3-1 .3zM120.6 192.2l.9-.3-.7-.3-.9 .2zM119.6 192.5l1-.3-.7-.4-1 .3zM118.6 192.8l1-.3-.7-.4-1 .4zM117.6 193.1l1-.3-.7-.3-1 .2zM116.6 193.3l1-.2-.7-.4-1 .3zM115.7 193.8l.9-.5-.7-.3-.9 .3zM114.7 193.9l1-.1-.7-.5-1 .3zM113.7 194.4l1-.5-.7-.3-1 .2zM111.8 194.8l1.9-.4-.7-.6-1.9 .6zM110 195l1.8-.2-.7-.4-1.8 .5zM108.1 196.1l1.9-1.1-.7-.1-1.9 .1z"/><path class="p13" d="M106.2 197.3l1.9-1.2-.7-1.1-1.9 2.6zM100.7 202l1.8-7.9-.7 .6-1.8 8z"/><path class="p14" d="M98.8 194.1l1.9 7.9-.7 .7-1.9-9.5zM96.9 204.8l1.9-10.7-.7-.9-1.9 10.7z"/><path class="p11" d="M95.1 205.6l1.8-.8-.7-.9-1.8-.9z"/><path class="p20" d="M88.5 194.3l1-4.1-.7 0-1 1.9zM87.6 194.4l.9-.1-.7-2.2-.9-1z"/><path class="p18" d="M86.7 198.2l.9-3.8-.7-3.3-.9 8.3z"/><path class="p14" d="M85.7 206.3l1-8.1-.7 1.2-1 3.2z"/><path class="p9" d="M82.9 211l1-1.1-.7 4.2-1-4.9z"/><path class="p19" d="M81.1 192.5l.9 6.1-.7-5.4-.9 2.8z"/><path class="p15" d="M80.1 205.3l1-12.8-.7 3.5-1 17.2z"/><path class="p9" d="M78.3 211.3l.9 5.6-.7-.9-.9-15.5z"/><path class="p16" d="M77.3 202.1l1 9.2-.7-10.8-1-10.1z"/><path class="p20" d="M76.4 197.3l.9 4.8-.7-11.7-.9 4z"/><path class="p11" d="M71.7 204.2l1-3.2-.7 16.7-1 2.9z"/><path class="p10" d="M70.8 203.4l.9 .8-.7 16.4-.9-.6z"/><path class="p11" d="M69.9 201.7l.9 1.7-.7 16.6-.9-1.6z"/><path class="p13" d="M68.9 198.1l1 3.6-.7 16.7-1-4.5z"/><path class="p21" d="M66.1 200.9l1-5.9-.7 4-1-4.3z"/><path class="p19" d="M65.2 211l.9-10.1-.7-6.2-.9 3.7z"/><path class="p14" d="M127.1 190.8l1-.3-.7-.3-1 .2zM126.1 191.1l1-.3-.7-.4-1 .3zM125.2 191.4l.9-.3-.7-.4-.9 .3zM124.2 191.7l1-.3-.7-.4-1 .3zM123.2 192l1-.3-.7-.4-1 .3zM122.2 192.3l1-.3-.7-.4-1 .3zM121.3 192.6l.9-.3-.7-.4-.9 .3zM120.3 192.9l1-.3-.7-.4-1 .3zM119.3 193.2l1-.3-.7-.4-1 .3zM118.3 193.4l1-.2-.7-.4-1 .3zM117.3 193.7l1-.3-.7-.3-1 .2zM116.4 194.1l.9-.4-.7-.4-.9 .5zM115.4 194.3l1-.2-.7-.3-1 .1zM114.4 194.6l1-.3-.7-.4-1 .5zM112.5 195l1.9-.4-.7-.2-1.9 .4zM110.7 195.7l1.8-.7-.7-.2-1.8 .2zM108.8 196.6l1.9-.9-.7-.7-1.9 1.1z"/><path class="p13" d="M107 197.8l1.8-1.2-.7-.5-1.9 1.2z"/><path class="p14" d="M103.2 196l1.9 1.8-.7 .5-1.9-4.2z"/><path class="p13" d="M101.4 201.9l1.8-5.9-.7-1.9-1.8 7.9z"/><path class="p14" d="M99.5 193.5l1.9 8.4-.7 .1-1.9-7.9zM97.6 201.8l1.9-8.3-.7 .6-1.9 10.7z"/><path class="p20" d="M91.1 193.9l.9-1-.7-2.3-.9 .8zM90.2 193.7l.9 .2-.7-2.5-.9-1.2z"/><path class="p19" d="M89.2 195.1l1-1.4-.7-3.5-1 4.1z"/><path class="p18" d="M88.3 198.2l.9-3.1-.7-.8-.9 .1z"/><path class="p17" d="M87.4 199.4l.9-1.2-.7-3.8-.9 3.8z"/><path class="p13" d="M86.4 208.8l1-9.4-.7-1.2-1 8.1z"/><path class="p10" d="M84.6 205.8l.9 5.8-.7-5.4-.9 3.7z"/><path class="p11" d="M83.6 205.8l1 0-.7 4.1-1 1.1z"/><path class="p13" d="M82.7 204.1l.9 1.7-.7 5.2-.9-12.4z"/><path class="p17" d="M80.8 200.3l1-2-.7-5.8-1 12.8z"/><path class="p12" d="M79.9 207.3l.9-7-.7 5-.9 11.6z"/><path class="p9" d="M79 211l.9-3.7-.7 9.6-.9-5.6z"/><path class="p13" d="M77.1 211.4l.9 2.5-.7-11.8-.9-4.8z"/><path class="p17" d="M76.2 200.9l.9 10.5-.7-14.1-.9-5.7z"/><path class="p21" d="M75.2 196l1 4.9-.7-9.3-1 1.7zM74.3 194.8l.9 1.2-.7-2.7-.9 5.8zM68.7 200l.9-4.2-.7 2.3-.9-2.9z"/><path class="p20" d="M67.8 206.7l.9-6.7-.7-4.8-.9-.2z"/><path class="p17" d="M66.8 215l1-8.3-.7-11.7-1 5.9z"/><path class="p12" d="M65.9 219.1l.9-4.1-.7-14.1-.9 10.1z"/><path class="p14" d="M127.8 191.2l1-.3-.7-.4-1 .3zM126.8 191.5l1-.3-.7-.4-1 .3zM125.9 191.8l.9-.3-.7-.4-.9 .3zM124.9 192.1l1-.3-.7-.4-1 .3zM123.9 192.4l1-.3-.7-.4-1 .3zM122.9 192.7l1-.3-.7-.4-1 .3zM122 192.9l.9-.2-.7-.4-.9 .3zM121 193.2l1-.3-.7-.3-1 .3zM120 193.5l1-.3-.7-.3-1 .3zM119 193.8l1-.3-.7-.3-1 .2zM118 194.1l1-.3-.7-.4-1 .3zM117.1 194.4l.9-.3-.7-.4-.9 .4zM116.1 194.7l1-.3-.7-.3-1 .2zM115.1 195l1-.3-.7-.4-1 .3zM113.2 195.7l1.9-.7-.7-.4-1.9 .4zM111.4 196.2l1.8-.5-.7-.7-1.8 .7zM109.5 196.9l1.9-.7-.7-.5-1.9 .9z"/><path class="p13" d="M107.7 198.6l1.8-1.7-.7-.3-1.8 1.2zM102.1 202.5l1.8-5.6-.7-.9-1.8 5.9z"/><path class="p14" d="M100.2 196.4l1.9 6.1-.7-.6-1.9-8.4z"/><path class="p15" d="M98.3 199.9l1.9-3.5-.7-2.9-1.9 8.3z"/><path class="p11" d="M96.5 208.3l1.8-8.4-.7 1.9-1.8 4.2z"/><path class="p12" d="M94.6 203.1l1.9 5.2-.7-2.3-1.9-8.7z"/><path class="p16" d="M92.7 198l1.9 5.1-.7-5.8-1.9-4.4z"/><path class="p18" d="M91.8 196.4l.9 1.6-.7-5.1-.9 1zM90.9 197.5l.9-1.1-.7-2.5-.9-.2zM89.9 197.4l1 .1-.7-3.8-1 1.4z"/><path class="p16" d="M89 203l.9-5.6-.7-2.3-.9 3.1z"/><path class="p15" d="M88.1 205.7l.9-2.7-.7-4.8-.9 1.2z"/><path class="p10" d="M85.3 206.9l.9 6.7-.7-2-.9-5.8z"/><path class="p15" d="M82.5 208l.9-6.1-.7 2.2-.9-5.8zM81.5 206.2l1 1.8-.7-9.7-1 2zM80.6 199.6l.9 6.6-.7-5.9-.9 7z"/><path class="p14" d="M79.7 200.1l.9-.5-.7 7.7-.9 3.7z"/><path class="p12" d="M78.7 211.1l1-11-.7 10.9-1 2.9z"/><path class="p14" d="M75.9 212.1l1 2-.7-13.2-1-4.9z"/><path class="p16" d="M75 208.5l.9 3.6-.7-16.1-.9-1.2z"/><path class="p18" d="M74.1 204.5l.9 4-.7-13.7-.9-2.2z"/><path class="p19" d="M73.1 204.7l1-.2-.7-11.9-1 1.5zM72.2 204.2l.9 .5-.7-10.6-.9-.6zM71.3 207.2l.9-3-.7-10.7-.9 1.1z"/><path class="p18" d="M70.3 210.5l1-3.3-.7-12.6-1 1.2z"/><path class="p16" d="M69.4 215.4l.9-4.9-.7-14.7-.9 4.2z"/><path class="p13" d="M68.5 218.6l.9-3.2-.7-15.4-.9 6.7z"/><path class="p9" d="M66.6 212.2l.9 6-.7-3.2-.9 4.1z"/><path class="p14" d="M128.5 191.6l1-.3-.7-.4-1 .3zM127.5 191.9l1-.3-.7-.4-1 .3zM126.6 192.1l.9-.2-.7-.4-.9 .3zM125.6 192.4l1-.3-.7-.3-1 .3zM124.6 192.7l1-.3-.7-.3-1 .3zM123.6 193l1-.3-.7-.3-1 .3zM122.7 193.3l.9-.3-.7-.3-.9 .2zM121.7 193.6l1-.3-.7-.4-1 .3zM120.7 193.9l1-.3-.7-.4-1 .3zM119.7 194.2l1-.3-.7-.4-1 .3zM118.7 194.5l1-.3-.7-.4-1 .3zM117.8 194.8l.9-.3-.7-.4-.9 .3zM116.8 195l1-.2-.7-.4-1 .3zM115.8 195.5l1-.5-.7-.3-1 .3zM113.9 196.1l1.9-.6-.7-.5-1.9 .7zM112.1 196.6l1.8-.5-.7-.4-1.8 .5zM110.2 197.8l1.9-1.2-.7-.4-1.9 .7z"/><path class="p13" d="M108.4 198.1l1.8-.3-.7-.9-1.8 1.7z"/><path class="p14" d="M106.5 197.2l1.9 .9-.7 .5-1.9-1.6zM104.6 198.4l1.9-1.2-.7-.2-1.9-.1z"/><path class="p13" d="M102.8 200.3l1.8-1.9-.7-1.5-1.8 5.6z"/><path class="p14" d="M100.9 199.2l1.9 1.1-.7 2.2-1.9-6.1z"/><path class="p15" d="M99 197.2l1.9 2-.7-2.8-1.9 3.5z"/><path class="p12" d="M97.2 207.9l1.8-10.7-.7 2.7-1.8 8.4z"/><path class="p10" d="M95.3 207.2l1.9 .7-.7 .4-1.9-5.2z"/><path class="p13" d="M93.4 202.9l1.9 4.3-.7-4.1-1.9-5.1z"/><path class="p15" d="M92.5 201.4l.9 1.5-.7-4.9-.9-1.6z"/><path class="p16" d="M91.6 203.1l.9-1.7-.7-5-.9 1.1z"/><path class="p15" d="M90.6 204.5l1-1.4-.7-5.6-1-.1z"/><path class="p14" d="M89.7 206.7l.9-2.2-.7-7.1-.9 5.6z"/><path class="p11" d="M88.8 211.2l.9-4.5-.7-3.7-.9 2.7z"/><path class="p9" d="M86.9 209.6l.9-.1-.7-.9-.9 5z"/><path class="p10" d="M86 207.3l.9 2.3-.7 4-.9-6.7z"/><path class="p14" d="M83.2 209.4l.9-11.9-.7 4.4-.9 6.1z"/><path class="p11" d="M82.2 214.1l1-4.7-.7-1.4-1-1.8z"/><path class="p13" d="M81.3 204.3l.9 9.8-.7-7.9-.9-6.6z"/><path class="p16" d="M79.4 201.5l1-4.8-.7 3.4-1 11z"/><path class="p12" d="M78.5 206.8l.9-5.3-.7 9.6-.9 6.6z"/><path class="p10" d="M77.6 210.3l.9-3.5-.7 10.9-.9-3.6z"/><path class="p9" d="M69.2 212.5l.9 4.4-.7-1.5-.9 3.2z"/><path class="p11" d="M68.2 206.9l1 5.6-.7 6.1-1-.4z"/><path class="p13" d="M67.3 202.9l.9 4-.7 11.3-.9-6z"/><path class="p14" d="M129.2 191.9l1-.3-.7-.3-1 .3zM128.2 192.2l1-.3-.7-.3-1 .3zM127.3 192.5l.9-.3-.7-.3-.9 .2zM126.3 192.8l1-.3-.7-.4-1 .3zM125.3 193.1l1-.3-.7-.4-1 .3zM124.3 193.4l1-.3-.7-.4-1 .3zM123.4 193.7l.9-.3-.7-.4-.9 .3zM122.4 194l1-.3-.7-.4-1 .3zM121.4 194.3l1-.3-.7-.4-1 .3zM120.4 194.6l1-.3-.7-.4-1 .3zM119.4 194.9l1-.3-.7-.4-1 .3zM118.5 195.1l.9-.2-.7-.4-.9 .3zM117.5 195.5l1-.4-.7-.3-1 .2zM116.5 195.8l1-.3-.7-.5-1 .5zM114.6 196.5l1.9-.7-.7-.3-1.9 .6zM112.8 197.3l1.8-.8-.7-.4-1.8 .5z"/><path class="p13" d="M110.9 197.9l1.9-.6-.7-.7-1.9 1.2z"/><path class="p14" d="M107.2 196.8l1.9 1.3-.7 0-1.9-.9zM105.3 200.8l1.9-4-.7 .4-1.9 1.2zM101.6 202.4l1.9-3.7-.7 1.6-1.9-1.1z"/><path class="p15" d="M99.7 195l1.9 7.4-.7-3.2-1.9-2z"/><path class="p14" d="M97.9 203.7l1.8-8.7-.7 2.2-1.8 10.7z"/><path class="p10" d="M96 209.2l1.9-5.5-.7 4.2-1.9-.7zM94.1 208.5l1.9 .7-.7-2-1.9-4.3z"/><path class="p12" d="M93.2 208.6l.9-.1-.7-5.6-.9-1.5zM92.3 208.1l.9 .5-.7-7.2-.9 1.7z"/><path class="p11" d="M91.3 210.2l1-2.1-.7-5-1 1.4zM90.4 209.8l.9 .4-.7-5.7-.9 2.2zM87.6 203.6l.9 7.2-.7-1.3-.9 .1z"/><path class="p13" d="M86.7 201.4l.9 2.2-.7 6-.9-2.3z"/><path class="p17" d="M84.8 202.1l.9 .2-.7-4.5-.9-.3z"/><path class="p15" d="M83.9 205.6l.9-3.5-.7-4.6-.9 11.9z"/><path class="p11" d="M82.9 209.8l1-4.2-.7 3.8-1 4.7zM82 208.9l.9 .9-.7 4.3-.9-9.8z"/><path class="p15" d="M81.1 207.5l.9 1.4-.7-4.6-.9-7.6z"/><path class="p16" d="M80.1 205.4l1 2.1-.7-10.8-1 4.8zM79.2 199.7l.9 5.7-.7-3.9-.9 5.3zM78.3 199.6l.9 .1-.7 7.1-.9 3.5z"/><path class="p13" d="M77.3 204.5l1-4.9-.7 10.7-1 6.2z"/><path class="p11" d="M76.4 206l.9-1.5-.7 12-.9 .7zM75.5 209.2l.9-3.2-.7 11.2-.9 0z"/><path class="p10" d="M74.5 210.5l1-1.3-.7 8-1 .9zM73.6 210.3l.9 .2-.7 7.6-.9-.5zM72.7 209.5l.9 .8-.7 7.3-.9 1.2z"/><path class="p11" d="M71.7 207l1 2.5-.7 9.3-1-.6z"/><path class="p12" d="M70.8 204.5l.9 2.5-.7 11.2-.9-1.3z"/><path class="p14" d="M69.9 202.6l.9 1.9-.7 12.4-.9-4.4z"/><path class="p17" d="M68 208.8l.9-4.9-.7 3-.9-4z"/><path class="p14" d="M129.9 192.3l1-.3-.7-.4-1 .3zM128.9 192.6l1-.3-.7-.4-1 .3zM128 192.9l.9-.3-.7-.4-.9 .3zM127 193.2l1-.3-.7-.4-1 .3zM126 193.5l1-.3-.7-.4-1 .3zM125 193.8l1-.3-.7-.4-1 .3zM124.1 194.1l.9-.3-.7-.4-.9 .3zM123.1 194.4l1-.3-.7-.4-1 .3zM122.1 194.6l1-.2-.7-.4-1 .3zM121.1 194.9l1-.3-.7-.3-1 .3zM120.1 195.2l1-.3-.7-.3-1 .3zM119.2 195.5l.9-.3-.7-.3-.9 .2zM118.2 195.8l1-.3-.7-.4-1 .4zM117.2 196.1l1-.3-.7-.3-1 .3zM115.4 196.8l1.8-.7-.7-.3-1.9 .7zM113.5 197.4l1.9-.6-.8-.3-1.8 .8zM111.6 198l1.9-.6-.7-.1-1.9 .6zM109.8 197.7l1.8 .3-.7-.1-1.8 .2zM107.9 198.2l1.9-.5-.7 .4-1.9-1.3zM106 201.4l1.9-3.2-.7-1.4-1.9 4zM104.2 197.2l1.8 4.2-.7-.6-1.8-2.1z"/><path class="p13" d="M102.3 204.8l1.9-7.6-.7 1.5-1.9 3.7z"/><path class="p14" d="M100.4 197.5l1.9 7.3-.7-2.4-1.9-7.4z"/><path class="p15" d="M98.6 199.4l1.8-1.9-.7-2.5-1.8 8.7z"/><path class="p12" d="M96.7 207.3l1.9-7.9-.7 4.3-1.9 5.5z"/><path class="p10" d="M94.8 209.9l1.9-2.6-.7 1.9-1.9-.7z"/><path class="p9" d="M93.9 210.6l.9-.7-.7-1.4-.9 .1z"/><path class="p10" d="M93 210.6l.9 0-.7-2-.9-.5z"/><path class="p9" d="M92 210.8l1-.2-.7-2.5-1 2.1zM91.1 211l.9-.2-.7-.6-.9-.4z"/><path class="p10" d="M90.2 207.2l.9 3.8-.7-1.2-.9 1.8z"/><path class="p11" d="M89.2 205.4l1 1.8-.7 4.4-1-.8z"/><path class="p13" d="M88.3 201.6l.9 3.8-.7 5.4-.9-7.2z"/><path class="p16" d="M87.4 197.7l.9 3.9-.7 2-.9-2.2zM86.4 203.3l1-5.6-.7 3.7-1 .9z"/><path class="p14" d="M85.5 210.8l.9-7.5-.7-1-.9-.2z"/><path class="p13" d="M84.6 208.6l.9 2.2-.7-8.7-.9 3.5zM83.6 201.7l1 6.9-.7-3-1 4.2z"/><path class="p14" d="M82.7 202.9l.9-1.2-.7 8.1-.9-.9z"/><path class="p13" d="M81.8 211.5l.9-8.6-.7 6-.9-1.4z"/><path class="p12" d="M80.8 213.8l1-2.3-.7-4-1-2.1z"/><path class="p14" d="M79.9 208.4l.9 5.4-.7-8.4-.9-5.7z"/><path class="p16" d="M79 206.2l.9 2.2-.7-8.7-.9-.1zM78 203.9l1 2.3-.7-6.6-1 4.9zM77.1 201l.9 2.9-.7 .6-.9 1.5zM76.2 201.9l.9-.9-.7 5-.9 3.2zM75.2 201.3l1 .6-.7 7.3-1 1.3zM74.3 202l.9-.7-.7 9.2-.9-.2zM73.4 202.3l.9-.3-.7 8.3-.9-.8zM72.4 203.6l1-1.3-.7 7.2-1-2.5z"/><path class="p17" d="M71.5 206l.9-2.4-.7 3.4-.9-2.5z"/><path class="p16" d="M70.6 210l.9-4-.7-1.5-.9-1.9z"/><path class="p15" d="M69.6 214l1-4-.7-7.4-1 1.3z"/><path class="p14" d="M68.7 216l.9-2-.7-10.1-.9 4.9z"/></g>
<path d="M68.7 236.4L130.9 217.7M68.7 236.4L22 211.8M22 211.8L22 160.4M68.7 236.4L67.53 235.78M99.8 227.05L98.63 226.44M130.9 217.7L129.73 217.08M68.7 236.4L70.26 235.93M45.35 224.1L46.91 223.63M22 211.8L23.56 211.33M22 211.8L23.24 211.43M22 186.1L23.24 185.73M22 160.4L23.24 160.03" stroke="#555" stroke-width="0.4" fill="none"/>
<text x="76.3" y="139.86" font-size="4.6" text-anchor="middle" fill="#3a3a3a" >Parameter space</text>
<text x="18" y="162.24" font-size="4.55" text-anchor="end" fill="#3a3a3a" >5</text>
<text x="18" y="187.64" font-size="4.55" text-anchor="end" fill="#3a3a3a" >0</text>
<text x="17.8" y="212.74" font-size="4.55" text-anchor="end" fill="#3a3a3a" >−5</text>
<text x="16.4" y="218.44" font-size="4.55" text-anchor="middle" fill="#3a3a3a" >10</text>
<text x="40" y="229.84" font-size="4.55" text-anchor="middle" fill="#3a3a3a" >5</text>
<text x="64.8" y="242.14" font-size="4.55" text-anchor="middle" fill="#3a3a3a" >0</text>
<text x="73.6" y="242.14" font-size="4.55" text-anchor="middle" fill="#3a3a3a" >0</text>
<text x="104.3" y="233.84" font-size="4.55" text-anchor="middle" fill="#3a3a3a" >5</text>
<text x="136.4" y="223.84" font-size="4.55" text-anchor="middle" fill="#3a3a3a" >10</text>
<text x="43.3" y="242.88" font-size="4.95" text-anchor="middle" fill="#3a3a3a" >x<tspan font-size="3.4" dy="1.3">2</tspan></text>
<text x="98" y="243.68" font-size="4.95" text-anchor="middle" fill="#3a3a3a" >x<tspan font-size="3.4" dy="1.3">1</tspan></text>
<text transform="translate(9.3 187) rotate(-90)" font-size="5.0" word-spacing="0.6" text-anchor="middle" fill="#3a3a3a">F26( x<tspan font-size="3.4" dy="1.3">1</tspan><tspan dy="-1.3"> , x</tspan><tspan font-size="3.4" dy="1.3">2</tspan><tspan dy="-1.3"> )</tspan></text>
</g>
<g>
<path d="M300.4 215.1L358.2 197.7M358.2 197.7L402.4 221.5M358.2 197.7L358.2 147.2M300.4 164.6L358.2 147.2M358.2 147.2L402.4 171M402.4 221.5L402.4 171M363.25 233.29L319.05 209.49M319.05 209.49L319.05 158.99M381.89 227.67L337.69 203.87M337.69 203.87L337.69 153.37M400.54 222.06L356.34 198.26M356.34 198.26L356.34 147.76M330.34 231.22L388.14 213.82M388.14 213.82L388.14 163.32M316.08 223.55L373.88 206.15M373.88 206.15L373.88 155.65M301.83 215.87L359.63 198.47M359.63 198.47L359.63 147.97M300.4 202.47L358.2 185.07M358.2 185.07L402.4 208.88M300.4 189.85L358.2 172.45M358.2 172.45L402.4 196.25M300.4 177.22L358.2 159.82M358.2 159.82L402.4 183.62" stroke="#dedede" stroke-width="0.4" fill="none"/>
<g><path fill="none" stroke="#4743e7" stroke-width="0.35" opacity="0.8" d="M343.6 214.1l-1-.1-.9-.2-.9-.5-.3-.6 .6-.4 .9 0 1.3 .3 .9 .5 .1 .9-.7 .1"/><path fill="none" stroke="#4367fd" stroke-width="0.35" opacity="0.8" d="M344.6 214.6l-1 0-1.3-.2-.7-.2-1.1-.4-.7-.5-.2-.7 .7-.8 1.5 .1 .8 .1 .7 .2 1.1 .4 .7 .6 .3 .6-.8 .8"/><path fill="none" stroke="#2d8cf3" stroke-width="0.35" opacity="0.8" d="M345.5 215.1l-1 0-1.3-.2-.8-.2-.8-.1-1.3-.4-.9-.5-.4-.6-.2-1 .7-.7 1.3 .1 .9 .1 .8 .1 1.4 .3 1.1 .4 .7 .6 .4 .6 .3 1-.9 .5"/><path fill="none" stroke="#1caadf" stroke-width="0.35" opacity="0.8" d="M347 215.9l-1.4-.2-.8-.2-.8-.2-1.2-.2-1.1-.2-.8-.1-1-.3-.9-.3-.5-.4-.3-.6-.1-.9-.2-.8 .4-.8 .9 .2 1.5 .2 .8 .2 .8 .1 .8 .1 .7 .2 1.3 .3 .7 .4 .7 .7 .3 .6 .3 .7 .3 .6 .3 .7-.7 .2M364.8 207.6l-.9-.1-1.2-.4-.5-.5 .6-.6 .8 .1 1.2 .4 .6 .5-.6 .6"/><path fill="none" stroke="#12beb9" stroke-width="0.35" opacity="0.8" d="M372.9 230.4l-.9-.5-.9-.5-.8-.5-.9-.4-.9-.5-.9-.5-.9-.5-.9-.4-.8-.5-.9-.5-.9-.5-.9-.4-.9-.5-.9-.5-.8-.5-.9-.4-.9-.5-.9-.5-.9-.5-.9-.4-.8-.5-.9-.5-.9-.5-.9-.4-.9-.5-.9-.5-.9-.5-.9-.4-1-.5-1.1-.4-1.3-.3-1-.3-1.1-.2-.8-.1-.9-.2-.8-.1-.9-.1-.9-.1-.9-.5 0-1.1-.1-1-.3-.7-.5-.6-.8-.5-.8-.5-.9-.5-.9-.4-.8-.5-.9-.5-.9-.5-.9-.4-.9-.5M365.7 208.1l-.9-.1-1-.1-.8-.1-.7-.2-.7-.3-.4-.7 .2-.9 1.5-.1 .8 .1 .8 .1 .7 .2 .9 .5 .3 1-.7 .6M330.6 206l.9 .5 .9 .5 .9 .4 .8 .5 .9 .5 .9 .5 .9 .4 .9 .5 1.1 .4 .8 .3 1.1 .3 1.4 .3 .8 .1 .8 .1 .8 .2 .8 .1 .8 .1 .9 .5 .2 .9 .3 .7 .4 .7 .5 .6 .6 .6 .7 .5 .8 .5 .9 .5 .9 .5 .8 .4 .9 .5 .9 .5 .9 .5 .9 .4 .9 .5 .8 .5 .9 .5 .9 .5 .9 .4 .9 .5 .9 .5 .9 .5 .8 .4 .9 .5 .9 .5 .9 .5 .9 .4 .9 .5 .8 .5 .9 .5 .9 .4 .9 .5 .9 .5 .9 .5 .4 .2"/><path fill="none" stroke="#48cb86" stroke-width="0.35" opacity="0.8" d="M372.2 230.6l-.9-.5-.9-.4-.9-.5-.9-.5-.9-.5-.8-.5-.9-.4-.9-.5-.9-.5-.9-.5-.9-.4-.8-.5-.9-.5-.9-.5-.9-.4-.9-.5-.9-.5-.8-.5-.9-.4-.9-.5-.9-.5-.9-.5-.9-.4-.9-.5-.8-.5-.9-.5-.9-.4-1-.5-.9-.5-1.1-.4-1.2-.3-.7-.2-.8-.2-1.7-.2-1 0-.9 0-1.5 .2-1.3 .3-1.1 .3-1.2 .3-1.2 .4-1.1 .3-1.2 .4-1.1 .3-1.2 .4-1.1 .3-1.2 .4-1.2 .3-1.1 .4-1.2 .3-1.1 .4-1.2 .3-1.1 .4-1.2 .3-1.2 .4-1.1 .3-1.2 .4M372 205.2l-1.1 .3-1.2 .3-1.1 .4-1 .4-.3 .9-.1 .8-.7 .3-.8-.1-1.1-.1-.9-.1-1.1 0-.9 0-1.2 .3-1.2 .4-1.1 .3-1.2 .4-1.1 .3-1.2 .4-1.2 .3-1.1 .4-1.2 .3-1.1 .4-1.1 .4-.7 .5-.2 .9 .3 .7 .6 .6 .7 .6 .7 .5 .8 .5 .9 .5 .9 .5 .9 .4 .8 .5 .9 .5 .9 .5 .9 .4 .9 .5 .9 .5 .8 .5 .9 .4 .9 .5 .9 .5 .9 .5 .9 .4 .8 .5 .9 .5 .9 .5 .9 .4 .9 .5 .9 .5 .8 .5 .9 .5 .9 .4 .9 .5 .9 .5 .9 .5 .4 .2M312.2 221.4l1.1-.3 1.2-.4 1.1-.3 1.2-.3 1.2-.4 1.1-.3 1.2-.4 1.1-.3 1.2-.4 1.1-.3 1.2-.4 1.2-.3 1.1-.4 1.2-.3 1.1-.4 1.2-.3 1.1-.4 1.2-.3 1.1-.4 1.1-.4 .8-.5 .6-.7 0-.9-.4-.7-.5-.5-.7-.5-.9-.5-.8-.4-.9-.5-.9-.5-.9-.5-.9-.4-.9-.5-.8-.5M331.3 205.8l.9 .5 .9 .4 .9 .5 .8 .5 .9 .5 .9 .5 .9 .4 .9 .5 1 .4 .7 .3 1.1 .3 .8 .2 1.2 .2 1.1 .1 .9 0 .9 0 1.3-.3 1.2-.3 1.2-.4 1.1-.3 1.2-.4 1.1-.3 1.2-.4 1.1-.3 1.2-.4 1.1-.3 1.2-.4 .9-.4 .4-.8 .3-.8 1.2-.2 1 .1 1 .1 1.1 0 1-.1 1.2-.3 1.1-.3 1.2-.4 .6-.2"/><path fill="none" stroke="#9fc942" stroke-width="0.35" opacity="0.8" d="M371.5 230.8l-.9-.5-.9-.4-.9-.5-.8-.5-.9-.5-.9-.5-.9-.4-.9-.5-.9-.5-.8-.5-.9-.4-.9-.5-.9-.5-.9-.5-.9-.4-.8-.5-.9-.5-.9-.5-.9-.4-.9-.5-.9-.5-.9-.5-.8-.4-.9-.5-.9-.5-.9-.5-.9-.4-.9-.5-1-.5-.8-.3-.9-.3-1-.2-1.3-.2-1 0-1.5 .1-1.4 .2-1.2 .4-1.1 .3-1.2 .3-1.1 .4-1.2 .3-1.2 .4-1.1 .3-1.2 .4-1.1 .3-1.2 .4-1.1 .3-1.2 .4-1.1 .3-1.2 .4-1.2 .3-1.1 .4-1.2 .3-1.1 .4-1.2 .3-.6 .2M373 205.7l-1.1 .3-1.2 .4-1.1 .3-1 .5-.4 .7 .2 .8-.5 .5-1.2-.1-1.2-.2-.9-.1-1.2 0-1.3 .2-1.2 .3-1.2 .4-1.1 .3-1.2 .4-1.1 .3-1.2 .4-1.1 .3-1.2 .4-1.1 .3-1.2 .4-1 .4-.4 .5 .2 1.1 .6 .5 .7 .6 .8 .5 .9 .5 .8 .4 .9 .5 .9 .5 .9 .5 .9 .4 .8 .5 .9 .5 .9 .5 .9 .4 .9 .5 .9 .5 .8 .5 .9 .5 .9 .4 .9 .5 .9 .5 .9 .5 .8 .4 .9 .5 .9 .5 .9 .5 .9 .4 .9 .5 .8 .5 .9 .5 .9 .4 .9 .5M311.3 220.9l1.1-.3 1.2-.3 1.1-.4 1.2-.3 1.1-.4 1.2-.3 1.2-.4 1.1-.3 1.2-.4 1.1-.3 1.2-.4 1.1-.3 1.2-.4 1.1-.3 1.2-.4 1.2-.3 1.1-.4 1.2-.3 1.1-.4 1.1-.4 .7-.3 .5-.4 .3-.9-.4-.7-.7-.5-.8-.5-.9-.5-.8-.5-.9-.5-.9-.4-.9-.5-.9-.5-.9-.5-.4-.2M331.9 205.6l.9 .5 .9 .5 .9 .4 .8 .5 .9 .5 .9 .5 .9 .4 .9 .5 1 .5 1.2 .3 1.1 .3 1.2 .2 .9 0 .8-.1 1.3-.3 1.2-.3 1.1-.4 1.2-.3 1.1-.4 1.2-.3 1.2-.4 1.1-.3 1.2-.3 1.1-.4 1.2-.4 1-.4 .4-.7 .1-1 1.3 0 .9 .1 .9 .1 1.2 0 1.1-.1 1.2-.4 1.1-.3 1.2-.4 .6-.2"/><path fill="none" stroke="#eaba31" stroke-width="0.35" opacity="0.8" d="M370.8 231l-.9-.5-.9-.4-.9-.5-.9-.5-.8-.5-.9-.4-.9-.5-.9-.5-.9-.5-.9-.4-.8-.5-.9-.5-.9-.5-.9-.4-.9-.5-.9-.5-.9-.5-.8-.4-.9-.5-.9-.5-.9-.5-.9-.5-.9-.4-.8-.5-.9-.5-.9-.5-.9-.4-1-.5-.8-.4-.7-.2-1.3-.4-1.3-.2-.9 0-1.2 .1-1 .2-1.2 .3-1.1 .4-1.2 .3-1.1 .4-1.2 .3-1.1 .4-1.2 .3-1.2 .4-1.1 .3-1.2 .4-1.1 .3-1.2 .4-1.1 .3-1.2 .4-1.2 .3-1.1 .4-1.2 .3-1.1 .4-1.2 .3-.6 .2M394.6 223.9l-.9-.5-.9-.5-.9-.5-.9-.4-.8-.5-.9-.5-.9-.5-.9-.5-.9-.4-.9-.5-.8-.5-.9-.5-.9-.4-.9-.5-.9-.5-.9-.5-.8-.4-.9-.5-.9-.5-.9-.5-.9-.4-.9-.5-.9-.5-.8-.5-.9-.4-.9-.5-.9-.5-1-.4-.9-.4-.7-.3-1.2-.3-.8-.2-.8-.1-1 0-1.3 .2-1.2 .3-1.1 .4-1.2 .3-1.2 .4-1.1 .3-1.2 .4-1.1 .3-1.2 .4-1.1 .3-1.2 .4-.9 .4-.4 .8 .5 .6 .6 .6 .8 .5 .9 .5 .8 .5 .9 .4 .9 .5 .9 .5 .9 .5 .8 .4 .9 .5 .9 .5 .9 .5 .9 .4 .9 .5 .8 .5 .9 .5 .9 .4 .9 .5 .9 .5 .9 .5 .9 .5 .8 .4 .9 .5 .9 .5 .9 .5 .9 .4 .9 .5 .8 .5 .9 .5 .9 .4M373.9 206.2l-1.1 .3-1.2 .4-1.1 .3-1 .5-.2 .8 .5 .6 .5 .5 .8 .5 .8 .5 .9 .5 .8 .5 .9 .5 .9 .5 .9 .4 .9 .5 .8 .5 .9 .5 .9 .4 .9 .5 .9 .5 .9 .5 .9 .4 .8 .5 .9 .5 .9 .5 .9 .4 .9 .5 .9 .5 .8 .5 .9 .5 .9 .4 .9 .5 .9 .5 .9 .5 .8 .4 .9 .5M310.5 220.5l1.1-.3 1.2-.4 1.2-.3 1.1-.4 1.2-.3 1.1-.4 1.2-.3 1.1-.4 1.2-.3 1.1-.4 1.2-.3 1.2-.3 1.1-.4 1.2-.3 1.1-.4 1.2-.3 1.1-.4 1.2-.3 1.1-.4 1.1-.4 .9-.5 .4-.7-.5-.7-.7-.6-.8-.4-.9-.5-.9-.5-.9-.5-.9-.5-.9-.4-.8-.5-.9-.5M332.5 205.4l.9 .5 .9 .5 .9 .5 .8 .4 .9 .5 .9 .5 .9 .5 .9 .4 1 .5 1.3 .3 .7 .2 1 0 1.5-.1 1.2-.4 1.2-.3 1.1-.4 1.2-.3 1.1-.4 1.2-.3 1.2-.3 1.1-.4 1.2-.3 1.1-.4 1.1-.4 .6-.4-.1-1.1-.6-.5-.7-.6-.9-.4-.9-.5-.8-.5-.9-.5-.9-.5-.9-.4-.9-.5-.4-.2M351.5 199.7l.9 .5 .9 .5 .9 .4 .9 .5 .8 .5 .9 .5 .9 .4 1 .5 1.1 .4 1.3 .4 1.6 .2 1.5-.2 1.2-.3 1.1-.3 1.2-.4 .6-.2"/><path fill="none" stroke="#fad42e" stroke-width="0.35" opacity="0.8" d="M369.8 231.3l-.9-.5-.9-.4-.9-.5-.8-.5-.9-.5-.9-.4-.9-.5-.9-.5-.9-.5-.8-.4-.9-.5-.9-.5-.9-.5-.9-.5-.9-.4-.8-.5-.9-.5-.9-.5-.9-.4-.9-.5-.9-.5-.8-.5-.9-.4-.9-.5-.9-.5-.9-.5-.9-.4-1-.5-1.1-.4-1.4-.3-1.1 0-1.4 .2-1.2 .3-1.2 .3-1.1 .3-1.2 .4-1.2 .3-1.1 .4-1.2 .3-1.1 .4-1.2 .3-1.1 .4-1.2 .3-1.2 .4-1.1 .3-1.2 .4-1.1 .3-1.2 .4-1.1 .3-1.2 .4-1.1 .3-.6 .2M393.6 224.2l-.9-.5-.9-.5-.9-.5-.8-.5-.9-.4-.9-.5-.9-.5-.9-.5-.9-.4-.8-.5-.9-.5-.9-.5-.9-.4-.9-.5-.9-.5-.9-.5-.8-.4-.9-.5-.9-.5-.9-.5-.9-.4-.9-.5-.8-.5-.9-.5-.9-.4-.9-.5-.9-.5-1-.4-1-.5-.8-.2-1.3-.3-1.5 .2-1.2 .3-1.1 .4-1.2 .3-1.1 .4-1.2 .3-1.1 .4-1.2 .3-1.2 .4-1.1 .3-1.1 .4-.9 .5 .4 1 .7 .5 .8 .5 .9 .5 .9 .5 .9 .5 .8 .5 .9 .4 .9 .5 .9 .5 .9 .5 .9 .4 .8 .5 .9 .5 .9 .5 .9 .4 .9 .5 .9 .5 .8 .5 .9 .4 .9 .5 .9 .5 .9 .5 .9 .4 .9 .5 .8 .5 .9 .5 .9 .5 .9 .4 .9 .5M375.1 206.8l-1.2 .3-1.1 .4-1.2 .3-.9 .5 .3 .8 .6 .5 .8 .5 .9 .5 .8 .5 .9 .5 .9 .4 .9 .5 .9 .5 .9 .5 .8 .4 .9 .5 .9 .5 .9 .5 .9 .4 .9 .5 .8 .5 .9 .5 .9 .4 .9 .5 .9 .5 .9 .5 .8 .5 .9 .4 .9 .5 .9 .5 .9 .5 .9 .4 .9 .5 .8 .5 .5 .2M309.6 220l1.1-.3 1.2-.4 1.1-.3 1.2-.4 1.1-.3 1.2-.4 1.1-.3 1.2-.4 1.2-.3 1.1-.4 1.2-.3 1.1-.3 1.2-.4 1.1-.3 1.2-.4 1.2-.3 1.1-.4 1.2-.3 1.1-.4 1-.4 .7-.6-.3-.8-.7-.5-.9-.5-.8-.5-.9-.4-.9-.5-.9-.5-.9-.5-.9-.4-.4-.3M333.3 205.2l.9 .5 .8 .5 .9 .4 .9 .5 .9 .5 .9 .5 .9 .4 .9 .5 1.1 .4 1 .2 .9 0 1.4-.2 1.2-.3 1.1-.4 1.2-.3 1.1-.4 1.2-.3 1.1-.4 1.2-.3 1.2-.4 1.1-.3 1.2-.4 .9-.5-.2-.7-.7-.5-.8-.5-.9-.5-.9-.5-.9-.4-.9-.5-.8-.5-.9-.5-.9-.4M352.5 199.4l.9 .5 .8 .5 .9 .5 .9 .4 .9 .5 .9 .5 .9 .5 .9 .4 1.1 .4 .8 .2 1 .1 1.4-.2 1.1-.4 1.2-.3 1.2-.4"/></g>
<g stroke-width="0.7" stroke-linejoin="round"><path class="p31" d="M357.8 148.5l1.8-.5-1.4-.8-1.9 .6zM355.9 149.2l1.9-.7-1.5-.7-1.8 .6z"/><path class="p28" d="M354 153.5l1.9-4.3-1.4-.8-1.9 4.3z"/><path class="p24" d="M352.2 160.5l1.8-7-1.4-.8-1.9 7z"/><path class="p31" d="M346.6 151.9l1.8-.5-1.4-.8-1.9 .5zM344.7 152.5l1.9-.6-1.5-.8-1.8 .6zM342.8 153l1.9-.5-1.4-.8-1.9 .6zM341 153.6l1.8-.6-1.4-.7-1.8 .5zM339.1 154.1l1.9-.5-1.4-.8-1.9 .6zM337.3 154.8l1.8-.7-1.4-.7-1.9 .6z"/><path class="p30" d="M335.4 157.2l1.9-2.4-1.5-.8-1.8 2.5z"/><path class="p23" d="M333.5 167.9l1.9-10.7-1.4-.7-1.9 10.6z"/><path class="p31" d="M324.2 158.9l1.9 1.1-1.5-.8-1.8-1.1zM322.3 159.2l1.9-.3-1.4-.8-1.9 .3zM320.5 159.8l1.8-.6-1.4-.8-1.9 .6zM318.6 160.3l1.9-.5-1.5-.8-1.8 .5zM316.7 160.9l1.9-.6-1.4-.8-1.9 .6zM314.9 161.4l1.8-.5-1.4-.8-1.8 .6zM313 162l1.9-.6-1.4-.7-1.9 .5zM311.1 162.6l1.9-.6-1.4-.8-1.9 .6zM309.3 163.1l1.8-.5-1.4-.8-1.8 .6zM307.4 163.7l1.9-.6-1.4-.7-1.9 .5zM305.6 164.2l1.8-.5-1.4-.8-1.9 .6zM303.7 164.8l1.9-.6-1.5-.7-1.8 .5zM301.8 165.4l1.9-.6-1.4-.8-1.9 .6zM359.2 149.3l1.9-.6-1.5-.7-1.8 .5zM357.3 149.9l1.9-.6-1.4-.8-1.9 .7z"/><path class="p28" d="M355.5 154.3l1.8-4.4-1.4-.7-1.9 4.3z"/><path class="p24" d="M353.6 161.2l1.9-6.9-1.5-.8-1.8 7z"/><path class="p31" d="M348 152.7l1.9-.6-1.5-.7-1.8 .5zM346.1 153.2l1.9-.5-1.4-.8-1.9 .6zM344.3 153.8l1.8-.6-1.4-.7-1.9 .5zM342.4 154.3l1.9-.5-1.5-.8-1.8 .6zM340.5 154.9l1.9-.6-1.4-.7-1.9 .5zM338.7 155.5l1.8-.6-1.4-.8-1.8 .7z"/><path class="p30" d="M336.8 158l1.9-2.5-1.4-.7-1.9 2.4z"/><path class="p23" d="M334.9 168.6l1.9-10.6-1.4-.8-1.9 10.7z"/><path class="p14" d="M333.1 181.5l1.8-12.9-1.4-.7-1.8 12.9z"/><path class="p31" d="M325.6 159.6l1.9 1.1-1.4-.7-1.9-1.1zM323.8 160l1.8-.4-1.4-.7-1.9 .3zM321.9 160.5l1.9-.5-1.5-.8-1.8 .6zM320 161.1l1.9-.6-1.4-.7-1.9 .5zM318.2 161.6l1.8-.5-1.4-.8-1.9 .6zM316.3 162.2l1.9-.6-1.5-.7-1.8 .5zM314.4 162.8l1.9-.6-1.4-.8-1.9 .6zM312.6 163.3l1.8-.5-1.4-.8-1.9 .6zM310.7 163.9l1.9-.6-1.5-.7-1.8 .5zM308.8 164.5l1.9-.6-1.4-.8-1.9 .6zM307 165l1.8-.5-1.4-.8-1.8 .5zM305.1 165.6l1.9-.6-1.4-.8-1.9 .6zM303.3 166.1l1.8-.5-1.4-.8-1.9 .6zM360.6 150.1l1.9-.6-1.4-.8-1.9 .6zM358.7 150.7l1.9-.6-1.4-.8-1.9 .6z"/><path class="p28" d="M356.9 155l1.8-4.3-1.4-.8-1.8 4.4z"/><path class="p24" d="M355 162l1.9-7-1.4-.7-1.9 6.9z"/><path class="p31" d="M349.4 153.4l1.9-.5-1.4-.8-1.9 .6zM347.6 154l1.8-.6-1.4-.7-1.9 .5zM345.7 154.6l1.9-.6-1.5-.8-1.8 .6zM343.8 155.1l1.9-.5-1.4-.8-1.9 .5zM342 155.7l1.8-.6-1.4-.8-1.9 .6zM340.1 156.3l1.9-.6-1.5-.8-1.8 .6z"/><path class="p30" d="M338.2 158.8l1.9-2.5-1.4-.8-1.9 2.5z"/><path class="p23" d="M336.4 169.4l1.8-10.6-1.4-.8-1.9 10.6z"/><path class="p14" d="M334.5 182.3l1.9-12.9-1.5-.8-1.8 12.9z"/><path class="p31" d="M327.1 160.4l1.8 1.1-1.4-.8-1.9-1.1zM325.2 160.7l1.9-.3-1.5-.8-1.8 .4zM323.3 161.3l1.9-.6-1.4-.7-1.9 .5zM321.5 161.9l1.8-.6-1.4-.8-1.9 .6zM319.6 162.4l1.9-.5-1.5-.8-1.8 .5zM317.7 163l1.9-.6-1.4-.8-1.9 .6zM315.9 163.5l1.8-.5-1.4-.8-1.9 .6zM314 164.1l1.9-.6-1.5-.7-1.8 .5zM312.1 164.7l1.9-.6-1.4-.8-1.9 .6zM310.3 165.2l1.8-.5-1.4-.8-1.9 .6zM308.4 165.8l1.9-.6-1.5-.7-1.8 .5zM306.5 166.3l1.9-.5-1.4-.8-1.9 .6zM304.7 166.9l1.8-.6-1.4-.7-1.8 .5zM362 150.9l1.9-.6-1.4-.8-1.9 .6zM360.2 151.5l1.8-.6-1.4-.8-1.9 .6z"/><path class="p28" d="M358.3 155.8l1.9-4.3-1.5-.8-1.8 4.3z"/><path class="p24" d="M356.4 162.8l1.9-7-1.4-.8-1.9 7z"/><path class="p31" d="M350.9 154.2l1.8-.5-1.4-.8-1.9 .5zM349 154.8l1.9-.6-1.5-.8-1.8 .6zM347.1 155.3l1.9-.5-1.4-.8-1.9 .6zM345.3 155.9l1.8-.6-1.4-.7-1.9 .5zM343.4 156.5l1.9-.6-1.5-.8-1.8 .6zM341.5 157.1l1.9-.6-1.4-.8-1.9 .6z"/><path class="p30" d="M339.7 159.6l1.8-2.5-1.4-.8-1.9 2.5z"/><path class="p23" d="M337.8 170.2l1.9-10.6-1.5-.8-1.8 10.6z"/><path class="p14" d="M335.9 183.1l1.9-12.9-1.4-.8-1.9 12.9z"/><path class="p31" d="M328.5 161.2l1.8 1.1-1.4-.8-1.8-1.1zM326.6 161.5l1.9-.3-1.4-.8-1.9 .3zM324.7 162.1l1.9-.6-1.4-.8-1.9 .6zM322.9 162.6l1.8-.5-1.4-.8-1.8 .6zM321 163.2l1.9-.6-1.4-.7-1.9 .5zM319.2 163.8l1.8-.6-1.4-.8-1.9 .6zM317.3 164.3l1.9-.5-1.5-.8-1.8 .5zM315.4 164.9l1.9-.6-1.4-.8-1.9 .6zM313.6 165.4l1.8-.5-1.4-.8-1.9 .6zM311.7 166l1.9-.6-1.5-.7-1.8 .5zM309.8 166.6l1.9-.6-1.4-.8-1.9 .6zM308 167.1l1.8-.5-1.4-.8-1.9 .5zM306.1 167.7l1.9-.6-1.5-.8-1.8 .6zM363.5 152l1.8-.6-1.4-1.1-1.9 .6zM361.6 152.6l1.9-.6-1.5-1.1-1.8 .6z"/><path class="p28" d="M359.7 156.9l1.9-4.3-1.4-1.1-1.9 4.3z"/><path class="p24" d="M357.9 163.9l1.8-7-1.4-1.1-1.9 7z"/><path class="p31" d="M352.3 155.3l1.8-.5-1.4-1.1-1.8 .5zM350.4 155.9l1.9-.6-1.4-1.1-1.9 .6zM348.5 156.5l1.9-.6-1.4-1.1-1.9 .5zM346.7 157l1.8-.5-1.4-1.2-1.8 .6zM344.8 157.6l1.9-.6-1.4-1.1-1.9 .6zM343 158.2l1.8-.6-1.4-1.1-1.9 .6z"/><path class="p29" d="M341.1 160.7l1.9-2.5-1.5-1.1-1.8 2.5z"/><path class="p22" d="M339.2 171.3l1.9-10.6-1.4-1.1-1.9 10.6z"/><path class="p31" d="M329.9 162.3l1.9 1.1-1.5-1.1-1.8-1.1zM328 162.6l1.9-.3-1.4-1.1-1.9 .3zM326.2 163.2l1.8-.6-1.4-1.1-1.9 .6zM324.3 163.7l1.9-.5-1.5-1.1-1.8 .5zM322.4 164.3l1.9-.6-1.4-1.1-1.9 .6zM320.6 164.9l1.8-.6-1.4-1.1-1.8 .6zM318.7 165.4l1.9-.5-1.4-1.1-1.9 .5zM316.9 166l1.8-.6-1.4-1.1-1.9 .6zM315 166.6l1.9-.6-1.5-1.1-1.8 .5zM313.1 167.1l1.9-.5-1.4-1.2-1.9 .6zM311.3 167.7l1.8-.6-1.4-1.1-1.9 .6zM309.4 168.2l1.9-.5-1.5-1.1-1.8 .5zM307.5 168.8l1.9-.6-1.4-1.1-1.9 .6z"/><path class="p29" d="M364.9 154.8l1.9-.5-1.5-2.9-1.8 .6zM363 155.5l1.9-.7-1.4-2.8-1.9 .6z"/><path class="p27" d="M361.2 159.8l1.8-4.3-1.4-2.9-1.9 4.3z"/><path class="p22" d="M359.3 166.8l1.9-7-1.5-2.9-1.8 7z"/><path class="p29" d="M355.6 157.7l1.8 1.7-1.4-2.9-1.9-1.7zM353.7 158.2l1.9-.5-1.5-2.9-1.8 .5zM351.8 158.8l1.9-.6-1.4-2.9-1.9 .6zM350 159.3l1.8-.5-1.4-2.9-1.9 .6zM348.1 159.9l1.9-.6-1.5-2.8-1.8 .5zM346.2 160.5l1.9-.6-1.4-2.9-1.9 .6zM344.4 161.1l1.8-.6-1.4-2.9-1.8 .6z"/><path class="p28" d="M342.5 163.6l1.9-2.5-1.4-2.9-1.9 2.5z"/><path class="p21" d="M340.7 174.2l1.8-10.6-1.4-2.9-1.9 10.6z"/><path class="p29" d="M331.3 165.2l1.9 1.1-1.4-2.9-1.9-1.1zM329.5 165.5l1.8-.3-1.4-2.9-1.9 .3zM327.6 166.1l1.9-.6-1.5-2.9-1.8 .6zM325.7 166.6l1.9-.5-1.4-2.9-1.9 .5zM323.9 167.2l1.8-.6-1.4-2.9-1.9 .6zM322 167.8l1.9-.6-1.5-2.9-1.8 .6zM320.1 168.3l1.9-.5-1.4-2.9-1.9 .5zM318.3 168.9l1.8-.6-1.4-2.9-1.8 .6zM316.4 169.4l1.9-.5-1.4-2.9-1.9 .6zM314.5 170l1.9-.6-1.4-2.8-1.9 .5zM312.7 170.6l1.8-.6-1.4-2.9-1.8 .6zM310.8 171.1l1.9-.5-1.4-2.9-1.9 .5zM309 171.7l1.8-.6-1.4-2.9-1.9 .6z"/><path class="p25" d="M366.3 161.6l1.9-.5-1.4-6.8-1.9 .5zM364.5 162.3l1.8-.7-1.4-6.8-1.9 .7z"/><path class="p22" d="M362.6 166.6l1.9-4.3-1.5-6.8-1.8 4.3z"/><path class="p18" d="M360.7 173.6l1.9-7-1.4-6.8-1.9 7z"/><path class="p23" d="M358.9 166.2l1.8 7.4-1.4-6.8-1.9-7.4z"/><path class="p25" d="M357 164.5l1.9 1.7-1.5-6.8-1.8-1.7zM355.1 165l1.9-.5-1.4-6.8-1.9 .5zM353.3 165.6l1.8-.6-1.4-6.8-1.9 .6zM351.4 166.1l1.9-.5-1.5-6.8-1.8 .5zM349.5 166.7l1.9-.6-1.4-6.8-1.9 .6zM347.7 167.2l1.8-.5-1.4-6.8-1.9 .6zM345.8 167.9l1.9-.7-1.5-6.7-1.8 .6z"/><path class="p24" d="M343.9 170.3l1.9-2.4-1.4-6.8-1.9 2.5z"/><path class="p17" d="M342.1 181l1.8-10.7-1.4-6.7-1.8 10.6z"/><path class="p19" d="M336.5 179.2l1.8 11.6-1.4-6.7-1.8-11.7z"/><path class="p24" d="M334.6 173.1l1.9 6.1-1.4-6.8-1.9-6.1z"/><path class="p25" d="M332.8 172l1.8 1.1-1.4-6.8-1.9-1.1zM330.9 172.3l1.9-.3-1.5-6.8-1.8 .3zM329 172.8l1.9-.5-1.4-6.8-1.9 .6zM327.2 173.4l1.8-.6-1.4-6.7-1.9 .5zM325.3 174l1.9-.6-1.5-6.8-1.8 .6zM323.4 174.5l1.9-.5-1.4-6.8-1.9 .6zM321.6 175.1l1.8-.6-1.4-6.7-1.9 .5zM319.7 175.7l1.9-.6-1.5-6.8-1.8 .6zM317.8 176.2l1.9-.5-1.4-6.8-1.9 .5zM316 176.8l1.8-.6-1.4-6.8-1.9 .6zM314.1 177.3l1.9-.5-1.5-6.8-1.8 .6zM312.2 177.9l1.9-.6-1.4-6.7-1.9 .5zM310.4 178.5l1.8-.6-1.4-6.8-1.8 .6z"/><path class="p19" d="M367.7 170.5l1.9-.6-1.4-8.8-1.9 .5zM354.7 174.4l1.9-.6-1.5-8.8-1.8 .6zM352.8 175l1.9-.6-1.4-8.8-1.9 .5zM351 175.5l1.8-.5-1.4-8.9-1.9 .6zM349.1 176.1l1.9-.6-1.5-8.8-1.8 .5zM347.2 176.7l1.9-.6-1.4-8.9-1.9 .7z"/><path class="p18" d="M345.4 179.2l1.8-2.5-1.4-8.8-1.9 2.4z"/><path class="p19" d="M319.3 185.1l1.8-.6-1.4-8.8-1.9 .5zM317.4 185.6l1.9-.5-1.5-8.9-1.8 .6zM315.5 186.2l1.9-.6-1.4-8.8-1.9 .5zM313.7 186.7l1.8-.5-1.4-8.9-1.9 .6zM311.8 187.3l1.9-.6-1.5-8.8-1.8 .6z"/><path class="p11" d="M339.3 192.5l1.9 11.6-1.4-4.4-1.9-11.6z"/><path class="p16" d="M337.5 186.3l1.8 6.2-1.4-4.4-1.9-6.2z"/><path class="p17" d="M315.1 191.2l1.9-.6-1.5-4.4-1.8 .5zM313.2 191.7l1.9-.5-1.4-4.5-1.9 .6z"/><path class="p5" d="M342.6 201.1l1.9 3-1.4 3-1.9-3z"/><path class="p14" d="M340.8 189.5l1.8 11.6-1.4 3-1.9-11.6z"/><path class="p18" d="M338.9 183.3l1.9 6.2-1.5 3-1.8-6.2z"/><path class="p19" d="M337 182.2l1.9 1.1-1.4 3-1.9-1.1z"/><path class="p20" d="M335.2 182.6l1.8-.4-1.4 3-1.9 .4zM333.3 183.1l1.9-.5-1.5 3-1.8 .5zM331.4 183.7l1.9-.6-1.4 3-1.9 .6zM329.6 184.3l1.8-.6-1.4 3-1.9 .5zM327.7 184.8l1.9-.5-1.5 2.9-1.8 .6zM325.8 185.4l1.9-.6-1.4 3-1.9 .6zM324 185.9l1.8-.5-1.4 3-1.8 .5zM322.1 186.5l1.9-.6-1.4 3-1.9 .6zM320.3 187.1l1.8-.6-1.4 3-1.9 .6zM318.4 187.6l1.9-.5-1.5 3-1.8 .5zM316.5 188.2l1.9-.6-1.4 3-1.9 .6zM314.7 188.7l1.8-.5-1.4 3-1.9 .5z"/><path class="p10" d="M344.1 194.8l1.8 3-1.4 6.3-1.9-3z"/><path class="p19" d="M342.2 183.1l1.9 11.7-1.5 6.3-1.8-11.6z"/><path class="p23" d="M340.3 177l1.9 6.1-1.4 6.4-1.9-6.2z"/><path class="p25" d="M334.7 176.8l1.9-.6-1.4 6.4-1.9 .5zM332.9 177.3l1.8-.5-1.4 6.3-1.9 .6zM331 177.9l1.9-.6-1.5 6.4-1.8 .6zM329.1 178.5l1.9-.6-1.4 6.4-1.9 .5zM327.3 179l1.8-.5-1.4 6.3-1.9 .6zM325.4 179.6l1.9-.6-1.5 6.4-1.8 .5zM323.5 180.1l1.9-.5-1.4 6.3-1.9 .6zM321.7 180.7l1.8-.6-1.4 6.4-1.8 .6zM319.8 181.3l1.9-.6-1.4 6.4-1.9 .5zM317.9 181.8l1.9-.5-1.4 6.3-1.9 .6zM316.1 182.4l1.8-.6-1.4 6.4-1.8 .5z"/><path class="p20" d="M349.2 180.1l1.9-10.6-1.5 4.8-1.8 10.6z"/><path class="p14" d="M345.5 190l1.8 3-1.4 4.8-1.8-3z"/><path class="p22" d="M343.6 178.4l1.9 11.6-1.4 4.8-1.9-11.7z"/><path class="p28" d="M326.8 174.8l1.9-.5-1.4 4.7-1.9 .6zM325 175.4l1.8-.6-1.4 4.8-1.9 .5zM323.1 175.9l1.9-.5-1.5 4.7-1.8 .6zM321.2 176.5l1.9-.6-1.4 4.8-1.9 .6zM319.4 177.1l1.8-.6-1.4 4.8-1.9 .5zM317.5 177.6l1.9-.5-1.5 4.7-1.8 .6zM371.1 163.9l1.9-4.4-1.4 1.9-1.9 4.4z"/><path class="p22" d="M350.6 178.2l1.9-10.6-1.4 1.9-1.9 10.6z"/><path class="p16" d="M346.9 188.1l1.9 3-1.5 1.9-1.8-3z"/><path class="p24" d="M345 176.5l1.9 11.6-1.4 1.9-1.9-11.6z"/><path class="p30" d="M322.7 174.6l1.8-.6-1.4 1.9-1.9 .6zM320.8 175.2l1.9-.6-1.5 1.9-1.8 .6zM318.9 175.7l1.9-.5-1.4 1.9-1.9 .5z"/><path class="p31" d="M376.3 158.8l1.9-.6-1.5 .1-1.8 .6zM374.4 159.4l1.9-.6-1.4 .1-1.9 .6z"/><path class="p28" d="M372.6 163.7l1.8-4.3-1.4 .1-1.9 4.4z"/><path class="p24" d="M370.7 170.7l1.9-7-1.5 .2-1.8 6.9z"/><path class="p31" d="M365.1 162.1l1.9-.5-1.5 .1-1.8 .6zM363.2 162.7l1.9-.6-1.4 .2-1.9 .5zM361.4 163.3l1.8-.6-1.4 .1-1.8 .6zM359.5 163.8l1.9-.5-1.4 .1-1.9 .5zM357.7 164.4l1.8-.6-1.4 .1-1.9 .6zM355.8 165l1.9-.6-1.5 .1-1.8 .6z"/><path class="p29" d="M353.9 167.5l1.9-2.5-1.4 .1-1.9 2.5z"/><path class="p22" d="M352.1 178.1l1.8-10.6-1.4 .1-1.9 10.6z"/><path class="p16" d="M348.3 188l1.9 3-1.4 .1-1.9-3z"/><path class="p25" d="M346.5 176.4l1.8 11.6-1.4 .1-1.9-11.6z"/><path class="p31" d="M340.9 169.4l1.8-.3-1.4 .1-1.9 .4zM339 170l1.9-.6-1.5 .2-1.8 .5zM337.1 170.6l1.9-.6-1.4 .1-1.9 .6zM335.3 171.1l1.8-.5-1.4 .1-1.8 .5zM333.4 171.7l1.9-.6-1.4 .1-1.9 .6zM331.5 172.2l1.9-.5-1.4 .1-1.9 .6zM329.7 172.8l1.8-.6-1.4 .2-1.8 .5zM327.8 173.4l1.9-.6-1.4 .1-1.9 .6zM326 173.9l1.8-.5-1.4 .1-1.9 .5zM324.1 174.5l1.9-.6-1.5 .1-1.8 .6zM322.2 175l1.9-.5-1.4 .1-1.9 .6zM320.4 175.6l1.8-.6-1.4 .2-1.9 .5zM377.7 159.3l1.9-.5-1.4-.6-1.9 .6zM375.9 160l1.8-.7-1.4-.5-1.9 .6z"/><path class="p28" d="M374 164.3l1.9-4.3-1.5-.6-1.8 4.3z"/><path class="p24" d="M372.1 171.3l1.9-7-1.4-.6-1.9 7z"/><path class="p31" d="M366.5 162.7l1.9-.5-1.4-.6-1.9 .5zM364.7 163.3l1.8-.6-1.4-.6-1.9 .6zM362.8 163.8l1.9-.5-1.5-.6-1.8 .6zM360.9 164.4l1.9-.6-1.4-.5-1.9 .5zM359.1 164.9l1.8-.5-1.4-.6-1.8 .6zM357.2 165.6l1.9-.7-1.4-.5-1.9 .6z"/><path class="p30" d="M355.3 168l1.9-2.4-1.4-.6-1.9 2.5z"/><path class="p23" d="M353.5 178.7l1.8-10.7-1.4-.5-1.8 10.6z"/><path class="p17" d="M349.8 188.5l1.8 3.1-1.4-.6-1.9-3z"/><path class="p25" d="M347.9 176.9l1.9 11.6-1.5-.5-1.8-11.6z"/><path class="p31" d="M344.2 169.7l1.8 1.1-1.4-.6-1.9-1.1zM342.3 170l1.9-.3-1.5-.6-1.8 .3zM340.4 170.5l1.9-.5-1.4-.6-1.9 .6zM338.6 171.1l1.8-.6-1.4-.5-1.9 .6zM336.7 171.7l1.9-.6-1.5-.5-1.8 .5zM334.8 172.2l1.9-.5-1.4-.6-1.9 .6zM333 172.8l1.8-.6-1.4-.5-1.9 .5zM331.1 173.4l1.9-.6-1.5-.6-1.8 .6zM329.2 173.9l1.9-.5-1.4-.6-1.9 .6zM327.4 174.5l1.8-.6-1.4-.5-1.8 .5zM325.5 175l1.9-.5-1.4-.6-1.9 .6zM323.7 175.6l1.8-.6-1.4-.5-1.9 .5zM321.8 176.2l1.9-.6-1.5-.6-1.8 .6zM379.1 160.1l1.9-.6-1.4-.7-1.9 .5zM377.3 160.7l1.8-.6-1.4-.8-1.8 .7z"/><path class="p28" d="M375.4 165l1.9-4.3-1.4-.7-1.9 4.3z"/><path class="p24" d="M373.6 172l1.8-7-1.4-.7-1.9 7z"/><path class="p31" d="M368 163.4l1.8-.5-1.4-.7-1.9 .5zM366.1 164l1.9-.6-1.5-.7-1.8 .6zM364.2 164.5l1.9-.5-1.4-.7-1.9 .5zM362.4 165.1l1.8-.6-1.4-.7-1.9 .6zM360.5 165.7l1.9-.6-1.5-.7-1.8 .5zM358.6 166.3l1.9-.6-1.4-.8-1.9 .7z"/><path class="p30" d="M356.8 168.8l1.8-2.5-1.4-.7-1.9 2.4z"/><path class="p23" d="M354.9 179.4l1.9-10.6-1.5-.8-1.8 10.7z"/><path class="p17" d="M351.2 189.3l1.8 3-1.4-.7-1.8-3.1z"/><path class="p25" d="M349.3 177.6l1.9 11.7-1.4-.8-1.9-11.6z"/><path class="p31" d="M345.6 170.4l1.9 1.1-1.5-.7-1.8-1.1zM343.7 170.7l1.9-.3-1.4-.7-1.9 .3zM341.9 171.3l1.8-.6-1.4-.7-1.9 .5zM340 171.8l1.9-.5-1.5-.8-1.8 .6zM338.1 172.4l1.9-.6-1.4-.7-1.9 .6zM336.3 173l1.8-.6-1.4-.7-1.9 .5zM334.4 173.5l1.9-.5-1.5-.8-1.8 .6zM332.5 174.1l1.9-.6-1.4-.7-1.9 .6zM330.7 174.6l1.8-.5-1.4-.7-1.9 .5zM328.8 175.2l1.9-.6-1.5-.7-1.8 .6zM326.9 175.8l1.9-.6-1.4-.7-1.9 .5zM325.1 176.3l1.8-.5-1.4-.8-1.8 .6zM323.2 176.9l1.9-.6-1.4-.7-1.9 .6zM380.6 160.8l1.8-.5-1.4-.8-1.9 .6zM378.7 161.4l1.9-.6-1.5-.7-1.8 .6z"/><path class="p28" d="M376.8 165.8l1.9-4.4-1.4-.7-1.9 4.3z"/><path class="p24" d="M375 172.8l1.8-7-1.4-.8-1.8 7z"/><path class="p31" d="M369.4 164.2l1.9-.5-1.5-.8-1.8 .5zM367.5 164.7l1.9-.5-1.4-.8-1.9 .6zM365.7 165.3l1.8-.6-1.4-.7-1.9 .5zM363.8 165.9l1.9-.6-1.5-.8-1.8 .6zM361.9 166.4l1.9-.5-1.4-.8-1.9 .6zM360.1 167.1l1.8-.7-1.4-.7-1.9 .6z"/><path class="p30" d="M358.2 169.5l1.9-2.4-1.5-.8-1.8 2.5z"/><path class="p23" d="M356.3 180.1l1.9-10.6-1.4-.7-1.9 10.6z"/><path class="p17" d="M352.6 190l1.9 3-1.5-.7-1.8-3z"/><path class="p25" d="M350.7 178.4l1.9 11.6-1.4-.7-1.9-11.7z"/><path class="p31" d="M347 171.1l1.9 1.1-1.4-.7-1.9-1.1zM345.1 171.5l1.9-.4-1.4-.7-1.9 .3zM343.3 172l1.8-.5-1.4-.8-1.8 .6zM341.4 172.6l1.9-.6-1.4-.7-1.9 .5zM339.6 173.2l1.8-.6-1.4-.8-1.9 .6zM337.7 173.7l1.9-.5-1.5-.8-1.8 .6zM335.8 174.3l1.9-.6-1.4-.7-1.9 .5zM334 174.8l1.8-.5-1.4-.8-1.9 .6zM332.1 175.4l1.9-.6-1.5-.7-1.8 .5zM330.2 176l1.9-.6-1.4-.8-1.9 .6zM328.4 176.5l1.8-.5-1.4-.8-1.9 .6zM326.5 177.1l1.9-.6-1.5-.7-1.8 .5zM324.6 177.7l1.9-.6-1.4-.8-1.9 .6zM382 161.6l1.9-.6-1.5-.7-1.8 .5zM380.1 162.2l1.9-.6-1.4-.8-1.9 .6z"/><path class="p28" d="M378.3 166.6l1.8-4.4-1.4-.8-1.9 4.4z"/><path class="p24" d="M376.4 173.5l1.9-6.9-1.5-.8-1.8 7z"/><path class="p31" d="M370.8 164.9l1.9-.5-1.4-.7-1.9 .5zM368.9 165.5l1.9-.6-1.4-.7-1.9 .5zM367.1 166.1l1.8-.6-1.4-.8-1.8 .6zM365.2 166.6l1.9-.5-1.4-.8-1.9 .6zM363.4 167.2l1.8-.6-1.4-.7-1.9 .5zM361.5 167.8l1.9-.6-1.5-.8-1.8 .7z"/><path class="p30" d="M359.6 170.3l1.9-2.5-1.4-.7-1.9 2.4z"/><path class="p23" d="M357.8 180.9l1.8-10.6-1.4-.8-1.9 10.6z"/><path class="p17" d="M354 190.8l1.9 3-1.4-.8-1.9-3z"/><path class="p25" d="M352.2 179.2l1.8 11.6-1.4-.8-1.9-11.6z"/><path class="p31" d="M348.4 171.9l1.9 1.1-1.4-.8-1.9-1.1zM346.6 172.3l1.8-.4-1.4-.8-1.9 .4zM344.7 172.8l1.9-.5-1.5-.8-1.8 .5zM342.8 173.4l1.9-.6-1.4-.8-1.9 .6zM341 173.9l1.8-.5-1.4-.8-1.8 .6zM339.1 174.5l1.9-.6-1.4-.7-1.9 .5zM337.3 175.1l1.8-.6-1.4-.8-1.9 .6zM335.4 175.6l1.9-.5-1.5-.8-1.8 .5zM333.5 176.2l1.9-.6-1.4-.8-1.9 .6zM331.7 176.7l1.8-.5-1.4-.8-1.9 .6zM329.8 177.3l1.9-.6-1.5-.7-1.8 .5zM327.9 177.9l1.9-.6-1.4-.8-1.9 .6zM326.1 178.4l1.8-.5-1.4-.8-1.9 .6zM383.4 162.3l1.9-.5-1.4-.8-1.9 .6zM381.6 163l1.8-.7-1.4-.7-1.9 .6z"/><path class="p28" d="M379.7 167.3l1.9-4.3-1.5-.8-1.8 4.4z"/><path class="p24" d="M377.8 174.3l1.9-7-1.4-.7-1.9 6.9z"/><path class="p31" d="M372.2 165.7l1.9-.5-1.4-.8-1.9 .5zM370.4 166.3l1.8-.6-1.4-.8-1.9 .6zM368.5 166.8l1.9-.5-1.5-.8-1.8 .6zM366.6 167.4l1.9-.6-1.4-.7-1.9 .5zM364.8 168l1.8-.6-1.4-.8-1.8 .6zM362.9 168.6l1.9-.6-1.4-.8-1.9 .6z"/><path class="p30" d="M361.1 171.1l1.8-2.5-1.4-.8-1.9 2.5z"/><path class="p23" d="M359.2 181.7l1.9-10.6-1.5-.8-1.8 10.6z"/><path class="p17" d="M355.5 191.6l1.8 3-1.4-.8-1.9-3z"/><path class="p25" d="M353.6 179.9l1.9 11.7-1.5-.8-1.8-11.6z"/><path class="p31" d="M349.9 172.7l1.8 1.1-1.4-.8-1.9-1.1zM348 173l1.9-.3-1.5-.8-1.8 .4zM346.1 173.6l1.9-.6-1.4-.7-1.9 .5zM344.3 174.1l1.8-.5-1.4-.8-1.9 .6zM342.4 174.7l1.9-.6-1.5-.7-1.8 .5zM340.5 175.3l1.9-.6-1.4-.8-1.9 .6zM338.7 175.8l1.8-.5-1.4-.8-1.8 .6zM336.8 176.4l1.9-.6-1.4-.7-1.9 .5zM334.9 176.9l1.9-.5-1.4-.8-1.9 .6zM333.1 177.5l1.8-.6-1.4-.7-1.8 .5zM331.2 178.1l1.9-.6-1.4-.8-1.9 .6zM329.4 178.6l1.8-.5-1.4-.8-1.9 .6zM327.5 179.2l1.9-.6-1.5-.7-1.8 .5zM384.9 163.1l1.8-.5-1.4-.8-1.9 .5zM383 163.7l1.9-.6-1.5-.8-1.8 .7z"/><path class="p28" d="M381.1 168.1l1.9-4.4-1.4-.7-1.9 4.3z"/><path class="p24" d="M379.3 175.1l1.8-7-1.4-.8-1.9 7z"/><path class="p31" d="M373.7 166.5l1.8-.5-1.4-.8-1.9 .5zM371.8 167l1.9-.5-1.5-.8-1.8 .6zM369.9 167.6l1.9-.6-1.4-.7-1.9 .5zM368.1 168.2l1.8-.6-1.4-.8-1.9 .6zM366.2 168.7l1.9-.5-1.5-.8-1.8 .6zM364.3 169.4l1.9-.7-1.4-.7-1.9 .6z"/><path class="p30" d="M362.5 171.8l1.8-2.4-1.4-.8-1.8 2.5z"/><path class="p23" d="M360.6 182.4l1.9-10.6-1.4-.7-1.9 10.6z"/><path class="p17" d="M356.9 192.3l1.8 3.1-1.4-.8-1.8-3z"/><path class="p25" d="M355 180.7l1.9 11.6-1.4-.7-1.9-11.7z"/><path class="p31" d="M349.4 173.8l1.9-.3-1.4-.8-1.9 .3zM347.6 174.3l1.8-.5-1.4-.8-1.9 .6zM345.7 174.9l1.9-.6-1.5-.7-1.8 .5zM343.8 175.5l1.9-.6-1.4-.8-1.9 .6zM342 176l1.8-.5-1.4-.8-1.9 .6zM340.1 176.6l1.9-.6-1.5-.7-1.8 .5zM338.2 177.1l1.9-.5-1.4-.8-1.9 .6zM336.4 177.7l1.8-.6-1.4-.7-1.9 .5zM334.5 178.3l1.9-.6-1.5-.8-1.8 .6zM332.6 178.8l1.9-.5-1.4-.8-1.9 .6zM330.8 179.4l1.8-.6-1.4-.7-1.8 .5zM328.9 180l1.9-.6-1.4-.8-1.9 .6zM386.3 163.9l1.8-.6-1.4-.7-1.8 .5zM384.4 164.5l1.9-.6-1.4-.8-1.9 .6z"/><path class="p28" d="M382.5 168.9l1.9-4.4-1.4-.8-1.9 4.4z"/><path class="p24" d="M380.7 175.8l1.8-6.9-1.4-.8-1.8 7z"/><path class="p31" d="M375.1 167.3l1.9-.6-1.5-.7-1.8 .5zM373.2 167.8l1.9-.5-1.4-.8-1.9 .5zM371.4 168.4l1.8-.6-1.4-.8-1.9 .6zM369.5 168.9l1.9-.5-1.5-.8-1.8 .6zM367.6 169.5l1.9-.6-1.4-.7-1.9 .5zM365.8 170.1l1.8-.6-1.4-.8-1.9 .7z"/><path class="p30" d="M363.9 172.6l1.9-2.5-1.5-.7-1.8 2.4z"/><path class="p23" d="M362 183.2l1.9-10.6-1.4-.8-1.9 10.6z"/><path class="p17" d="M358.3 193.1l1.9 3-1.5-.7-1.8-3.1z"/><path class="p25" d="M356.4 181.5l1.9 11.6-1.4-.8-1.9-11.6z"/><path class="p31" d="M350.9 174.6l1.8-.4-1.4-.7-1.9 .3zM349 175.1l1.9-.5-1.5-.8-1.8 .5zM347.1 175.7l1.9-.6-1.4-.8-1.9 .6zM345.3 176.2l1.8-.5-1.4-.8-1.9 .6zM343.4 176.8l1.9-.6-1.5-.7-1.8 .5zM341.5 177.4l1.9-.6-1.4-.8-1.9 .6zM339.7 177.9l1.8-.5-1.4-.8-1.9 .5zM337.8 178.5l1.9-.6-1.5-.8-1.8 .6zM335.9 179l1.9-.5-1.4-.8-1.9 .6zM334.1 179.6l1.8-.6-1.4-.7-1.9 .5zM332.2 180.2l1.9-.6-1.5-.8-1.8 .6zM330.3 180.7l1.9-.5-1.4-.8-1.9 .6zM387.7 164.7l1.9-.6-1.5-.8-1.8 .6zM385.8 165.3l1.9-.6-1.4-.8-1.9 .6z"/><path class="p28" d="M384 169.6l1.8-4.3-1.4-.8-1.9 4.4z"/><path class="p24" d="M382.1 176.6l1.9-7-1.5-.7-1.8 6.9z"/><path class="p31" d="M376.5 168l1.9-.5-1.4-.8-1.9 .6zM374.7 168.6l1.8-.6-1.4-.7-1.9 .5zM372.8 169.1l1.9-.5-1.5-.8-1.8 .6zM370.9 169.7l1.9-.6-1.4-.7-1.9 .5zM369.1 170.3l1.8-.6-1.4-.8-1.9 .6zM367.2 170.9l1.9-.6-1.5-.8-1.8 .6z"/><path class="p30" d="M365.3 173.4l1.9-2.5-1.4-.8-1.9 2.5z"/><path class="p23" d="M363.5 184l1.8-10.6-1.4-.8-1.9 10.6z"/><path class="p17" d="M359.7 193.9l1.9 3-1.4-.8-1.9-3z"/><path class="p25" d="M357.9 182.2l1.8 11.7-1.4-.8-1.9-11.6z"/><path class="p31" d="M354.1 175l1.9 1.1-1.4-.8-1.9-1.1zM352.3 175.3l1.8-.3-1.4-.8-1.8 .4zM350.4 175.9l1.9-.6-1.4-.7-1.9 .5zM348.5 176.4l1.9-.5-1.4-.8-1.9 .6zM346.7 177l1.8-.6-1.4-.7-1.8 .5zM344.8 177.6l1.9-.6-1.4-.8-1.9 .6zM343 178.1l1.8-.5-1.4-.8-1.9 .6zM341.1 178.7l1.9-.6-1.5-.7-1.8 .5zM339.2 179.2l1.9-.5-1.4-.8-1.9 .6zM337.4 179.8l1.8-.6-1.4-.7-1.9 .5zM335.5 180.4l1.9-.6-1.5-.8-1.8 .6zM333.6 180.9l1.9-.5-1.4-.8-1.9 .6zM331.8 181.5l1.8-.6-1.4-.7-1.9 .5zM389.1 165.4l1.9-.5-1.4-.8-1.9 .6zM387.3 166.1l1.8-.7-1.4-.7-1.9 .6z"/><path class="p28" d="M385.4 170.4l1.9-4.3-1.5-.8-1.8 4.3z"/><path class="p24" d="M383.5 177.4l1.9-7-1.4-.8-1.9 7z"/><path class="p29" d="M381.7 170l1.8 7.4-1.4-.8-1.9-7.4z"/><path class="p31" d="M377.9 168.8l1.9-.5-1.4-.8-1.9 .5zM376.1 169.3l1.8-.5-1.4-.8-1.8 .6zM374.2 169.9l1.9-.6-1.4-.7-1.9 .5zM372.3 170.5l1.9-.6-1.4-.8-1.9 .6zM370.5 171l1.8-.5-1.4-.8-1.8 .6zM368.6 171.7l1.9-.7-1.4-.7-1.9 .6z"/><path class="p30" d="M366.8 174.1l1.8-2.4-1.4-.8-1.9 2.5z"/><path class="p23" d="M364.9 184.8l1.9-10.7-1.5-.7-1.8 10.6z"/><path class="p17" d="M361.2 194.6l1.8 3.1-1.4-.8-1.9-3z"/><path class="p25" d="M359.3 183l1.9 11.6-1.5-.7-1.8-11.7z"/><path class="p31" d="M355.6 175.8l1.8 1-1.4-.7-1.9-1.1zM353.7 176.1l1.9-.3-1.5-.8-1.8 .3zM351.8 176.6l1.9-.5-1.4-.8-1.9 .6zM350 177.2l1.8-.6-1.4-.7-1.9 .5zM348.1 177.8l1.9-.6-1.5-.8-1.8 .6zM346.2 178.3l1.9-.5-1.4-.8-1.9 .6zM344.4 178.9l1.8-.6-1.4-.7-1.8 .5zM342.5 179.5l1.9-.6-1.4-.8-1.9 .6zM340.7 180l1.8-.5-1.4-.8-1.9 .5zM338.8 180.6l1.9-.6-1.5-.8-1.8 .6zM336.9 181.1l1.9-.5-1.4-.8-1.9 .6zM335.1 181.7l1.8-.6-1.4-.7-1.9 .5zM333.2 182.3l1.9-.6-1.5-.8-1.8 .6zM390.6 166.2l1.8-.6-1.4-.7-1.9 .5zM388.7 166.8l1.9-.6-1.5-.8-1.8 .7z"/><path class="p28" d="M386.8 171.2l1.9-4.4-1.4-.7-1.9 4.3z"/><path class="p24" d="M385 178.1l1.8-6.9-1.4-.8-1.9 7z"/><path class="p29" d="M383.1 170.8l1.9 7.3-1.5-.7-1.8-7.4z"/><path class="p31" d="M379.4 169.6l1.8-.6-1.4-.7-1.9 .5zM377.5 170.1l1.9-.5-1.5-.8-1.8 .5zM375.6 170.7l1.9-.6-1.4-.8-1.9 .6zM373.8 171.2l1.8-.5-1.4-.8-1.9 .6zM371.9 171.8l1.9-.6-1.5-.7-1.8 .5zM370 172.4l1.9-.6-1.4-.8-1.9 .7z"/><path class="p30" d="M368.2 174.9l1.8-2.5-1.4-.7-1.8 2.4z"/><path class="p23" d="M366.3 185.5l1.9-10.6-1.4-.8-1.9 10.7z"/><path class="p17" d="M362.6 195.4l1.9 3-1.5-.7-1.8-3.1z"/><path class="p25" d="M360.7 183.8l1.9 11.6-1.4-.8-1.9-11.6z"/><path class="p31" d="M357 176.5l1.9 1.1-1.5-.8-1.8-1zM355.1 176.9l1.9-.4-1.4-.7-1.9 .3zM353.3 177.4l1.8-.5-1.4-.8-1.9 .5zM351.4 178l1.9-.6-1.5-.8-1.8 .6zM349.5 178.5l1.9-.5-1.4-.8-1.9 .6zM347.7 179.1l1.8-.6-1.4-.7-1.9 .5zM345.8 179.7l1.9-.6-1.5-.8-1.8 .6zM343.9 180.2l1.9-.5-1.4-.8-1.9 .6zM342.1 180.8l1.8-.6-1.4-.7-1.8 .5zM340.2 181.3l1.9-.5-1.4-.8-1.9 .6zM338.3 181.9l1.9-.6-1.4-.7-1.9 .5zM336.5 182.5l1.8-.6-1.4-.8-1.8 .6zM334.6 183l1.9-.5-1.4-.8-1.9 .6zM392 167l1.8-.6-1.4-.8-1.8 .6zM390.1 167.6l1.9-.6-1.4-.8-1.9 .6z"/><path class="p28" d="M388.3 171.9l1.8-4.3-1.4-.8-1.9 4.4z"/><path class="p24" d="M386.4 178.9l1.9-7-1.5-.7-1.8 6.9z"/><path class="p29" d="M384.5 171.5l1.9 7.4-1.4-.8-1.9-7.3z"/><path class="p31" d="M380.8 170.3l1.9-.5-1.5-.8-1.8 .6zM378.9 170.9l1.9-.6-1.4-.7-1.9 .5zM377.1 171.4l1.8-.5-1.4-.8-1.9 .6zM375.2 172l1.9-.6-1.5-.7-1.8 .5zM373.3 172.6l1.9-.6-1.4-.8-1.9 .6zM371.5 173.2l1.8-.6-1.4-.8-1.9 .6z"/><path class="p30" d="M369.6 175.7l1.9-2.5-1.5-.8-1.8 2.5z"/><path class="p23" d="M367.7 186.3l1.9-10.6-1.4-.8-1.9 10.6z"/><path class="p17" d="M364 196.2l1.9 3-1.4-.8-1.9-3z"/><path class="p25" d="M362.1 184.5l1.9 11.7-1.4-.8-1.9-11.6z"/><path class="p30" d="M360.3 178.4l1.8 6.1-1.4-.7-1.8-6.2z"/><path class="p31" d="M358.4 177.3l1.9 1.1-1.4-.8-1.9-1.1zM356.6 177.6l1.8-.3-1.4-.8-1.9 .4zM354.7 178.2l1.9-.6-1.5-.7-1.8 .5zM352.8 178.7l1.9-.5-1.4-.8-1.9 .6zM351 179.3l1.8-.6-1.4-.7-1.9 .5zM349.1 179.9l1.9-.6-1.5-.8-1.8 .6zM347.2 180.4l1.9-.5-1.4-.8-1.9 .6zM345.4 181l1.8-.6-1.4-.7-1.9 .5zM343.5 181.5l1.9-.5-1.5-.8-1.8 .6zM341.6 182.1l1.9-.6-1.4-.7-1.9 .5zM339.8 182.7l1.8-.6-1.4-.8-1.9 .6zM337.9 183.2l1.9-.5-1.5-.8-1.8 .6zM336 183.8l1.9-.6-1.4-.7-1.9 .5zM393.4 167.7l1.9-.5-1.5-.8-1.8 .6zM391.5 168.4l1.9-.7-1.4-.7-1.9 .6z"/><path class="p28" d="M389.7 172.7l1.8-4.3-1.4-.8-1.8 4.3z"/><path class="p24" d="M387.8 179.7l1.9-7-1.4-.8-1.9 7z"/><path class="p29" d="M385.9 172.3l1.9 7.4-1.4-.8-1.9-7.4z"/><path class="p31" d="M382.2 171.1l1.9-.5-1.4-.8-1.9 .5zM380.4 171.7l1.8-.6-1.4-.8-1.9 .6zM378.5 172.2l1.9-.5-1.5-.8-1.8 .5zM376.6 172.8l1.9-.6-1.4-.8-1.9 .6zM374.8 173.3l1.8-.5-1.4-.8-1.9 .6zM372.9 174l1.9-.7-1.5-.7-1.8 .6z"/><path class="p30" d="M371 176.4l1.9-2.4-1.4-.8-1.9 2.5z"/><path class="p23" d="M369.2 187.1l1.8-10.7-1.4-.7-1.9 10.6z"/><path class="p17" d="M365.4 196.9l1.9 3.1-1.4-.8-1.9-3z"/><path class="p25" d="M363.6 185.3l1.8 11.6-1.4-.7-1.9-11.7z"/><path class="p30" d="M361.7 179.2l1.9 6.1-1.5-.8-1.8-6.1z"/><path class="p31" d="M359.8 178.1l1.9 1.1-1.4-.8-1.9-1.1zM358 178.4l1.8-.3-1.4-.8-1.8 .3zM356.1 178.9l1.9-.5-1.4-.8-1.9 .6zM354.3 179.5l1.8-.6-1.4-.7-1.9 .5zM352.4 180.1l1.9-.6-1.5-.8-1.8 .6zM350.5 180.6l1.9-.5-1.4-.8-1.9 .6zM348.7 181.2l1.8-.6-1.4-.7-1.9 .5zM346.8 181.8l1.9-.6-1.5-.8-1.8 .6zM344.9 182.3l1.9-.5-1.4-.8-1.9 .5zM343.1 182.9l1.8-.6-1.4-.8-1.9 .6zM341.2 183.4l1.9-.5-1.5-.8-1.8 .6zM339.3 184l1.9-.6-1.4-.7-1.9 .5zM337.5 184.6l1.8-.6-1.4-.8-1.9 .6zM394.8 168.5l1.9-.6-1.4-.7-1.9 .5zM393 169.1l1.8-.6-1.4-.8-1.9 .7z"/><path class="p28" d="M391.1 173.5l1.9-4.4-1.5-.7-1.8 4.3z"/><path class="p24" d="M389.2 180.4l1.9-6.9-1.4-.8-1.9 7z"/><path class="p29" d="M387.4 173.1l1.8 7.3-1.4-.7-1.9-7.4z"/><path class="p31" d="M383.6 171.9l1.9-.6-1.4-.7-1.9 .5zM381.8 172.4l1.8-.5-1.4-.8-1.8 .6zM379.9 173l1.9-.6-1.4-.7-1.9 .5zM378.1 173.5l1.8-.5-1.4-.8-1.9 .6zM376.2 174.1l1.9-.6-1.5-.7-1.8 .5zM374.3 174.7l1.9-.6-1.4-.8-1.9 .7z"/><path class="p30" d="M372.5 177.2l1.8-2.5-1.4-.7-1.9 2.4z"/><path class="p23" d="M370.6 187.8l1.9-10.6-1.5-.8-1.8 10.7z"/><path class="p17" d="M366.9 197.7l1.8 3-1.4-.7-1.9-3.1z"/><path class="p25" d="M365 186.1l1.9 11.6-1.5-.8-1.8-11.6z"/><path class="p30" d="M363.1 179.9l1.9 6.2-1.4-.8-1.9-6.1z"/><path class="p31" d="M361.3 178.8l1.8 1.1-1.4-.7-1.9-1.1zM359.4 179.2l1.9-.4-1.5-.7-1.8 .3zM357.5 179.7l1.9-.5-1.4-.8-1.9 .5zM355.7 180.3l1.8-.6-1.4-.8-1.8 .6zM353.8 180.8l1.9-.5-1.4-.8-1.9 .6zM351.9 181.4l1.9-.6-1.4-.7-1.9 .5zM350.1 182l1.8-.6-1.4-.8-1.8 .6zM348.2 182.5l1.9-.5-1.4-.8-1.9 .6zM346.4 183.1l1.8-.6-1.4-.7-1.9 .5zM344.5 183.6l1.9-.5-1.5-.8-1.8 .6zM342.6 184.2l1.9-.6-1.4-.7-1.9 .5zM340.8 184.8l1.8-.6-1.4-.8-1.9 .6zM338.9 185.3l1.9-.5-1.5-.8-1.8 .6zM396.3 169.3l1.8-.6-1.4-.8-1.9 .6zM394.4 169.9l1.9-.6-1.5-.8-1.8 .6z"/><path class="p28" d="M392.5 174.2l1.9-4.3-1.4-.8-1.9 4.4z"/><path class="p24" d="M390.7 181.2l1.8-7-1.4-.7-1.9 6.9z"/><path class="p29" d="M388.8 173.8l1.9 7.4-1.5-.8-1.8-7.3z"/><path class="p31" d="M385.1 172.6l1.8-.5-1.4-.8-1.9 .6zM383.2 173.2l1.9-.6-1.5-.7-1.8 .5zM381.3 173.7l1.9-.5-1.4-.8-1.9 .6zM379.5 174.3l1.8-.6-1.4-.7-1.8 .5zM377.6 174.9l1.9-.6-1.4-.8-1.9 .6zM375.7 175.5l1.9-.6-1.4-.8-1.9 .6z"/><path class="p30" d="M373.9 178l1.8-2.5-1.4-.8-1.8 2.5z"/><path class="p23" d="M372 188.6l1.9-10.6-1.4-.8-1.9 10.6z"/><path class="p14" d="M370.2 201.5l1.8-12.9-1.4-.8-1.9 12.9z"/><path class="p17" d="M368.3 198.5l1.9 3-1.5-.8-1.8-3z"/><path class="p25" d="M366.4 186.8l1.9 11.7-1.4-.8-1.9-11.6z"/><path class="p30" d="M364.6 180.7l1.8 6.1-1.4-.7-1.9-6.2z"/><path class="p31" d="M362.7 179.6l1.9 1.1-1.5-.8-1.8-1.1zM360.8 179.9l1.9-.3-1.4-.8-1.9 .4zM359 180.5l1.8-.6-1.4-.7-1.9 .5zM357.1 181l1.9-.5-1.5-.8-1.8 .6zM355.2 181.6l1.9-.6-1.4-.7-1.9 .5zM353.4 182.2l1.8-.6-1.4-.8-1.9 .6zM351.5 182.7l1.9-.5-1.5-.8-1.8 .6zM349.6 183.3l1.9-.6-1.4-.7-1.9 .5zM347.8 183.9l1.8-.6-1.4-.8-1.8 .6zM345.9 184.4l1.9-.5-1.4-.8-1.9 .5zM344.1 185l1.8-.6-1.4-.8-1.9 .6zM342.2 185.5l1.9-.5-1.5-.8-1.8 .6zM340.3 186.1l1.9-.6-1.4-.7-1.9 .5zM397.7 170l1.8-.5-1.4-.8-1.8 .6zM395.8 170.7l1.9-.7-1.4-.7-1.9 .6z"/><path class="p28" d="M394 175l1.8-4.3-1.4-.8-1.9 4.3z"/><path class="p24" d="M392.1 182l1.9-7-1.5-.8-1.8 7z"/><path class="p29" d="M390.2 174.6l1.9 7.4-1.4-.8-1.9-7.4z"/><path class="p31" d="M386.5 173.4l1.9-.5-1.5-.8-1.8 .5zM384.6 174l1.9-.6-1.4-.8-1.9 .6zM382.8 174.5l1.8-.5-1.4-.8-1.9 .5zM380.9 175.1l1.9-.6-1.5-.8-1.8 .6zM379 175.6l1.9-.5-1.4-.8-1.9 .6zM377.2 176.3l1.8-.7-1.4-.7-1.9 .6z"/><path class="p30" d="M375.3 178.7l1.9-2.4-1.5-.8-1.8 2.5z"/><path class="p23" d="M373.4 189.4l1.9-10.7-1.4-.7-1.9 10.6z"/><path class="p14" d="M371.6 202.3l1.8-12.9-1.4-.8-1.8 12.9z"/><path class="p17" d="M369.7 199.2l1.9 3.1-1.4-.8-1.9-3z"/><path class="p25" d="M367.9 187.6l1.8 11.6-1.4-.7-1.9-11.7z"/><path class="p30" d="M366 181.5l1.9 6.1-1.5-.8-1.8-6.1z"/><path class="p31" d="M364.1 180.4l1.9 1.1-1.4-.8-1.9-1.1zM362.3 180.7l1.8-.3-1.4-.8-1.9 .3zM360.4 181.3l1.9-.6-1.5-.8-1.8 .6zM358.5 181.8l1.9-.5-1.4-.8-1.9 .5zM356.7 182.4l1.8-.6-1.4-.8-1.9 .6zM354.8 182.9l1.9-.5-1.5-.8-1.8 .6zM352.9 183.5l1.9-.6-1.4-.7-1.9 .5zM351.1 184.1l1.8-.6-1.4-.8-1.9 .6zM349.2 184.6l1.9-.5-1.5-.8-1.8 .6zM347.3 185.2l1.9-.6-1.4-.7-1.9 .5zM345.5 185.7l1.8-.5-1.4-.8-1.8 .6zM343.6 186.3l1.9-.6-1.4-.7-1.9 .5zM341.7 186.9l1.9-.6-1.4-.8-1.9 .6zM399.1 170.8l1.9-.6-1.5-.7-1.8 .5zM397.2 171.4l1.9-.6-1.4-.8-1.9 .7z"/><path class="p28" d="M395.4 175.8l1.8-4.4-1.4-.7-1.8 4.3z"/><path class="p24" d="M393.5 182.7l1.9-6.9-1.4-.8-1.9 7z"/><path class="p29" d="M391.7 175.4l1.8 7.3-1.4-.7-1.9-7.4z"/><path class="p31" d="M389.8 173.6l1.9 1.8-1.5-.8-1.8-1.7zM387.9 174.2l1.9-.6-1.4-.7-1.9 .5zM386.1 174.7l1.8-.5-1.4-.8-1.9 .6zM384.2 175.3l1.9-.6-1.5-.7-1.8 .5zM382.3 175.8l1.9-.5-1.4-.8-1.9 .6zM380.5 176.4l1.8-.6-1.4-.7-1.9 .5zM378.6 177l1.9-.6-1.5-.8-1.8 .7z"/><path class="p30" d="M376.7 179.5l1.9-2.5-1.4-.7-1.9 2.4z"/><path class="p23" d="M374.9 190.1l1.8-10.6-1.4-.8-1.9 10.7z"/><path class="p14" d="M373 203l1.9-12.9-1.5-.7-1.8 12.9z"/><path class="p17" d="M371.1 200l1.9 3-1.4-.7-1.9-3.1z"/><path class="p25" d="M369.3 188.4l1.8 11.6-1.4-.8-1.8-11.6z"/><path class="p30" d="M367.4 182.2l1.9 6.2-1.4-.8-1.9-6.1z"/><path class="p31" d="M365.5 181.1l1.9 1.1-1.4-.7-1.9-1.1zM363.7 181.5l1.8-.4-1.4-.7-1.8 .3zM361.8 182l1.9-.5-1.4-.8-1.9 .6zM360 182.6l1.8-.6-1.4-.7-1.9 .5zM358.1 183.1l1.9-.5-1.5-.8-1.8 .6zM356.2 183.7l1.9-.6-1.4-.7-1.9 .5zM354.4 184.3l1.8-.6-1.4-.8-1.9 .6zM352.5 184.8l1.9-.5-1.5-.8-1.8 .6zM350.6 185.4l1.9-.6-1.4-.7-1.9 .5zM348.8 185.9l1.8-.5-1.4-.8-1.9 .6zM346.9 186.5l1.9-.6-1.5-.7-1.8 .5zM345 187.1l1.9-.6-1.4-.8-1.9 .6zM343.2 187.6l1.8-.5-1.4-.8-1.9 .6zM400.5 171.6l1.9-.6-1.4-.8-1.9 .6zM398.7 172.2l1.8-.6-1.4-.8-1.9 .6z"/><path class="p28" d="M396.8 176.5l1.9-4.3-1.5-.8-1.8 4.4z"/><path class="p24" d="M394.9 183.5l1.9-7-1.4-.7-1.9 6.9z"/><path class="p29" d="M393.1 176.1l1.8 7.4-1.4-.8-1.8-7.3z"/><path class="p31" d="M391.2 174.4l1.9 1.7-1.4-.7-1.9-1.8zM389.3 174.9l1.9-.5-1.4-.8-1.9 .6zM387.5 175.5l1.8-.6-1.4-.7-1.8 .5zM385.6 176.1l1.9-.6-1.4-.8-1.9 .6zM383.8 176.6l1.8-.5-1.4-.8-1.9 .5zM381.9 177.2l1.9-.6-1.5-.8-1.8 .6zM380 177.8l1.9-.6-1.4-.8-1.9 .6z"/><path class="p30" d="M378.2 180.3l1.8-2.5-1.4-.8-1.9 2.5z"/><path class="p23" d="M376.3 190.9l1.9-10.6-1.5-.8-1.8 10.6z"/><path class="p14" d="M374.4 203.8l1.9-12.9-1.4-.8-1.9 12.9z"/><path class="p17" d="M372.6 200.8l1.8 3-1.4-.8-1.9-3z"/><path class="p25" d="M370.7 189.1l1.9 11.7-1.5-.8-1.8-11.6z"/><path class="p30" d="M368.8 183l1.9 6.1-1.4-.7-1.9-6.2z"/><path class="p31" d="M367 181.9l1.8 1.1-1.4-.8-1.9-1.1zM365.1 182.2l1.9-.3-1.5-.8-1.8 .4zM363.2 182.8l1.9-.6-1.4-.7-1.9 .5zM361.4 183.3l1.8-.5-1.4-.8-1.8 .6zM359.5 183.9l1.9-.6-1.4-.7-1.9 .5zM357.7 184.5l1.8-.6-1.4-.8-1.9 .6zM355.8 185l1.9-.5-1.5-.8-1.8 .6zM353.9 185.6l1.9-.6-1.4-.7-1.9 .5zM352.1 186.2l1.8-.6-1.4-.8-1.9 .6zM350.2 186.7l1.9-.5-1.5-.8-1.8 .5zM348.3 187.3l1.9-.6-1.4-.8-1.9 .6zM346.5 187.8l1.8-.5-1.4-.8-1.9 .6zM344.6 188.4l1.9-.6-1.5-.7-1.8 .5z"/></g>
<path d="M344.6 238.9L402.4 221.5M344.6 238.9L300.4 215.1M300.4 215.1L300.4 164.6M344.6 238.9L343.5 238.31M363.25 233.29L362.14 232.69M381.89 227.67L380.79 227.08M400.54 222.06L399.43 221.47M344.6 238.9L346.05 238.47M330.34 231.22L331.79 230.79M316.08 223.55L317.53 223.11M301.83 215.87L303.27 215.43M300.4 215.1L301.56 214.75M300.4 202.47L301.56 202.13M300.4 189.85L301.56 189.5M300.4 177.22L301.56 176.88M300.4 164.6L301.56 164.25" stroke="#555" stroke-width="0.4" fill="none"/>
<text x="351.3" y="146.86" font-size="4.6" text-anchor="middle" fill="#3a3a3a" >Parameter space</text>
<text x="298" y="165.94" font-size="4.55" text-anchor="end" fill="#3a3a3a" >0</text>
<text x="298" y="178.64" font-size="4.55" text-anchor="end" fill="#3a3a3a" >−0.5</text>
<text x="298" y="191.34" font-size="4.55" text-anchor="end" fill="#3a3a3a" >−1</text>
<text x="298" y="204.24" font-size="4.55" text-anchor="end" fill="#3a3a3a" >−1.5</text>
<text x="298" y="215.84" font-size="4.55" text-anchor="end" fill="#3a3a3a" >−2</text>
<text x="297.4" y="221.54" font-size="4.55" text-anchor="middle" fill="#3a3a3a" >3</text>
<text x="312.7" y="229.74" font-size="4.55" text-anchor="middle" fill="#3a3a3a" >2</text>
<text x="328" y="237.34" font-size="4.55" text-anchor="middle" fill="#3a3a3a" >1</text>
<text x="341.4" y="244.44" font-size="4.55" text-anchor="middle" fill="#3a3a3a" >0</text>
<text x="348.8" y="244.44" font-size="4.55" text-anchor="middle" fill="#3a3a3a" >0</text>
<text x="367.4" y="239.34" font-size="4.55" text-anchor="middle" fill="#3a3a3a" >1</text>
<text x="385.7" y="233.54" font-size="4.55" text-anchor="middle" fill="#3a3a3a" >2</text>
<text x="405.3" y="227.14" font-size="4.55" text-anchor="middle" fill="#3a3a3a" >3</text>
<text x="322" y="245.18" font-size="4.95" text-anchor="middle" fill="#3a3a3a" >x<tspan font-size="3.4" dy="1.3">2</tspan></text>
<text x="369.7" y="247.18" font-size="4.95" text-anchor="middle" fill="#3a3a3a" >x<tspan font-size="3.4" dy="1.3">1</tspan></text>
<text transform="translate(284.7 190) rotate(-90)" font-size="5.0" word-spacing="0.6" text-anchor="middle" fill="#3a3a3a">F28( x<tspan font-size="3.4" dy="1.3">1</tspan><tspan dy="-1.3"> , x</tspan><tspan font-size="3.4" dy="1.3">2</tspan><tspan dy="-1.3"> )</tspan></text>
</g>
<g>
<rect x="161.2" y="15.2" width="107.2" height="92.7" fill="#fff"/>
<path d="M161.2 18.23H268.4M161.2 23.34H268.4M161.2 28.24H268.4M161.2 32.93H268.4M161.2 37.44H268.4M161.2 41.78H268.4M161.2 45.96H268.4M161.2 50H268.4M161.2 53.9H268.4M161.2 57.67H268.4M161.2 61.32H268.4M161.2 64.86H268.4M161.2 68.29H268.4M161.2 71.62H268.4M161.2 74.86H268.4M161.2 78.02H268.4M161.2 81.08H268.4M161.2 84.07H268.4M161.2 86.98H268.4M161.2 89.82H268.4M161.2 92.59H268.4M161.2 95.3H268.4M161.2 97.94H268.4M161.2 100.53H268.4M161.2 103.05H268.4M161.2 105.53H268.4" stroke="#e9e9e9" stroke-width="0.4" fill="none"/>
<path d="M182.48 15.2V107.9M203.96 15.2V107.9M225.44 15.2V107.9M246.92 15.2V107.9" stroke="#dadada" stroke-width="0.45" fill="none"/>
<rect x="161.2" y="15.2" width="107.2" height="92.7" fill="none" stroke="#4a4a4a" stroke-width="0.5"/>
<path d="M182.48 107.9v-1.2M182.48 15.2v1.2M203.96 107.9v-1.2M203.96 15.2v1.2M225.44 107.9v-1.2M225.44 15.2v1.2M246.92 107.9v-1.2M246.92 15.2v1.2M268.4 107.9v-1.2M268.4 15.2v1.2M161.2 32.93h1.2M268.4 32.93h-1.2M161.2 53.9h1.2M268.4 53.9h-1.2M161.2 71.62h1.2M268.4 71.62h-1.2M161.2 86.98h1.2M268.4 86.98h-1.2M161.2 100.53h1.2M268.4 100.53h-1.2" stroke="#4a4a4a" stroke-width="0.4" fill="none"/>
<path d="M162.2 15.2 162.3 93 163.5 98 166 99.7 268.4 99.7" fill="none" stroke="#e8262b" stroke-width="1.15" stroke-linejoin="round"/>
<path d="M163.2 70 163.6 83.8 166 84.5 268.4 84.5" fill="none" stroke="#2b33e0" stroke-width="1.15" stroke-linejoin="round"/>
<path d="M163.2 80 163.8 89.3 268.4 89.5" fill="none" stroke="#f7f21a" stroke-width="1.15" stroke-linejoin="round"/>
<path d="M163.1 63 163.3 94 164.5 98.6 166.5 100.2 268.4 100.2" fill="none" stroke="#2b2b2b" stroke-width="0.95" stroke-linejoin="round"/>
<path d="M163.9 75 164.1 95 165 99 167 100 176.6 100 176.9 107.5 268.4 107.5" fill="none" stroke="#2fe83a" stroke-width="1.15" stroke-linejoin="round"/>
<text x="182.48" y="114.34" font-size="4.55" text-anchor="middle" fill="#3a3a3a" >100</text>
<text x="203.96" y="114.34" font-size="4.55" text-anchor="middle" fill="#3a3a3a" >200</text>
<text x="225.44" y="114.34" font-size="4.55" text-anchor="middle" fill="#3a3a3a" >300</text>
<text x="246.92" y="114.34" font-size="4.55" text-anchor="middle" fill="#3a3a3a" >400</text>
<text x="268.4" y="114.34" font-size="4.55" text-anchor="middle" fill="#3a3a3a" >500</text>
<text x="159.9" y="33.94" font-size="4.55" text-anchor="end" fill="#3a3a3a" >−500</text>
<text x="159.9" y="54.64" font-size="4.55" text-anchor="end" fill="#3a3a3a" >−600</text>
<text x="159.9" y="73.14" font-size="4.55" text-anchor="end" fill="#3a3a3a" >−700</text>
<text x="159.9" y="87.84" font-size="4.55" text-anchor="end" fill="#3a3a3a" >−800</text>
<text x="159.9" y="101.64" font-size="4.55" text-anchor="end" fill="#3a3a3a" >−900</text>
<text x="214.8" y="120.78" font-size="4.95" text-anchor="middle" fill="#3a3a3a" >iteration</text>
<text transform="translate(148.5 61.55) rotate(-90)" font-size="4.95" text-anchor="middle" fill="#3a3a3a">fitness</text>
<rect x="237.2" y="18.2" width="27.4" height="29.5" fill="#fff" stroke="#555" stroke-width="0.45"/>
<line x1="239" y1="22.3" x2="251.5" y2="22.3" stroke="#e8262b" stroke-width="1.1"/>
<text x="253" y="23.87" font-size="4.35" text-anchor="start" fill="#3a3a3a" >GWO</text>
<line x1="239" y1="27.75" x2="251.5" y2="27.75" stroke="#2b33e0" stroke-width="1.1"/>
<text x="253" y="29.32" font-size="4.35" text-anchor="start" fill="#3a3a3a" >PSO</text>
<line x1="239" y1="33.2" x2="251.5" y2="33.2" stroke="#f7f21a" stroke-width="1.1"/>
<text x="253" y="34.77" font-size="4.35" text-anchor="start" fill="#3a3a3a" >SSA</text>
<line x1="239" y1="38.65" x2="251.5" y2="38.65" stroke="#2b2b2b" stroke-width="1.1"/>
<text x="253" y="40.22" font-size="4.35" text-anchor="start" fill="#3a3a3a" >MFO</text>
<line x1="239" y1="44.1" x2="251.5" y2="44.1" stroke="#2fe83a" stroke-width="1.1"/>
<text x="253" y="45.67" font-size="4.35" text-anchor="start" fill="#3a3a3a" >ISSA</text>
</g>
<g>
<rect x="428.4" y="15.4" width="111.2" height="96.3" fill="#fff"/>
<path d="M428.4 15.54H539.6M428.4 21.59H539.6M428.4 27.37H539.6M428.4 32.9H539.6M428.4 38.21H539.6M428.4 43.31H539.6M428.4 48.21H539.6M428.4 52.94H539.6M428.4 57.5H539.6M428.4 61.91H539.6M428.4 66.17H539.6M428.4 70.3H539.6M428.4 74.3H539.6M428.4 78.18H539.6M428.4 81.95H539.6M428.4 85.61H539.6M428.4 89.17H539.6M428.4 92.64H539.6M428.4 96.02H539.6M428.4 99.31H539.6M428.4 102.52H539.6M428.4 105.65H539.6M428.4 108.71H539.6" stroke="#e9e9e9" stroke-width="0.4" fill="none"/>
<path d="M450.4 15.4V111.7M472.7 15.4V111.7M495 15.4V111.7M517.3 15.4V111.7" stroke="#dadada" stroke-width="0.45" fill="none"/>
<rect x="428.4" y="15.4" width="111.2" height="96.3" fill="none" stroke="#4a4a4a" stroke-width="0.5"/>
<path d="M450.4 111.7v-1.2M450.4 15.4v1.2M472.7 111.7v-1.2M472.7 15.4v1.2M495 111.7v-1.2M495 15.4v1.2M517.3 111.7v-1.2M517.3 15.4v1.2M539.6 111.7v-1.2M539.6 15.4v1.2M428.4 32.9h1.2M539.6 32.9h-1.2M428.4 52.94h1.2M539.6 52.94h-1.2M428.4 70.3h1.2M539.6 70.3h-1.2M428.4 85.61h1.2M539.6 85.61h-1.2M428.4 99.31h1.2M539.6 99.31h-1.2M428.4 111.7h1.2M539.6 111.7h-1.2" stroke="#4a4a4a" stroke-width="0.4" fill="none"/>
<path d="M428 71 428 92.8 430.5 92.8" fill="none" stroke="#f7f21a" stroke-width="1.15" stroke-linejoin="round"/>
<path d="M428.7 30 428.8 86 430.3 86.2 431 91.5 433.3 92.5 539.6 92.5" fill="none" stroke="#2b33e0" stroke-width="1.15" stroke-linejoin="round"/>
<path d="M428.5 15.4 428.6 80 430.3 88 432.2 90.6 435 91.1 452.4 91.2 455.5 92.4 539.6 92.4" fill="none" stroke="#e8262b" stroke-width="1.15" stroke-linejoin="round"/>
<path d="M428.7 15.4 428.8 86 430.3 86.2 431 91.5 433.3 92.5 539.6 92.5" fill="none" stroke="#2b2b2b" stroke-width="0.95" stroke-linejoin="round"/>
<path d="M428.8 111.2 539.6 111.2" fill="none" stroke="#2fe83a" stroke-width="1.15" stroke-linejoin="round"/>
<text x="450.4" y="118.24" font-size="4.55" text-anchor="middle" fill="#3a3a3a" >100</text>
<text x="472.7" y="118.24" font-size="4.55" text-anchor="middle" fill="#3a3a3a" >200</text>
<text x="495" y="118.24" font-size="4.55" text-anchor="middle" fill="#3a3a3a" >300</text>
<text x="517.3" y="118.24" font-size="4.55" text-anchor="middle" fill="#3a3a3a" >400</text>
<text x="539.6" y="118.24" font-size="4.55" text-anchor="middle" fill="#3a3a3a" >500</text>
<text x="425.9" y="34.04" font-size="4.55" text-anchor="end" fill="#3a3a3a" >−12</text>
<text x="425.9" y="51.94" font-size="4.55" text-anchor="end" fill="#3a3a3a" >−14</text>
<text x="425.9" y="71.94" font-size="4.55" text-anchor="end" fill="#3a3a3a" >−16</text>
<text x="425.9" y="85.94" font-size="4.55" text-anchor="end" fill="#3a3a3a" >−18</text>
<text x="425.9" y="99.84" font-size="4.55" text-anchor="end" fill="#3a3a3a" >−20</text>
<text x="425.9" y="112.54" font-size="4.55" text-anchor="end" fill="#3a3a3a" >−22</text>
<text x="484" y="125.38" font-size="4.95" text-anchor="middle" fill="#3a3a3a" >iteration</text>
<text transform="translate(417.9 63.55) rotate(-90)" font-size="4.95" text-anchor="middle" fill="#3a3a3a">fitness</text>
<rect x="508.4" y="18.4" width="27.4" height="29.5" fill="#fff" stroke="#555" stroke-width="0.45"/>
<line x1="510.2" y1="22.5" x2="522.7" y2="22.5" stroke="#e8262b" stroke-width="1.1"/>
<text x="524.2" y="24.07" font-size="4.35" text-anchor="start" fill="#3a3a3a" >GWO</text>
<line x1="510.2" y1="27.95" x2="522.7" y2="27.95" stroke="#2b33e0" stroke-width="1.1"/>
<text x="524.2" y="29.52" font-size="4.35" text-anchor="start" fill="#3a3a3a" >PSO</text>
<line x1="510.2" y1="33.4" x2="522.7" y2="33.4" stroke="#f7f21a" stroke-width="1.1"/>
<text x="524.2" y="34.97" font-size="4.35" text-anchor="start" fill="#3a3a3a" >SSA</text>
<line x1="510.2" y1="38.85" x2="522.7" y2="38.85" stroke="#2b2b2b" stroke-width="1.1"/>
<text x="524.2" y="40.42" font-size="4.35" text-anchor="start" fill="#3a3a3a" >MFO</text>
<line x1="510.2" y1="44.3" x2="522.7" y2="44.3" stroke="#2fe83a" stroke-width="1.1"/>
<text x="524.2" y="45.87" font-size="4.35" text-anchor="start" fill="#3a3a3a" >ISSA</text>
</g>
<g>
<rect x="158.8" y="143.7" width="106.9" height="94" fill="#fff"/>
<path d="M158.8 144.52H265.7M158.8 150.46H265.7M158.8 156.04H265.7M158.8 161.29H265.7M158.8 166.27H265.7M158.8 170.99H265.7M158.8 175.48H265.7M158.8 179.76H265.7M158.8 183.85H265.7M158.8 187.76H265.7M158.8 191.52H265.7M158.8 195.13H265.7M158.8 198.6H265.7M158.8 201.94H265.7M158.8 205.17H265.7M158.8 208.29H265.7M158.8 211.31H265.7M158.8 214.23H265.7M158.8 217.06H265.7M158.8 219.81H265.7M158.8 222.47H265.7M158.8 225.06H265.7M158.8 227.59H265.7M158.8 230.04H265.7M158.8 232.43H265.7M158.8 234.76H265.7M158.8 237.03H265.7" stroke="#e9e9e9" stroke-width="0.4" fill="none"/>
<path d="M179.7 143.7V237.7M201.2 143.7V237.7M222.7 143.7V237.7M244.2 143.7V237.7" stroke="#dadada" stroke-width="0.45" fill="none"/>
<rect x="158.8" y="143.7" width="106.9" height="94" fill="none" stroke="#4a4a4a" stroke-width="0.5"/>
<path d="M179.7 237.7v-1.2M179.7 143.7v1.2M201.2 237.7v-1.2M201.2 143.7v1.2M222.7 237.7v-1.2M222.7 143.7v1.2M244.2 237.7v-1.2M244.2 143.7v1.2M265.7 237.7v-1.2M265.7 143.7v1.2M158.8 144.52h1.2M265.7 144.52h-1.2M158.8 170.99h1.2M265.7 170.99h-1.2M158.8 208.29h1.2M265.7 208.29h-1.2M158.8 222.47h1.2M265.7 222.47h-1.2M158.8 234.76h1.2M265.7 234.76h-1.2" stroke="#4a4a4a" stroke-width="0.4" fill="none"/>
<path d="M233.3 226.9 233.8 226.6 265.7 226.6" fill="none" stroke="#e8262b" stroke-width="1.15" stroke-linejoin="round"/>
<path d="M160 200 160.2 226 162 226.9 233.3 226.9 233.8 227.6 265.7 227.6" fill="none" stroke="#2b33e0" stroke-width="1.15" stroke-linejoin="round"/>
<path d="M158.9 143.7 158.9 170 159 200" fill="none" stroke="#f7f21a" stroke-width="1.15" stroke-linejoin="round"/>
<path d="M159.4 177 159.6 225.6 163.3 226.7 164.9 228.4 167.1 229.5 168.7 231.1 170 231.4 265.7 231.4" fill="none" stroke="#2b2b2b" stroke-width="0.95" stroke-linejoin="round"/>
<path d="M158.8 168 158.8 230.5 160.5 231.6 161.6 234.9 163.8 236.5 166 237.3 265.7 237.3" fill="none" stroke="#2fe83a" stroke-width="1.15" stroke-linejoin="round"/>
<text x="179.7" y="244.44" font-size="4.55" text-anchor="middle" fill="#3a3a3a" >100</text>
<text x="201.2" y="244.44" font-size="4.55" text-anchor="middle" fill="#3a3a3a" >200</text>
<text x="222.7" y="244.44" font-size="4.55" text-anchor="middle" fill="#3a3a3a" >300</text>
<text x="244.2" y="244.44" font-size="4.55" text-anchor="middle" fill="#3a3a3a" >400</text>
<text x="265.7" y="244.44" font-size="4.55" text-anchor="middle" fill="#3a3a3a" >500</text>
<text x="155.9" y="145.54" font-size="4.55" text-anchor="end" fill="#3a3a3a" >−1.5</text>
<text x="155.9" y="171.64" font-size="4.55" text-anchor="end" fill="#3a3a3a" >−2</text>
<text x="155.9" y="208.84" font-size="4.55" text-anchor="end" fill="#3a3a3a" >−3</text>
<text x="155.9" y="222.84" font-size="4.55" text-anchor="end" fill="#3a3a3a" >−3.5</text>
<text x="155.9" y="236.04" font-size="4.55" text-anchor="end" fill="#3a3a3a" >−4</text>
<text x="212.25" y="250.78" font-size="4.95" text-anchor="middle" fill="#3a3a3a" >iteration</text>
<text transform="translate(147.2 190.7) rotate(-90)" font-size="4.95" text-anchor="middle" fill="#3a3a3a">fitness</text>
<rect x="234.5" y="146.7" width="27.4" height="29.5" fill="#fff" stroke="#555" stroke-width="0.45"/>
<line x1="236.3" y1="150.8" x2="248.8" y2="150.8" stroke="#e8262b" stroke-width="1.1"/>
<text x="250.3" y="152.37" font-size="4.35" text-anchor="start" fill="#3a3a3a" >GWO</text>
<line x1="236.3" y1="156.25" x2="248.8" y2="156.25" stroke="#2b33e0" stroke-width="1.1"/>
<text x="250.3" y="157.82" font-size="4.35" text-anchor="start" fill="#3a3a3a" >PSO</text>
<line x1="236.3" y1="161.7" x2="248.8" y2="161.7" stroke="#f7f21a" stroke-width="1.1"/>
<text x="250.3" y="163.27" font-size="4.35" text-anchor="start" fill="#3a3a3a" >SSA</text>
<line x1="236.3" y1="167.15" x2="248.8" y2="167.15" stroke="#2b2b2b" stroke-width="1.1"/>
<text x="250.3" y="168.72" font-size="4.35" text-anchor="start" fill="#3a3a3a" >MFO</text>
<line x1="236.3" y1="172.6" x2="248.8" y2="172.6" stroke="#2fe83a" stroke-width="1.1"/>
<text x="250.3" y="174.17" font-size="4.35" text-anchor="start" fill="#3a3a3a" >ISSA</text>
</g>
<g>
<rect x="428.7" y="144.5" width="112.6" height="98.2" fill="#fff"/>
<path d="M428.7 147.92H541.3M428.7 151.68H541.3M428.7 155.31H541.3M428.7 158.8H541.3M428.7 162.17H541.3M428.7 165.42H541.3M428.7 168.57H541.3M428.7 171.62H541.3M428.7 174.57H541.3M428.7 177.44H541.3M428.7 180.22H541.3M428.7 182.92H541.3M428.7 185.55H541.3M428.7 188.11H541.3M428.7 190.61H541.3M428.7 193.04H541.3M428.7 195.41H541.3M428.7 197.72H541.3M428.7 199.98H541.3M428.7 202.19H541.3M428.7 204.35H541.3M428.7 206.46H541.3M428.7 208.52H541.3M428.7 210.54H541.3M428.7 212.52H541.3M428.7 214.46H541.3M428.7 216.36H541.3M428.7 218.23H541.3M428.7 220.05H541.3M428.7 221.85H541.3M428.7 223.61H541.3M428.7 225.34H541.3M428.7 227.04H541.3M428.7 228.71H541.3M428.7 230.35H541.3M428.7 231.96H541.3M428.7 233.55H541.3M428.7 235.11H541.3M428.7 236.65H541.3M428.7 238.16H541.3M428.7 239.65H541.3M428.7 241.11H541.3M428.7 242.56H541.3" stroke="#e9e9e9" stroke-width="0.4" fill="none"/>
<path d="M451.06 144.5V242.7M473.62 144.5V242.7M496.18 144.5V242.7M518.74 144.5V242.7" stroke="#dadada" stroke-width="0.45" fill="none"/>
<rect x="428.7" y="144.5" width="112.6" height="98.2" fill="none" stroke="#4a4a4a" stroke-width="0.5"/>
<path d="M451.06 242.7v-1.2M451.06 144.5v1.2M473.62 242.7v-1.2M473.62 144.5v1.2M496.18 242.7v-1.2M496.18 144.5v1.2M518.74 242.7v-1.2M518.74 144.5v1.2M541.3 242.7v-1.2M541.3 144.5v1.2M428.7 147.92h1.2M541.3 147.92h-1.2M428.7 165.42h1.2M541.3 165.42h-1.2M428.7 180.22h1.2M541.3 180.22h-1.2M428.7 193.04h1.2M541.3 193.04h-1.2M428.7 204.35h1.2M541.3 204.35h-1.2M428.7 214.46h1.2M541.3 214.46h-1.2M428.7 223.61h1.2M541.3 223.61h-1.2M428.7 231.96h1.2M541.3 231.96h-1.2M428.7 239.65h1.2M541.3 239.65h-1.2" stroke="#4a4a4a" stroke-width="0.4" fill="none"/>
<path d="M430.5 183 430.5 187.2 434.9 187.2 435.5 193.2 440.4 193.2 440.4 200.3 475.3 200.3 475.3 214.8 512.6 214.8 514.4 218.2 519.5 218.2 520.7 220.7 522 220.7 522.6 229.6 524.5 229.6 525.2 232.6 532.2 232.6 541.1 234.3" fill="none" stroke="#e8262b" stroke-width="1.15" stroke-linejoin="round"/>
<path d="M430 165 431.6 178 433 184 434.4 195.9 435.5 202.5 436.5 204.6 436.9 216.9 442 219.1 442.5 222.4 449.1 225.1 450.2 228.4 453.5 229.5 453.7 234.9 456 236.5 504.2 236.6 504.6 238.1 541.1 238.2" fill="none" stroke="#2b33e0" stroke-width="1.15" stroke-linejoin="round"/>
<path d="M428.6 157 428.8 175 431 186 433.3 197 434.9 199.2 440.4 200.3 441.5 204.1 443.6 204.6 444.4 214 444.7 216.4 446.9 219.1 471.5 219.5 472 232.2 473 232.9 541.1 233.5" fill="none" stroke="#f7f21a" stroke-width="1.15" stroke-linejoin="round"/>
<path d="M428.9 144.5 428.9 161.8 430.2 163 431 172 432 180 434.4 185 437.6 190.5 438 203.5 438.7 206.8 439.3 214.5 440.4 218.5 440.9 224 445.8 227.3 448.5 231.6 450.2 235.5 452.4 238.2 457.8 241.5 460 242.1 541.1 242.1" fill="none" stroke="#2b2b2b" stroke-width="0.95" stroke-linejoin="round"/>
<path d="M429.5 162 429.8 185 430.6 205 431.1 212 431.4 218.5 433.3 221.3 437.6 221.8 439.3 226.2 440.4 233.8 442 235.5 443 236 473.6 236 473.6 240.9 503 240.9 504 241.5 541.1 241.5" fill="none" stroke="#2fe83a" stroke-width="1.15" stroke-linejoin="round"/>
<text x="451.06" y="249.34" font-size="4.55" text-anchor="middle" fill="#3a3a3a" >100</text>
<text x="473.62" y="249.34" font-size="4.55" text-anchor="middle" fill="#3a3a3a" >200</text>
<text x="496.18" y="249.34" font-size="4.55" text-anchor="middle" fill="#3a3a3a" >300</text>
<text x="518.74" y="249.34" font-size="4.55" text-anchor="middle" fill="#3a3a3a" >400</text>
<text x="541.3" y="249.34" font-size="4.55" text-anchor="middle" fill="#3a3a3a" >500</text>
<text x="426.5" y="148.94" font-size="4.55" text-anchor="end" fill="#3a3a3a" >−2.5</text>
<text x="426.5" y="166.14" font-size="4.55" text-anchor="end" fill="#3a3a3a" >−3</text>
<text x="426.5" y="181.14" font-size="4.55" text-anchor="end" fill="#3a3a3a" >−3.5</text>
<text x="426.5" y="192.64" font-size="4.55" text-anchor="end" fill="#3a3a3a" >−4</text>
<text x="426.5" y="204.14" font-size="4.55" text-anchor="end" fill="#3a3a3a" >−4.5</text>
<text x="426.5" y="214.44" font-size="4.55" text-anchor="end" fill="#3a3a3a" >−5</text>
<text x="426.5" y="224.14" font-size="4.55" text-anchor="end" fill="#3a3a3a" >−5.5</text>
<text x="426.5" y="232.24" font-size="4.55" text-anchor="end" fill="#3a3a3a" >−6</text>
<text x="426.5" y="240.44" font-size="4.55" text-anchor="end" fill="#3a3a3a" >−6.5</text>
<text x="485" y="255.78" font-size="4.95" text-anchor="middle" fill="#3a3a3a" >iteration</text>
<text transform="translate(416.5 193.6) rotate(-90)" font-size="4.95" text-anchor="middle" fill="#3a3a3a">fitness</text>
<rect x="510.1" y="147.5" width="27.4" height="29.5" fill="#fff" stroke="#555" stroke-width="0.45"/>
<line x1="511.9" y1="151.6" x2="524.4" y2="151.6" stroke="#e8262b" stroke-width="1.1"/>
<text x="525.9" y="153.17" font-size="4.35" text-anchor="start" fill="#3a3a3a" >GWO</text>
<line x1="511.9" y1="157.05" x2="524.4" y2="157.05" stroke="#2b33e0" stroke-width="1.1"/>
<text x="525.9" y="158.62" font-size="4.35" text-anchor="start" fill="#3a3a3a" >PSO</text>
<line x1="511.9" y1="162.5" x2="524.4" y2="162.5" stroke="#f7f21a" stroke-width="1.1"/>
<text x="525.9" y="164.07" font-size="4.35" text-anchor="start" fill="#3a3a3a" >SSA</text>
<line x1="511.9" y1="167.95" x2="524.4" y2="167.95" stroke="#2b2b2b" stroke-width="1.1"/>
<text x="525.9" y="169.52" font-size="4.35" text-anchor="start" fill="#3a3a3a" >MFO</text>
<line x1="511.9" y1="173.4" x2="524.4" y2="173.4" stroke="#2fe83a" stroke-width="1.1"/>
<text x="525.9" y="174.97" font-size="4.35" text-anchor="start" fill="#3a3a3a" >ISSA</text>
</g>
<text x="141.1" y="131.4" font-family="Liberation Serif, serif" font-weight="bold" font-size="7.1" text-anchor="middle" fill="#111" style="stroke:#111;stroke-width:.22px" textLength="78" lengthAdjust="spacingAndGlyphs">(a) F24 convergence curve</text>
<text x="414.2" y="132.5" font-family="Liberation Serif, serif" font-weight="bold" font-size="7.1" text-anchor="middle" fill="#111" style="stroke:#111;stroke-width:.22px" textLength="78.6" lengthAdjust="spacingAndGlyphs">(b) F25 convergence curve</text>
<text x="140.9" y="266.5" font-family="Liberation Serif, serif" font-weight="bold" font-size="7.1" text-anchor="middle" fill="#111" style="stroke:#111;stroke-width:.22px" textLength="78" lengthAdjust="spacingAndGlyphs">(c) F26 convergence curve</text>
<text x="419.6" y="268.1" font-family="Liberation Serif, serif" font-weight="bold" font-size="7.1" text-anchor="middle" fill="#111" style="stroke:#111;stroke-width:.22px" textLength="78.8" lengthAdjust="spacingAndGlyphs">(d) F28 convergence curve</text></g></svg></body></html>
